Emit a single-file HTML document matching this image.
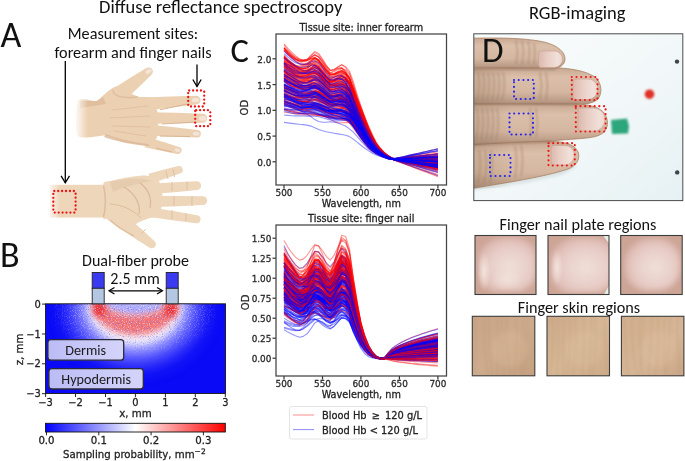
<!DOCTYPE html>
<html><head><meta charset="utf-8"><style>
html,body{margin:0;padding:0;background:#fff;width:685px;height:461px;overflow:hidden}
svg{display:block}
</style></head><body>
<svg width="685" height="461" viewBox="0 0 685 461">
<text x="99" y="12.6" font-size="18.5" text-anchor="start" fill="#111" style="font-family:Carlito,'Liberation Sans',sans-serif"  textLength="243.36" lengthAdjust="spacingAndGlyphs">Diffuse reflectance spectroscopy</text>
<text x="529" y="18.6" font-size="18.5" text-anchor="start" fill="#111" style="font-family:Carlito,'Liberation Sans',sans-serif"  textLength="96.55" lengthAdjust="spacingAndGlyphs">RGB-imaging</text>
<text x="0.5" y="46.8" font-size="36" text-anchor="start" fill="#111" style="font-family:Carlito,'Liberation Sans',sans-serif" >A</text>
<text x="0" y="266.7" font-size="36" text-anchor="start" fill="#111" style="font-family:Carlito,'Liberation Sans',sans-serif" >B</text>
<text x="230.5" y="62.3" font-size="34.5" text-anchor="start" fill="#111" style="font-family:Carlito,'Liberation Sans',sans-serif" >C</text>
<text x="133" y="38.5" font-size="16.2" text-anchor="middle" fill="#111" style="font-family:Carlito,'Liberation Sans',sans-serif"  textLength="130.41" lengthAdjust="spacingAndGlyphs">Measurement sites:</text>
<text x="133" y="57.6" font-size="16.2" text-anchor="middle" fill="#111" style="font-family:Carlito,'Liberation Sans',sans-serif"  textLength="156.97" lengthAdjust="spacingAndGlyphs">forearm and finger nails</text>
<text x="135.5" y="266.3" font-size="16" text-anchor="middle" fill="#111" style="font-family:Carlito,'Liberation Sans',sans-serif"  textLength="106.91" lengthAdjust="spacingAndGlyphs">Dual-fiber probe</text>
<text x="135" y="283.8" font-size="16" text-anchor="middle" fill="#111" style="font-family:Carlito,'Liberation Sans',sans-serif"  textLength="49.44" lengthAdjust="spacingAndGlyphs">2.5 mm</text>
<text x="578" y="229.7" font-size="16.2" text-anchor="middle" fill="#111" style="font-family:Carlito,'Liberation Sans',sans-serif"  textLength="156.83" lengthAdjust="spacingAndGlyphs">Finger nail plate regions</text>
<text x="579" y="313.1" font-size="16.2" text-anchor="middle" fill="#111" style="font-family:Carlito,'Liberation Sans',sans-serif"  textLength="122.27" lengthAdjust="spacingAndGlyphs">Finger skin regions</text>
<defs>
<linearGradient id="fadeL" x1="0" y1="0" x2="1" y2="0"><stop offset="0" stop-color="#fff" stop-opacity="1"/><stop offset="1" stop-color="#fff" stop-opacity="0"/></linearGradient>
<filter id="hb" x="-10%" y="-10%" width="120%" height="120%"><feGaussianBlur stdDeviation="0.6"/></filter>
</defs>
<path d="M78.0,101.0 C80.1,96.9 93.2,101.5 96.0,101.0 C98.8,100.5 100.5,97.7 102.0,96.5 C103.5,95.3 107.4,91.7 109.0,90.5 C110.6,89.3 114.2,86.6 116.0,86.5 C117.8,86.4 121.9,89.0 124.0,90.0 C126.1,91.0 132.1,94.2 134.0,95.0 C135.9,95.8 137.9,96.7 140.0,97.0 C142.1,97.3 150.0,96.5 152.0,98.0 C154.0,99.5 156.3,107.0 157.0,110.0 C157.7,113.0 158.0,120.8 158.0,124.0 C158.0,127.2 157.9,134.4 157.0,137.0 C156.1,139.6 152.3,145.2 150.0,146.0 C147.7,146.8 140.5,144.6 137.0,144.0 C133.5,143.4 123.6,141.5 120.0,140.5 C116.4,139.5 110.9,136.0 106.0,135.5 C101.1,135.0 81.3,140.0 78.0,136.0 C74.7,132.0 75.9,105.1 78.0,101.0 Z" fill="#ecd0b2"/>
<path d="M116.2,86.8 L125.8,99.2 Q138.7,87.4 151.2,74.9 A4.20,4.20 0 0 0 146.0,68.3 Q130.9,77.2 116.2,86.8 Z" fill="#ecd0b2" />
<path d="M144.5,97.5 L145.5,110.5 Q171.0,107.9 196.5,104.6 A4.40,4.40 0 0 0 195.9,95.8 Q170.2,96.3 144.5,97.5 Z" fill="#ecd0b2" />
<path d="M150.0,112.2 L150.0,123.8 Q176.3,123.7 202.6,122.8 A4.50,4.50 0 0 0 202.6,113.8 Q176.3,112.6 150.0,112.2 Z" fill="#ecd0b2" />
<path d="M150.4,124.7 L149.6,135.7 Q173.1,137.0 196.7,137.5 A3.80,3.80 0 0 0 197.3,129.9 Q173.9,126.9 150.4,124.7 Z" fill="#ecd0b2" />
<path d="M147.3,137.3 L144.7,147.3 Q160.8,151.0 177.1,153.9 A3.60,3.60 0 0 0 178.9,146.9 Q163.2,141.7 147.3,137.3 Z" fill="#ecd0b2" />
<g filter="url(#hb)">
<path d="M80,101 L97,101 L103,97 L106,104 L80,108 Z" fill="#ddb999" opacity="0.8"/>
<path d="M106,134 C118,139 132,142 148,144 L150,146 C132,145 115,141 104,137 Z" fill="#dbb796" opacity="0.8"/>
<path d="M113,90 C113,96 122,99 138,97" fill="none" stroke="#ddba98" stroke-width="1.6" opacity="0.8"/>
<g stroke="#dbbb9b" stroke-width="0.8" fill="none" opacity="0.9"><path d="M112,110 L148,106"/><path d="M110,118 L150,116"/><path d="M112,126 L150,127"/><path d="M114,131 L146,136"/></g>
<g stroke="#d8b594" stroke-width="1" fill="none"><path d="M160,109.8 L187,104"/><path d="M162,124 L195,122"/><path d="M160,136 L190,136.5"/><path d="M156,148 L172,152"/></g>
</g>
<ellipse cx="148.6" cy="71.4" rx="3.9" ry="2.6" transform="rotate(-36 148.6 71.4)" fill="#f4e4d6" stroke="#e2c6aa" stroke-width="0.5"/>
<ellipse cx="195.6" cy="100.1" rx="4.2" ry="2.7" transform="rotate(-4 195.6 100.1)" fill="#f4e4d6" stroke="#e2c6aa" stroke-width="0.5"/>
<ellipse cx="202.6" cy="118.4" rx="4.2" ry="2.8" transform="rotate(0 202.6 118.4)" fill="#f4e4d6" stroke="#e2c6aa" stroke-width="0.5"/>
<ellipse cx="196.2" cy="133.7" rx="3.9" ry="2.4" transform="rotate(4 196.2 133.7)" fill="#f4e4d6" stroke="#e2c6aa" stroke-width="0.5"/>
<ellipse cx="177.4" cy="150.2" rx="3.4" ry="2.2" transform="rotate(15 177.4 150.2)" fill="#f4e4d6" stroke="#e2c6aa" stroke-width="0.5"/>
<rect x="74" y="98" width="14" height="42" fill="url(#fadeL)"/>
<rect x="50" y="184.8" width="56" height="32.8" fill="#eed6bb"/>
<path d="M103.0,184.8 C103.8,180.5 107.2,181.9 110.0,181.0 C112.8,180.1 123.0,178.1 127.0,177.4 C131.0,176.7 140.5,175.3 144.0,175.4 C147.5,175.5 154.9,176.3 157.0,178.0 C159.1,179.7 161.4,186.8 162.0,190.0 C162.6,193.2 162.5,202.0 162.0,205.0 C161.5,208.0 159.4,214.5 158.0,216.0 C156.6,217.5 151.9,217.4 150.0,218.0 C148.1,218.6 143.4,220.3 141.8,221.0 C140.2,221.7 137.6,222.7 136.0,224.0 C134.4,225.3 129.9,231.4 128.0,232.0 C126.1,232.6 121.9,230.1 120.0,229.0 C118.1,227.9 113.6,224.2 112.0,223.0 C110.4,221.8 107.0,219.1 106.0,218.5 C105.0,217.9 103.6,221.5 103.3,217.6 C103.0,213.7 102.2,189.1 103.0,184.8 Z" fill="#eed6bb"/>
<path d="M148.6,173.7 L151.4,183.3 Q166.1,178.6 180.6,173.2 A3.80,3.80 0 0 0 178.4,166.0 Q163.4,169.5 148.6,173.7 Z" fill="#eed6bb" />
<path d="M154.6,183.4 L155.4,193.8 Q176.3,192.2 197.1,189.9 A4.30,4.30 0 0 0 196.5,181.3 Q175.5,182.0 154.6,183.4 Z" fill="#eed6bb" />
<path d="M154.9,196.1 L155.1,207.1 Q179.0,206.4 202.9,205.0 A4.40,4.40 0 0 0 202.7,196.2 Q178.8,195.8 154.9,196.1 Z" fill="#eed6bb" />
<path d="M152.7,207.8 L151.3,217.2 Q173.5,220.6 195.9,223.2 A4.00,4.00 0 0 0 197.1,215.2 Q175.0,211.1 152.7,207.8 Z" fill="#eed6bb" />
<path d="M131.9,220.8 L124.1,231.2 Q136.4,239.6 149.3,247.5 A4.10,4.10 0 0 0 154.3,240.9 Q143.4,230.6 131.9,220.8 Z" fill="#eed6bb" />
<g filter="url(#hb)">
<path d="M103.5,186 C106,195 106,208 103.5,217" fill="none" stroke="#dcbc9c" stroke-width="1.4"/>
<path d="M110,182 C126,178 142,177 152,181 C142,183 126,186 113,192 Z" fill="#e6cbae" opacity="0.9"/>
<path d="M124,187 C134,193 141,203 139,214" fill="none" stroke="#d9b898" stroke-width="1.1"/>
<path d="M140,183 C148,189 152,198 150,208" fill="none" stroke="#d9b898" stroke-width="1.1"/>
<path d="M110,204 C122,205 132,209 141,218" fill="none" stroke="#dcbc9c" stroke-width="1"/>
<path d="M110,220 C118,227 126,232 134,236" fill="none" stroke="#e0c1a2" stroke-width="1.4"/>
<g stroke="#dcbe9f" stroke-width="0.9" fill="none"><path d="M166,171 l2,8"/><path d="M173,169 l1.5,8"/><path d="M172,182 l0,9"/><path d="M187,181.5 l0,9"/><path d="M174,196 l0,10"/><path d="M192,196 l0,10"/><path d="M172,210 l0,9"/><path d="M186,213 l0,8"/><path d="M141,234 l5,-5"/></g>
</g>
<rect x="46" y="182" width="14" height="38" fill="url(#fadeL)"/>
<line x1="197" y1="64.5" x2="197" y2="86.5" stroke="#000" stroke-width="1.3"/>
<path d="M192.8,79.5 L197,86.5 L201.2,79.5" fill="none" stroke="#000" stroke-width="1.3"/>
<line x1="65.3" y1="61" x2="65.3" y2="182.8" stroke="#000" stroke-width="1.3"/>
<path d="M61.099999999999994,175.8 L65.3,182.8 L69.5,175.8" fill="none" stroke="#000" stroke-width="1.3"/>
<rect x="188.2" y="90.5" width="16.0" height="16.0" rx="1" fill="none" stroke="#ee1111" stroke-width="2.3" stroke-linecap="round" stroke-dasharray="0.01 3.9"/>
<rect x="195.2" y="110.2" width="15.100000000000023" height="16.0" rx="1" fill="none" stroke="#ee1111" stroke-width="2.3" stroke-linecap="round" stroke-dasharray="0.01 3.9"/>
<rect x="53.3" y="191" width="22.299999999999997" height="21.599999999999994" rx="1" fill="none" stroke="#ee1111" stroke-width="2.3" stroke-linecap="round" stroke-dasharray="0.01 3.9"/>
<defs>
<filter id="hb3" x="-30%" y="-30%" width="160%" height="160%"><feGaussianBlur stdDeviation="3"/></filter>
<filter id="hb6" x="-40%" y="-40%" width="180%" height="180%"><feGaussianBlur stdDeviation="6"/></filter>
<filter id="hb10" x="-50%" y="-50%" width="200%" height="200%"><feGaussianBlur stdDeviation="10"/></filter>
<filter id="speck" x="0" y="0" width="100%" height="100%"><feTurbulence type="fractalNoise" baseFrequency="0.85" numOctaves="1" seed="3" result="n"/><feColorMatrix in="n" type="matrix" values="0 0 0 0 1  0 0 0 0 1  0 0 0 0 1  0 0 0 6 -3.2"/></filter>
<filter id="speckb" x="0" y="0" width="100%" height="100%"><feTurbulence type="fractalNoise" baseFrequency="0.85" numOctaves="1" seed="9" result="n"/><feColorMatrix in="n" type="matrix" values="0 0 0 0 0.1  0 0 0 0 0.1  0 0 0 0 1  0 0 0 6 -3.3"/></filter>
<radialGradient id="spm" cx="0.5" cy="0.15" r="0.55"><stop offset="0" stop-color="#fff" stop-opacity="1"/><stop offset="0.6" stop-color="#fff" stop-opacity="0.75"/><stop offset="1" stop-color="#fff" stop-opacity="0"/></radialGradient>
<mask id="spmask"><rect x="55" y="295" width="160" height="90" fill="url(#spm)"/></mask>
<clipPath id="hclip"><rect x="45.5" y="303.8" width="180" height="89.7"/></clipPath>
<linearGradient id="bwr" x1="0" y1="0" x2="1" y2="0"><stop offset="0" stop-color="#0000ff"/><stop offset="0.5" stop-color="#ffffff"/><stop offset="1" stop-color="#ff0000"/></linearGradient>
<linearGradient id="lay" x1="0" y1="0" x2="1" y2="0"><stop offset="0" stop-color="#bcbcf6"/><stop offset="1" stop-color="#d4d4fa"/></linearGradient>
</defs>
<g clip-path="url(#hclip)">
<rect x="45.5" y="303.8" width="180" height="89.7" fill="#0a0af6"/>
<ellipse cx="135" cy="310" rx="68" ry="56" fill="#5050ff" filter="url(#hb10)" opacity="0.9"/>
<ellipse cx="135" cy="304" rx="56" ry="50" fill="#a8a8ff" filter="url(#hb10)" opacity="0.9"/>
<ellipse cx="135" cy="304" rx="50" ry="44" fill="#c8c8ff" filter="url(#hb6)" opacity="0.8"/>
<path d="M88,304 A47,40 0 0 0 182,304 Z" fill="#f4eef8" filter="url(#hb3)"/>
<path d="M104,303 A31,12 0 0 0 166,303 Z" fill="#a8a8ff" filter="url(#hb3)"/>
<path d="M92,303 A43,32 0 0 0 178,303 L165,303 A30,12 0 0 1 105,303 Z" fill="#f47272" filter="url(#hb3)"/>
<ellipse cx="99" cy="309" rx="6" ry="7.5" fill="#f01a1a" filter="url(#hb3)" opacity="0.9"/>
<ellipse cx="171.5" cy="309" rx="6" ry="7.5" fill="#f01a1a" filter="url(#hb3)" opacity="0.9"/>
<g mask="url(#spmask)"><rect x="55" y="300" width="160" height="85" filter="url(#speck)" opacity="0.55"/><rect x="55" y="300" width="160" height="85" filter="url(#speckb)" opacity="0.5"/></g>
</g>
<rect x="45.5" y="303.8" width="180" height="89.7" fill="none" stroke="#111" stroke-width="0.9"/>
<rect x="47.9" y="339.6" width="75.8" height="20.6" rx="3" fill="url(#lay)" stroke="#2a2a36" stroke-width="1.3"/>
<text x="85.7" y="355.3" font-size="14.2" text-anchor="middle" fill="#1a1a1a" style="font-family:Carlito,'Liberation Sans',sans-serif"  textLength="40.88" lengthAdjust="spacingAndGlyphs">Dermis</text>
<rect x="48.9" y="368.6" width="94.4" height="20.4" rx="3" fill="url(#lay)" stroke="#2a2a36" stroke-width="1.3"/>
<text x="96.2" y="384" font-size="14.2" text-anchor="middle" fill="#1a1a1a" style="font-family:Carlito,'Liberation Sans',sans-serif"  textLength="69.8" lengthAdjust="spacingAndGlyphs">Hypodermis</text>
<rect x="92.2" y="272.5" width="12" height="15.8" fill="#3a3af0" stroke="#222" stroke-width="0.9"/>
<rect x="92.2" y="288.3" width="12" height="15.5" fill="#b4c6e2" stroke="#222" stroke-width="0.9"/>
<rect x="166.2" y="272.5" width="12" height="15.8" fill="#3a3af0" stroke="#222" stroke-width="0.9"/>
<rect x="166.2" y="288.3" width="12" height="15.5" fill="#b4c6e2" stroke="#222" stroke-width="0.9"/>
<line x1="109.5" y1="290.8" x2="162" y2="290.8" stroke="#000" stroke-width="1.2"/>
<path d="M114.5,287.5 L109,290.8 L114.5,294.1 M157,287.5 L162.5,290.8 L157,294.1" fill="none" stroke="#000" stroke-width="1.2"/>
<line x1="42" y1="304.1" x2="45.5" y2="304.1" stroke="#111" stroke-width="0.9"/>
<text x="40.8" y="307.70000000000005" font-size="9.9" text-anchor="end" fill="#222" style="font-family:'DejaVu Sans','Liberation Sans',sans-serif"  stroke="#222" stroke-width="0.28">0</text>
<line x1="42" y1="334.0" x2="45.5" y2="334.0" stroke="#111" stroke-width="0.9"/>
<text x="40.8" y="337.55000000000007" font-size="9.9" text-anchor="end" fill="#222" style="font-family:'DejaVu Sans','Liberation Sans',sans-serif"  stroke="#222" stroke-width="0.28">&#8722;1</text>
<line x1="42" y1="363.8" x2="45.5" y2="363.8" stroke="#111" stroke-width="0.9"/>
<text x="40.8" y="367.40000000000003" font-size="9.9" text-anchor="end" fill="#222" style="font-family:'DejaVu Sans','Liberation Sans',sans-serif"  stroke="#222" stroke-width="0.28">&#8722;2</text>
<line x1="42" y1="393.7" x2="45.5" y2="393.7" stroke="#111" stroke-width="0.9"/>
<text x="40.8" y="397.25000000000006" font-size="9.9" text-anchor="end" fill="#222" style="font-family:'DejaVu Sans','Liberation Sans',sans-serif"  stroke="#222" stroke-width="0.28">&#8722;3</text>
<line x1="45.6" y1="393.5" x2="45.6" y2="397" stroke="#111" stroke-width="0.9"/>
<text x="45.6" y="405.5" font-size="9.9" text-anchor="middle" fill="#222" style="font-family:'DejaVu Sans','Liberation Sans',sans-serif"  stroke="#222" stroke-width="0.28">&#8722;3</text>
<line x1="75.5" y1="393.5" x2="75.5" y2="397" stroke="#111" stroke-width="0.9"/>
<text x="75.55" y="405.5" font-size="9.9" text-anchor="middle" fill="#222" style="font-family:'DejaVu Sans','Liberation Sans',sans-serif"  stroke="#222" stroke-width="0.28">&#8722;2</text>
<line x1="105.5" y1="393.5" x2="105.5" y2="397" stroke="#111" stroke-width="0.9"/>
<text x="105.5" y="405.5" font-size="9.9" text-anchor="middle" fill="#222" style="font-family:'DejaVu Sans','Liberation Sans',sans-serif"  stroke="#222" stroke-width="0.28">&#8722;1</text>
<line x1="135.4" y1="393.5" x2="135.4" y2="397" stroke="#111" stroke-width="0.9"/>
<text x="135.45" y="405.5" font-size="9.9" text-anchor="middle" fill="#222" style="font-family:'DejaVu Sans','Liberation Sans',sans-serif"  stroke="#222" stroke-width="0.28">0</text>
<line x1="165.4" y1="393.5" x2="165.4" y2="397" stroke="#111" stroke-width="0.9"/>
<text x="165.4" y="405.5" font-size="9.9" text-anchor="middle" fill="#222" style="font-family:'DejaVu Sans','Liberation Sans',sans-serif"  stroke="#222" stroke-width="0.28">1</text>
<line x1="195.3" y1="393.5" x2="195.3" y2="397" stroke="#111" stroke-width="0.9"/>
<text x="195.35" y="405.5" font-size="9.9" text-anchor="middle" fill="#222" style="font-family:'DejaVu Sans','Liberation Sans',sans-serif"  stroke="#222" stroke-width="0.28">2</text>
<line x1="225.3" y1="393.5" x2="225.3" y2="397" stroke="#111" stroke-width="0.9"/>
<text x="225.29999999999998" y="405.5" font-size="9.9" text-anchor="middle" fill="#222" style="font-family:'DejaVu Sans','Liberation Sans',sans-serif"  stroke="#222" stroke-width="0.28">3</text>
<text x="135.5" y="416.6" font-size="10.2" text-anchor="middle" fill="#222" style="font-family:'DejaVu Sans','Liberation Sans',sans-serif"  stroke="#222" stroke-width="0.28">x, mm</text>
<text x="23.2" y="349.5" font-size="10.2" text-anchor="middle" fill="#222" style="font-family:'DejaVu Sans','Liberation Sans',sans-serif" transform="rotate(-90 23.2 349.5)" stroke="#222" stroke-width="0.28">z, mm</text>
<rect x="45.5" y="423.3" width="179.8" height="8.7" fill="url(#bwr)" stroke="#111" stroke-width="0.9"/>
<line x1="46.5" y1="432" x2="46.5" y2="435.3" stroke="#111" stroke-width="0.9"/>
<text x="46.5" y="443.8" font-size="10.2" text-anchor="middle" fill="#222" style="font-family:'DejaVu Sans','Liberation Sans',sans-serif"  stroke="#222" stroke-width="0.28">0.0</text>
<line x1="98.8" y1="432" x2="98.8" y2="435.3" stroke="#111" stroke-width="0.9"/>
<text x="98.8" y="443.8" font-size="10.2" text-anchor="middle" fill="#222" style="font-family:'DejaVu Sans','Liberation Sans',sans-serif"  stroke="#222" stroke-width="0.28">0.1</text>
<line x1="151.1" y1="432" x2="151.1" y2="435.3" stroke="#111" stroke-width="0.9"/>
<text x="151.1" y="443.8" font-size="10.2" text-anchor="middle" fill="#222" style="font-family:'DejaVu Sans','Liberation Sans',sans-serif"  stroke="#222" stroke-width="0.28">0.2</text>
<line x1="203.4" y1="432" x2="203.4" y2="435.3" stroke="#111" stroke-width="0.9"/>
<text x="203.39999999999998" y="443.8" font-size="10.2" text-anchor="middle" fill="#222" style="font-family:'DejaVu Sans','Liberation Sans',sans-serif"  stroke="#222" stroke-width="0.28">0.3</text>
<text x="63" y="457.5" font-size="10.2" text-anchor="start" fill="#222" style="font-family:'DejaVu Sans','Liberation Sans',sans-serif"  stroke="#222" stroke-width="0.28">Sampling probability, mm<tspan dy="-4" font-size="7.5">&#8722;2</tspan></text>
<defs><clipPath id="c1"><rect x="276" y="34" width="170.5" height="151"/></clipPath><clipPath id="c2"><rect x="276" y="225" width="170.5" height="151"/></clipPath></defs>
<g fill="none" stroke-width="1.1" stroke-opacity="0.42" stroke-linejoin="round" clip-path="url(#c1)"><polyline points="284.0,81.1 287.8,84.2 291.7,86.6 295.5,88.3 299.4,89.3 303.2,89.7 307.1,89.4 310.9,88.3 314.8,87.6 318.6,89.5 322.5,92.7 326.3,96.2 330.2,99.3 334.0,99.6 337.9,98.9 341.7,98.4 345.6,100.0 349.4,103.1 353.3,110.0 357.1,117.8 360.9,125.1 364.8,132.1 368.6,138.7 372.5,144.5 376.3,149.0 380.2,152.3 384.0,155.0 387.9,157.2 391.7,159.0 395.6,159.6 399.4,159.9 403.3,160.3 407.1,160.6 411.0,161.0 414.8,161.4 418.7,161.7 422.5,162.1 426.4,162.4 430.2,162.8 434.1,163.1 437.9,163.5" stroke="#ff0000"/><polyline points="284.0,71.9 287.8,75.0 291.7,77.6 295.5,79.6 299.4,80.9 303.2,81.1 307.1,80.9 310.9,80.4 314.8,80.6 318.6,82.9 322.5,86.2 326.3,89.4 330.2,91.7 334.0,91.5 337.9,91.0 341.7,91.8 345.6,95.2 349.4,101.4 353.3,110.3 357.1,119.1 360.9,126.7 364.8,133.8 368.6,140.4 372.5,145.8 376.3,149.9 380.2,153.1 384.0,155.8 387.9,158.0 391.7,159.2 395.6,159.0 399.4,158.7 403.3,158.4 407.1,158.2 411.0,157.9 414.8,157.6 418.7,157.4 422.5,157.1 426.4,156.8 430.2,156.6 434.1,156.3 437.9,156.0" stroke="#ff0000"/><polyline points="284.0,70.6 287.8,72.8 291.7,74.9 295.5,76.7 299.4,78.1 303.2,78.9 307.1,78.8 310.9,77.8 314.8,77.3 318.6,79.5 322.5,83.2 326.3,87.0 330.2,90.6 334.0,91.3 337.9,90.8 341.7,90.0 345.6,91.3 349.4,94.2 353.3,101.2 357.1,110.0 360.9,118.4 364.8,126.7 368.6,134.5 372.5,141.4 376.3,146.8 380.2,150.8 384.0,154.0 387.9,156.7 391.7,158.8 395.6,159.1 399.4,159.0 403.3,158.9 407.1,158.8 411.0,158.7 414.8,158.7 418.7,158.6 422.5,158.5 426.4,158.4 430.2,158.3 434.1,158.2 437.9,158.1" stroke="#ff0000"/><polyline points="284.0,71.3 287.8,74.1 291.7,76.5 295.5,78.4 299.4,79.8 303.2,80.1 307.1,79.5 310.9,78.3 314.8,78.0 318.6,80.4 322.5,83.9 326.3,87.1 330.2,89.6 334.0,88.9 337.9,87.8 341.7,87.3 345.6,89.6 349.4,94.3 353.3,103.6 357.1,113.2 360.9,122.0 364.8,130.1 368.6,137.6 372.5,143.9 376.3,148.5 380.2,152.0 384.0,154.9 387.9,157.5 391.7,159.2 395.6,160.2 399.4,161.2 403.3,162.2 407.1,163.2 411.0,164.1 414.8,165.1 418.7,166.1 422.5,167.1 426.4,168.1 430.2,169.1 434.1,170.1 437.9,171.0" stroke="#ff0000"/><polyline points="284.0,50.3 287.8,54.3 291.7,57.6 295.5,60.8 299.4,63.7 303.2,64.9 307.1,64.4 310.9,61.5 314.8,58.6 318.6,60.3 322.5,64.7 326.3,69.9 330.2,74.2 334.0,73.6 337.9,71.9 341.7,70.5 345.6,72.9 349.4,78.3 353.3,90.1 357.1,102.5 360.9,113.5 364.8,123.7 368.6,132.9 372.5,140.7 376.3,146.3 380.2,150.7 384.0,154.1 387.9,157.1 391.7,159.2 395.6,159.6 399.4,160.0 403.3,160.4 407.1,160.8 411.0,161.2 414.8,161.6 418.7,162.0 422.5,162.4 426.4,162.8 430.2,163.2 434.1,163.6 437.9,164.0" stroke="#ff0000"/><polyline points="284.0,60.1 287.8,63.4 291.7,66.2 295.5,68.6 299.4,70.4 303.2,71.5 307.1,71.5 310.9,69.7 314.8,68.0 318.6,69.6 322.5,73.3 326.3,77.3 330.2,80.8 334.0,81.2 337.9,80.2 341.7,79.3 345.6,80.7 349.4,84.2 353.3,91.4 357.1,101.2 360.9,110.7 364.8,120.4 368.6,129.5 372.5,137.7 376.3,144.5 380.2,149.4 384.0,153.1 387.9,156.0 391.7,158.4 395.6,159.8 399.4,160.4 403.3,161.0 407.1,161.5 411.0,162.1 414.8,162.7 418.7,163.3 422.5,163.8 426.4,164.4 430.2,165.0 434.1,165.6 437.9,166.1" stroke="#ff0000"/><polyline points="284.0,87.3 287.8,89.2 291.7,91.0 295.5,92.0 299.4,92.4 303.2,92.1 307.1,91.7 310.9,91.5 314.8,92.0 318.6,94.0 322.5,96.4 326.3,98.6 330.2,100.5 334.0,100.7 337.9,100.6 341.7,101.0 345.6,103.1 349.4,106.5 353.3,113.3 357.1,120.7 360.9,128.0 364.8,134.8 368.6,141.1 372.5,146.5 376.3,150.4 380.2,153.4 384.0,155.7 387.9,157.7 391.7,159.2 395.6,160.0 399.4,160.9 403.3,161.7 407.1,162.5 411.0,163.3 414.8,164.2 418.7,165.0 422.5,165.8 426.4,166.6 430.2,167.4 434.1,168.3 437.9,169.1" stroke="#ff0000"/><polyline points="284.0,60.5 287.8,64.1 291.7,67.0 295.5,69.5 299.4,71.6 303.2,72.9 307.1,73.5 310.9,72.7 314.8,72.2 318.6,74.0 322.5,77.4 326.3,81.1 330.2,84.5 334.0,85.6 337.9,85.8 341.7,86.0 345.6,88.0 349.4,91.6 353.3,98.3 357.1,106.9 360.9,115.4 364.8,123.9 368.6,132.0 372.5,139.3 376.3,145.3 380.2,149.8 384.0,153.3 387.9,156.3 391.7,158.7 395.6,159.5 399.4,159.7 403.3,159.9 407.1,160.1 411.0,160.4 414.8,160.6 418.7,160.8 422.5,161.1 426.4,161.3 430.2,161.5 434.1,161.8 437.9,162.0" stroke="#ff0000"/><polyline points="284.0,48.0 287.8,52.6 291.7,56.5 295.5,59.2 299.4,60.7 303.2,61.1 307.1,60.6 310.9,58.5 314.8,57.0 318.6,60.5 322.5,66.3 326.3,71.7 330.2,76.1 334.0,75.2 337.9,73.2 341.7,71.8 345.6,74.5 349.4,79.5 353.3,89.6 357.1,100.9 360.9,110.6 364.8,120.1 368.6,129.2 372.5,137.4 376.3,144.1 380.2,149.0 384.0,152.9 387.9,156.1 391.7,158.7 395.6,159.5 399.4,159.8 403.3,160.0 407.1,160.3 411.0,160.6 414.8,160.8 418.7,161.1 422.5,161.4 426.4,161.6 430.2,161.9 434.1,162.1 437.9,162.4" stroke="#ff0000"/><polyline points="284.0,49.2 287.8,53.2 291.7,56.4 295.5,58.8 299.4,60.2 303.2,60.4 307.1,59.3 310.9,55.8 314.8,52.6 318.6,54.9 322.5,60.2 326.3,65.8 330.2,70.6 334.0,69.8 337.9,67.2 341.7,64.8 345.6,66.5 349.4,71.0 353.3,81.4 357.1,94.2 360.9,105.7 364.8,117.0 368.6,127.3 372.5,136.4 376.3,143.6 380.2,148.7 384.0,152.7 387.9,155.9 391.7,158.5 395.6,159.8 399.4,160.3 403.3,160.8 407.1,161.4 411.0,161.9 414.8,162.4 418.7,162.9 422.5,163.5 426.4,164.0 430.2,164.5 434.1,165.1 437.9,165.6" stroke="#ff0000"/><polyline points="284.0,66.7 287.8,70.1 291.7,72.8 295.5,75.0 299.4,76.6 303.2,77.2 307.1,76.8 310.9,74.5 314.8,72.2 318.6,73.4 322.5,77.0 326.3,81.3 330.2,85.4 334.0,85.9 337.9,85.1 341.7,84.1 345.6,85.7 349.4,89.2 353.3,97.2 357.1,107.0 360.9,116.3 364.8,125.3 368.6,133.5 372.5,140.8 376.3,146.3 380.2,150.5 384.0,153.7 387.9,156.6 391.7,158.8 395.6,159.8 399.4,160.3 403.3,160.9 407.1,161.4 411.0,162.0 414.8,162.5 418.7,163.1 422.5,163.6 426.4,164.2 430.2,164.7 434.1,165.3 437.9,165.9" stroke="#ff0000"/><polyline points="284.0,91.3 287.8,92.7 291.7,94.2 295.5,95.7 299.4,97.3 303.2,98.7 307.1,99.4 310.9,99.8 314.8,100.3 318.6,101.3 322.5,102.7 326.3,104.3 330.2,105.8 334.0,107.2 337.9,107.9 341.7,108.4 345.6,109.2 349.4,110.9 353.3,114.3 357.1,120.0 360.9,126.4 364.8,133.1 368.6,139.2 372.5,144.7 376.3,149.2 380.2,152.4 384.0,154.9 387.9,157.0 391.7,158.7 395.6,158.7 399.4,158.2 403.3,157.7 407.1,157.2 411.0,156.7 414.8,156.2 418.7,155.7 422.5,155.2 426.4,154.7 430.2,154.2 434.1,153.7 437.9,153.2" stroke="#ff0000"/><polyline points="284.0,79.6 287.8,81.8 291.7,83.9 295.5,85.8 299.4,87.3 303.2,87.8 307.1,87.5 310.9,86.5 314.8,85.9 318.6,87.6 322.5,90.4 326.3,93.7 330.2,96.5 334.0,96.8 337.9,96.3 341.7,95.9 345.6,97.7 349.4,101.5 353.3,109.4 357.1,117.9 360.9,125.9 364.8,133.3 368.6,140.0 372.5,145.7 376.3,149.8 380.2,152.9 384.0,155.5 387.9,157.7 391.7,159.2 395.6,159.6 399.4,159.9 403.3,160.3 407.1,160.6 411.0,161.0 414.8,161.3 418.7,161.7 422.5,162.1 426.4,162.4 430.2,162.8 434.1,163.1 437.9,163.5" stroke="#ff0000"/><polyline points="284.0,84.4 287.8,86.6 291.7,88.5 295.5,90.1 299.4,91.4 303.2,92.2 307.1,92.3 310.9,91.4 314.8,90.7 318.6,92.0 322.5,94.5 326.3,97.2 330.2,99.4 334.0,99.8 337.9,99.4 341.7,99.2 345.6,100.8 349.4,103.7 353.3,109.1 357.1,116.4 360.9,123.6 364.8,130.8 368.6,137.6 372.5,143.6 376.3,148.4 380.2,151.9 384.0,154.6 387.9,156.9 391.7,158.7 395.6,160.3 399.4,161.4 403.3,162.5 407.1,163.6 411.0,164.7 414.8,165.8 418.7,166.9 422.5,168.0 426.4,169.1 430.2,170.2 434.1,171.3 437.9,172.4" stroke="#ff0000"/><polyline points="284.0,56.0 287.8,59.7 291.7,62.8 295.5,65.5 299.4,67.6 303.2,68.8 307.1,68.5 310.9,65.2 314.8,61.4 318.6,62.4 322.5,66.8 326.3,72.0 330.2,76.5 334.0,76.6 337.9,74.7 341.7,72.9 345.6,74.3 349.4,78.2 353.3,86.3 357.1,97.3 360.9,107.4 364.8,117.7 368.6,127.4 372.5,136.1 376.3,143.4 380.2,148.5 384.0,152.5 387.9,155.6 391.7,158.2 395.6,159.0 399.4,158.8 403.3,158.6 407.1,158.3 411.0,158.1 414.8,157.9 418.7,157.7 422.5,157.4 426.4,157.2 430.2,157.0 434.1,156.8 437.9,156.5" stroke="#ff0000"/><polyline points="284.0,103.1 287.8,104.7 291.7,106.1 295.5,107.7 299.4,109.5 303.2,110.6 307.1,110.8 310.9,110.1 314.8,109.8 318.6,110.8 322.5,112.6 326.3,114.6 330.2,116.5 334.0,116.8 337.9,116.5 341.7,116.1 345.6,117.0 349.4,118.8 353.3,123.4 357.1,128.9 360.9,134.3 364.8,139.5 368.6,144.4 372.5,148.8 376.3,152.0 380.2,154.4 384.0,156.3 387.9,157.8 391.7,159.1 395.6,159.6 399.4,159.9 403.3,160.2 407.1,160.5 411.0,160.9 414.8,161.2 418.7,161.5 422.5,161.9 426.4,162.2 430.2,162.5 434.1,162.9 437.9,163.2" stroke="#ff0000"/><polyline points="284.0,43.9 287.8,48.4 291.7,52.1 295.5,55.6 299.4,58.7 303.2,60.1 307.1,59.3 310.9,55.3 314.8,51.4 318.6,53.4 322.5,58.9 326.3,65.0 330.2,70.3 334.0,69.4 337.9,66.8 341.7,64.7 345.6,67.6 349.4,73.0 353.3,85.1 357.1,98.0 360.9,109.0 364.8,119.4 368.6,129.2 372.5,137.9 376.3,144.4 380.2,149.3 384.0,153.1 387.9,156.4 391.7,158.9 395.6,159.8 399.4,160.4 403.3,161.0 407.1,161.6 411.0,162.2 414.8,162.8 418.7,163.4 422.5,164.0 426.4,164.6 430.2,165.2 434.1,165.8 437.9,166.4" stroke="#ff0000"/><polyline points="284.0,64.0 287.8,66.5 291.7,68.9 295.5,71.0 299.4,72.5 303.2,72.7 307.1,72.3 310.9,71.5 314.8,71.5 318.6,73.9 322.5,77.2 326.3,80.4 330.2,82.4 334.0,81.7 337.9,80.7 341.7,81.1 345.6,84.2 349.4,91.2 353.3,101.5 357.1,112.2 360.9,121.7 364.8,130.5 368.6,138.3 372.5,144.5 376.3,149.1 380.2,152.6 384.0,155.5 387.9,157.9 391.7,159.2 395.6,160.0 399.4,160.8 403.3,161.6 407.1,162.4 411.0,163.2 414.8,164.0 418.7,164.8 422.5,165.6 426.4,166.4 430.2,167.2 434.1,168.0 437.9,168.8" stroke="#ff0000"/><polyline points="284.0,91.1 287.8,92.4 291.7,93.8 295.5,95.7 299.4,97.9 303.2,99.6 307.1,100.1 310.9,98.6 314.8,96.7 318.6,96.5 322.5,98.2 326.3,100.9 330.2,103.6 334.0,104.9 337.9,104.9 341.7,104.7 345.6,105.6 349.4,107.8 353.3,112.3 357.1,119.0 360.9,125.8 364.8,132.7 368.6,139.1 372.5,144.9 376.3,149.7 380.2,153.0 384.0,155.3 387.9,157.2 391.7,158.7 395.6,159.2 399.4,159.2 403.3,159.2 407.1,159.2 411.0,159.2 414.8,159.2 418.7,159.2 422.5,159.1 426.4,159.1 430.2,159.1 434.1,159.1 437.9,159.1" stroke="#ff0000"/><polyline points="284.0,80.0 287.8,83.3 291.7,85.8 295.5,87.3 299.4,88.3 303.2,88.9 307.1,88.9 310.9,87.5 314.8,86.2 318.6,87.4 322.5,90.4 326.3,93.4 330.2,95.8 334.0,96.0 337.9,95.2 341.7,94.5 345.6,95.4 349.4,98.1 353.3,102.9 357.1,110.7 360.9,118.2 364.8,126.2 368.6,133.8 372.5,140.6 376.3,146.6 380.2,150.7 384.0,153.8 387.9,156.2 391.7,158.3 395.6,159.8 399.4,160.3 403.3,160.8 407.1,161.3 411.0,161.9 414.8,162.4 418.7,162.9 422.5,163.4 426.4,164.0 430.2,164.5 434.1,165.0 437.9,165.5" stroke="#ff0000"/><polyline points="284.0,88.7 287.8,91.4 291.7,93.4 295.5,95.0 299.4,96.3 303.2,97.1 307.1,97.2 310.9,96.9 314.8,97.1 318.6,98.8 322.5,101.1 326.3,103.2 330.2,104.8 334.0,104.9 337.9,104.6 341.7,104.8 345.6,106.5 349.4,109.3 353.3,114.8 357.1,121.4 360.9,128.1 364.8,134.7 368.6,140.7 372.5,146.0 376.3,149.8 380.2,152.8 384.0,155.2 387.9,157.3 391.7,159.0 395.6,159.8 399.4,160.4 403.3,161.0 407.1,161.6 411.0,162.2 414.8,162.8 418.7,163.4 422.5,164.0 426.4,164.6 430.2,165.2 434.1,165.8 437.9,166.4" stroke="#ff0000"/><polyline points="284.0,88.8 287.8,89.7 291.7,90.6 295.5,91.4 299.4,91.7 303.2,91.7 307.1,92.0 310.9,93.8 314.8,96.9 318.6,100.1 322.5,102.5 326.3,103.8 330.2,104.2 334.0,104.4 337.9,104.9 341.7,106.5 345.6,109.1 349.4,114.2 353.3,120.5 357.1,127.4 360.9,134.0 364.8,140.1 368.6,145.4 372.5,149.3 376.3,152.2 380.2,154.5 384.0,156.6 387.9,158.4 391.7,159.2 395.6,159.9 399.4,160.5 403.3,161.2 407.1,161.9 411.0,162.5 414.8,163.2 418.7,163.8 422.5,164.5 426.4,165.1 430.2,165.8 434.1,166.5 437.9,167.1" stroke="#ff0000"/><polyline points="284.0,62.0 287.8,65.1 291.7,67.8 295.5,70.1 299.4,71.7 303.2,72.2 307.1,72.0 310.9,71.0 314.8,70.6 318.6,73.1 322.5,77.0 326.3,81.0 330.2,84.3 334.0,84.4 337.9,83.8 341.7,83.7 345.6,86.4 349.4,91.3 353.3,100.8 357.1,110.9 360.9,120.0 364.8,128.6 368.6,136.5 372.5,143.2 376.3,148.1 380.2,151.9 384.0,154.9 387.9,157.4 391.7,159.2 395.6,159.7 399.4,160.1 403.3,160.6 407.1,161.1 411.0,161.5 414.8,162.0 418.7,162.5 422.5,162.9 426.4,163.4 430.2,163.8 434.1,164.3 437.9,164.8" stroke="#ff0000"/><polyline points="284.0,77.3 287.8,80.0 291.7,82.3 295.5,84.0 299.4,85.2 303.2,85.6 307.1,85.2 310.9,84.2 314.8,83.8 318.6,85.5 322.5,88.3 326.3,91.7 330.2,95.3 334.0,96.6 337.9,96.7 341.7,96.3 345.6,97.7 349.4,100.4 353.3,107.4 357.1,115.6 360.9,123.6 364.8,131.3 368.6,138.3 372.5,144.5 376.3,148.9 380.2,152.4 384.0,155.0 387.9,157.3 391.7,159.2 395.6,159.4 399.4,159.7 403.3,159.9 407.1,160.1 411.0,160.3 414.8,160.5 418.7,160.8 422.5,161.0 426.4,161.2 430.2,161.4 434.1,161.6 437.9,161.9" stroke="#ff0000"/><polyline points="284.0,74.3 287.8,77.3 291.7,79.7 295.5,81.5 299.4,82.1 303.2,81.6 307.1,80.8 310.9,79.6 314.8,79.1 318.6,81.0 322.5,84.2 326.3,87.5 330.2,89.8 334.0,89.5 337.9,88.8 341.7,89.1 345.6,91.8 349.4,98.2 353.3,107.6 357.1,117.5 360.9,126.2 364.8,134.2 368.6,141.2 372.5,146.5 376.3,150.4 380.2,153.4 384.0,156.0 387.9,158.2 391.7,159.2 395.6,160.0 399.4,160.7 403.3,161.5 407.1,162.3 411.0,163.0 414.8,163.8 418.7,164.5 422.5,165.3 426.4,166.0 430.2,166.8 434.1,167.6 437.9,168.3" stroke="#ff0000"/><polyline points="284.0,48.4 287.8,52.8 291.7,56.3 295.5,59.0 299.4,60.9 303.2,61.3 307.1,60.4 310.9,57.4 314.8,54.9 318.6,57.1 322.5,62.0 326.3,67.9 330.2,73.5 334.0,74.0 337.9,72.6 341.7,70.9 345.6,73.1 349.4,77.7 353.3,89.0 357.1,101.2 360.9,112.1 364.8,122.4 368.6,131.6 372.5,139.8 376.3,145.5 380.2,150.0 384.0,153.5 387.9,156.7 391.7,159.2 395.6,159.5 399.4,159.7 403.3,160.0 407.1,160.3 411.0,160.5 414.8,160.8 418.7,161.0 422.5,161.3 426.4,161.5 430.2,161.8 434.1,162.1 437.9,162.3" stroke="#ff0000"/><polyline points="284.0,77.2 287.8,80.5 291.7,83.0 295.5,84.3 299.4,84.0 303.2,82.8 307.1,81.8 310.9,79.9 314.8,78.0 318.6,79.4 322.5,82.9 326.3,86.6 330.2,89.7 334.0,89.2 337.9,88.4 341.7,88.7 345.6,94.2 349.4,102.9 353.3,114.2 357.1,124.5 360.9,132.2 364.8,139.0 368.6,144.5 372.5,148.7 376.3,152.0 380.2,154.8 384.0,157.2 387.9,158.5 391.7,159.2 395.6,159.4 399.4,159.7 403.3,159.9 407.1,160.1 411.0,160.3 414.8,160.5 418.7,160.8 422.5,161.0 426.4,161.2 430.2,161.4 434.1,161.6 437.9,161.8" stroke="#ff0000"/><polyline points="284.0,49.8 287.8,53.9 291.7,57.3 295.5,59.7 299.4,60.8 303.2,60.5 307.1,59.8 310.9,58.5 314.8,58.2 318.6,61.5 322.5,66.4 326.3,71.1 330.2,74.9 334.0,74.5 337.9,73.3 341.7,72.7 345.6,75.5 349.4,81.7 353.3,93.1 357.1,105.3 360.9,115.9 364.8,125.8 368.6,134.5 372.5,141.6 376.3,146.8 380.2,150.9 384.0,154.3 387.9,157.3 391.7,159.2 395.6,159.9 399.4,160.6 403.3,161.3 407.1,161.9 411.0,162.6 414.8,163.3 418.7,164.0 422.5,164.7 426.4,165.3 430.2,166.0 434.1,166.7 437.9,167.4" stroke="#ff0000"/><polyline points="284.0,110.1 287.8,110.9 291.7,111.8 295.5,112.6 299.4,113.4 303.2,113.8 307.1,113.8 310.9,114.0 314.8,114.7 318.6,115.4 322.5,116.1 326.3,117.0 330.2,117.6 334.0,118.2 337.9,118.8 341.7,119.4 345.6,120.3 349.4,122.3 353.3,126.3 357.1,131.4 360.9,137.0 364.8,142.3 368.6,146.9 372.5,150.6 376.3,153.1 380.2,155.1 384.0,156.7 387.9,158.2 391.7,159.2 395.6,159.0 399.4,158.8 403.3,158.6 407.1,158.4 411.0,158.2 414.8,158.0 418.7,157.8 422.5,157.6 426.4,157.4 430.2,157.1 434.1,156.9 437.9,156.7" stroke="#ff0000"/><polyline points="284.0,86.0 287.8,88.6 291.7,90.6 295.5,91.8 299.4,92.4 303.2,92.8 307.1,92.8 310.9,92.0 314.8,91.2 318.6,92.6 322.5,95.3 326.3,98.0 330.2,100.4 334.0,100.9 337.9,100.2 341.7,99.2 345.6,99.4 349.4,101.0 353.3,104.8 357.1,111.5 360.9,118.8 364.8,126.7 368.6,134.0 372.5,140.6 376.3,146.4 380.2,150.6 384.0,153.7 387.9,156.1 391.7,158.0 395.6,159.3 399.4,159.7 403.3,159.9 407.1,160.1 411.0,160.3 414.8,160.5 418.7,160.8 422.5,161.0 426.4,161.2 430.2,161.4 434.1,161.6 437.9,161.8" stroke="#ff0000"/><polyline points="284.0,108.7 287.8,109.3 291.7,110.1 295.5,110.7 299.4,111.3 303.2,111.5 307.1,111.6 310.9,112.1 314.8,113.3 318.6,114.4 322.5,115.2 326.3,116.2 330.2,117.1 334.0,118.0 337.9,118.7 341.7,119.4 345.6,120.3 349.4,122.1 353.3,126.0 357.1,130.8 360.9,136.3 364.8,141.5 368.6,146.2 372.5,150.2 376.3,153.0 380.2,155.2 384.0,156.8 387.9,158.2 391.7,159.2 395.6,159.7 399.4,160.1 403.3,160.6 407.1,161.0 411.0,161.5 414.8,161.9 418.7,162.4 422.5,162.8 426.4,163.3 430.2,163.7 434.1,164.2 437.9,164.6" stroke="#ff0000"/><polyline points="284.0,94.1 287.8,95.2 291.7,96.5 295.5,98.5 299.4,100.6 303.2,101.7 307.1,101.5 310.9,100.3 314.8,99.7 318.6,100.9 322.5,102.9 326.3,105.1 330.2,106.5 334.0,105.9 337.9,104.8 341.7,104.2 345.6,105.6 349.4,109.3 353.3,116.3 357.1,123.9 360.9,130.8 364.8,137.4 368.6,143.3 372.5,148.1 376.3,151.6 380.2,154.3 384.0,156.4 387.9,158.2 391.7,159.2 395.6,159.4 399.4,159.5 403.3,159.6 407.1,159.8 411.0,159.9 414.8,160.0 418.7,160.2 422.5,160.3 426.4,160.4 430.2,160.6 434.1,160.7 437.9,160.8" stroke="#ff0000"/><polyline points="284.0,58.7 287.8,62.0 291.7,65.0 295.5,67.6 299.4,69.0 303.2,69.0 307.1,67.8 310.9,65.5 314.8,64.5 318.6,68.1 322.5,73.4 326.3,78.4 330.2,82.2 334.0,80.5 337.9,77.7 341.7,75.6 345.6,77.7 349.4,83.1 353.3,94.8 357.1,107.0 360.9,117.4 364.8,126.9 368.6,135.5 372.5,142.7 376.3,147.7 380.2,151.6 384.0,154.7 387.9,157.4 391.7,159.2 395.6,159.4 399.4,159.6 403.3,159.8 407.1,160.0 411.0,160.2 414.8,160.4 418.7,160.6 422.5,160.7 426.4,160.9 430.2,161.1 434.1,161.3 437.9,161.5" stroke="#ff0000"/><polyline points="284.0,112.2 287.8,112.7 291.7,113.3 295.5,113.9 299.4,114.5 303.2,114.9 307.1,114.9 310.9,115.1 314.8,115.4 318.6,115.6 322.5,116.0 326.3,117.2 330.2,119.1 334.0,121.4 337.9,122.6 341.7,122.7 345.6,122.4 349.4,122.7 353.3,124.6 357.1,128.9 360.9,134.3 364.8,139.7 368.6,144.5 372.5,148.7 376.3,151.9 380.2,154.2 384.0,156.0 387.9,157.6 391.7,158.9 395.6,159.1 399.4,158.9 403.3,158.8 407.1,158.6 411.0,158.5 414.8,158.3 418.7,158.2 422.5,158.0 426.4,157.9 430.2,157.7 434.1,157.6 437.9,157.4" stroke="#ff0000"/><polyline points="284.0,80.8 287.8,83.8 291.7,86.0 295.5,86.9 299.4,86.5 303.2,85.6 307.1,85.4 310.9,86.4 314.8,88.2 318.6,90.8 322.5,93.5 326.3,95.6 330.2,96.9 334.0,97.1 337.9,97.6 341.7,99.2 345.6,103.1 349.4,109.8 353.3,117.8 357.1,125.9 360.9,133.1 364.8,139.5 368.6,144.9 372.5,148.8 376.3,151.9 380.2,154.5 384.0,156.8 387.9,158.4 391.7,159.2 395.6,159.7 399.4,160.1 403.3,160.6 407.1,161.0 411.0,161.5 414.8,161.9 418.7,162.4 422.5,162.8 426.4,163.2 430.2,163.7 434.1,164.1 437.9,164.6" stroke="#ff0000"/><polyline points="284.0,62.0 287.8,65.4 291.7,68.3 295.5,71.1 299.4,73.6 303.2,74.9 307.1,74.6 310.9,72.1 314.8,69.7 318.6,71.1 322.5,75.0 326.3,79.8 330.2,84.3 334.0,84.6 337.9,83.5 341.7,82.2 345.6,84.2 349.4,88.2 353.3,97.6 357.1,108.0 360.9,117.4 364.8,126.4 368.6,134.6 372.5,141.8 376.3,147.0 380.2,151.1 384.0,154.2 387.9,156.9 391.7,159.1 395.6,159.2 399.4,159.2 403.3,159.2 407.1,159.2 411.0,159.2 414.8,159.2 418.7,159.2 422.5,159.2 426.4,159.2 430.2,159.2 434.1,159.2 437.9,159.2" stroke="#ff0000"/><polyline points="284.0,64.1 287.8,67.5 291.7,70.3 295.5,72.1 299.4,72.4 303.2,71.3 307.1,70.3 310.9,69.4 314.8,69.5 318.6,72.6 322.5,77.0 326.3,80.5 330.2,82.1 334.0,80.3 337.9,78.7 341.7,79.2 345.6,83.6 349.4,92.8 353.3,104.8 357.1,116.4 360.9,125.7 364.8,134.0 368.6,141.2 372.5,146.3 376.3,150.3 380.2,153.4 384.0,156.2 387.9,158.4 391.7,159.2 395.6,159.8 399.4,160.4 403.3,161.0 407.1,161.6 411.0,162.2 414.8,162.8 418.7,163.3 422.5,163.9 426.4,164.5 430.2,165.1 434.1,165.7 437.9,166.3" stroke="#ff0000"/><polyline points="284.0,103.3 287.8,104.8 291.7,106.3 295.5,107.9 299.4,109.3 303.2,109.8 307.1,109.6 310.9,108.6 314.8,107.9 318.6,109.0 322.5,111.1 326.3,113.5 330.2,115.2 334.0,114.9 337.9,114.3 341.7,114.3 345.6,116.2 349.4,120.4 353.3,126.7 357.1,132.7 360.9,137.6 364.8,142.2 368.6,146.6 372.5,150.2 376.3,153.1 380.2,155.3 384.0,157.1 387.9,158.5 391.7,159.2 395.6,159.5 399.4,159.9 403.3,160.2 407.1,160.5 411.0,160.8 414.8,161.1 418.7,161.5 422.5,161.8 426.4,162.1 430.2,162.4 434.1,162.7 437.9,163.0" stroke="#ff0000"/><polyline points="284.0,65.2 287.8,69.1 291.7,72.5 295.5,75.5 299.4,77.6 303.2,78.2 307.1,77.9 310.9,76.4 314.8,75.3 318.6,77.0 322.5,80.6 326.3,84.7 330.2,87.7 334.0,87.5 337.9,86.6 341.7,87.0 345.6,90.3 349.4,97.3 353.3,107.5 357.1,117.7 360.9,126.2 364.8,134.0 368.6,140.9 372.5,146.1 376.3,150.1 380.2,153.1 384.0,155.8 387.9,158.1 391.7,159.2 395.6,159.9 399.4,160.6 403.3,161.3 407.1,162.0 411.0,162.8 414.8,163.5 418.7,164.2 422.5,164.9 426.4,165.6 430.2,166.3 434.1,167.0 437.9,167.7" stroke="#ff0000"/><polyline points="284.0,70.8 287.8,74.0 291.7,76.8 295.5,79.0 299.4,80.5 303.2,81.1 307.1,80.6 310.9,78.4 314.8,76.5 318.6,78.3 322.5,82.2 326.3,86.4 330.2,90.0 334.0,89.7 337.9,88.3 341.7,87.1 345.6,89.1 349.4,92.8 353.3,101.4 357.1,111.1 360.9,119.9 364.8,128.4 368.6,136.0 372.5,142.6 376.3,147.4 380.2,151.1 384.0,154.1 387.9,156.8 391.7,159.0 395.6,159.7 399.4,160.1 403.3,160.6 407.1,161.1 411.0,161.5 414.8,162.0 418.7,162.4 422.5,162.9 426.4,163.4 430.2,163.8 434.1,164.3 437.9,164.7" stroke="#ff0000"/><polyline points="284.0,76.7 287.8,79.6 291.7,82.1 295.5,84.1 299.4,85.6 303.2,86.4 307.1,86.1 310.9,84.0 314.8,82.0 318.6,83.3 322.5,86.7 326.3,90.8 330.2,95.1 334.0,95.9 337.9,94.9 341.7,93.1 345.6,93.4 349.4,95.6 353.3,102.0 357.1,110.8 360.9,119.0 364.8,127.3 368.6,135.0 372.5,141.8 376.3,147.2 380.2,151.1 384.0,154.2 387.9,156.6 391.7,158.6 395.6,159.7 399.4,160.2 403.3,160.6 407.1,161.1 411.0,161.6 414.8,162.1 418.7,162.5 422.5,163.0 426.4,163.5 430.2,164.0 434.1,164.4 437.9,164.9" stroke="#ff0000"/><polyline points="284.0,62.5 287.8,65.9 291.7,68.7 295.5,71.0 299.4,72.5 303.2,73.2 307.1,72.8 310.9,70.3 314.8,67.9 318.6,69.3 322.5,73.3 326.3,78.0 330.2,82.4 334.0,83.0 337.9,81.7 341.7,80.2 345.6,81.4 349.4,84.8 353.3,92.5 357.1,102.7 360.9,112.4 364.8,122.1 368.6,130.9 372.5,138.8 376.3,145.2 380.2,149.8 384.0,153.3 387.9,156.1 391.7,158.5 395.6,160.7 399.4,162.1 403.3,163.6 407.1,165.0 411.0,166.5 414.8,168.0 418.7,169.4 422.5,170.9 426.4,172.3 430.2,173.8 434.1,175.2 437.9,176.7" stroke="#ff0000"/><polyline points="284.0,75.6 287.8,79.1 291.7,82.1 295.5,84.5 299.4,86.2 303.2,86.5 307.1,85.7 310.9,83.0 314.8,80.1 318.6,80.7 322.5,84.0 326.3,88.3 330.2,92.1 334.0,92.1 337.9,90.8 341.7,90.1 345.6,92.5 349.4,97.7 353.3,107.3 357.1,117.0 360.9,125.2 364.8,132.8 368.6,139.7 372.5,145.5 376.3,149.8 380.2,153.1 384.0,155.7 387.9,157.8 391.7,159.2 395.6,159.2 399.4,159.1 403.3,159.1 407.1,159.0 411.0,159.0 414.8,158.9 418.7,158.8 422.5,158.8 426.4,158.7 430.2,158.7 434.1,158.6 437.9,158.6" stroke="#ff0000"/><polyline points="284.0,55.1 287.8,59.4 291.7,62.8 295.5,65.3 299.4,66.9 303.2,67.1 307.1,65.8 310.9,61.8 314.8,57.8 318.6,59.4 322.5,64.4 326.3,70.0 330.2,74.9 334.0,74.0 337.9,71.1 341.7,68.4 345.6,69.8 349.4,74.0 353.3,84.2 357.1,96.7 360.9,107.6 364.8,118.4 368.6,128.4 372.5,137.2 376.3,144.1 380.2,149.1 384.0,152.9 387.9,156.0 391.7,158.5 395.6,158.4 399.4,157.5 403.3,156.7 407.1,155.8 411.0,154.9 414.8,154.1 418.7,153.2 422.5,152.4 426.4,151.5 430.2,150.6 434.1,149.8 437.9,148.9" stroke="#ff0000"/><polyline points="284.0,61.2 287.8,64.4 291.7,67.2 295.5,69.8 299.4,71.2 303.2,70.9 307.1,69.8 310.9,67.4 314.8,65.8 318.6,68.2 322.5,72.8 326.3,77.2 330.2,79.7 334.0,77.6 337.9,75.1 341.7,74.5 345.6,78.2 349.4,87.4 353.3,100.3 357.1,113.0 360.9,122.8 364.8,131.8 368.6,139.6 372.5,145.3 376.3,149.7 380.2,153.1 384.0,156.0 387.9,158.4 391.7,159.2 395.6,159.5 399.4,159.8 403.3,160.1 407.1,160.4 411.0,160.7 414.8,161.0 418.7,161.3 422.5,161.6 426.4,161.8 430.2,162.1 434.1,162.4 437.9,162.7" stroke="#ff0000"/><polyline points="284.0,80.0 287.8,81.7 291.7,83.3 295.5,84.7 299.4,85.8 303.2,86.2 307.1,86.2 310.9,86.1 314.8,87.0 318.6,90.2 322.5,93.6 326.3,96.6 330.2,99.1 334.0,99.2 337.9,98.7 341.7,98.6 345.6,100.6 349.4,103.9 353.3,111.2 357.1,119.0 360.9,126.3 364.8,133.3 368.6,139.7 372.5,145.4 376.3,149.4 380.2,152.6 384.0,155.2 387.9,157.4 391.7,159.2 395.6,160.6 399.4,162.0 403.3,163.4 407.1,164.7 411.0,166.1 414.8,167.5 418.7,168.9 422.5,170.3 426.4,171.6 430.2,173.0 434.1,174.4 437.9,175.8" stroke="#ff0000"/><polyline points="284.0,80.2 287.8,83.4 291.7,85.7 295.5,86.8 299.4,86.5 303.2,85.3 307.1,84.6 310.9,84.5 314.8,85.3 318.6,87.7 322.5,90.8 326.3,93.8 330.2,95.8 334.0,95.9 337.9,95.7 341.7,96.5 345.6,99.4 349.4,105.7 353.3,114.1 357.1,122.6 360.9,129.9 364.8,136.6 368.6,142.7 372.5,147.3 376.3,150.8 380.2,153.6 384.0,156.1 387.9,158.2 391.7,159.2 395.6,159.8 399.4,160.4 403.3,161.0 407.1,161.6 411.0,162.3 414.8,162.9 418.7,163.5 422.5,164.1 426.4,164.7 430.2,165.3 434.1,165.9 437.9,166.5" stroke="#ff0000"/><polyline points="284.0,101.4 287.8,103.2 291.7,104.6 295.5,105.6 299.4,106.3 303.2,106.3 307.1,105.7 310.9,104.6 314.8,103.8 318.6,104.6 322.5,106.3 326.3,108.4 330.2,110.5 334.0,111.0 337.9,111.0 341.7,111.0 345.6,112.4 349.4,114.8 353.3,120.2 357.1,126.2 360.9,132.3 364.8,138.2 368.6,143.5 372.5,148.3 376.3,151.7 380.2,154.3 384.0,156.2 387.9,157.9 391.7,159.2 395.6,159.8 399.4,160.4 403.3,160.9 407.1,161.5 411.0,162.0 414.8,162.6 418.7,163.2 422.5,163.7 426.4,164.3 430.2,164.9 434.1,165.4 437.9,166.0" stroke="#ff0000"/><polyline points="284.0,105.6 287.8,105.8 291.7,106.4 295.5,107.3 299.4,108.1 303.2,109.0 307.1,109.5 310.9,109.8 314.8,110.3 318.6,111.3 322.5,112.7 326.3,114.0 330.2,115.2 334.0,116.0 337.9,116.2 341.7,116.0 345.6,116.0 349.4,116.9 353.3,118.6 357.1,122.7 360.9,127.9 364.8,133.6 368.6,139.2 372.5,144.5 376.3,149.2 380.2,152.6 384.0,155.1 387.9,156.8 391.7,158.3 395.6,159.4 399.4,159.9 403.3,160.3 407.1,160.6 411.0,161.0 414.8,161.4 418.7,161.7 422.5,162.1 426.4,162.4 430.2,162.8 434.1,163.1 437.9,163.5" stroke="#0000ff"/><polyline points="284.0,87.4 287.8,89.2 291.7,91.0 295.5,92.5 299.4,93.7 303.2,94.6 307.1,95.0 310.9,93.8 314.8,92.0 318.6,92.3 322.5,94.3 326.3,96.9 330.2,99.3 334.0,99.9 337.9,99.6 341.7,99.1 345.6,99.9 349.4,101.8 353.3,105.5 357.1,111.2 360.9,117.8 364.8,125.2 368.6,132.6 372.5,139.4 376.3,145.4 380.2,150.0 384.0,153.3 387.9,155.8 391.7,157.7 395.6,158.9 399.4,159.5 403.3,159.6 407.1,159.7 411.0,159.9 414.8,160.0 418.7,160.1 422.5,160.3 426.4,160.4 430.2,160.5 434.1,160.7 437.9,160.8" stroke="#0000ff"/><polyline points="284.0,63.9 287.8,67.5 291.7,70.3 295.5,72.4 299.4,73.6 303.2,73.4 307.1,71.9 310.9,68.2 314.8,64.9 318.6,66.6 322.5,71.1 326.3,76.4 330.2,81.1 334.0,80.6 337.9,78.3 341.7,76.3 345.6,78.3 349.4,82.7 353.3,93.3 357.1,104.9 360.9,115.0 364.8,124.7 368.6,133.4 372.5,141.0 376.3,146.5 380.2,150.7 384.0,153.9 387.9,156.8 391.7,159.0 395.6,160.0 399.4,160.7 403.3,161.5 407.1,162.3 411.0,163.0 414.8,163.8 418.7,164.5 422.5,165.3 426.4,166.1 430.2,166.8 434.1,167.6 437.9,168.3" stroke="#0000ff"/><polyline points="284.0,78.4 287.8,81.4 291.7,83.7 295.5,85.2 299.4,86.1 303.2,86.1 307.1,85.8 310.9,85.4 314.8,86.0 318.6,88.6 322.5,91.9 326.3,94.9 330.2,97.6 334.0,97.8 337.9,97.3 341.7,96.9 345.6,98.4 349.4,101.3 353.3,108.6 357.1,116.9 360.9,124.9 364.8,132.4 368.6,139.2 372.5,145.2 376.3,149.3 380.2,152.5 384.0,155.1 387.9,157.4 391.7,159.2 395.6,158.9 399.4,158.7 403.3,158.4 407.1,158.1 411.0,157.8 414.8,157.5 418.7,157.3 422.5,157.0 426.4,156.7 430.2,156.4 434.1,156.1 437.9,155.9" stroke="#ff0000"/><polyline points="284.0,102.4 287.8,103.8 291.7,105.1 295.5,106.5 299.4,107.8 303.2,108.4 307.1,107.8 310.9,106.2 314.8,105.1 318.6,106.1 322.5,108.1 326.3,110.3 330.2,112.0 334.0,111.2 337.9,109.9 341.7,108.6 345.6,109.3 349.4,111.5 353.3,117.6 357.1,124.7 360.9,131.6 364.8,138.1 368.6,143.8 372.5,148.6 376.3,151.7 380.2,154.1 384.0,156.0 387.9,157.8 391.7,159.1 395.6,159.1 399.4,159.0 403.3,158.8 407.1,158.7 411.0,158.6 414.8,158.5 418.7,158.3 422.5,158.2 426.4,158.1 430.2,157.9 434.1,157.8 437.9,157.7" stroke="#0000ff"/><polyline points="284.0,64.7 287.8,68.5 291.7,71.5 295.5,73.6 299.4,75.0 303.2,75.4 307.1,74.7 310.9,72.4 314.8,70.1 318.6,71.6 322.5,75.4 326.3,80.1 330.2,84.8 334.0,85.8 337.9,85.1 341.7,84.2 345.6,86.1 349.4,89.9 353.3,97.9 357.1,107.6 360.9,116.5 364.8,125.4 368.6,133.5 372.5,140.8 376.3,146.5 380.2,150.7 384.0,154.0 387.9,156.6 391.7,158.8 395.6,159.3 399.4,159.4 403.3,159.5 407.1,159.6 411.0,159.6 414.8,159.7 418.7,159.8 422.5,159.9 426.4,160.0 430.2,160.0 434.1,160.1 437.9,160.2" stroke="#ff0000"/><polyline points="284.0,90.0 287.8,91.9 291.7,93.6 295.5,95.1 299.4,96.1 303.2,96.0 307.1,95.1 310.9,93.1 314.8,91.5 318.6,92.8 322.5,95.5 326.3,98.7 330.2,101.6 334.0,101.2 337.9,99.9 341.7,98.8 345.6,100.1 349.4,103.5 353.3,111.5 357.1,120.0 360.9,127.6 364.8,134.8 368.6,141.2 372.5,146.8 376.3,150.7 380.2,153.7 384.0,155.9 387.9,157.9 391.7,159.2 395.6,159.5 399.4,159.8 403.3,160.1 407.1,160.4 411.0,160.7 414.8,161.1 418.7,161.4 422.5,161.7 426.4,162.0 430.2,162.3 434.1,162.6 437.9,162.9" stroke="#ff0000"/><polyline points="284.0,60.6 287.8,64.2 291.7,67.0 295.5,68.8 299.4,69.6 303.2,68.9 307.1,67.0 310.9,63.2 314.8,60.1 318.6,62.7 322.5,67.9 326.3,73.4 330.2,77.9 334.0,76.2 337.9,73.1 341.7,70.6 345.6,73.2 349.4,78.3 353.3,90.8 357.1,103.3 360.9,113.8 364.8,123.6 368.6,132.7 372.5,140.8 376.3,146.4 380.2,150.8 384.0,154.1 387.9,157.0 391.7,159.2 395.6,159.4 399.4,159.6 403.3,159.9 407.1,160.1 411.0,160.3 414.8,160.5 418.7,160.7 422.5,160.9 426.4,161.1 430.2,161.3 434.1,161.5 437.9,161.7" stroke="#ff0000"/><polyline points="284.0,65.0 287.8,68.4 291.7,71.2 295.5,73.7 299.4,75.7 303.2,76.8 307.1,76.5 310.9,73.3 314.8,70.0 318.6,71.3 322.5,75.7 326.3,80.4 330.2,84.5 334.0,83.9 337.9,81.5 341.7,79.1 345.6,79.9 349.4,83.3 353.3,90.8 357.1,101.3 360.9,110.7 364.8,120.4 368.6,129.5 372.5,137.6 376.3,144.4 380.2,149.1 384.0,152.8 387.9,155.7 391.7,158.2 395.6,159.7 399.4,160.1 403.3,160.5 407.1,161.0 411.0,161.4 414.8,161.9 418.7,162.3 422.5,162.8 426.4,163.2 430.2,163.6 434.1,164.1 437.9,164.5" stroke="#ff0000"/><polyline points="284.0,94.8 287.8,96.8 291.7,98.6 295.5,100.3 299.4,101.4 303.2,101.6 307.1,101.2 310.9,100.1 314.8,99.3 318.6,99.7 322.5,101.3 326.3,103.4 330.2,104.8 334.0,104.8 337.9,104.4 341.7,104.7 345.6,106.7 349.4,111.6 353.3,118.7 357.1,126.3 360.9,133.2 364.8,139.6 368.6,145.2 372.5,149.3 376.3,152.3 380.2,154.7 384.0,156.7 387.9,158.4 391.7,159.2 395.6,159.8 399.4,160.4 403.3,160.9 407.1,161.5 411.0,162.1 414.8,162.6 418.7,163.2 422.5,163.8 426.4,164.3 430.2,164.9 434.1,165.5 437.9,166.0" stroke="#ff0000"/><polyline points="284.0,80.1 287.8,82.3 291.7,84.3 295.5,86.2 299.4,87.6 303.2,88.2 307.1,88.0 310.9,86.3 314.8,84.9 318.6,86.6 322.5,89.9 326.3,93.1 330.2,95.7 334.0,95.3 337.9,93.9 341.7,92.9 345.6,94.1 349.4,97.2 353.3,103.9 357.1,112.4 360.9,120.5 364.8,128.5 368.6,135.9 372.5,142.5 376.3,147.6 380.2,151.4 384.0,154.3 387.9,156.7 391.7,158.7 395.6,159.3 399.4,159.5 403.3,159.6 407.1,159.7 411.0,159.8 414.8,160.0 418.7,160.1 422.5,160.2 426.4,160.3 430.2,160.5 434.1,160.6 437.9,160.7" stroke="#ff0000"/><polyline points="284.0,94.3 287.8,95.9 291.7,97.4 295.5,98.8 299.4,100.1 303.2,100.9 307.1,100.8 310.9,100.0 314.8,99.6 318.6,100.8 322.5,102.8 326.3,104.7 330.2,106.4 334.0,106.4 337.9,105.9 341.7,105.4 345.6,106.4 349.4,108.7 353.3,114.3 357.1,121.2 360.9,128.1 364.8,134.9 368.6,141.0 372.5,146.5 376.3,150.4 380.2,153.4 384.0,155.6 387.9,157.5 391.7,159.0 395.6,158.8 399.4,158.3 403.3,157.9 407.1,157.4 411.0,157.0 414.8,156.6 418.7,156.1 422.5,155.7 426.4,155.2 430.2,154.8 434.1,154.3 437.9,153.9" stroke="#ff0000"/><polyline points="284.0,93.9 287.8,95.8 291.7,97.2 295.5,97.8 299.4,97.8 303.2,97.6 307.1,97.3 310.9,97.2 314.8,97.7 318.6,99.3 322.5,101.2 326.3,102.7 330.2,104.0 334.0,104.4 337.9,104.3 341.7,104.2 345.6,105.1 349.4,107.1 353.3,111.6 357.1,118.2 360.9,125.4 364.8,132.6 368.6,139.2 372.5,145.0 376.3,149.5 380.2,152.7 384.0,155.2 387.9,157.2 391.7,158.8 395.6,159.2 399.4,159.3 403.3,159.3 407.1,159.3 411.0,159.3 414.8,159.4 418.7,159.4 422.5,159.4 426.4,159.4 430.2,159.4 434.1,159.5 437.9,159.5" stroke="#ff0000"/><polyline points="284.0,101.2 287.8,102.6 291.7,103.8 295.5,104.3 299.4,104.1 303.2,103.3 307.1,102.9 310.9,103.4 314.8,104.6 318.6,106.4 322.5,108.1 326.3,109.5 330.2,110.3 334.0,110.4 337.9,110.6 341.7,111.3 345.6,113.1 349.4,116.2 353.3,121.5 357.1,127.4 360.9,133.4 364.8,139.1 368.6,144.3 372.5,148.8 376.3,152.0 380.2,154.5 384.0,156.5 387.9,158.1 391.7,159.2 395.6,159.1 399.4,158.9 403.3,158.8 407.1,158.6 411.0,158.5 414.8,158.3 418.7,158.2 422.5,158.0 426.4,157.9 430.2,157.7 434.1,157.6 437.9,157.5" stroke="#ff0000"/><polyline points="284.0,79.7 287.8,81.4 291.7,83.3 295.5,85.5 299.4,87.6 303.2,88.8 307.1,89.1 310.9,89.2 314.8,89.9 318.6,91.8 322.5,94.1 326.3,96.2 330.2,97.2 334.0,97.0 337.9,96.8 341.7,98.0 345.6,100.9 349.4,106.9 353.3,114.7 357.1,122.8 360.9,130.2 364.8,137.1 368.6,143.2 372.5,147.7 376.3,151.2 380.2,153.9 384.0,156.2 387.9,158.2 391.7,159.2 395.6,159.1 399.4,159.0 403.3,158.9 407.1,158.8 411.0,158.7 414.8,158.6 418.7,158.5 422.5,158.4 426.4,158.3 430.2,158.2 434.1,158.0 437.9,157.9" stroke="#0000ff"/><polyline points="284.0,57.9 287.8,61.1 291.7,64.1 295.5,66.9 299.4,69.3 303.2,70.9 307.1,71.1 310.9,68.4 314.8,65.3 318.6,66.8 322.5,71.3 326.3,76.2 330.2,80.3 334.0,80.3 337.9,78.4 341.7,76.6 345.6,77.8 349.4,81.4 353.3,88.5 357.1,98.9 360.9,108.4 364.8,118.3 368.6,127.7 372.5,136.2 376.3,143.5 380.2,148.7 384.0,152.6 387.9,155.5 391.7,158.0 395.6,159.1 399.4,158.9 403.3,158.8 407.1,158.6 411.0,158.5 414.8,158.3 418.7,158.2 422.5,158.0 426.4,157.9 430.2,157.7 434.1,157.6 437.9,157.4" stroke="#ff0000"/><polyline points="284.0,62.9 287.8,67.1 291.7,70.3 295.5,72.7 299.4,73.8 303.2,73.6 307.1,73.1 310.9,71.8 314.8,70.9 318.6,72.8 322.5,76.7 326.3,81.0 330.2,83.8 334.0,83.6 337.9,82.9 341.7,83.8 345.6,87.6 349.4,96.0 353.3,106.8 357.1,117.7 360.9,126.5 364.8,134.4 368.6,141.3 372.5,146.2 376.3,150.0 380.2,153.0 384.0,155.8 387.9,158.2 391.7,159.2 395.6,159.4 399.4,159.5 403.3,159.7 407.1,159.8 411.0,160.0 414.8,160.1 418.7,160.3 422.5,160.4 426.4,160.6 430.2,160.7 434.1,160.8 437.9,161.0" stroke="#0000ff"/><polyline points="284.0,57.7 287.8,61.9 291.7,65.3 295.5,67.8 299.4,69.5 303.2,70.6 307.1,70.7 310.9,68.8 314.8,67.0 318.6,69.2 322.5,73.8 326.3,78.1 330.2,81.6 334.0,81.3 337.9,79.6 341.7,78.2 345.6,79.5 349.4,82.9 353.3,89.3 357.1,98.6 360.9,107.4 364.8,116.9 368.6,126.1 372.5,134.6 376.3,142.2 380.2,147.7 384.0,151.9 387.9,155.1 391.7,157.7 395.6,159.4 399.4,160.0 403.3,160.4 407.1,160.8 411.0,161.2 414.8,161.6 418.7,162.0 422.5,162.3 426.4,162.7 430.2,163.1 434.1,163.5 437.9,163.9" stroke="#ff0000"/><polyline points="284.0,70.4 287.8,73.7 291.7,76.4 295.5,78.9 299.4,80.9 303.2,82.4 307.1,82.6 310.9,80.1 314.8,77.1 318.6,77.9 322.5,81.4 326.3,85.6 330.2,89.3 334.0,89.6 337.9,88.2 341.7,86.6 345.6,87.4 349.4,90.2 353.3,96.0 357.1,104.7 360.9,113.1 364.8,122.0 368.6,130.3 372.5,137.8 376.3,144.4 380.2,149.2 384.0,152.8 387.9,155.6 391.7,157.9 395.6,159.3 399.4,159.6 403.3,159.8 407.1,159.9 411.0,160.1 414.8,160.3 418.7,160.5 422.5,160.7 426.4,160.8 430.2,161.0 434.1,161.2 437.9,161.4" stroke="#0000ff"/><polyline points="284.0,115.0 287.8,115.4 291.7,115.8 295.5,115.9 299.4,115.9 303.2,116.0 307.1,116.1 310.9,116.1 314.8,116.2 318.6,116.8 322.5,117.8 326.3,118.9 330.2,119.9 334.0,120.7 337.9,120.9 341.7,120.6 345.6,120.1 349.4,120.4 353.3,121.9 357.1,125.8 360.9,130.9 364.8,136.4 368.6,141.7 372.5,146.4 376.3,150.5 380.2,153.4 384.0,155.5 387.9,157.1 391.7,158.3 395.6,159.1 399.4,159.2 403.3,159.2 407.1,159.2 411.0,159.2 414.8,159.2 418.7,159.2 422.5,159.2 426.4,159.2 430.2,159.2 434.1,159.2 437.9,159.2" stroke="#0000ff"/><polyline points="284.0,103.6 287.8,104.8 291.7,105.9 295.5,106.5 299.4,106.9 303.2,107.3 307.1,107.9 310.9,108.5 314.8,109.1 318.6,109.7 322.5,110.6 326.3,111.4 330.2,112.2 334.0,113.2 337.9,113.9 341.7,114.4 345.6,114.7 349.4,115.5 353.3,116.9 357.1,120.4 360.9,125.7 364.8,131.6 368.6,137.5 372.5,143.0 376.3,147.9 380.2,151.6 384.0,154.3 387.9,156.4 391.7,157.9 395.6,158.4 399.4,158.3 403.3,157.9 407.1,157.4 411.0,157.0 414.8,156.5 418.7,156.1 422.5,155.6 426.4,155.2 430.2,154.7 434.1,154.2 437.9,153.8" stroke="#0000ff"/><polyline points="284.0,53.6 287.8,57.1 291.7,60.2 295.5,62.7 299.4,64.1 303.2,64.2 307.1,64.1 310.9,64.0 314.8,65.1 318.6,68.4 322.5,72.6 326.3,76.6 330.2,79.1 334.0,79.0 337.9,78.4 341.7,79.2 345.6,82.7 349.4,91.0 353.3,102.0 357.1,113.2 360.9,122.8 364.8,131.4 368.6,139.1 372.5,144.7 376.3,149.1 380.2,152.6 384.0,155.7 387.9,158.2 391.7,159.2 395.6,159.8 399.4,160.4 403.3,161.0 407.1,161.6 411.0,162.2 414.8,162.8 418.7,163.4 422.5,163.9 426.4,164.5 430.2,165.1 434.1,165.7 437.9,166.3" stroke="#0000ff"/><polyline points="284.0,100.4 287.8,102.4 291.7,104.0 295.5,105.1 299.4,105.7 303.2,105.9 307.1,105.4 310.9,103.9 314.8,102.5 318.6,103.4 322.5,105.7 326.3,108.0 330.2,110.0 334.0,109.8 337.9,108.7 341.7,107.8 345.6,108.6 349.4,110.8 353.3,115.6 357.1,122.1 360.9,128.4 364.8,134.7 368.6,140.6 372.5,146.0 376.3,150.3 380.2,153.3 384.0,155.5 387.9,157.3 391.7,158.7 395.6,159.5 399.4,159.7 403.3,159.9 407.1,160.2 411.0,160.4 414.8,160.7 418.7,160.9 422.5,161.1 426.4,161.4 430.2,161.6 434.1,161.8 437.9,162.1" stroke="#ff0000"/><polyline points="284.0,73.0 287.8,76.1 291.7,78.7 295.5,80.6 299.4,82.1 303.2,82.5 307.1,82.0 310.9,80.6 314.8,79.8 318.6,81.8 322.5,85.2 326.3,88.6 330.2,91.4 334.0,91.2 337.9,90.2 341.7,89.8 345.6,92.3 349.4,96.5 353.3,105.2 357.1,114.3 360.9,122.6 364.8,130.4 368.6,137.7 372.5,144.2 376.3,148.8 380.2,152.3 384.0,155.0 387.9,157.4 391.7,159.2 395.6,159.9 399.4,160.5 403.3,161.2 407.1,161.8 411.0,162.5 414.8,163.1 418.7,163.8 422.5,164.4 426.4,165.1 430.2,165.7 434.1,166.3 437.9,167.0" stroke="#ff0000"/><polyline points="284.0,59.2 287.8,62.9 291.7,65.9 295.5,68.6 299.4,70.6 303.2,71.6 307.1,71.3 310.9,69.0 314.8,66.9 318.6,68.9 322.5,73.1 326.3,77.8 330.2,82.0 334.0,82.1 337.9,80.8 341.7,79.5 345.6,81.2 349.4,85.1 353.3,94.1 357.1,104.7 360.9,114.4 364.8,123.8 368.6,132.5 372.5,140.3 376.3,146.3 380.2,150.6 384.0,153.9 387.9,156.6 391.7,158.8 395.6,159.4 399.4,159.5 403.3,159.7 407.1,159.8 411.0,160.0 414.8,160.1 418.7,160.3 422.5,160.5 426.4,160.6 430.2,160.8 434.1,160.9 437.9,161.1" stroke="#ff0000"/><polyline points="284.0,89.7 287.8,91.9 291.7,93.8 295.5,95.0 299.4,95.3 303.2,94.8 307.1,94.1 310.9,93.2 314.8,93.3 318.6,95.7 322.5,98.8 326.3,101.7 330.2,104.1 334.0,103.7 337.9,102.7 341.7,102.1 345.6,103.8 349.4,107.3 353.3,114.7 357.1,122.6 360.9,129.7 364.8,136.3 368.6,142.3 372.5,147.3 376.3,150.9 380.2,153.7 384.0,155.9 387.9,157.9 391.7,159.2 395.6,159.1 399.4,159.0 403.3,158.9 407.1,158.7 411.0,158.6 414.8,158.5 418.7,158.4 422.5,158.2 426.4,158.1 430.2,158.0 434.1,157.9 437.9,157.7" stroke="#ff0000"/><polyline points="284.0,80.7 287.8,83.6 291.7,85.9 295.5,87.5 299.4,88.6 303.2,88.8 307.1,88.0 310.9,85.8 314.8,83.9 318.6,85.2 322.5,88.1 326.3,91.3 330.2,94.0 334.0,93.6 337.9,92.2 341.7,91.3 345.6,93.1 349.4,96.7 353.3,104.3 357.1,113.2 360.9,121.5 364.8,129.6 368.6,137.0 372.5,143.4 376.3,148.2 380.2,151.7 384.0,154.5 387.9,157.0 391.7,158.9 395.6,159.0 399.4,158.8 403.3,158.5 407.1,158.3 411.0,158.0 414.8,157.8 418.7,157.6 422.5,157.3 426.4,157.1 430.2,156.9 434.1,156.6 437.9,156.4" stroke="#ff0000"/><polyline points="284.0,91.7 287.8,94.7 291.7,96.7 295.5,97.9 299.4,97.8 303.2,96.6 307.1,95.4 310.9,93.9 314.8,93.1 318.6,94.9 322.5,98.0 326.3,101.1 330.2,102.9 334.0,101.8 337.9,100.3 341.7,99.9 345.6,102.3 349.4,108.4 353.3,117.1 357.1,126.0 360.9,133.1 364.8,139.6 368.6,145.3 372.5,149.4 376.3,152.4 380.2,154.7 384.0,156.8 387.9,158.5 391.7,159.2 395.6,159.5 399.4,159.7 403.3,159.9 407.1,160.1 411.0,160.4 414.8,160.6 418.7,160.8 422.5,161.1 426.4,161.3 430.2,161.5 434.1,161.8 437.9,162.0" stroke="#0000ff"/><polyline points="284.0,66.7 287.8,70.2 291.7,72.9 295.5,74.6 299.4,75.2 303.2,74.4 307.1,72.6 310.9,69.7 314.8,67.6 318.6,70.2 322.5,74.8 326.3,79.3 330.2,83.0 334.0,81.6 337.9,79.0 341.7,77.0 345.6,79.2 349.4,83.9 353.3,95.1 357.1,106.7 360.9,116.8 364.8,126.3 368.6,134.9 372.5,142.4 376.3,147.5 380.2,151.5 384.0,154.5 387.9,157.2 391.7,159.2 395.6,159.4 399.4,159.5 403.3,159.7 407.1,159.8 411.0,160.0 414.8,160.1 418.7,160.3 422.5,160.5 426.4,160.6 430.2,160.8 434.1,160.9 437.9,161.1" stroke="#ff0000"/><polyline points="284.0,102.0 287.8,102.9 291.7,104.0 295.5,105.4 299.4,106.9 303.2,108.0 307.1,108.4 310.9,108.1 314.8,108.0 318.6,108.8 322.5,110.1 326.3,111.9 330.2,113.9 334.0,115.2 337.9,115.6 341.7,115.7 345.6,116.6 349.4,118.2 353.3,121.9 357.1,126.9 360.9,132.2 364.8,137.6 368.6,142.7 372.5,147.6 376.3,151.3 380.2,154.1 384.0,156.1 387.9,157.7 391.7,158.9 395.6,159.1 399.4,159.0 403.3,158.8 407.1,158.7 411.0,158.6 414.8,158.4 418.7,158.3 422.5,158.1 426.4,158.0 430.2,157.9 434.1,157.7 437.9,157.6" stroke="#ff0000"/><polyline points="284.0,98.9 287.8,100.0 291.7,101.2 295.5,103.2 299.4,105.9 303.2,108.0 307.1,108.8 310.9,108.3 314.8,107.8 318.6,108.2 322.5,109.4 326.3,111.0 330.2,112.6 334.0,113.3 337.9,113.6 341.7,113.8 345.6,114.7 349.4,116.5 353.3,120.9 357.1,126.4 360.9,132.3 364.8,138.1 368.6,143.3 372.5,148.1 376.3,151.6 380.2,154.2 384.0,156.1 387.9,157.8 391.7,159.1 395.6,159.3 399.4,159.4 403.3,159.5 407.1,159.6 411.0,159.7 414.8,159.8 418.7,159.9 422.5,160.0 426.4,160.1 430.2,160.2 434.1,160.3 437.9,160.4" stroke="#ff0000"/><polyline points="284.0,99.0 287.8,99.7 291.7,100.8 295.5,102.4 299.4,104.4 303.2,105.9 307.1,106.8 310.9,107.7 314.8,109.3 318.6,110.7 322.5,111.8 326.3,112.9 330.2,114.0 334.0,115.2 337.9,116.2 341.7,117.0 345.6,118.1 349.4,120.0 353.3,123.9 357.1,128.8 360.9,134.5 364.8,139.8 368.6,144.7 372.5,148.9 376.3,151.9 380.2,154.3 384.0,156.2 387.9,158.0 391.7,159.2 395.6,159.0 399.4,158.7 403.3,158.5 407.1,158.3 411.0,158.0 414.8,157.8 418.7,157.5 422.5,157.3 426.4,157.1 430.2,156.8 434.1,156.6 437.9,156.3" stroke="#0000ff"/><polyline points="284.0,80.5 287.8,82.1 291.7,83.9 295.5,86.1 299.4,88.2 303.2,89.3 307.1,89.4 310.9,88.5 314.8,88.1 318.6,90.1 322.5,93.1 326.3,96.3 330.2,98.9 334.0,98.7 337.9,97.8 341.7,97.3 345.6,99.1 349.4,102.9 353.3,110.7 357.1,119.0 360.9,126.6 364.8,133.7 368.6,140.3 372.5,145.9 376.3,149.9 380.2,153.0 384.0,155.5 387.9,157.7 391.7,159.2 395.6,159.4 399.4,159.5 403.3,159.7 407.1,159.9 411.0,160.0 414.8,160.2 418.7,160.4 422.5,160.5 426.4,160.7 430.2,160.8 434.1,161.0 437.9,161.2" stroke="#ff0000"/><polyline points="284.0,86.3 287.8,88.0 291.7,89.8 295.5,91.8 299.4,93.8 303.2,95.2 307.1,95.9 310.9,95.7 314.8,95.9 318.6,97.5 322.5,100.0 326.3,102.3 330.2,104.3 334.0,104.8 337.9,104.8 341.7,105.0 345.6,106.6 349.4,109.2 353.3,114.7 357.1,121.3 360.9,128.0 364.8,134.5 368.6,140.4 372.5,145.7 376.3,149.8 380.2,152.9 384.0,155.3 387.9,157.3 391.7,159.0 395.6,159.2 399.4,159.2 403.3,159.2 407.1,159.2 411.0,159.2 414.8,159.2 418.7,159.2 422.5,159.2 426.4,159.2 430.2,159.2 434.1,159.2 437.9,159.2" stroke="#0000ff"/><polyline points="284.0,66.3 287.8,68.9 291.7,71.4 295.5,74.0 299.4,76.2 303.2,77.2 307.1,76.7 310.9,74.4 314.8,72.5 318.6,74.3 322.5,78.0 326.3,82.3 330.2,86.2 334.0,86.1 337.9,84.7 341.7,83.4 345.6,85.2 349.4,89.0 353.3,98.6 357.1,108.9 360.9,118.3 364.8,127.1 368.6,135.2 372.5,142.4 376.3,147.6 380.2,151.5 384.0,154.5 387.9,157.1 391.7,159.2 395.6,159.5 399.4,159.7 403.3,159.9 407.1,160.2 411.0,160.4 414.8,160.7 418.7,160.9 422.5,161.2 426.4,161.4 430.2,161.6 434.1,161.9 437.9,162.1" stroke="#ff0000"/><polyline points="284.0,78.4 287.8,81.7 291.7,84.3 295.5,86.2 299.4,87.1 303.2,86.8 307.1,86.3 310.9,85.3 314.8,84.8 318.6,86.5 322.5,89.7 326.3,93.2 330.2,95.6 334.0,95.5 337.9,94.9 341.7,95.4 345.6,98.2 349.4,104.8 353.3,113.7 357.1,122.5 360.9,129.7 364.8,136.4 368.6,142.5 372.5,147.1 376.3,150.8 380.2,153.7 384.0,156.3 387.9,158.3 391.7,159.2 395.6,159.1 399.4,159.0 403.3,158.9 407.1,158.8 411.0,158.7 414.8,158.6 418.7,158.6 422.5,158.5 426.4,158.4 430.2,158.3 434.1,158.2 437.9,158.1" stroke="#0000ff"/><polyline points="284.0,95.2 287.8,96.0 291.7,97.0 295.5,98.1 299.4,99.4 303.2,100.4 307.1,101.0 310.9,102.3 314.8,104.4 318.6,105.9 322.5,106.7 326.3,107.2 330.2,107.7 334.0,108.7 337.9,109.8 341.7,111.0 345.6,112.2 349.4,114.2 353.3,118.4 357.1,124.1 360.9,131.2 364.8,137.8 368.6,143.5 372.5,148.3 376.3,151.6 380.2,154.2 384.0,156.2 387.9,157.9 391.7,159.2 395.6,159.7 399.4,160.1 403.3,160.5 407.1,160.9 411.0,161.4 414.8,161.8 418.7,162.2 422.5,162.6 426.4,163.1 430.2,163.5 434.1,163.9 437.9,164.3" stroke="#0000ff"/><polyline points="284.0,87.9 287.8,89.9 291.7,91.7 295.5,93.3 299.4,94.6 303.2,95.2 307.1,95.4 310.9,95.5 314.8,96.2 318.6,97.9 322.5,100.1 326.3,102.4 330.2,104.4 334.0,105.3 337.9,105.8 341.7,106.6 345.6,108.6 349.4,111.9 353.3,117.8 357.1,124.4 360.9,130.9 364.8,137.1 368.6,142.7 372.5,147.4 376.3,150.7 380.2,153.4 384.0,155.6 387.9,157.7 391.7,159.2 395.6,159.0 399.4,158.7 403.3,158.5 407.1,158.3 411.0,158.0 414.8,157.8 418.7,157.6 422.5,157.3 426.4,157.1 430.2,156.8 434.1,156.6 437.9,156.4" stroke="#ff0000"/><polyline points="284.0,94.3 287.8,96.4 291.7,98.3 295.5,99.4 299.4,99.8 303.2,99.8 307.1,99.7 310.9,99.7 314.8,100.3 318.6,102.2 322.5,104.8 326.3,107.2 330.2,109.4 334.0,110.0 337.9,110.1 341.7,110.3 345.6,111.9 349.4,114.5 353.3,119.8 357.1,125.8 360.9,131.7 364.8,137.3 368.6,142.6 372.5,147.3 376.3,150.9 380.2,153.6 384.0,155.8 387.9,157.6 391.7,159.1 395.6,159.2 399.4,159.1 403.3,159.1 407.1,159.0 411.0,159.0 414.8,158.9 418.7,158.9 422.5,158.8 426.4,158.8 430.2,158.7 434.1,158.7 437.9,158.7" stroke="#0000ff"/><polyline points="284.0,95.1 287.8,96.3 291.7,97.6 295.5,99.3 299.4,100.8 303.2,102.1 307.1,102.5 310.9,101.7 314.8,100.8 318.6,101.7 322.5,103.8 326.3,106.0 330.2,107.7 334.0,107.9 337.9,107.4 341.7,107.1 345.6,108.0 349.4,110.2 353.3,114.1 357.1,120.4 360.9,126.7 364.8,133.3 368.6,139.4 372.5,144.8 376.3,149.3 380.2,152.5 384.0,154.9 387.9,156.9 391.7,158.5 395.6,159.1 399.4,159.0 403.3,159.0 407.1,158.9 411.0,158.8 414.8,158.7 418.7,158.6 422.5,158.5 426.4,158.4 430.2,158.3 434.1,158.3 437.9,158.2" stroke="#ff0000"/><polyline points="284.0,56.1 287.8,59.6 291.7,62.7 295.5,65.2 299.4,66.0 303.2,65.1 307.1,63.5 310.9,60.4 314.8,57.7 318.6,60.0 322.5,65.0 326.3,70.0 330.2,73.2 334.0,70.9 337.9,68.2 341.7,67.6 345.6,72.9 349.4,83.8 353.3,98.6 357.1,112.6 360.9,123.0 364.8,132.3 368.6,140.2 372.5,145.8 376.3,150.1 380.2,153.4 384.0,156.4 387.9,158.5 391.7,159.2 395.6,159.0 399.4,158.7 403.3,158.5 407.1,158.2 411.0,158.0 414.8,157.7 418.7,157.5 422.5,157.2 426.4,157.0 430.2,156.7 434.1,156.4 437.9,156.2" stroke="#ff0000"/><polyline points="284.0,96.5 287.8,98.1 291.7,99.8 295.5,101.9 299.4,104.5 303.2,106.3 307.1,106.8 310.9,106.0 314.8,104.9 318.6,104.7 322.5,105.7 326.3,107.6 330.2,109.7 334.0,110.8 337.9,111.2 341.7,111.2 345.6,111.9 349.4,113.6 353.3,118.2 357.1,124.1 360.9,130.4 364.8,136.5 368.6,142.2 372.5,147.2 376.3,150.9 380.2,153.7 384.0,155.9 387.9,157.7 391.7,159.1 395.6,159.3 399.4,159.4 403.3,159.5 407.1,159.6 411.0,159.7 414.8,159.8 418.7,159.8 422.5,159.9 426.4,160.0 430.2,160.1 434.1,160.2 437.9,160.3" stroke="#0000ff"/><polyline points="284.0,56.8 287.8,60.4 291.7,63.7 295.5,66.4 299.4,68.2 303.2,68.8 307.1,68.2 310.9,65.6 314.8,63.7 318.6,66.9 322.5,72.5 326.3,77.9 330.2,82.5 334.0,81.4 337.9,78.7 341.7,76.2 345.6,77.8 349.4,81.9 353.3,91.4 357.1,102.7 360.9,112.3 364.8,121.8 368.6,130.6 372.5,138.6 376.3,144.9 380.2,149.6 384.0,153.2 387.9,156.2 391.7,158.6 395.6,159.8 399.4,160.3 403.3,160.8 407.1,161.3 411.0,161.9 414.8,162.4 418.7,162.9 422.5,163.4 426.4,164.0 430.2,164.5 434.1,165.0 437.9,165.5" stroke="#ff0000"/><polyline points="284.0,84.0 287.8,86.4 291.7,88.4 295.5,90.0 299.4,91.2 303.2,91.5 307.1,91.3 310.9,91.1 314.8,91.8 318.6,93.9 322.5,96.6 326.3,99.1 330.2,100.9 334.0,100.9 337.9,100.5 341.7,100.6 345.6,102.6 349.4,106.8 353.3,114.1 357.1,122.0 360.9,129.5 364.8,136.4 368.6,142.5 372.5,147.5 376.3,151.1 380.2,153.8 384.0,156.1 387.9,158.0 391.7,159.2 395.6,159.6 399.4,159.9 403.3,160.3 407.1,160.6 411.0,161.0 414.8,161.4 418.7,161.7 422.5,162.1 426.4,162.4 430.2,162.8 434.1,163.1 437.9,163.5" stroke="#0000ff"/><polyline points="284.0,67.7 287.8,71.4 291.7,74.3 295.5,76.2 299.4,76.7 303.2,75.8 307.1,74.4 310.9,72.1 314.8,70.5 318.6,72.9 322.5,77.5 326.3,82.3 330.2,86.1 334.0,85.2 337.9,83.3 341.7,82.2 345.6,84.8 349.4,91.1 353.3,102.2 357.1,113.4 360.9,122.7 364.8,131.2 368.6,138.7 372.5,144.7 376.3,149.0 380.2,152.4 384.0,155.2 387.9,157.8 391.7,159.2 395.6,159.8 399.4,160.4 403.3,160.9 407.1,161.5 411.0,162.0 414.8,162.6 418.7,163.2 422.5,163.7 426.4,164.3 430.2,164.9 434.1,165.4 437.9,166.0" stroke="#ff0000"/><polyline points="284.0,74.2 287.8,76.8 291.7,79.0 295.5,81.0 299.4,82.6 303.2,83.2 307.1,82.7 310.9,80.7 314.8,78.9 318.6,80.0 322.5,83.0 326.3,86.7 330.2,90.2 334.0,90.7 337.9,89.9 341.7,89.1 345.6,90.9 349.4,94.4 353.3,102.5 357.1,111.5 360.9,120.0 364.8,128.1 368.6,135.8 372.5,142.7 376.3,147.7 380.2,151.5 384.0,154.4 387.9,157.0 391.7,159.0 395.6,160.0 399.4,160.8 403.3,161.6 407.1,162.4 411.0,163.2 414.8,164.0 418.7,164.8 422.5,165.6 426.4,166.4 430.2,167.2 434.1,168.0 437.9,168.8" stroke="#ff0000"/><polyline points="284.0,75.8 287.8,77.6 291.7,79.6 295.5,81.7 299.4,83.8 303.2,85.5 307.1,86.5 310.9,87.6 314.8,89.4 318.6,92.1 322.5,94.8 326.3,97.3 330.2,99.5 334.0,100.7 337.9,101.4 341.7,101.7 345.6,102.7 349.4,104.8 353.3,109.9 357.1,116.9 360.9,124.5 364.8,131.9 368.6,138.5 372.5,144.4 376.3,148.8 380.2,152.2 384.0,154.8 387.9,157.1 391.7,159.0 395.6,159.0 399.4,158.8 403.3,158.6 407.1,158.4 411.0,158.2 414.8,158.0 418.7,157.8 422.5,157.6 426.4,157.4 430.2,157.2 434.1,157.0 437.9,156.8" stroke="#ff0000"/><polyline points="284.0,85.0 287.8,87.2 291.7,89.2 295.5,91.1 299.4,92.8 303.2,93.7 307.1,93.9 310.9,93.7 314.8,94.0 318.6,95.5 322.5,97.6 326.3,99.8 330.2,101.8 334.0,102.4 337.9,102.5 341.7,102.8 345.6,104.5 349.4,107.4 353.3,113.7 357.1,120.8 360.9,128.1 364.8,134.9 368.6,141.1 372.5,146.4 376.3,150.1 380.2,153.1 384.0,155.4 387.9,157.6 391.7,159.2 395.6,159.5 399.4,159.8 403.3,160.1 407.1,160.4 411.0,160.7 414.8,161.0 418.7,161.3 422.5,161.6 426.4,161.9 430.2,162.2 434.1,162.5 437.9,162.8" stroke="#ff0000"/><polyline points="284.0,45.0 287.8,50.0 291.7,54.1 295.5,57.4 299.4,59.7 303.2,60.3 307.1,59.7 310.9,57.2 314.8,55.0 318.6,56.9 322.5,61.3 326.3,66.3 330.2,70.4 334.0,70.0 337.9,68.6 341.7,67.9 345.6,71.1 349.4,77.2 353.3,89.3 357.1,101.9 360.9,113.2 364.8,123.7 368.6,133.0 372.5,140.7 376.3,146.2 380.2,150.4 384.0,153.9 387.9,157.0 391.7,159.2 395.6,159.2 399.4,159.1 403.3,159.0 407.1,159.0 411.0,158.9 414.8,158.8 418.7,158.8 422.5,158.7 426.4,158.7 430.2,158.6 434.1,158.5 437.9,158.5" stroke="#ff0000"/><polyline points="284.0,97.6 287.8,99.5 291.7,101.0 295.5,101.8 299.4,102.3 303.2,102.4 307.1,102.2 310.9,102.5 314.8,103.5 318.6,105.1 322.5,106.8 326.3,108.3 330.2,109.7 334.0,110.3 337.9,110.7 341.7,110.9 345.6,111.8 349.4,113.7 353.3,118.7 357.1,124.8 360.9,131.5 364.8,137.8 368.6,143.3 372.5,148.1 376.3,151.3 380.2,153.8 384.0,155.9 387.9,157.8 391.7,159.2 395.6,160.0 399.4,160.7 403.3,161.4 407.1,162.1 411.0,162.9 414.8,163.6 418.7,164.3 422.5,165.0 426.4,165.8 430.2,166.5 434.1,167.2 437.9,167.9" stroke="#ff0000"/><polyline points="284.0,71.1 287.8,75.4 291.7,78.5 295.5,80.7 299.4,81.7 303.2,81.3 307.1,79.7 310.9,76.3 314.8,73.5 318.6,75.3 322.5,79.6 326.3,84.1 330.2,87.5 334.0,85.8 337.9,83.1 341.7,81.3 345.6,83.8 349.4,89.3 353.3,100.6 357.1,111.9 360.9,121.3 364.8,129.9 368.6,137.7 372.5,144.2 376.3,148.7 380.2,152.2 384.0,155.1 387.9,157.6 391.7,159.2 395.6,159.0 399.4,158.8 403.3,158.7 407.1,158.5 411.0,158.3 414.8,158.1 418.7,157.9 422.5,157.7 426.4,157.5 430.2,157.3 434.1,157.1 437.9,156.9" stroke="#ff0000"/><polyline points="284.0,75.4 287.8,77.5 291.7,79.7 295.5,81.9 299.4,84.0 303.2,85.3 307.1,85.8 310.9,85.7 314.8,85.8 318.6,87.4 322.5,90.0 326.3,93.0 330.2,95.9 334.0,97.0 337.9,97.5 341.7,98.2 345.6,100.4 349.4,104.1 353.3,111.1 357.1,118.8 360.9,126.4 364.8,133.5 368.6,140.0 372.5,145.6 376.3,149.7 380.2,152.9 384.0,155.4 387.9,157.6 391.7,159.2 395.6,159.5 399.4,159.7 403.3,160.0 407.1,160.3 411.0,160.5 414.8,160.8 418.7,161.0 422.5,161.3 426.4,161.6 430.2,161.8 434.1,162.1 437.9,162.3" stroke="#ff0000"/><polyline points="284.0,122.4 287.8,122.9 291.7,123.4 295.5,123.9 299.4,124.3 303.2,124.6 307.1,125.1 310.9,126.1 314.8,127.8 318.6,129.5 322.5,130.8 326.3,131.7 330.2,132.5 334.0,133.2 337.9,133.9 341.7,134.5 345.6,135.2 349.4,136.6 353.3,139.1 357.1,142.1 360.9,145.2 364.8,148.2 368.6,150.9 372.5,153.2 376.3,155.0 380.2,156.4 384.0,157.5 387.9,158.5 391.7,159.2 395.6,159.8 399.4,160.3 403.3,160.9 407.1,161.4 411.0,162.0 414.8,162.5 418.7,163.1 422.5,163.7 426.4,164.2 430.2,164.8 434.1,165.3 437.9,165.9" stroke="#0000ff"/><polyline points="284.0,57.0 287.8,60.2 291.7,63.1 295.5,66.1 299.4,69.0 303.2,70.6 307.1,70.6 310.9,68.9 314.8,67.5 318.6,69.4 322.5,73.1 326.3,77.2 330.2,80.5 334.0,80.4 337.9,79.4 341.7,79.2 345.6,82.1 349.4,87.6 353.3,97.9 357.1,108.7 360.9,118.4 364.8,127.5 368.6,135.7 372.5,142.5 376.3,147.4 380.2,151.2 384.0,154.4 387.9,157.3 391.7,159.2 395.6,159.7 399.4,160.2 403.3,160.6 407.1,161.1 411.0,161.6 414.8,162.1 418.7,162.5 422.5,163.0 426.4,163.5 430.2,164.0 434.1,164.4 437.9,164.9" stroke="#0000ff"/><polyline points="284.0,89.3 287.8,92.0 291.7,94.2 295.5,96.6 299.4,98.7 303.2,99.5 307.1,98.8 310.9,95.9 314.8,92.9 318.6,93.4 322.5,96.1 326.3,99.5 330.2,102.2 334.0,101.3 337.9,99.5 341.7,98.3 345.6,100.1 349.4,104.4 353.3,112.9 357.1,121.7 360.9,129.4 364.8,136.4 368.6,142.6 372.5,147.7 376.3,151.2 380.2,153.9 384.0,156.0 387.9,158.0 391.7,159.2 395.6,158.8 399.4,158.3 403.3,157.9 407.1,157.4 411.0,156.9 414.8,156.5 418.7,156.0 422.5,155.6 426.4,155.1 430.2,154.7 434.1,154.2 437.9,153.8" stroke="#ff0000"/><polyline points="284.0,58.2 287.8,62.1 291.7,65.3 295.5,67.3 299.4,67.4 303.2,66.1 307.1,65.1 310.9,63.5 314.8,62.5 318.6,65.3 322.5,70.1 326.3,74.9 330.2,78.3 334.0,77.3 337.9,75.8 341.7,76.0 345.6,80.7 349.4,90.1 353.3,102.8 357.1,114.9 360.9,124.2 364.8,132.5 368.6,139.8 372.5,145.2 376.3,149.6 380.2,153.1 384.0,156.1 387.9,158.3 391.7,159.2 395.6,159.6 399.4,159.9 403.3,160.3 407.1,160.6 411.0,160.9 414.8,161.3 418.7,161.6 422.5,162.0 426.4,162.3 430.2,162.7 434.1,163.0 437.9,163.3" stroke="#ff0000"/><polyline points="284.0,73.7 287.8,76.4 291.7,78.9 295.5,81.3 299.4,83.7 303.2,85.4 307.1,85.7 310.9,84.3 314.8,83.0 318.6,83.9 322.5,86.4 326.3,89.4 330.2,92.1 334.0,92.6 337.9,92.2 341.7,91.9 345.6,93.6 349.4,96.7 353.3,103.4 357.1,111.8 360.9,120.0 364.8,128.2 368.6,135.7 372.5,142.5 376.3,147.7 380.2,151.6 384.0,154.5 387.9,156.9 391.7,158.8 395.6,159.5 399.4,159.8 403.3,160.1 407.1,160.4 411.0,160.6 414.8,160.9 418.7,161.2 422.5,161.5 426.4,161.8 430.2,162.1 434.1,162.3 437.9,162.6" stroke="#0000ff"/><polyline points="284.0,79.7 287.8,81.9 291.7,83.9 295.5,86.0 299.4,87.9 303.2,89.4 307.1,90.1 310.9,89.2 314.8,88.2 318.6,89.2 322.5,91.8 326.3,95.0 330.2,98.1 334.0,99.4 337.9,99.4 341.7,99.1 345.6,99.9 349.4,102.1 353.3,106.3 357.1,113.3 360.9,120.5 364.8,128.0 368.6,135.0 372.5,141.4 376.3,146.9 380.2,150.8 384.0,153.9 387.9,156.3 391.7,158.4 395.6,159.1 399.4,159.0 403.3,158.9 407.1,158.8 411.0,158.7 414.8,158.5 418.7,158.4 422.5,158.3 426.4,158.2 430.2,158.1 434.1,158.0 437.9,157.8" stroke="#0000ff"/><polyline points="284.0,97.9 287.8,99.3 291.7,100.6 295.5,102.1 299.4,103.2 303.2,103.8 307.1,104.0 310.9,104.4 314.8,105.4 318.6,107.2 322.5,109.1 326.3,110.6 330.2,111.3 334.0,111.0 337.9,110.8 341.7,111.4 345.6,113.3 349.4,117.2 353.3,123.0 357.1,129.3 360.9,135.2 364.8,140.7 368.6,145.6 372.5,149.5 376.3,152.4 380.2,154.6 384.0,156.6 387.9,158.2 391.7,159.2 395.6,158.4 399.4,157.5 403.3,156.7 407.1,155.8 411.0,154.9 414.8,154.1 418.7,153.2 422.5,152.4 426.4,151.5 430.2,150.6 434.1,149.8 437.9,148.9" stroke="#0000ff"/><polyline points="284.0,69.7 287.8,72.3 291.7,74.6 295.5,76.3 299.4,76.9 303.2,76.7 307.1,76.3 310.9,76.0 314.8,76.5 318.6,79.1 322.5,82.4 326.3,85.5 330.2,87.8 334.0,87.8 337.9,87.5 341.7,87.9 345.6,90.6 349.4,95.6 353.3,104.4 357.1,113.7 360.9,122.4 364.8,130.5 368.6,137.9 372.5,144.2 376.3,148.8 380.2,152.3 384.0,155.2 387.9,157.6 391.7,159.2 395.6,159.8 399.4,160.4 403.3,161.0 407.1,161.5 411.0,162.1 414.8,162.7 418.7,163.3 422.5,163.8 426.4,164.4 430.2,165.0 434.1,165.6 437.9,166.2" stroke="#0000ff"/><polyline points="284.0,94.9 287.8,96.8 291.7,98.7 295.5,101.0 299.4,103.7 303.2,105.6 307.1,106.0 310.9,104.8 314.8,103.9 318.6,104.9 322.5,107.2 326.3,109.8 330.2,112.1 334.0,112.2 337.9,111.8 341.7,111.4 345.6,112.8 349.4,115.3 353.3,121.2 357.1,127.6 360.9,133.5 364.8,139.1 368.6,144.1 372.5,148.5 376.3,151.6 380.2,154.1 384.0,156.1 387.9,157.9 391.7,159.2 395.6,159.4 399.4,159.5 403.3,159.7 407.1,159.9 411.0,160.0 414.8,160.2 418.7,160.4 422.5,160.5 426.4,160.7 430.2,160.8 434.1,161.0 437.9,161.2" stroke="#0000ff"/><polyline points="284.0,100.5 287.8,101.9 291.7,103.2 295.5,104.8 299.4,106.6 303.2,107.5 307.1,107.5 310.9,106.5 314.8,105.3 318.6,105.4 322.5,106.7 326.3,108.8 330.2,110.4 334.0,110.8 337.9,110.7 341.7,111.1 345.6,112.9 349.4,117.1 353.3,123.2 357.1,129.7 360.9,135.6 364.8,141.0 368.6,146.0 372.5,149.9 376.3,152.8 380.2,155.1 384.0,156.9 387.9,158.5 391.7,159.2 395.6,159.7 399.4,160.2 403.3,160.7 407.1,161.1 411.0,161.6 414.8,162.1 418.7,162.6 422.5,163.0 426.4,163.5 430.2,164.0 434.1,164.5 437.9,165.0" stroke="#ff0000"/><polyline points="284.0,100.9 287.8,101.9 291.7,103.1 295.5,104.9 299.4,107.1 303.2,108.7 307.1,109.2 310.9,109.0 314.8,109.2 318.6,110.1 322.5,111.3 326.3,112.4 330.2,113.1 334.0,113.1 337.9,113.1 341.7,113.8 345.6,115.9 349.4,119.0 353.3,124.2 357.1,129.8 360.9,135.4 364.8,140.6 368.6,145.3 372.5,149.4 376.3,152.4 380.2,154.7 384.0,156.5 387.9,158.1 391.7,159.2 395.6,159.7 399.4,160.2 403.3,160.7 407.1,161.2 411.0,161.7 414.8,162.1 418.7,162.6 422.5,163.1 426.4,163.6 430.2,164.1 434.1,164.6 437.9,165.1" stroke="#0000ff"/><polyline points="284.0,64.9 287.8,68.9 291.7,72.2 295.5,75.0 299.4,76.8 303.2,77.2 307.1,76.6 310.9,74.6 314.8,73.2 318.6,75.2 322.5,78.9 326.3,82.7 330.2,85.5 334.0,84.6 337.9,83.1 341.7,82.5 345.6,85.3 349.4,91.0 353.3,101.4 357.1,112.1 360.9,121.4 364.8,130.0 368.6,137.8 372.5,144.1 376.3,148.7 380.2,152.3 384.0,155.1 387.9,157.6 391.7,159.2 395.6,159.4 399.4,159.7 403.3,159.9 407.1,160.1 411.0,160.3 414.8,160.6 418.7,160.8 422.5,161.0 426.4,161.2 430.2,161.4 434.1,161.7 437.9,161.9" stroke="#ff0000"/><polyline points="284.0,101.2 287.8,103.2 291.7,104.9 295.5,106.3 299.4,107.3 303.2,107.5 307.1,107.2 310.9,106.6 314.8,106.4 318.6,107.9 322.5,110.1 326.3,112.5 330.2,114.3 334.0,114.2 337.9,113.6 341.7,113.3 345.6,114.7 349.4,117.9 353.3,123.8 357.1,130.1 360.9,135.8 364.8,141.1 368.6,145.9 372.5,149.9 376.3,152.7 380.2,154.9 384.0,156.7 387.9,158.2 391.7,159.2 395.6,159.5 399.4,159.9 403.3,160.2 407.1,160.5 411.0,160.8 414.8,161.1 418.7,161.4 422.5,161.7 426.4,162.0 430.2,162.4 434.1,162.7 437.9,163.0" stroke="#0000ff"/><polyline points="284.0,93.2 287.8,94.4 291.7,95.8 295.5,97.6 299.4,100.0 303.2,102.0 307.1,102.9 310.9,103.0 314.8,103.3 318.6,104.1 322.5,105.3 326.3,106.6 330.2,107.9 334.0,108.9 337.9,109.4 341.7,109.9 345.6,110.8 349.4,112.6 353.3,116.6 357.1,122.3 360.9,128.8 364.8,135.3 368.6,141.1 372.5,146.3 376.3,150.2 380.2,153.1 384.0,155.4 387.9,157.3 391.7,158.9 395.6,159.8 399.4,160.5 403.3,161.1 407.1,161.7 411.0,162.3 414.8,162.9 418.7,163.6 422.5,164.2 426.4,164.8 430.2,165.4 434.1,166.1 437.9,166.7" stroke="#0000ff"/><polyline points="284.0,91.4 287.8,93.4 291.7,95.1 295.5,96.2 299.4,96.2 303.2,95.1 307.1,94.0 310.9,93.0 314.8,92.6 318.6,94.1 322.5,96.6 326.3,99.3 330.2,101.1 334.0,100.9 337.9,100.4 341.7,101.0 345.6,103.7 349.4,109.7 353.3,117.8 357.1,125.8 360.9,132.6 364.8,138.8 368.6,144.5 372.5,148.8 376.3,152.2 380.2,154.8 384.0,156.9 387.9,158.6 391.7,159.2 395.6,159.2 399.4,159.2 403.3,159.2 407.1,159.1 411.0,159.1 414.8,159.1 418.7,159.1 422.5,159.0 426.4,159.0 430.2,159.0 434.1,159.0 437.9,159.0" stroke="#ff0000"/><polyline points="284.0,104.8 287.8,106.0 291.7,107.4 295.5,108.9 299.4,110.6 303.2,112.2 307.1,113.2 310.9,113.8 314.8,114.3 318.6,114.7 322.5,115.3 326.3,116.2 330.2,117.2 334.0,118.6 337.9,119.6 341.7,119.9 345.6,119.5 349.4,119.9 353.3,121.0 357.1,124.9 360.9,130.1 364.8,135.8 368.6,141.1 372.5,145.8 376.3,150.0 380.2,153.0 384.0,155.2 387.9,157.0 391.7,158.4 395.6,159.2 399.4,159.4 403.3,159.5 407.1,159.6 411.0,159.7 414.8,159.8 418.7,159.9 422.5,160.0 426.4,160.2 430.2,160.3 434.1,160.4 437.9,160.5" stroke="#0000ff"/><polyline points="284.0,98.1 287.8,100.3 291.7,102.0 295.5,102.9 299.4,103.1 303.2,102.9 307.1,102.5 310.9,100.8 314.8,99.0 318.6,99.3 322.5,101.6 326.3,104.7 330.2,108.1 334.0,109.4 337.9,109.1 341.7,107.7 345.6,107.4 349.4,108.4 353.3,111.7 357.1,117.5 360.9,123.7 364.8,130.5 368.6,136.9 372.5,142.6 376.3,147.6 380.2,151.3 384.0,154.1 387.9,156.3 391.7,158.1 395.6,159.6 399.4,160.3 403.3,160.9 407.1,161.4 411.0,162.0 414.8,162.5 418.7,163.1 422.5,163.6 426.4,164.2 430.2,164.7 434.1,165.3 437.9,165.8" stroke="#ff0000"/><polyline points="284.0,109.2 287.8,109.6 291.7,109.9 295.5,110.2 299.4,110.5 303.2,110.7 307.1,110.8 310.9,110.9 314.8,111.4 318.6,112.4 322.5,113.7 326.3,115.2 330.2,116.8 334.0,118.0 337.9,118.5 341.7,118.3 345.6,118.4 349.4,119.3 353.3,122.2 357.1,127.0 360.9,132.5 364.8,138.0 368.6,143.2 372.5,147.9 376.3,151.6 380.2,154.3 384.0,156.2 387.9,157.7 391.7,158.9 395.6,160.4 399.4,161.5 403.3,162.6 407.1,163.7 411.0,164.9 414.8,166.0 418.7,167.1 422.5,168.3 426.4,169.4 430.2,170.5 434.1,171.6 437.9,172.8" stroke="#0000ff"/><polyline points="284.0,73.9 287.8,76.6 291.7,79.1 295.5,80.9 299.4,82.0 303.2,82.3 307.1,82.4 310.9,82.1 314.8,82.5 318.6,84.8 322.5,88.1 326.3,91.4 330.2,94.5 334.0,95.2 337.9,95.4 341.7,95.9 345.6,98.4 349.4,102.4 353.3,110.0 357.1,118.1 360.9,125.8 364.8,133.0 368.6,139.5 372.5,145.2 376.3,149.2 380.2,152.4 384.0,155.1 387.9,157.5 391.7,159.2 395.6,159.2 399.4,159.1 403.3,159.0 407.1,159.0 411.0,158.9 414.8,158.8 418.7,158.8 422.5,158.7 426.4,158.7 430.2,158.6 434.1,158.5 437.9,158.5" stroke="#ff0000"/><polyline points="284.0,96.1 287.8,97.1 291.7,98.3 295.5,100.0 299.4,102.0 303.2,103.7 307.1,104.6 310.9,105.2 314.8,106.1 318.6,107.3 322.5,108.7 326.3,110.2 330.2,111.6 334.0,112.8 337.9,113.5 341.7,113.7 345.6,113.9 349.4,115.0 353.3,118.4 357.1,124.0 360.9,130.3 364.8,136.6 368.6,142.1 372.5,147.0 376.3,150.7 380.2,153.5 384.0,155.6 387.9,157.5 391.7,159.0 395.6,159.7 399.4,160.2 403.3,160.7 407.1,161.2 411.0,161.6 414.8,162.1 418.7,162.6 422.5,163.1 426.4,163.6 430.2,164.0 434.1,164.5 437.9,165.0" stroke="#0000ff"/><polyline points="284.0,86.6 287.8,88.7 291.7,90.7 295.5,92.4 299.4,93.7 303.2,94.1 307.1,94.0 310.9,93.3 314.8,93.1 318.6,94.8 322.5,97.5 326.3,100.4 330.2,103.0 334.0,103.5 337.9,103.2 341.7,103.2 345.6,105.2 349.4,109.0 353.3,116.1 357.1,123.5 360.9,130.2 364.8,136.6 368.6,142.4 372.5,147.4 376.3,151.1 380.2,153.9 384.0,156.1 387.9,158.0 391.7,159.2 395.6,159.0 399.4,158.8 403.3,158.6 407.1,158.4 411.0,158.2 414.8,157.9 418.7,157.7 422.5,157.5 426.4,157.3 430.2,157.1 434.1,156.9 437.9,156.7" stroke="#0000ff"/><polyline points="284.0,96.8 287.8,99.0 291.7,101.0 295.5,102.9 299.4,104.4 303.2,105.2 307.1,105.2 310.9,104.7 314.8,104.5 318.6,105.7 322.5,107.8 326.3,110.0 330.2,111.7 334.0,111.8 337.9,111.6 341.7,111.7 345.6,113.3 349.4,116.8 353.3,122.7 357.1,129.2 360.9,135.1 364.8,140.6 368.6,145.5 372.5,149.4 376.3,152.3 380.2,154.5 384.0,156.5 387.9,158.2 391.7,159.2 395.6,159.6 399.4,160.0 403.3,160.4 407.1,160.8 411.0,161.1 414.8,161.5 418.7,161.9 422.5,162.3 426.4,162.7 430.2,163.1 434.1,163.4 437.9,163.8" stroke="#0000ff"/><polyline points="284.0,109.2 287.8,109.8 291.7,110.7 295.5,111.7 299.4,112.7 303.2,113.6 307.1,114.5 310.9,116.6 314.8,119.6 318.6,121.5 322.5,122.3 326.3,122.3 330.2,121.7 334.0,122.1 337.9,123.0 341.7,124.6 345.6,126.0 349.4,128.9 353.3,132.2 357.1,136.3 360.9,140.9 364.8,145.1 368.6,149.0 372.5,152.0 376.3,154.3 380.2,156.0 384.0,157.5 387.9,158.7 391.7,159.2 395.6,159.5 399.4,159.8 403.3,160.0 407.1,160.3 411.0,160.6 414.8,160.9 418.7,161.1 422.5,161.4 426.4,161.7 430.2,162.0 434.1,162.2 437.9,162.5" stroke="#0000ff"/><polyline points="284.0,93.4 287.8,95.8 291.7,97.8 295.5,99.6 299.4,101.3 303.2,102.4 307.1,102.2 310.9,99.4 314.8,96.2 318.6,96.3 322.5,99.0 326.3,102.0 330.2,104.7 334.0,104.2 337.9,102.4 341.7,101.0 345.6,102.1 349.4,104.9 353.3,110.0 357.1,117.1 360.9,123.3 364.8,130.0 368.6,136.6 372.5,142.7 376.3,148.0 380.2,151.7 384.0,154.5 387.9,156.6 391.7,158.3 395.6,159.5 399.4,159.7 403.3,160.0 407.1,160.2 411.0,160.5 414.8,160.7 418.7,161.0 422.5,161.2 426.4,161.4 430.2,161.7 434.1,161.9 437.9,162.2" stroke="#0000ff"/><polyline points="284.0,92.1 287.8,94.7 291.7,96.6 295.5,97.7 299.4,98.0 303.2,97.7 307.1,97.5 310.9,97.7 314.8,98.7 318.6,100.3 322.5,102.2 326.3,104.1 330.2,105.4 334.0,105.9 337.9,106.2 341.7,107.5 345.6,110.1 349.4,114.9 353.3,121.2 357.1,127.8 360.9,134.0 364.8,139.8 368.6,145.0 372.5,149.0 376.3,152.1 380.2,154.4 384.0,156.5 387.9,158.3 391.7,159.2 395.6,160.1 399.4,160.9 403.3,161.8 407.1,162.6 411.0,163.5 414.8,164.3 418.7,165.1 422.5,166.0 426.4,166.8 430.2,167.7 434.1,168.5 437.9,169.4" stroke="#ff0000"/><polyline points="284.0,70.7 287.8,74.0 291.7,76.8 295.5,79.3 299.4,81.5 303.2,83.0 307.1,83.4 310.9,81.7 314.8,79.7 318.6,81.0 322.5,84.4 326.3,88.2 330.2,91.5 334.0,91.9 337.9,91.0 341.7,90.4 345.6,92.1 349.4,95.6 353.3,101.5 357.1,109.6 360.9,117.1 364.8,125.0 368.6,132.6 372.5,139.7 376.3,145.8 380.2,150.1 384.0,153.5 387.9,156.1 391.7,158.3 395.6,159.4 399.4,159.7 403.3,159.9 407.1,160.1 411.0,160.3 414.8,160.5 418.7,160.7 422.5,160.9 426.4,161.2 430.2,161.4 434.1,161.6 437.9,161.8" stroke="#0000ff"/><polyline points="284.0,75.2 287.8,77.3 291.7,79.3 295.5,81.0 299.4,82.2 303.2,82.6 307.1,82.4 310.9,82.1 314.8,82.6 318.6,85.2 322.5,88.4 326.3,91.3 330.2,93.4 334.0,93.2 337.9,92.7 341.7,92.9 345.6,95.4 349.4,100.0 353.3,108.2 357.1,116.7 360.9,124.5 364.8,131.8 368.6,138.6 372.5,144.7 376.3,149.3 380.2,152.8 384.0,155.4 387.9,157.7 391.7,159.2 395.6,159.1 399.4,158.9 403.3,158.7 407.1,158.6 411.0,158.4 414.8,158.2 418.7,158.1 422.5,157.9 426.4,157.7 430.2,157.5 434.1,157.4 437.9,157.2" stroke="#ff0000"/><polyline points="284.0,71.6 287.8,74.1 291.7,76.4 295.5,78.1 299.4,79.3 303.2,79.9 307.1,80.1 310.9,80.1 314.8,80.8 318.6,83.2 322.5,86.2 326.3,89.4 330.2,92.3 334.0,93.4 337.9,93.7 341.7,94.0 345.6,95.9 349.4,99.0 353.3,105.9 357.1,113.8 360.9,121.8 364.8,129.5 368.6,136.7 372.5,143.2 376.3,148.0 380.2,151.7 384.0,154.6 387.9,157.2 391.7,159.1 395.6,159.7 399.4,160.2 403.3,160.7 407.1,161.3 411.0,161.8 414.8,162.3 418.7,162.8 422.5,163.3 426.4,163.8 430.2,164.3 434.1,164.8 437.9,165.3" stroke="#ff0000"/><polyline points="284.0,96.0 287.8,97.1 291.7,98.4 295.5,99.9 299.4,100.9 303.2,101.3 307.1,101.6 310.9,102.0 314.8,102.8 318.6,104.1 322.5,105.7 326.3,107.5 330.2,108.8 334.0,109.5 337.9,110.0 341.7,111.0 345.6,112.6 349.4,117.0 353.3,122.8 357.1,129.5 360.9,136.0 364.8,142.0 368.6,146.9 372.5,150.4 376.3,153.0 380.2,155.0 384.0,156.9 387.9,158.6 391.7,159.2 395.6,159.4 399.4,159.5 403.3,159.6 407.1,159.7 411.0,159.9 414.8,160.0 418.7,160.1 422.5,160.2 426.4,160.4 430.2,160.5 434.1,160.6 437.9,160.8" stroke="#ff0000"/><polyline points="284.0,68.8 287.8,72.2 291.7,74.9 295.5,76.8 299.4,77.3 303.2,76.3 307.1,75.1 310.9,73.4 314.8,72.6 318.6,75.0 322.5,79.1 326.3,82.8 330.2,84.9 334.0,83.1 337.9,81.2 341.7,81.2 345.6,85.0 349.4,94.0 353.3,105.8 357.1,117.4 360.9,126.5 364.8,134.6 368.6,141.8 372.5,146.8 376.3,150.7 380.2,153.8 384.0,156.4 387.9,158.5 391.7,159.2 395.6,159.7 399.4,160.1 403.3,160.6 407.1,161.0 411.0,161.4 414.8,161.9 418.7,162.3 422.5,162.8 426.4,163.2 430.2,163.7 434.1,164.1 437.9,164.5" stroke="#ff0000"/><polyline points="284.0,95.9 287.8,97.1 291.7,98.4 295.5,99.8 299.4,101.0 303.2,101.5 307.1,100.8 310.9,98.4 314.8,95.9 318.6,96.4 322.5,98.8 326.3,101.8 330.2,104.8 334.0,104.9 337.9,103.5 341.7,102.0 345.6,102.6 349.4,104.9 353.3,110.5 357.1,117.8 360.9,124.5 364.8,131.4 368.6,138.0 372.5,144.2 376.3,149.2 380.2,152.7 384.0,155.2 387.9,157.1 391.7,158.7 395.6,159.7 399.4,160.1 403.3,160.6 407.1,161.0 411.0,161.5 414.8,162.0 418.7,162.4 422.5,162.9 426.4,163.3 430.2,163.8 434.1,164.2 437.9,164.7" stroke="#ff0000"/><polyline points="284.0,78.0 287.8,79.2 291.7,80.8 295.5,82.8 299.4,85.2 303.2,86.9 307.1,87.6 310.9,87.6 314.8,88.2 318.6,90.0 322.5,92.3 326.3,94.4 330.2,96.1 334.0,96.3 337.9,96.2 341.7,96.5 345.6,98.3 349.4,101.4 353.3,108.0 357.1,115.8 360.9,123.8 364.8,131.5 368.6,138.5 372.5,144.7 376.3,149.1 380.2,152.4 384.0,155.0 387.9,157.3 391.7,159.1 395.6,159.0 399.4,158.9 403.3,158.7 407.1,158.5 411.0,158.3 414.8,158.2 418.7,158.0 422.5,157.8 426.4,157.6 430.2,157.5 434.1,157.3 437.9,157.1" stroke="#ff0000"/><polyline points="284.0,90.2 287.8,91.2 291.7,92.5 295.5,94.2 299.4,96.3 303.2,98.3 307.1,99.5 310.9,100.8 314.8,102.7 318.6,104.4 322.5,105.8 326.3,106.8 330.2,107.5 334.0,108.3 337.9,108.9 341.7,109.7 345.6,111.0 349.4,113.0 353.3,117.3 357.1,123.0 360.9,129.5 364.8,135.8 368.6,141.7 372.5,146.8 376.3,150.6 380.2,153.4 384.0,155.6 387.9,157.6 391.7,159.1 395.6,158.9 399.4,158.5 403.3,158.2 407.1,157.8 411.0,157.5 414.8,157.1 418.7,156.8 422.5,156.4 426.4,156.1 430.2,155.7 434.1,155.4 437.9,155.0" stroke="#0000ff"/><polyline points="284.0,85.2 287.8,88.0 291.7,90.2 295.5,91.9 299.4,92.4 303.2,91.6 307.1,90.6 310.9,88.8 314.8,87.2 318.6,88.4 322.5,91.4 326.3,95.0 330.2,97.6 334.0,97.2 337.9,95.9 341.7,95.7 345.6,98.6 349.4,105.6 353.3,115.2 357.1,124.7 360.9,132.1 364.8,138.8 368.6,144.7 372.5,148.9 376.3,152.2 380.2,154.8 384.0,157.0 387.9,158.7 391.7,159.2 395.6,158.4 399.4,157.5 403.3,156.7 407.1,155.8 411.0,154.9 414.8,154.1 418.7,153.2 422.5,152.4 426.4,151.5 430.2,150.6 434.1,149.8 437.9,148.9" stroke="#0000ff"/><polyline points="284.0,90.6 287.8,92.7 291.7,94.3 295.5,95.5 299.4,96.2 303.2,96.6 307.1,96.7 310.9,95.6 314.8,94.3 318.6,94.9 322.5,97.0 326.3,99.5 330.2,101.6 334.0,102.2 337.9,101.7 341.7,101.1 345.6,101.6 349.4,103.4 353.3,107.0 357.1,113.3 360.9,120.2 364.8,127.6 368.6,134.7 372.5,141.1 376.3,146.7 380.2,150.8 384.0,153.8 387.9,156.1 391.7,158.0 395.6,158.9 399.4,158.9 403.3,158.7 407.1,158.6 411.0,158.4 414.8,158.3 418.7,158.1 422.5,157.9 426.4,157.8 430.2,157.6 434.1,157.5 437.9,157.3" stroke="#0000ff"/><polyline points="284.0,87.7 287.8,89.3 291.7,91.0 295.5,92.7 299.4,94.5 303.2,96.0 307.1,97.0 310.9,97.9 314.8,99.1 318.6,100.7 322.5,102.4 326.3,104.4 330.2,106.4 334.0,108.1 337.9,109.4 341.7,110.6 345.6,112.2 349.4,114.4 353.3,118.4 357.1,123.8 360.9,129.8 364.8,135.7 368.6,141.2 372.5,146.1 376.3,149.9 380.2,152.9 384.0,155.3 387.9,157.3 391.7,159.0 395.6,158.5 399.4,157.8 403.3,157.1 407.1,156.3 411.0,155.6 414.8,154.9 418.7,154.2 422.5,153.5 426.4,152.7 430.2,152.0 434.1,151.3 437.9,150.6" stroke="#0000ff"/><polyline points="284.0,78.4 287.8,80.7 291.7,82.9 295.5,85.2 299.4,87.6 303.2,89.1 307.1,89.4 310.9,88.4 314.8,87.9 318.6,89.5 322.5,92.2 326.3,95.4 330.2,98.4 334.0,99.0 337.9,98.8 341.7,98.3 345.6,99.6 349.4,102.6 353.3,109.8 357.1,118.0 360.9,126.0 364.8,133.4 368.6,140.1 372.5,145.9 376.3,150.0 380.2,153.1 384.0,155.5 387.9,157.6 391.7,159.2 395.6,159.9 399.4,160.5 403.3,161.1 407.1,161.8 411.0,162.4 414.8,163.1 418.7,163.7 422.5,164.3 426.4,165.0 430.2,165.6 434.1,166.2 437.9,166.9" stroke="#0000ff"/><polyline points="284.0,70.9 287.8,73.5 291.7,75.7 295.5,77.5 299.4,78.3 303.2,78.1 307.1,77.6 310.9,77.5 314.8,78.4 318.6,81.3 322.5,84.6 326.3,87.4 330.2,89.2 334.0,88.8 337.9,88.2 341.7,88.8 345.6,91.9 349.4,97.9 353.3,106.9 357.1,116.1 360.9,124.5 364.8,132.2 368.6,139.3 372.5,145.1 376.3,149.5 380.2,152.9 384.0,155.6 387.9,157.9 391.7,159.2 395.6,158.6 399.4,158.0 403.3,157.4 407.1,156.7 411.0,156.1 414.8,155.5 418.7,154.9 422.5,154.3 426.4,153.6 430.2,153.0 434.1,152.4 437.9,151.8" stroke="#ff0000"/><polyline points="284.0,65.8 287.8,68.9 291.7,71.4 295.5,73.1 299.4,73.7 303.2,72.9 307.1,71.9 310.9,70.2 314.8,69.2 318.6,71.5 322.5,75.6 326.3,80.1 330.2,83.8 334.0,83.6 337.9,82.3 341.7,81.5 345.6,83.9 349.4,89.7 353.3,100.3 357.1,111.4 360.9,121.1 364.8,130.0 368.6,137.9 372.5,144.1 376.3,148.7 380.2,152.2 384.0,155.1 387.9,157.7 391.7,159.2 395.6,159.3 399.4,159.5 403.3,159.6 407.1,159.7 411.0,159.8 414.8,159.9 418.7,160.1 422.5,160.2 426.4,160.3 430.2,160.4 434.1,160.5 437.9,160.6" stroke="#0000ff"/><polyline points="284.0,84.7 287.8,87.3 291.7,89.7 295.5,92.4 299.4,95.2 303.2,97.5 307.1,98.5 310.9,97.8 314.8,97.1 318.6,97.8 322.5,99.9 326.3,102.3 330.2,104.5 334.0,105.4 337.9,105.6 341.7,105.8 345.6,107.2 349.4,109.7 353.3,114.3 357.1,120.5 360.9,126.8 364.8,133.1 368.6,139.0 372.5,144.5 376.3,148.9 380.2,152.2 384.0,154.8 387.9,157.0 391.7,158.8 395.6,159.3 399.4,159.4 403.3,159.5 407.1,159.5 411.0,159.6 414.8,159.7 418.7,159.8 422.5,159.8 426.4,159.9 430.2,160.0 434.1,160.1 437.9,160.2" stroke="#0000ff"/><polyline points="284.0,71.4 287.8,74.1 291.7,76.6 295.5,79.2 299.4,81.6 303.2,82.9 307.1,82.8 310.9,80.8 314.8,78.9 318.6,80.1 322.5,83.4 326.3,87.3 330.2,90.9 334.0,91.1 337.9,90.3 341.7,89.9 345.6,92.3 349.4,96.4 353.3,105.3 357.1,114.6 360.9,123.0 364.8,130.9 368.6,138.1 372.5,144.4 376.3,148.8 380.2,152.3 384.0,155.0 387.9,157.4 391.7,159.2 395.6,159.4 399.4,159.5 403.3,159.7 407.1,159.8 411.0,160.0 414.8,160.1 418.7,160.2 422.5,160.4 426.4,160.5 430.2,160.7 434.1,160.8 437.9,161.0" stroke="#0000ff"/><polyline points="284.0,79.0 287.8,81.6 291.7,83.8 295.5,86.2 299.4,88.7 303.2,90.2 307.1,90.1 310.9,87.7 314.8,85.2 318.6,85.6 322.5,88.1 326.3,91.2 330.2,94.0 334.0,93.6 337.9,92.6 341.7,91.9 345.6,94.1 349.4,97.8 353.3,106.0 357.1,114.8 360.9,123.0 364.8,130.8 368.6,137.9 372.5,144.4 376.3,149.1 380.2,152.6 384.0,155.2 387.9,157.4 391.7,159.1 395.6,159.0 399.4,158.8 403.3,158.6 407.1,158.4 411.0,158.2 414.8,158.0 418.7,157.8 422.5,157.6 426.4,157.4 430.2,157.2 434.1,157.0 437.9,156.8" stroke="#0000ff"/><polyline points="284.0,47.5 287.8,51.0 291.7,54.2 295.5,57.0 299.4,59.3 303.2,60.5 307.1,60.6 310.9,59.1 314.8,58.1 318.6,60.9 322.5,65.6 326.3,70.4 330.2,74.4 334.0,74.5 337.9,73.2 341.7,72.2 345.6,74.5 349.4,79.0 353.3,88.2 357.1,99.2 360.9,109.3 364.8,119.3 368.6,128.7 372.5,137.3 376.3,144.0 380.2,149.0 384.0,152.9 387.9,156.0 391.7,158.6 395.6,159.4 399.4,159.6 403.3,159.7 407.1,159.9 411.0,160.1 414.8,160.2 418.7,160.4 422.5,160.6 426.4,160.8 430.2,160.9 434.1,161.1 437.9,161.3" stroke="#ff0000"/><polyline points="284.0,87.3 287.8,89.9 291.7,91.8 295.5,93.4 299.4,94.8 303.2,95.4 307.1,95.6 310.9,95.8 314.8,96.6 318.6,98.3 322.5,100.3 326.3,102.2 330.2,103.6 334.0,104.0 337.9,104.1 341.7,104.7 345.6,106.4 349.4,109.8 353.3,116.0 357.1,123.0 360.9,130.1 364.8,136.6 368.6,142.6 372.5,147.4 376.3,150.8 380.2,153.5 384.0,155.8 387.9,157.8 391.7,159.2 395.6,159.8 399.4,160.3 403.3,160.8 407.1,161.3 411.0,161.9 414.8,162.4 418.7,162.9 422.5,163.5 426.4,164.0 430.2,164.5 434.1,165.1 437.9,165.6" stroke="#0000ff"/><polyline points="284.0,57.4 287.8,60.8 291.7,63.9 295.5,66.5 299.4,68.3 303.2,68.7 307.1,67.9 310.9,65.4 314.8,63.5 318.6,66.2 322.5,71.0 326.3,76.1 330.2,80.2 334.0,79.2 337.9,77.1 341.7,75.6 345.6,78.2 349.4,83.8 353.3,95.4 357.1,107.2 360.9,117.3 364.8,126.6 368.6,135.0 372.5,142.2 376.3,147.4 380.2,151.4 384.0,154.6 387.9,157.3 391.7,159.2 395.6,159.6 399.4,159.9 403.3,160.3 407.1,160.6 411.0,161.0 414.8,161.3 418.7,161.7 422.5,162.0 426.4,162.3 430.2,162.7 434.1,163.0 437.9,163.4" stroke="#ff0000"/><polyline points="284.0,79.7 287.8,81.6 291.7,83.6 295.5,85.7 299.4,87.9 303.2,89.5 307.1,90.2 310.9,90.6 314.8,91.4 318.6,92.5 322.5,94.1 326.3,95.9 330.2,97.6 334.0,98.7 337.9,99.7 341.7,100.9 345.6,103.0 349.4,106.4 353.3,112.5 357.1,119.4 360.9,126.9 364.8,133.9 368.6,140.3 372.5,145.8 376.3,149.8 380.2,152.9 384.0,155.4 387.9,157.6 391.7,159.2 395.6,159.3 399.4,159.4 403.3,159.6 407.1,159.7 411.0,159.8 414.8,159.9 418.7,160.0 422.5,160.1 426.4,160.2 430.2,160.3 434.1,160.5 437.9,160.6" stroke="#ff0000"/><polyline points="284.0,75.6 287.8,78.1 291.7,80.5 295.5,82.8 299.4,84.6 303.2,85.4 307.1,85.2 310.9,83.7 314.8,82.7 318.6,84.5 322.5,87.7 326.3,91.1 330.2,93.8 334.0,93.5 337.9,92.6 341.7,92.3 345.6,94.9 349.4,99.4 353.3,108.1 357.1,117.2 360.9,125.4 364.8,132.9 368.6,139.7 372.5,145.4 376.3,149.5 380.2,152.7 384.0,155.3 387.9,157.6 391.7,159.2 395.6,159.4 399.4,159.6 403.3,159.8 407.1,160.0 411.0,160.3 414.8,160.5 418.7,160.7 422.5,160.9 426.4,161.1 430.2,161.3 434.1,161.5 437.9,161.7" stroke="#0000ff"/><polyline points="284.0,75.6 287.8,79.1 291.7,81.6 295.5,83.4 299.4,84.7 303.2,85.3 307.1,85.2 310.9,84.1 314.8,83.4 318.6,85.1 322.5,88.1 326.3,91.8 330.2,95.5 334.0,96.6 337.9,96.4 341.7,95.5 345.6,96.4 349.4,98.8 353.3,105.4 357.1,113.6 360.9,121.7 364.8,129.6 368.6,136.9 372.5,143.2 376.3,147.9 380.2,151.5 384.0,154.4 387.9,156.9 391.7,158.9 395.6,159.7 399.4,160.2 403.3,160.7 407.1,161.2 411.0,161.7 414.8,162.2 418.7,162.7 422.5,163.2 426.4,163.7 430.2,164.2 434.1,164.7 437.9,165.2" stroke="#0000ff"/><polyline points="284.0,80.6 287.8,83.2 291.7,85.5 295.5,87.4 299.4,88.1 303.2,87.8 307.1,87.3 310.9,86.2 314.8,85.4 318.6,87.1 322.5,90.3 326.3,93.9 330.2,96.3 334.0,96.1 337.9,95.3 341.7,95.6 345.6,98.6 349.4,105.5 353.3,114.7 357.1,124.1 360.9,131.8 364.8,138.7 368.6,144.6 372.5,148.7 376.3,151.7 380.2,154.2 384.0,156.5 387.9,158.4 391.7,159.2 395.6,159.6 399.4,160.0 403.3,160.4 407.1,160.8 411.0,161.1 414.8,161.5 418.7,161.9 422.5,162.3 426.4,162.7 430.2,163.0 434.1,163.4 437.9,163.8" stroke="#ff0000"/><polyline points="284.0,67.4 287.8,70.8 291.7,73.6 295.5,75.4 299.4,76.1 303.2,75.9 307.1,75.3 310.9,73.8 314.8,72.8 318.6,75.2 322.5,79.2 326.3,83.3 330.2,86.9 334.0,86.8 337.9,85.8 341.7,85.3 345.6,87.8 349.4,92.1 353.3,100.8 357.1,110.2 360.9,118.8 364.8,127.1 368.6,134.9 372.5,141.9 376.3,147.1 380.2,151.1 384.0,154.2 387.9,156.9 391.7,159.0 395.6,159.5 399.4,159.8 403.3,160.1 407.1,160.4 411.0,160.7 414.8,161.1 418.7,161.4 422.5,161.7 426.4,162.0 430.2,162.3 434.1,162.6 437.9,162.9" stroke="#ff0000"/><polyline points="284.0,109.3 287.8,111.1 291.7,112.3 295.5,113.0 299.4,113.1 303.2,112.7 307.1,112.3 310.9,112.1 314.8,112.6 318.6,114.0 322.5,115.6 326.3,117.1 330.2,118.3 334.0,118.4 337.9,118.2 341.7,118.2 345.6,119.1 349.4,121.5 353.3,126.3 357.1,131.9 360.9,137.5 364.8,142.7 368.6,147.2 372.5,150.8 376.3,153.1 380.2,155.0 384.0,156.7 387.9,158.2 391.7,159.2 395.6,159.4 399.4,159.5 403.3,159.6 407.1,159.8 411.0,159.9 414.8,160.1 418.7,160.2 422.5,160.3 426.4,160.5 430.2,160.6 434.1,160.8 437.9,160.9" stroke="#0000ff"/><polyline points="284.0,107.9 287.8,108.8 291.7,109.4 295.5,109.5 299.4,109.1 303.2,108.4 307.1,107.7 310.9,107.2 314.8,107.1 318.6,108.4 322.5,110.3 326.3,112.0 330.2,113.5 334.0,113.6 337.9,113.1 341.7,112.6 345.6,113.1 349.4,114.6 353.3,118.7 357.1,124.4 360.9,130.3 364.8,136.3 368.6,141.8 372.5,146.9 376.3,150.8 380.2,153.7 384.0,155.8 387.9,157.5 391.7,158.9 395.6,158.9 399.4,158.7 403.3,158.4 407.1,158.1 411.0,157.8 414.8,157.5 418.7,157.2 422.5,157.0 426.4,156.7 430.2,156.4 434.1,156.1 437.9,155.8" stroke="#0000ff"/><polyline points="284.0,85.4 287.8,87.8 291.7,89.8 295.5,91.7 299.4,93.1 303.2,93.5 307.1,93.2 310.9,91.9 314.8,91.0 318.6,92.3 322.5,95.0 326.3,98.1 330.2,100.6 334.0,100.5 337.9,99.7 341.7,99.4 345.6,101.3 349.4,106.2 353.3,114.3 357.1,122.8 360.9,130.3 364.8,137.1 368.6,143.2 372.5,147.8 376.3,151.3 380.2,154.0 384.0,156.2 387.9,158.2 391.7,159.2 395.6,159.2 399.4,159.1 403.3,159.1 407.1,159.0 411.0,159.0 414.8,158.9 418.7,158.9 422.5,158.8 426.4,158.8 430.2,158.7 434.1,158.7 437.9,158.6" stroke="#ff0000"/><polyline points="284.0,100.6 287.8,101.9 291.7,103.2 295.5,104.1 299.4,104.8 303.2,105.1 307.1,105.3 310.9,106.2 314.8,107.8 318.6,109.7 322.5,111.2 326.3,112.3 330.2,113.2 334.0,113.8 337.9,114.4 341.7,115.3 345.6,116.8 349.4,119.4 353.3,124.0 357.1,129.2 360.9,134.9 364.8,140.2 368.6,145.0 372.5,149.1 376.3,152.0 380.2,154.3 384.0,156.2 387.9,158.0 391.7,159.2 395.6,160.2 399.4,161.1 403.3,162.1 407.1,163.0 411.0,163.9 414.8,164.9 418.7,165.8 422.5,166.8 426.4,167.7 430.2,168.7 434.1,169.6 437.9,170.6" stroke="#ff0000"/><polyline points="284.0,47.9 287.8,51.8 291.7,55.4 295.5,58.7 299.4,61.7 303.2,63.3 307.1,63.1 310.9,60.3 314.8,57.7 318.6,59.9 322.5,64.8 326.3,70.0 330.2,74.5 334.0,73.9 337.9,72.0 341.7,70.8 345.6,73.9 349.4,79.2 353.3,90.2 357.1,101.9 360.9,112.1 364.8,121.8 368.6,130.8 372.5,138.9 376.3,145.0 380.2,149.6 384.0,153.3 387.9,156.5 391.7,158.9 395.6,159.5 399.4,159.8 403.3,160.0 407.1,160.3 411.0,160.6 414.8,160.8 418.7,161.1 422.5,161.4 426.4,161.6 430.2,161.9 434.1,162.2 437.9,162.4" stroke="#ff0000"/><polyline points="284.0,75.9 287.8,77.6 291.7,79.7 295.5,82.4 299.4,85.2 303.2,86.9 307.1,87.5 310.9,87.2 314.8,87.2 318.6,88.6 322.5,91.0 326.3,93.5 330.2,94.9 334.0,94.8 337.9,94.7 341.7,95.9 345.6,99.3 349.4,106.3 353.3,115.0 357.1,123.8 360.9,131.4 364.8,138.2 368.6,144.1 372.5,148.3 376.3,151.5 380.2,154.1 384.0,156.5 387.9,158.4 391.7,159.2 395.6,159.5 399.4,159.8 403.3,160.1 407.1,160.3 411.0,160.6 414.8,160.9 418.7,161.2 422.5,161.5 426.4,161.7 430.2,162.0 434.1,162.3 437.9,162.6" stroke="#0000ff"/><polyline points="284.0,90.3 287.8,92.0 291.7,93.7 295.5,95.3 299.4,96.7 303.2,97.2 307.1,97.0 310.9,96.0 314.8,95.5 318.6,97.1 322.5,99.7 326.3,102.5 330.2,104.9 334.0,105.0 337.9,104.4 341.7,104.1 345.6,105.9 349.4,109.1 353.3,116.0 357.1,123.1 360.9,129.7 364.8,136.0 368.6,141.8 372.5,147.0 376.3,150.7 380.2,153.5 384.0,155.8 387.9,157.8 391.7,159.2 395.6,159.5 399.4,159.8 403.3,160.1 407.1,160.4 411.0,160.7 414.8,161.0 418.7,161.3 422.5,161.6 426.4,161.9 430.2,162.2 434.1,162.5 437.9,162.8" stroke="#ff0000"/><polyline points="284.0,50.2 287.8,54.4 291.7,58.0 295.5,61.1 299.4,63.8 303.2,64.9 307.1,64.1 310.9,61.3 314.8,59.0 318.6,61.4 322.5,66.1 326.3,71.1 330.2,75.3 334.0,74.4 337.9,72.3 341.7,70.5 345.6,72.9 349.4,77.7 353.3,89.2 357.1,101.5 360.9,112.4 364.8,122.6 368.6,131.9 372.5,140.1 376.3,145.8 380.2,150.3 384.0,153.7 387.9,156.8 391.7,159.2 395.6,160.0 399.4,160.7 403.3,161.5 407.1,162.2 411.0,163.0 414.8,163.7 418.7,164.5 422.5,165.2 426.4,166.0 430.2,166.7 434.1,167.5 437.9,168.3" stroke="#ff0000"/><polyline points="284.0,62.9 287.8,66.7 291.7,69.9 295.5,72.3 299.4,73.8 303.2,73.6 307.1,72.1 310.9,68.4 314.8,65.2 318.6,67.5 322.5,72.6 326.3,77.8 330.2,81.8 334.0,79.7 337.9,76.6 341.7,74.6 345.6,77.6 349.4,83.6 353.3,96.0 357.1,108.3 360.9,118.2 364.8,127.4 368.6,135.8 372.5,142.8 376.3,147.7 380.2,151.4 384.0,154.5 387.9,157.2 391.7,159.2 395.6,159.3 399.4,159.5 403.3,159.6 407.1,159.7 411.0,159.8 414.8,160.0 418.7,160.1 422.5,160.2 426.4,160.3 430.2,160.4 434.1,160.6 437.9,160.7" stroke="#ff0000"/><polyline points="284.0,84.6 287.8,86.4 291.7,88.3 295.5,90.3 299.4,92.2 303.2,93.3 307.1,93.6 310.9,93.5 314.8,93.9 318.6,95.7 322.5,98.2 326.3,100.9 330.2,103.3 334.0,104.0 337.9,104.0 341.7,104.1 345.6,105.6 349.4,109.3 353.3,116.0 357.1,123.3 360.9,130.2 364.8,136.7 368.6,142.5 372.5,147.3 376.3,151.0 380.2,153.8 384.0,156.1 387.9,158.0 391.7,159.2 395.6,160.5 399.4,161.8 403.3,163.1 407.1,164.4 411.0,165.6 414.8,166.9 418.7,168.2 422.5,169.5 426.4,170.8 430.2,172.0 434.1,173.3 437.9,174.6" stroke="#ff0000"/><polyline points="284.0,76.6 287.8,79.2 291.7,81.4 295.5,83.1 299.4,83.8 303.2,83.7 307.1,83.4 310.9,83.3 314.8,84.1 318.6,86.8 322.5,90.0 326.3,92.9 330.2,94.8 334.0,94.6 337.9,94.1 341.7,94.4 345.6,97.0 349.4,102.5 353.3,110.8 357.1,119.6 360.9,127.5 364.8,134.8 368.6,141.3 372.5,146.5 376.3,150.4 380.2,153.5 384.0,156.0 387.9,158.1 391.7,159.2 395.6,160.0 399.4,160.8 403.3,161.6 407.1,162.3 411.0,163.1 414.8,163.9 418.7,164.7 422.5,165.4 426.4,166.2 430.2,167.0 434.1,167.8 437.9,168.6" stroke="#ff0000"/><polyline points="284.0,69.5 287.8,72.5 291.7,75.0 295.5,77.1 299.4,78.2 303.2,78.2 307.1,78.0 310.9,77.4 314.8,77.5 318.6,79.8 322.5,83.3 326.3,87.2 330.2,90.6 334.0,91.4 337.9,91.2 341.7,91.5 345.6,94.2 349.4,99.9 353.3,108.7 357.1,117.8 360.9,125.8 364.8,133.3 368.6,140.0 372.5,145.5 376.3,149.6 380.2,152.9 384.0,155.6 387.9,157.9 391.7,159.2 395.6,158.8 399.4,158.3 403.3,157.8 407.1,157.4 411.0,156.9 414.8,156.5 418.7,156.0 422.5,155.6 426.4,155.1 430.2,154.6 434.1,154.2 437.9,153.7" stroke="#0000ff"/><polyline points="284.0,96.1 287.8,97.9 291.7,99.7 295.5,101.4 299.4,103.2 303.2,104.2 307.1,104.4 310.9,103.8 314.8,103.2 318.6,103.8 322.5,105.4 326.3,107.6 330.2,109.9 334.0,110.9 337.9,111.2 341.7,111.5 345.6,113.0 349.4,115.3 353.3,120.6 357.1,126.6 360.9,132.7 364.8,138.5 368.6,143.8 372.5,148.4 376.3,151.6 380.2,154.1 384.0,156.1 387.9,157.8 391.7,159.2 395.6,160.3 399.4,161.3 403.3,162.4 407.1,163.4 411.0,164.5 414.8,165.5 418.7,166.6 422.5,167.6 426.4,168.7 430.2,169.7 434.1,170.8 437.9,171.8" stroke="#0000ff"/><polyline points="284.0,103.2 287.8,104.8 291.7,106.5 295.5,108.1 299.4,109.4 303.2,110.0 307.1,110.5 310.9,111.4 314.8,112.7 318.6,114.1 322.5,115.3 326.3,116.1 330.2,116.2 334.0,116.2 337.9,116.5 341.7,117.6 345.6,119.3 349.4,123.2 353.3,128.1 357.1,133.5 360.9,138.9 364.8,143.9 368.6,148.2 372.5,151.4 376.3,153.7 380.2,155.5 384.0,157.2 387.9,158.6 391.7,159.2 395.6,159.3 399.4,159.4 403.3,159.5 407.1,159.6 411.0,159.6 414.8,159.7 418.7,159.8 422.5,159.9 426.4,160.0 430.2,160.1 434.1,160.1 437.9,160.2" stroke="#ff0000"/><polyline points="284.0,90.0 287.8,92.1 291.7,94.1 295.5,95.9 299.4,97.2 303.2,97.6 307.1,97.4 310.9,96.7 314.8,96.2 318.6,97.4 322.5,99.6 326.3,102.1 330.2,104.0 334.0,104.1 337.9,103.8 341.7,104.0 345.6,105.9 349.4,110.3 353.3,117.4 357.1,125.0 360.9,132.0 364.8,138.4 368.6,144.1 372.5,148.5 376.3,151.8 380.2,154.3 384.0,156.4 387.9,158.2 391.7,159.2 395.6,159.9 399.4,160.5 403.3,161.1 407.1,161.8 411.0,162.4 414.8,163.0 418.7,163.7 422.5,164.3 426.4,164.9 430.2,165.6 434.1,166.2 437.9,166.9" stroke="#ff0000"/><polyline points="284.0,56.3 287.8,60.8 291.7,64.2 295.5,66.7 299.4,68.1 303.2,67.9 307.1,66.8 310.9,64.0 314.8,61.8 318.6,64.3 322.5,69.3 326.3,74.5 330.2,78.7 334.0,77.5 337.9,75.3 341.7,73.8 345.6,76.5 349.4,82.7 353.3,94.7 357.1,107.0 360.9,117.3 364.8,126.7 368.6,135.3 372.5,142.3 376.3,147.4 380.2,151.4 384.0,154.6 387.9,157.4 391.7,159.2 395.6,158.8 399.4,158.4 403.3,157.9 407.1,157.5 411.0,157.1 414.8,156.6 418.7,156.2 422.5,155.8 426.4,155.3 430.2,154.9 434.1,154.5 437.9,154.0" stroke="#ff0000"/><polyline points="284.0,104.2 287.8,106.5 291.7,108.0 295.5,108.9 299.4,109.2 303.2,109.1 307.1,108.4 310.9,107.1 314.8,106.2 318.6,107.3 322.5,109.5 326.3,111.6 330.2,113.5 334.0,113.3 337.9,112.2 341.7,110.9 345.6,111.0 349.4,112.4 353.3,117.0 357.1,123.5 360.9,129.9 364.8,136.2 368.6,142.0 372.5,146.9 376.3,150.6 380.2,153.3 384.0,155.4 387.9,157.3 391.7,158.8 395.6,158.9 399.4,158.6 403.3,158.3 407.1,158.0 411.0,157.7 414.8,157.4 418.7,157.1 422.5,156.8 426.4,156.5 430.2,156.2 434.1,155.9 437.9,155.6" stroke="#ff0000"/><polyline points="284.0,63.9 287.8,67.2 291.7,70.0 295.5,72.7 299.4,74.9 303.2,75.8 307.1,75.5 310.9,73.9 314.8,72.7 318.6,74.6 322.5,78.2 326.3,82.1 330.2,85.3 334.0,85.0 337.9,84.0 341.7,83.6 345.6,86.3 349.4,91.4 353.3,101.2 357.1,111.3 360.9,120.4 364.8,128.8 368.6,136.5 372.5,143.1 376.3,147.9 380.2,151.6 384.0,154.6 387.9,157.3 391.7,159.2 395.6,159.2 399.4,159.3 403.3,159.3 407.1,159.3 411.0,159.3 414.8,159.4 418.7,159.4 422.5,159.4 426.4,159.4 430.2,159.5 434.1,159.5 437.9,159.5" stroke="#ff0000"/><polyline points="284.0,86.4 287.8,89.3 291.7,91.7 295.5,93.6 299.4,95.0 303.2,95.6 307.1,95.2 310.9,93.1 314.8,90.8 318.6,91.6 322.5,94.4 326.3,97.6 330.2,100.3 334.0,100.1 337.9,98.7 341.7,97.4 345.6,98.2 349.4,100.8 353.3,106.5 357.1,114.4 360.9,121.8 364.8,129.4 368.6,136.4 372.5,142.7 376.3,147.9 380.2,151.5 384.0,154.4 387.9,156.6 391.7,158.5 395.6,160.0 399.4,160.8 403.3,161.5 407.1,162.3 411.0,163.1 414.8,163.8 418.7,164.6 422.5,165.4 426.4,166.1 430.2,166.9 434.1,167.7 437.9,168.4" stroke="#ff0000"/><polyline points="284.0,96.8 287.8,98.1 291.7,99.5 295.5,101.4 299.4,103.4 303.2,105.1 307.1,106.1 310.9,107.2 314.8,108.4 318.6,108.9 322.5,109.4 326.3,110.2 330.2,110.8 334.0,112.1 337.9,113.6 341.7,115.6 345.6,117.7 349.4,121.1 353.3,125.4 357.1,130.3 360.9,136.0 364.8,141.2 368.6,146.0 372.5,149.8 376.3,152.6 380.2,154.8 384.0,156.6 387.9,158.3 391.7,159.2 395.6,159.1 399.4,158.9 403.3,158.8 407.1,158.6 411.0,158.5 414.8,158.3 418.7,158.2 422.5,158.0 426.4,157.8 430.2,157.7 434.1,157.5 437.9,157.4" stroke="#0000ff"/><polyline points="284.0,84.8 287.8,86.2 291.7,87.7 295.5,89.3 299.4,90.2 303.2,90.3 307.1,90.3 310.9,90.6 314.8,91.8 318.6,93.9 322.5,96.5 326.3,98.9 330.2,100.4 334.0,100.5 337.9,100.6 341.7,102.0 345.6,104.9 349.4,111.3 353.3,119.0 357.1,126.6 360.9,133.2 364.8,139.3 368.6,144.8 372.5,148.8 376.3,152.1 380.2,154.6 384.0,156.8 387.9,158.6 391.7,159.2 395.6,159.7 399.4,160.1 403.3,160.5 407.1,161.0 411.0,161.4 414.8,161.8 418.7,162.3 422.5,162.7 426.4,163.1 430.2,163.6 434.1,164.0 437.9,164.4" stroke="#0000ff"/><polyline points="284.0,71.5 287.8,75.4 291.7,78.3 295.5,80.1 299.4,80.7 303.2,80.0 307.1,78.6 310.9,75.9 314.8,73.9 318.6,76.1 322.5,80.4 326.3,85.2 330.2,89.1 334.0,88.3 337.9,86.2 341.7,84.3 345.6,86.1 349.4,90.8 353.3,101.3 357.1,112.2 360.9,121.4 364.8,129.9 368.6,137.7 372.5,144.2 376.3,148.9 380.2,152.5 384.0,155.2 387.9,157.6 391.7,159.2 395.6,160.1 399.4,160.9 403.3,161.8 407.1,162.6 411.0,163.5 414.8,164.3 418.7,165.2 422.5,166.1 426.4,166.9 430.2,167.8 434.1,168.6 437.9,169.5" stroke="#ff0000"/><polyline points="284.0,67.1 287.8,70.6 291.7,73.5 295.5,75.6 299.4,76.9 303.2,77.8 307.1,78.2 310.9,77.0 314.8,75.3 318.6,76.7 322.5,80.3 326.3,84.6 330.2,88.7 334.0,90.0 337.9,89.7 341.7,88.8 345.6,89.6 349.4,92.0 353.3,96.9 357.1,104.3 360.9,112.0 364.8,120.5 368.6,128.8 372.5,136.5 376.3,143.5 380.2,148.7 384.0,152.6 387.9,155.4 391.7,157.7 395.6,159.0 399.4,159.6 403.3,159.7 407.1,159.9 411.0,160.0 414.8,160.2 418.7,160.4 422.5,160.5 426.4,160.7 430.2,160.9 434.1,161.0 437.9,161.2" stroke="#ff0000"/><polyline points="284.0,89.9 287.8,91.9 291.7,93.7 295.5,95.0 299.4,95.8 303.2,95.9 307.1,95.5 310.9,94.8 314.8,94.6 318.6,96.5 322.5,99.3 326.3,102.1 330.2,104.6 334.0,104.8 337.9,104.3 341.7,104.1 345.6,105.8 349.4,108.8 353.3,115.6 357.1,122.8 360.9,129.6 364.8,136.0 368.6,141.9 372.5,147.1 376.3,150.8 380.2,153.7 384.0,155.9 387.9,157.8 391.7,159.2 395.6,160.6 399.4,161.9 403.3,163.3 407.1,164.7 411.0,166.0 414.8,167.4 418.7,168.7 422.5,170.1 426.4,171.4 430.2,172.8 434.1,174.1 437.9,175.5" stroke="#0000ff"/><polyline points="284.0,84.0 287.8,86.1 291.7,88.1 295.5,89.9 299.4,91.2 303.2,91.8 307.1,92.0 310.9,92.3 314.8,93.1 318.6,94.8 322.5,96.9 326.3,99.1 330.2,100.7 334.0,101.3 337.9,101.8 341.7,103.0 345.6,105.6 349.4,110.5 353.3,117.4 357.1,124.5 360.9,131.2 364.8,137.4 368.6,143.1 372.5,147.7 376.3,151.2 380.2,153.9 384.0,156.2 387.9,158.2 391.7,159.2 395.6,159.5 399.4,159.7 403.3,159.9 407.1,160.2 411.0,160.4 414.8,160.6 418.7,160.9 422.5,161.1 426.4,161.3 430.2,161.6 434.1,161.8 437.9,162.0" stroke="#0000ff"/><polyline points="284.0,79.4 287.8,81.5 291.7,83.6 295.5,85.6 299.4,87.2 303.2,88.1 307.1,88.1 310.9,86.9 314.8,86.0 318.6,87.7 322.5,90.8 326.3,93.9 330.2,96.6 334.0,96.7 337.9,95.8 341.7,95.1 345.6,96.7 349.4,99.8 353.3,106.7 357.1,114.8 360.9,122.4 364.8,130.0 368.6,137.0 372.5,143.4 376.3,148.4 380.2,152.0 384.0,154.8 387.9,157.1 391.7,158.9 395.6,159.5 399.4,159.7 403.3,160.0 407.1,160.2 411.0,160.5 414.8,160.7 418.7,161.0 422.5,161.2 426.4,161.5 430.2,161.7 434.1,162.0 437.9,162.3" stroke="#0000ff"/><polyline points="284.0,63.0 287.8,66.0 291.7,68.7 295.5,71.1 299.4,72.9 303.2,73.8 307.1,74.0 310.9,73.4 314.8,73.3 318.6,75.3 322.5,78.5 326.3,81.9 330.2,84.9 334.0,85.5 337.9,85.6 341.7,86.3 345.6,89.3 349.4,94.3 353.3,103.1 357.1,112.3 360.9,120.8 364.8,128.9 368.6,136.5 372.5,143.0 376.3,147.8 380.2,151.6 384.0,154.7 387.9,157.4 391.7,159.2 395.6,159.6 399.4,159.9 403.3,160.2 407.1,160.6 411.0,160.9 414.8,161.3 418.7,161.6 422.5,161.9 426.4,162.3 430.2,162.6 434.1,163.0 437.9,163.3" stroke="#ff0000"/><polyline points="284.0,82.3 287.8,84.9 291.7,87.2 295.5,89.0 299.4,90.4 303.2,90.9 307.1,90.4 310.9,88.8 314.8,87.3 318.6,88.4 322.5,91.1 326.3,94.6 330.2,97.9 334.0,98.5 337.9,97.9 341.7,97.1 345.6,98.5 349.4,101.3 353.3,108.5 357.1,116.5 360.9,124.0 364.8,131.4 368.6,138.2 372.5,144.6 376.3,149.4 380.2,152.9 384.0,155.4 387.9,157.5 391.7,159.1 395.6,159.4 399.4,159.6 403.3,159.8 407.1,160.0 411.0,160.2 414.8,160.4 418.7,160.6 422.5,160.8 426.4,161.0 430.2,161.2 434.1,161.4 437.9,161.6" stroke="#0000ff"/><polyline points="284.0,70.8 287.8,73.3 291.7,75.6 295.5,77.6 299.4,79.2 303.2,79.5 307.1,78.9 310.9,77.1 314.8,76.0 318.6,78.3 322.5,82.0 326.3,85.6 330.2,88.3 334.0,87.3 337.9,85.9 341.7,85.3 345.6,87.9 349.4,92.4 353.3,101.9 357.1,111.8 360.9,120.8 364.8,129.2 368.6,136.8 372.5,143.5 376.3,148.3 380.2,151.9 384.0,154.8 387.9,157.3 391.7,159.2 395.6,160.1 399.4,161.0 403.3,161.9 407.1,162.8 411.0,163.7 414.8,164.6 418.7,165.5 422.5,166.4 426.4,167.3 430.2,168.1 434.1,169.0 437.9,169.9" stroke="#ff0000"/><polyline points="284.0,109.3 287.8,110.5 291.7,111.4 295.5,112.1 299.4,112.9 303.2,113.4 307.1,113.5 310.9,113.7 314.8,114.3 318.6,115.1 322.5,115.9 326.3,116.4 330.2,116.8 334.0,117.1 337.9,117.4 341.7,118.1 345.6,119.3 349.4,121.1 353.3,124.3 357.1,128.7 360.9,133.6 364.8,138.6 368.6,143.6 372.5,148.2 376.3,151.8 380.2,154.3 384.0,156.2 387.9,157.7 391.7,158.9 395.6,159.4 399.4,159.6 403.3,159.8 407.1,159.9 411.0,160.1 414.8,160.3 418.7,160.5 422.5,160.6 426.4,160.8 430.2,161.0 434.1,161.2 437.9,161.3" stroke="#ff0000"/><polyline points="284.0,47.9 287.8,52.3 291.7,56.0 295.5,59.0 299.4,61.1 303.2,61.5 307.1,60.7 310.9,57.5 314.8,54.7 318.6,57.0 322.5,62.1 326.3,67.9 330.2,72.6 334.0,71.7 337.9,69.6 341.7,68.3 345.6,71.5 349.4,77.9 353.3,90.6 357.1,103.5 360.9,114.3 364.8,124.3 368.6,133.3 372.5,140.8 376.3,146.2 380.2,150.4 384.0,153.9 387.9,157.0 391.7,159.2 395.6,159.9 399.4,160.6 403.3,161.3 407.1,161.9 411.0,162.6 414.8,163.3 418.7,164.0 422.5,164.7 426.4,165.3 430.2,166.0 434.1,166.7 437.9,167.4" stroke="#ff0000"/><polyline points="284.0,57.5 287.8,60.8 291.7,63.7 295.5,66.4 299.4,68.7 303.2,70.0 307.1,69.9 310.9,67.8 314.8,66.1 318.6,67.9 322.5,71.9 326.3,76.2 330.2,80.0 334.0,80.0 337.9,78.8 341.7,77.9 345.6,80.2 349.4,84.6 353.3,93.8 357.1,104.5 360.9,114.3 364.8,123.9 368.6,132.6 372.5,140.3 376.3,146.1 380.2,150.4 384.0,153.8 387.9,156.6 391.7,158.8 395.6,159.6 399.4,160.0 403.3,160.4 407.1,160.8 411.0,161.2 414.8,161.6 418.7,162.0 422.5,162.4 426.4,162.8 430.2,163.2 434.1,163.7 437.9,164.1" stroke="#ff0000"/><polyline points="284.0,106.1 287.8,106.6 291.7,107.4 295.5,108.7 299.4,110.3 303.2,111.4 307.1,111.6 310.9,111.7 314.8,112.4 318.6,113.5 322.5,114.6 326.3,115.7 330.2,116.9 334.0,117.5 337.9,117.8 341.7,118.1 345.6,119.1 349.4,121.0 353.3,125.2 357.1,130.2 360.9,135.6 364.8,140.7 368.6,145.5 372.5,149.7 376.3,152.8 380.2,155.1 384.0,156.8 387.9,158.2 391.7,159.2 395.6,159.2 399.4,159.3 403.3,159.3 407.1,159.3 411.0,159.3 414.8,159.4 418.7,159.4 422.5,159.4 426.4,159.4 430.2,159.5 434.1,159.5 437.9,159.5" stroke="#0000ff"/><polyline points="284.0,87.7 287.8,88.7 291.7,90.1 295.5,91.7 299.4,93.0 303.2,93.8 307.1,94.1 310.9,94.3 314.8,94.7 318.6,95.8 322.5,97.5 326.3,99.8 330.2,102.0 334.0,103.3 337.9,104.1 341.7,105.1 345.6,107.1 349.4,111.0 353.3,117.1 357.1,123.9 360.9,130.7 364.8,137.1 368.6,142.8 372.5,147.5 376.3,150.9 380.2,153.6 384.0,155.9 387.9,158.0 391.7,159.2 395.6,158.5 399.4,157.8 403.3,157.0 407.1,156.3 411.0,155.6 414.8,154.9 418.7,154.1 422.5,153.4 426.4,152.7 430.2,151.9 434.1,151.2 437.9,150.5" stroke="#0000ff"/><polyline points="284.0,97.0 287.8,98.0 291.7,99.3 295.5,100.8 299.4,102.5 303.2,103.7 307.1,104.0 310.9,103.3 314.8,102.5 318.6,103.2 322.5,104.9 326.3,107.1 330.2,109.3 334.0,110.3 337.9,110.3 341.7,110.1 345.6,110.8 349.4,112.7 353.3,116.6 357.1,122.6 360.9,128.8 364.8,135.1 368.6,140.9 372.5,146.0 376.3,150.1 380.2,153.0 384.0,155.3 387.9,157.2 391.7,158.7 395.6,159.7 399.4,160.2 403.3,160.7 407.1,161.1 411.0,161.6 414.8,162.1 418.7,162.6 422.5,163.0 426.4,163.5 430.2,164.0 434.1,164.5 437.9,164.9" stroke="#0000ff"/><polyline points="284.0,58.0 287.8,61.2 291.7,63.9 295.5,66.1 299.4,67.2 303.2,67.1 307.1,66.6 310.9,65.7 314.8,65.6 318.6,68.4 322.5,72.6 326.3,76.7 330.2,79.6 334.0,79.2 337.9,78.2 341.7,78.7 345.6,82.3 349.4,90.2 353.3,101.4 357.1,112.7 360.9,122.3 364.8,131.0 368.6,138.8 372.5,144.6 376.3,148.9 380.2,152.3 384.0,155.3 387.9,157.9 391.7,159.2 395.6,158.8 399.4,158.4 403.3,158.0 407.1,157.6 411.0,157.2 414.8,156.8 418.7,156.4 422.5,156.0 426.4,155.6 430.2,155.2 434.1,154.8 437.9,154.4" stroke="#0000ff"/><polyline points="284.0,94.3 287.8,96.3 291.7,98.0 295.5,99.1 299.4,99.4 303.2,98.9 307.1,98.0 310.9,97.1 314.8,97.1 318.6,99.4 322.5,102.3 326.3,104.9 330.2,106.7 334.0,105.9 337.9,104.5 341.7,103.9 345.6,105.6 349.4,109.9 353.3,117.3 357.1,124.9 360.9,131.3 364.8,137.4 368.6,143.1 372.5,147.9 376.3,151.4 380.2,154.1 384.0,156.3 387.9,158.1 391.7,159.2 395.6,159.4 399.4,159.6 403.3,159.8 407.1,160.0 411.0,160.1 414.8,160.3 418.7,160.5 422.5,160.7 426.4,160.9 430.2,161.1 434.1,161.2 437.9,161.4" stroke="#0000ff"/><polyline points="284.0,81.1 287.8,84.4 291.7,86.9 295.5,88.6 299.4,89.8 303.2,90.4 307.1,90.0 310.9,87.7 314.8,85.2 318.6,86.1 322.5,89.2 326.3,92.8 330.2,95.9 334.0,96.0 337.9,94.7 341.7,93.6 345.6,94.8 349.4,97.8 353.3,103.9 357.1,112.1 360.9,119.6 364.8,127.4 368.6,134.8 372.5,141.7 376.3,147.4 380.2,151.4 384.0,154.4 387.9,156.6 391.7,158.5 395.6,159.9 399.4,160.6 403.3,161.3 407.1,161.9 411.0,162.6 414.8,163.3 418.7,164.0 422.5,164.7 426.4,165.3 430.2,166.0 434.1,166.7 437.9,167.4" stroke="#0000ff"/><polyline points="284.0,99.3 287.8,99.8 291.7,100.9 295.5,102.2 299.4,103.5 303.2,104.3 307.1,104.6 310.9,104.8 314.8,105.4 318.6,106.8 322.5,108.4 326.3,110.1 330.2,112.0 334.0,113.1 337.9,113.6 341.7,113.8 345.6,114.8 349.4,116.7 353.3,121.3 357.1,126.9 360.9,132.9 364.8,138.7 368.6,143.9 372.5,148.5 376.3,151.8 380.2,154.3 384.0,156.2 387.9,157.9 391.7,159.2 395.6,159.9 399.4,160.6 403.3,161.2 407.1,161.9 411.0,162.6 414.8,163.2 418.7,163.9 422.5,164.6 426.4,165.2 430.2,165.9 434.1,166.5 437.9,167.2" stroke="#0000ff"/><polyline points="284.0,85.2 287.8,87.0 291.7,88.8 295.5,91.0 299.4,93.2 303.2,94.6 307.1,94.8 310.9,93.7 314.8,92.6 318.6,93.5 322.5,95.7 326.3,98.5 330.2,101.1 334.0,101.6 337.9,101.4 341.7,101.4 345.6,103.3 349.4,106.8 353.3,113.8 357.1,121.4 360.9,128.5 364.8,135.2 368.6,141.4 372.5,146.6 376.3,150.3 380.2,153.3 384.0,155.6 387.9,157.7 391.7,159.2 395.6,159.4 399.4,159.5 403.3,159.7 407.1,159.8 411.0,160.0 414.8,160.1 418.7,160.3 422.5,160.4 426.4,160.6 430.2,160.7 434.1,160.9 437.9,161.0" stroke="#0000ff"/><polyline points="284.0,90.0 287.8,92.4 291.7,94.3 295.5,95.9 299.4,97.0 303.2,97.3 307.1,96.6 310.9,94.7 314.8,93.1 318.6,94.3 322.5,96.9 326.3,99.8 330.2,102.4 334.0,102.2 337.9,101.0 341.7,99.9 345.6,101.2 349.4,103.9 353.3,110.9 357.1,118.9 360.9,126.3 364.8,133.5 368.6,140.0 372.5,145.8 376.3,150.1 380.2,153.2 384.0,155.5 387.9,157.5 391.7,159.1 395.6,159.4 399.4,159.7 403.3,159.9 407.1,160.1 411.0,160.3 414.8,160.5 418.7,160.7 422.5,161.0 426.4,161.2 430.2,161.4 434.1,161.6 437.9,161.8" stroke="#0000ff"/><polyline points="284.0,104.5 287.8,105.0 291.7,106.0 295.5,107.4 299.4,108.9 303.2,109.9 307.1,110.1 310.9,109.7 314.8,109.7 318.6,110.8 322.5,112.4 326.3,114.5 330.2,116.7 334.0,117.6 337.9,117.7 341.7,117.6 345.6,118.6 349.4,120.4 353.3,124.9 357.1,130.0 360.9,135.2 364.8,140.1 368.6,144.8 372.5,149.1 376.3,152.3 380.2,154.7 384.0,156.4 387.9,158.0 391.7,159.2 395.6,159.7 399.4,160.1 403.3,160.6 407.1,161.0 411.0,161.4 414.8,161.9 418.7,162.3 422.5,162.8 426.4,163.2 430.2,163.6 434.1,164.1 437.9,164.5" stroke="#0000ff"/><polyline points="284.0,110.9 287.8,112.2 291.7,113.2 295.5,113.7 299.4,113.6 303.2,113.6 307.1,113.7 310.9,113.6 314.8,113.7 318.6,114.5 322.5,115.8 326.3,117.2 330.2,118.5 334.0,119.4 337.9,119.5 341.7,118.8 345.6,117.9 349.4,117.9 353.3,119.4 357.1,123.5 360.9,128.9 364.8,134.8 368.6,140.2 372.5,145.1 376.3,149.5 380.2,152.7 384.0,155.0 387.9,156.8 391.7,158.2 395.6,159.0 399.4,159.2 403.3,159.2 407.1,159.1 411.0,159.1 414.8,159.1 418.7,159.1 422.5,159.0 426.4,159.0 430.2,159.0 434.1,159.0 437.9,158.9" stroke="#0000ff"/><polyline points="284.0,102.9 287.8,103.4 291.7,104.4 295.5,105.6 299.4,106.5 303.2,106.7 307.1,106.8 310.9,107.0 314.8,107.6 318.6,108.6 322.5,110.0 326.3,111.3 330.2,112.0 334.0,112.3 337.9,112.5 341.7,113.7 345.6,115.9 349.4,120.6 353.3,126.3 357.1,132.2 360.9,137.7 364.8,142.8 368.6,147.4 372.5,150.9 376.3,153.6 380.2,155.6 384.0,157.3 387.9,158.7 391.7,159.2 395.6,159.8 399.4,160.4 403.3,161.0 407.1,161.6 411.0,162.2 414.8,162.8 418.7,163.4 422.5,164.0 426.4,164.6 430.2,165.2 434.1,165.8 437.9,166.4" stroke="#0000ff"/><polyline points="284.0,74.2 287.8,76.8 291.7,79.2 295.5,81.5 299.4,83.0 303.2,83.4 307.1,82.8 310.9,81.1 314.8,79.9 318.6,82.1 322.5,86.0 326.3,89.8 330.2,92.4 334.0,91.2 337.9,89.4 341.7,88.9 345.6,92.0 349.4,98.1 353.3,108.1 357.1,118.1 360.9,126.3 364.8,133.8 368.6,140.6 372.5,146.1 376.3,150.1 380.2,153.2 384.0,155.7 387.9,158.0 391.7,159.2 395.6,159.0 399.4,158.8 403.3,158.5 407.1,158.3 411.0,158.1 414.8,157.8 418.7,157.6 422.5,157.4 426.4,157.1 430.2,156.9 434.1,156.7 437.9,156.4" stroke="#0000ff"/><polyline points="284.0,78.2 287.8,81.1 291.7,83.6 295.5,85.8 299.4,87.3 303.2,87.8 307.1,87.5 310.9,86.2 314.8,85.4 318.6,87.5 322.5,91.1 326.3,94.7 330.2,97.3 334.0,96.5 337.9,95.0 341.7,94.2 345.6,96.3 349.4,101.6 353.3,110.8 357.1,120.3 360.9,128.3 364.8,135.6 368.6,142.1 372.5,147.0 376.3,150.7 380.2,153.5 384.0,155.9 387.9,158.1 391.7,159.2 395.6,159.5 399.4,159.7 403.3,159.9 407.1,160.1 411.0,160.4 414.8,160.6 418.7,160.8 422.5,161.0 426.4,161.3 430.2,161.5 434.1,161.7 437.9,161.9" stroke="#0000ff"/><polyline points="284.0,90.9 287.8,92.7 291.7,94.2 295.5,95.2 299.4,95.6 303.2,95.8 307.1,96.0 310.9,96.1 314.8,96.7 318.6,98.4 322.5,100.7 326.3,102.9 330.2,105.0 334.0,106.1 337.9,106.3 341.7,106.3 345.6,107.0 349.4,108.7 353.3,112.2 357.1,118.2 360.9,124.7 364.8,131.5 368.6,137.9 372.5,143.6 376.3,148.4 380.2,151.9 384.0,154.6 387.9,156.7 391.7,158.5 395.6,158.5 399.4,157.8 403.3,157.2 407.1,156.5 411.0,155.8 414.8,155.1 418.7,154.4 422.5,153.7 426.4,153.0 430.2,152.3 434.1,151.7 437.9,151.0" stroke="#0000ff"/><polyline points="284.0,104.0 287.8,105.3 291.7,106.4 295.5,107.5 299.4,108.1 303.2,108.0 307.1,107.5 310.9,106.8 314.8,106.5 318.6,107.1 322.5,108.5 326.3,110.1 330.2,110.8 334.0,110.3 337.9,109.8 341.7,110.7 345.6,113.5 349.4,119.3 353.3,126.1 357.1,132.7 360.9,138.3 364.8,143.4 368.6,148.0 372.5,151.3 376.3,153.9 380.2,155.8 384.0,157.5 387.9,158.8 391.7,159.2 395.6,159.4 399.4,159.6 403.3,159.7 407.1,159.9 411.0,160.1 414.8,160.2 418.7,160.4 422.5,160.6 426.4,160.8 430.2,160.9 434.1,161.1 437.9,161.3" stroke="#0000ff"/><polyline points="284.0,101.5 287.8,102.6 291.7,103.7 295.5,104.9 299.4,106.0 303.2,106.9 307.1,107.3 310.9,107.1 314.8,107.1 318.6,108.0 322.5,109.6 326.3,111.7 330.2,114.1 334.0,115.6 337.9,116.0 341.7,115.7 345.6,115.6 349.4,116.5 353.3,119.4 357.1,124.6 360.9,130.3 364.8,136.1 368.6,141.5 372.5,146.4 376.3,150.5 380.2,153.4 384.0,155.6 387.9,157.3 391.7,158.7 395.6,159.9 399.4,160.7 403.3,161.4 407.1,162.1 411.0,162.8 414.8,163.5 418.7,164.3 422.5,165.0 426.4,165.7 430.2,166.4 434.1,167.1 437.9,167.8" stroke="#0000ff"/><polyline points="284.0,81.1 287.8,82.8 291.7,84.2 295.5,85.2 299.4,85.8 303.2,85.9 307.1,85.8 310.9,85.8 314.8,86.5 318.6,89.0 322.5,92.2 326.3,95.5 330.2,98.5 334.0,99.4 337.9,99.5 341.7,99.7 345.6,101.7 349.4,105.2 353.3,112.3 357.1,119.9 360.9,127.3 364.8,134.3 368.6,140.6 372.5,146.0 376.3,149.8 380.2,152.8 384.0,155.3 387.9,157.6 391.7,159.2 395.6,159.7 399.4,160.2 403.3,160.8 407.1,161.3 411.0,161.8 414.8,162.3 418.7,162.8 422.5,163.3 426.4,163.8 430.2,164.3 434.1,164.9 437.9,165.4" stroke="#0000ff"/><polyline points="284.0,105.6 287.8,106.5 291.7,107.6 295.5,108.9 299.4,110.4 303.2,111.5 307.1,111.9 310.9,112.5 314.8,113.5 318.6,114.3 322.5,114.9 326.3,115.2 330.2,115.2 334.0,115.3 337.9,115.8 341.7,117.2 345.6,119.3 349.4,122.5 353.3,127.0 357.1,132.0 360.9,137.5 364.8,142.5 368.6,147.0 372.5,150.7 376.3,153.2 380.2,155.1 384.0,156.8 387.9,158.2 391.7,159.2 395.6,159.9 399.4,160.6 403.3,161.3 407.1,162.0 411.0,162.7 414.8,163.4 418.7,164.1 422.5,164.8 426.4,165.5 430.2,166.2 434.1,166.9 437.9,167.6" stroke="#0000ff"/><polyline points="284.0,63.0 287.8,64.4 291.7,66.5 295.5,69.3 299.4,71.9 303.2,73.2 307.1,73.2 310.9,72.0 314.8,71.3 318.6,73.2 322.5,76.7 326.3,80.9 330.2,84.6 334.0,85.2 337.9,84.6 341.7,84.3 345.6,86.5 349.4,91.8 353.3,101.5 357.1,111.8 360.9,121.0 364.8,129.6 368.6,137.4 372.5,143.7 376.3,148.3 380.2,151.9 384.0,155.0 387.9,157.6 391.7,159.2 395.6,159.1 399.4,159.0 403.3,158.9 407.1,158.8 411.0,158.7 414.8,158.6 418.7,158.5 422.5,158.4 426.4,158.3 430.2,158.3 434.1,158.2 437.9,158.1" stroke="#0000ff"/><polyline points="284.0,88.1 287.8,90.2 291.7,92.0 295.5,93.7 299.4,95.2 303.2,95.8 307.1,95.6 310.9,94.8 314.8,94.5 318.6,96.1 322.5,98.5 326.3,100.8 330.2,102.3 334.0,101.7 337.9,100.8 341.7,100.7 345.6,102.6 349.4,106.6 353.3,113.9 357.1,121.8 360.9,129.0 364.8,135.8 368.6,141.9 372.5,146.9 376.3,150.5 380.2,153.4 384.0,155.7 387.9,157.8 391.7,159.2 395.6,159.6 399.4,160.0 403.3,160.4 407.1,160.8 411.0,161.2 414.8,161.6 418.7,162.0 422.5,162.4 426.4,162.8 430.2,163.1 434.1,163.5 437.9,163.9" stroke="#0000ff"/><polyline points="284.0,63.2 287.8,66.3 291.7,69.0 295.5,71.1 299.4,72.6 303.2,73.4 307.1,73.5 310.9,72.8 314.8,72.9 318.6,75.6 322.5,79.5 326.3,83.2 330.2,86.5 334.0,87.0 337.9,86.6 341.7,86.1 345.6,87.7 349.4,91.0 353.3,98.4 357.1,107.6 360.9,116.6 364.8,125.4 368.6,133.6 372.5,140.8 376.3,146.4 380.2,150.6 384.0,153.9 387.9,156.6 391.7,158.8 395.6,159.7 399.4,160.2 403.3,160.6 407.1,161.1 411.0,161.6 414.8,162.0 418.7,162.5 422.5,163.0 426.4,163.5 430.2,163.9 434.1,164.4 437.9,164.9" stroke="#0000ff"/><polyline points="284.0,95.9 287.8,96.8 291.7,98.0 295.5,99.5 299.4,101.4 303.2,103.1 307.1,104.1 310.9,105.0 314.8,106.2 318.6,107.4 322.5,108.5 326.3,109.5 330.2,110.3 334.0,111.3 337.9,111.9 341.7,112.3 345.6,112.9 349.4,114.3 353.3,117.6 357.1,122.9 360.9,129.1 364.8,135.3 368.6,141.1 372.5,146.3 376.3,150.4 380.2,153.4 384.0,155.6 387.9,157.4 391.7,158.9 395.6,159.3 399.4,159.5 403.3,159.6 407.1,159.7 411.0,159.8 414.8,160.0 418.7,160.1 422.5,160.2 426.4,160.3 430.2,160.5 434.1,160.6 437.9,160.7" stroke="#0000ff"/><polyline points="284.0,68.7 287.8,70.6 291.7,72.8 295.5,75.3 299.4,77.2 303.2,77.8 307.1,77.5 310.9,76.1 314.8,75.4 318.6,77.4 322.5,80.9 326.3,84.6 330.2,87.4 334.0,87.1 337.9,86.0 341.7,86.0 345.6,88.7 349.4,95.3 353.3,105.3 357.1,115.6 360.9,124.6 364.8,132.7 368.6,140.0 372.5,145.6 376.3,149.8 380.2,152.9 384.0,155.7 387.9,158.0 391.7,159.2 395.6,159.0 399.4,158.8 403.3,158.5 407.1,158.3 411.0,158.1 414.8,157.9 418.7,157.6 422.5,157.4 426.4,157.2 430.2,157.0 434.1,156.7 437.9,156.5" stroke="#0000ff"/><polyline points="284.0,84.6 287.8,86.3 291.7,88.2 295.5,90.1 299.4,91.8 303.2,92.8 307.1,93.0 310.9,92.3 314.8,91.9 318.6,93.7 322.5,96.6 326.3,99.7 330.2,102.6 334.0,103.1 337.9,102.7 341.7,102.2 345.6,103.5 349.4,106.0 353.3,112.5 357.1,119.9 360.9,127.2 364.8,134.1 368.6,140.4 372.5,145.9 376.3,149.8 380.2,152.8 384.0,155.2 387.9,157.4 391.7,159.1 395.6,159.9 399.4,160.5 403.3,161.1 407.1,161.8 411.0,162.4 414.8,163.0 418.7,163.7 422.5,164.3 426.4,165.0 430.2,165.6 434.1,166.2 437.9,166.9" stroke="#0000ff"/><polyline points="284.0,96.7 287.8,98.5 291.7,100.1 295.5,101.3 299.4,102.2 303.2,102.5 307.1,102.3 310.9,102.0 314.8,102.2 318.6,103.8 322.5,105.9 326.3,108.1 330.2,110.0 334.0,110.4 337.9,110.2 341.7,110.3 345.6,111.7 349.4,114.6 353.3,120.4 357.1,126.7 360.9,132.9 364.8,138.7 368.6,144.0 372.5,148.5 376.3,151.9 380.2,154.5 384.0,156.4 387.9,158.1 391.7,159.2 395.6,159.1 399.4,158.9 403.3,158.8 407.1,158.6 411.0,158.5 414.8,158.3 418.7,158.2 422.5,158.0 426.4,157.9 430.2,157.7 434.1,157.6 437.9,157.5" stroke="#0000ff"/><polyline points="284.0,51.1 287.8,55.0 291.7,58.3 295.5,61.4 299.4,63.6 303.2,64.3 307.1,64.0 310.9,62.1 314.8,60.8 318.6,63.2 322.5,67.9 326.3,73.1 330.2,77.3 334.0,77.2 337.9,75.9 341.7,75.6 345.6,78.9 349.4,86.4 353.3,98.2 357.1,110.0 360.9,119.8 364.8,128.8 368.6,136.9 372.5,143.2 376.3,148.0 380.2,151.7 384.0,154.9 387.9,157.7 391.7,159.2 395.6,160.1 399.4,161.1 403.3,162.0 407.1,162.9 411.0,163.8 414.8,164.8 418.7,165.7 422.5,166.6 426.4,167.5 430.2,168.5 434.1,169.4 437.9,170.3" stroke="#0000ff"/><polyline points="284.0,99.6 287.8,101.6 291.7,103.3 295.5,105.1 299.4,106.8 303.2,107.7 307.1,107.4 310.9,105.9 314.8,104.7 318.6,105.7 322.5,107.8 326.3,110.1 330.2,111.9 334.0,111.2 337.9,110.2 341.7,109.6 345.6,111.3 349.4,114.5 353.3,121.0 357.1,127.8 360.9,133.9 364.8,139.5 368.6,144.6 372.5,149.0 376.3,152.0 380.2,154.3 384.0,156.2 387.9,158.0 391.7,159.2 395.6,159.4 399.4,159.6 403.3,159.8 407.1,160.0 411.0,160.2 414.8,160.4 418.7,160.6 422.5,160.8 426.4,161.0 430.2,161.2 434.1,161.4 437.9,161.6" stroke="#0000ff"/></g>
<line x1="272.5" y1="161.8" x2="276.0" y2="161.8" stroke="#333" stroke-width="1.2"/>
<text x="271.4" y="165.8" font-size="8.9" text-anchor="end" fill="#2a2a2a" style="font-family:'DejaVu Sans','Liberation Sans',sans-serif"  stroke="#2a2a2a" stroke-width="0.28">0.0</text>
<line x1="272.5" y1="136.1" x2="276.0" y2="136.1" stroke="#333" stroke-width="1.2"/>
<text x="271.4" y="140.05" font-size="8.9" text-anchor="end" fill="#2a2a2a" style="font-family:'DejaVu Sans','Liberation Sans',sans-serif"  stroke="#2a2a2a" stroke-width="0.28">0.5</text>
<line x1="272.5" y1="110.3" x2="276.0" y2="110.3" stroke="#333" stroke-width="1.2"/>
<text x="271.4" y="114.30000000000001" font-size="8.9" text-anchor="end" fill="#2a2a2a" style="font-family:'DejaVu Sans','Liberation Sans',sans-serif"  stroke="#2a2a2a" stroke-width="0.28">1.0</text>
<line x1="272.5" y1="84.6" x2="276.0" y2="84.6" stroke="#333" stroke-width="1.2"/>
<text x="271.4" y="88.55000000000001" font-size="8.9" text-anchor="end" fill="#2a2a2a" style="font-family:'DejaVu Sans','Liberation Sans',sans-serif"  stroke="#2a2a2a" stroke-width="0.28">1.5</text>
<line x1="272.5" y1="58.8" x2="276.0" y2="58.8" stroke="#333" stroke-width="1.2"/>
<text x="271.4" y="62.80000000000001" font-size="8.9" text-anchor="end" fill="#2a2a2a" style="font-family:'DejaVu Sans','Liberation Sans',sans-serif"  stroke="#2a2a2a" stroke-width="0.28">2.0</text>
<line x1="284.0" y1="185.0" x2="284.0" y2="188.5" stroke="#333" stroke-width="1.2"/>
<text x="284.0" y="196.2" font-size="8.9" text-anchor="middle" fill="#2a2a2a" style="font-family:'DejaVu Sans','Liberation Sans',sans-serif"  stroke="#2a2a2a" stroke-width="0.28">500</text>
<line x1="322.5" y1="185.0" x2="322.5" y2="188.5" stroke="#333" stroke-width="1.2"/>
<text x="322.475" y="196.2" font-size="8.9" text-anchor="middle" fill="#2a2a2a" style="font-family:'DejaVu Sans','Liberation Sans',sans-serif"  stroke="#2a2a2a" stroke-width="0.28">550</text>
<line x1="360.9" y1="185.0" x2="360.9" y2="188.5" stroke="#333" stroke-width="1.2"/>
<text x="360.95" y="196.2" font-size="8.9" text-anchor="middle" fill="#2a2a2a" style="font-family:'DejaVu Sans','Liberation Sans',sans-serif"  stroke="#2a2a2a" stroke-width="0.28">600</text>
<line x1="399.4" y1="185.0" x2="399.4" y2="188.5" stroke="#333" stroke-width="1.2"/>
<text x="399.425" y="196.2" font-size="8.9" text-anchor="middle" fill="#2a2a2a" style="font-family:'DejaVu Sans','Liberation Sans',sans-serif"  stroke="#2a2a2a" stroke-width="0.28">650</text>
<line x1="437.9" y1="185.0" x2="437.9" y2="188.5" stroke="#333" stroke-width="1.2"/>
<text x="437.9" y="196.2" font-size="8.9" text-anchor="middle" fill="#2a2a2a" style="font-family:'DejaVu Sans','Liberation Sans',sans-serif"  stroke="#2a2a2a" stroke-width="0.28">700</text>
<rect x="276.0" y="34.0" width="170.5" height="151.0" fill="none" stroke="#444" stroke-width="1.25"/>
<text x="361.25" y="207.2" font-size="9.7" text-anchor="middle" fill="#222" style="font-family:'DejaVu Sans','Liberation Sans',sans-serif"  stroke="#222" stroke-width="0.28">Wavelength, nm</text>
<text x="248.29999999999998" y="107.7" font-size="10.1" text-anchor="middle" fill="#2a2a2a" style="font-family:'DejaVu Sans','Liberation Sans',sans-serif" transform="rotate(-90 248.29999999999998 107.7)" stroke="#2a2a2a" stroke-width="0.28">OD</text>
<text x="361.25" y="30.8" font-size="9.7" text-anchor="middle" fill="#222" style="font-family:'DejaVu Sans','Liberation Sans',sans-serif"  stroke="#222" stroke-width="0.28">Tissue site: inner forearm</text>
<g fill="none" stroke-width="1.1" stroke-opacity="0.42" stroke-linejoin="round" clip-path="url(#c2)"><polyline points="284.0,264.8 287.8,270.7 291.7,275.5 295.5,279.1 299.4,281.3 303.2,280.1 307.1,277.0 310.9,272.7 314.8,269.4 318.6,271.2 322.5,275.6 326.3,280.7 330.2,283.7 334.0,279.5 337.9,272.5 341.7,266.8 345.6,268.4 349.4,275.4 353.3,294.2 357.1,311.8 360.9,328.4 364.8,340.2 368.6,348.3 372.5,353.5 376.3,356.7 380.2,358.4 384.0,358.5 387.9,358.4 391.7,358.6 395.6,358.7 399.4,358.8 403.3,358.9 407.1,359.0 411.0,359.1 414.8,359.1 418.7,359.2 422.5,359.2 426.4,359.3 430.2,359.4 434.1,359.4 437.9,359.5" stroke="#ff0000"/><polyline points="284.0,295.7 287.8,300.2 291.7,304.1 295.5,308.4 299.4,312.3 303.2,312.1 307.1,308.0 310.9,299.5 314.8,290.4 318.6,288.3 322.5,291.5 326.3,298.0 330.2,303.0 334.0,299.1 337.9,290.8 341.7,283.0 345.6,283.9 349.4,290.9 353.3,308.6 357.1,322.3 360.9,333.9 364.8,342.3 368.6,348.9 372.5,354.2 376.3,357.6 380.2,358.7 384.0,358.5 387.9,354.1 391.7,350.4 395.6,348.0 399.4,346.1 403.3,344.4 407.1,343.0 411.0,341.6 414.8,340.4 418.7,339.2 422.5,338.1 426.4,337.0 430.2,336.0 434.1,335.1 437.9,334.2" stroke="#ff0000"/><polyline points="284.0,291.6 287.8,295.3 291.7,298.5 295.5,302.8 299.4,307.6 303.2,308.8 307.1,305.6 310.9,297.8 314.8,289.6 318.6,287.5 322.5,290.1 326.3,295.2 330.2,298.5 334.0,293.7 337.9,285.8 341.7,279.3 345.6,281.3 349.4,289.1 353.3,308.0 357.1,323.6 360.9,336.3 364.8,345.1 368.6,351.3 372.5,355.5 376.3,357.9 380.2,358.7 384.0,358.6 387.9,357.1 391.7,356.2 395.6,355.6 399.4,355.1 403.3,354.6 407.1,354.3 411.0,353.9 414.8,353.6 418.7,353.3 422.5,353.0 426.4,352.7 430.2,352.5 434.1,352.2 437.9,352.0" stroke="#ff0000"/><polyline points="284.0,283.1 287.8,287.7 291.7,291.7 295.5,295.3 299.4,298.1 303.2,297.6 307.1,294.2 310.9,287.3 314.8,279.1 318.6,276.3 322.5,278.5 326.3,284.3 330.2,289.6 334.0,288.0 337.9,282.7 341.7,278.1 345.6,281.1 349.4,289.3 353.3,307.8 357.1,323.4 360.9,336.1 364.8,344.8 368.6,351.0 372.5,355.2 376.3,357.7 380.2,358.6 384.0,358.5 387.9,355.5 391.7,353.2 395.6,351.6 399.4,350.4 403.3,349.3 407.1,348.3 411.0,347.4 414.8,346.6 418.7,345.9 422.5,345.1 426.4,344.5 430.2,343.8 434.1,343.2 437.9,342.6" stroke="#0000ff"/><polyline points="284.0,292.8 287.8,297.6 291.7,301.6 295.5,304.9 299.4,306.7 303.2,304.2 307.1,299.0 310.9,291.9 314.8,286.0 318.6,287.7 322.5,293.3 326.3,300.0 330.2,303.9 334.0,298.2 337.9,288.9 341.7,280.5 345.6,281.1 349.4,288.2 353.3,306.4 357.1,321.1 360.9,334.3 364.8,343.6 368.6,350.2 372.5,354.6 376.3,357.2 380.2,358.6 384.0,358.5 387.9,355.4 391.7,352.9 395.6,351.3 399.4,350.0 403.3,348.8 407.1,347.8 411.0,346.9 414.8,346.0 418.7,345.3 422.5,344.5 426.4,343.8 430.2,343.1 434.1,342.5 437.9,341.8" stroke="#0000ff"/><polyline points="284.0,280.1 287.8,283.3 291.7,286.2 295.5,289.5 299.4,292.7 303.2,293.0 307.1,289.9 310.9,284.3 314.8,278.8 318.6,277.8 322.5,279.5 326.3,282.1 330.2,283.0 334.0,277.4 337.9,268.9 341.7,261.5 345.6,261.0 349.4,266.2 353.3,285.2 357.1,304.9 360.9,324.8 364.8,338.9 368.6,348.3 372.5,354.1 376.3,357.5 380.2,358.8 384.0,358.6 387.9,355.6 391.7,353.3 395.6,351.8 399.4,350.6 403.3,349.6 407.1,348.7 411.0,347.8 414.8,347.0 418.7,346.3 422.5,345.6 426.4,345.0 430.2,344.3 434.1,343.8 437.9,343.2" stroke="#ff0000"/><polyline points="284.0,274.8 287.8,279.2 291.7,283.1 295.5,287.2 299.4,290.7 303.2,290.6 307.1,287.1 310.9,280.7 314.8,274.6 318.6,274.3 322.5,277.5 326.3,282.1 330.2,284.5 334.0,279.0 337.9,270.6 341.7,264.1 345.6,266.2 349.4,274.3 353.3,294.8 357.1,314.3 360.9,332.6 364.8,345.2 368.6,352.7 372.5,356.5 376.3,358.2 380.2,358.7 384.0,358.6 387.9,355.8 391.7,353.7 395.6,352.4 399.4,351.2 403.3,350.3 407.1,349.4 411.0,348.7 414.8,347.9 418.7,347.3 422.5,346.6 426.4,346.0 430.2,345.5 434.1,344.9 437.9,344.4" stroke="#ff0000"/><polyline points="284.0,274.3 287.8,277.8 291.7,280.7 295.5,283.1 299.4,284.8 303.2,283.5 307.1,279.4 310.9,273.7 314.8,268.8 318.6,268.4 322.5,270.5 326.3,273.3 330.2,274.4 334.0,269.0 337.9,261.0 341.7,255.3 345.6,257.8 349.4,266.1 353.3,288.4 357.1,309.6 360.9,327.8 364.8,340.3 368.6,349.0 372.5,354.6 376.3,357.7 380.2,358.9 384.0,358.7 387.9,358.3 391.7,358.5 395.6,358.6 399.4,358.6 403.3,358.7 407.1,358.7 411.0,358.8 414.8,358.8 418.7,358.9 422.5,358.9 426.4,358.9 430.2,359.0 434.1,359.0 437.9,359.0" stroke="#0000ff"/><polyline points="284.0,309.7 287.8,311.7 291.7,313.6 295.5,315.4 299.4,317.0 303.2,317.1 307.1,316.0 310.9,314.1 314.8,312.5 318.6,313.0 322.5,314.7 326.3,316.4 330.2,317.0 334.0,314.4 337.9,311.0 341.7,309.0 345.6,310.8 349.4,315.3 353.3,325.4 357.1,334.7 360.9,342.9 364.8,348.7 368.6,352.9 372.5,355.9 376.3,357.9 380.2,358.3 384.0,358.4 387.9,355.7 391.7,353.5 395.6,352.0 399.4,350.8 403.3,349.8 407.1,348.9 411.0,348.1 414.8,347.3 418.7,346.6 422.5,345.9 426.4,345.3 430.2,344.7 434.1,344.1 437.9,343.6" stroke="#0000ff"/><polyline points="284.0,275.4 287.8,281.0 291.7,285.9 295.5,290.4 299.4,294.3 303.2,295.8 307.1,295.4 310.9,292.7 314.8,289.5 318.6,290.1 322.5,293.6 326.3,298.5 330.2,302.0 334.0,300.3 337.9,296.7 341.7,294.1 345.6,296.8 349.4,303.2 353.3,316.5 357.1,327.8 360.9,337.7 364.8,345.0 368.6,350.4 372.5,354.3 376.3,356.9 380.2,358.0 384.0,358.3 387.9,357.3 391.7,356.4 395.6,355.9 399.4,355.4 403.3,355.1 407.1,354.7 411.0,354.4 414.8,354.1 418.7,353.9 422.5,353.6 426.4,353.4 430.2,353.2 434.1,352.9 437.9,352.7" stroke="#ff0000"/><polyline points="284.0,312.2 287.8,314.7 291.7,317.1 295.5,319.9 299.4,322.7 303.2,322.8 307.1,320.2 310.9,315.1 314.8,310.4 318.6,310.5 322.5,313.3 326.3,317.4 330.2,320.0 334.0,316.4 337.9,310.4 341.7,305.2 345.6,306.0 349.4,311.0 353.3,323.5 357.1,333.7 360.9,342.8 364.8,349.2 368.6,353.6 372.5,356.5 376.3,358.1 380.2,358.5 384.0,358.4 387.9,355.8 391.7,353.8 395.6,352.4 399.4,351.3 403.3,350.3 407.1,349.5 411.0,348.7 414.8,348.0 418.7,347.3 422.5,346.7 426.4,346.1 430.2,345.5 434.1,345.0 437.9,344.5" stroke="#0000ff"/><polyline points="284.0,305.6 287.8,307.8 291.7,309.6 295.5,311.3 299.4,312.1 303.2,309.6 307.1,304.8 310.9,298.1 314.8,292.2 318.6,292.3 322.5,295.9 326.3,301.7 330.2,306.1 334.0,302.7 337.9,295.3 341.7,287.5 345.6,286.5 349.4,291.0 353.3,307.1 357.1,321.8 360.9,335.3 364.8,344.8 368.6,351.3 372.5,355.5 376.3,357.9 380.2,358.7 384.0,358.5 387.9,356.6 391.7,355.1 395.6,354.2 399.4,353.4 403.3,352.8 407.1,352.2 411.0,351.7 414.8,351.2 418.7,350.7 422.5,350.3 426.4,349.9 430.2,349.5 434.1,349.1 437.9,348.7" stroke="#0000ff"/><polyline points="284.0,266.7 287.8,271.3 291.7,275.6 295.5,279.2 299.4,281.5 303.2,282.0 307.1,281.5 310.9,280.8 314.8,280.8 318.6,283.5 322.5,287.2 326.3,290.9 330.2,293.0 334.0,291.3 337.9,288.1 341.7,287.9 345.6,294.1 349.4,303.6 353.3,319.0 357.1,330.7 360.9,338.8 364.8,344.4 368.6,349.4 372.5,353.6 376.3,356.5 380.2,358.1 384.0,358.4 387.9,356.8 391.7,355.6 395.6,354.8 399.4,354.2 403.3,353.6 407.1,353.1 411.0,352.7 414.8,352.3 418.7,351.9 422.5,351.5 426.4,351.2 430.2,350.8 434.1,350.5 437.9,350.2" stroke="#0000ff"/><polyline points="284.0,312.9 287.8,316.7 291.7,319.8 295.5,322.1 299.4,322.9 303.2,320.6 307.1,316.3 310.9,310.5 314.8,305.1 318.6,305.2 322.5,308.6 326.3,314.1 330.2,318.5 334.0,316.0 337.9,310.0 341.7,304.2 345.6,304.9 349.4,310.1 353.3,323.1 357.1,333.3 360.9,342.0 364.8,348.2 368.6,352.7 372.5,355.9 376.3,357.8 380.2,358.5 384.0,358.4 387.9,357.4 391.7,356.7 395.6,356.2 399.4,355.8 403.3,355.5 407.1,355.2 411.0,355.0 414.8,354.7 418.7,354.5 422.5,354.3 426.4,354.1 430.2,353.9 434.1,353.7 437.9,353.5" stroke="#0000ff"/><polyline points="284.0,297.0 287.8,301.7 291.7,305.6 295.5,309.2 299.4,311.8 303.2,311.5 307.1,308.6 310.9,303.7 314.8,299.0 318.6,299.4 322.5,302.8 326.3,307.3 330.2,310.0 334.0,306.0 337.9,299.6 341.7,294.4 345.6,296.0 349.4,302.2 353.3,316.7 357.1,328.8 360.9,339.3 364.8,346.7 368.6,351.9 372.5,355.4 376.3,357.5 380.2,358.4 384.0,358.4 387.9,356.3 391.7,354.7 395.6,353.7 399.4,352.8 403.3,352.0 407.1,351.4 411.0,350.8 414.8,350.2 418.7,349.7 422.5,349.2 426.4,348.7 430.2,348.3 434.1,347.9 437.9,347.5" stroke="#0000ff"/><polyline points="284.0,255.9 287.8,260.8 291.7,265.4 295.5,270.0 299.4,273.9 303.2,274.6 307.1,272.6 310.9,268.8 314.8,265.6 318.6,267.3 322.5,271.8 326.3,277.1 330.2,280.5 334.0,277.2 337.9,271.2 341.7,267.1 345.6,270.6 349.4,279.4 353.3,299.3 357.1,317.0 360.9,331.8 364.8,342.1 368.6,349.5 372.5,354.4 376.3,357.3 380.2,358.3 384.0,358.5 387.9,356.7 391.7,355.5 395.6,354.6 399.4,353.9 403.3,353.3 407.1,352.8 411.0,352.3 414.8,351.9 418.7,351.5 422.5,351.1 426.4,350.7 430.2,350.4 434.1,350.0 437.9,349.7" stroke="#ff0000"/><polyline points="284.0,278.1 287.8,283.7 291.7,288.5 295.5,292.9 299.4,296.3 303.2,295.6 307.1,291.8 310.9,284.5 314.8,276.5 318.6,275.2 322.5,278.8 326.3,285.4 330.2,290.2 334.0,286.5 337.9,278.7 341.7,271.9 345.6,273.8 349.4,281.9 353.3,301.4 357.1,317.9 360.9,332.3 364.8,342.4 368.6,349.6 372.5,354.4 376.3,357.3 380.2,358.5 384.0,358.5 387.9,357.0 391.7,356.0 395.6,355.4 399.4,354.8 403.3,354.3 407.1,353.9 411.0,353.6 414.8,353.2 418.7,352.9 422.5,352.6 426.4,352.3 430.2,352.0 434.1,351.7 437.9,351.5" stroke="#0000ff"/><polyline points="284.0,287.5 287.8,291.3 291.7,295.0 295.5,298.9 299.4,302.7 303.2,303.9 307.1,302.4 310.9,298.7 314.8,295.4 318.6,296.4 322.5,300.1 326.3,303.8 330.2,305.0 334.0,300.2 337.9,294.0 341.7,289.8 345.6,292.1 349.4,298.8 353.3,314.1 357.1,327.6 360.9,339.6 364.8,347.7 368.6,353.0 372.5,356.2 376.3,357.9 380.2,358.3 384.0,358.4 387.9,355.5 391.7,353.2 395.6,351.7 399.4,350.4 403.3,349.4 407.1,348.4 411.0,347.5 414.8,346.7 418.7,346.0 422.5,345.3 426.4,344.6 430.2,344.0 434.1,343.3 437.9,342.8" stroke="#0000ff"/><polyline points="284.0,267.5 287.8,271.4 291.7,274.9 295.5,278.7 299.4,282.4 303.2,283.1 307.1,280.4 310.9,275.1 314.8,270.0 318.6,269.5 322.5,272.1 326.3,275.8 330.2,278.0 334.0,273.6 337.9,266.7 341.7,262.1 345.6,265.6 349.4,274.4 353.3,295.4 357.1,314.0 360.9,329.4 364.8,340.1 368.6,347.9 372.5,353.4 376.3,357.0 380.2,358.7 384.0,358.6 387.9,357.1 391.7,356.1 395.6,355.5 399.4,355.0 403.3,354.5 407.1,354.1 411.0,353.8 414.8,353.4 418.7,353.1 422.5,352.8 426.4,352.5 430.2,352.3 434.1,352.0 437.9,351.8" stroke="#ff0000"/><polyline points="284.0,293.2 287.8,295.7 291.7,298.2 295.5,300.8 299.4,302.9 303.2,302.6 307.1,300.2 310.9,296.0 314.8,291.9 318.6,291.5 322.5,293.5 326.3,296.7 330.2,299.1 334.0,296.5 337.9,291.7 341.7,288.2 345.6,290.6 349.4,297.0 353.3,312.6 357.1,326.8 360.9,338.7 364.8,346.8 368.6,352.5 372.5,356.1 376.3,358.0 380.2,358.6 384.0,358.5 387.9,357.0 391.7,355.9 395.6,355.2 399.4,354.6 403.3,354.1 407.1,353.7 411.0,353.3 414.8,352.9 418.7,352.6 422.5,352.3 426.4,352.0 430.2,351.7 434.1,351.4 437.9,351.1" stroke="#0000ff"/><polyline points="284.0,287.2 287.8,289.7 291.7,292.5 295.5,296.6 299.4,301.3 303.2,303.3 307.1,301.9 310.9,297.1 314.8,291.7 318.6,290.6 322.5,292.8 326.3,296.7 330.2,299.2 334.0,296.0 337.9,290.4 341.7,285.5 345.6,286.5 349.4,291.9 353.3,307.1 357.1,321.3 360.9,334.5 364.8,343.8 368.6,350.3 372.5,354.5 376.3,357.2 380.2,358.5 384.0,358.5 387.9,355.5 391.7,353.1 395.6,351.6 399.4,350.3 403.3,349.2 407.1,348.2 411.0,347.3 414.8,346.5 418.7,345.8 422.5,345.0 426.4,344.4 430.2,343.7 434.1,343.1 437.9,342.5" stroke="#0000ff"/><polyline points="284.0,249.3 287.8,257.1 291.7,264.1 295.5,270.7 299.4,276.0 303.2,276.9 307.1,274.2 310.9,268.4 314.8,262.8 318.6,264.6 322.5,270.9 326.3,279.4 330.2,285.5 334.0,282.0 337.9,274.6 341.7,267.9 345.6,270.2 349.4,278.9 353.3,298.7 357.1,314.3 360.9,328.2 364.8,338.3 368.6,346.3 372.5,352.4 376.3,356.4 380.2,358.2 384.0,358.4 387.9,358.2 391.7,358.2 395.6,358.2 399.4,358.2 403.3,358.3 407.1,358.3 411.0,358.3 414.8,358.3 418.7,358.3 422.5,358.3 426.4,358.3 430.2,358.3 434.1,358.3 437.9,358.3" stroke="#ff0000"/><polyline points="284.0,293.1 287.8,295.5 291.7,297.9 295.5,300.8 299.4,303.7 303.2,304.7 307.1,303.7 310.9,300.9 314.8,298.1 318.6,297.9 322.5,299.4 326.3,301.2 330.2,301.7 334.0,298.4 337.9,293.9 341.7,291.6 345.6,294.9 349.4,301.9 353.3,316.5 357.1,330.2 360.9,342.0 364.8,349.9 368.6,354.6 372.5,357.0 376.3,358.0 380.2,358.4 384.0,358.4 387.9,355.6 391.7,353.4 395.6,351.9 399.4,350.7 403.3,349.7 407.1,348.8 411.0,347.9 414.8,347.2 418.7,346.4 422.5,345.8 426.4,345.1 430.2,344.5 434.1,343.9 437.9,343.4" stroke="#0000ff"/><polyline points="284.0,314.0 287.8,316.8 291.7,319.3 295.5,320.7 299.4,320.5 303.2,318.7 307.1,316.6 310.9,314.6 314.8,313.2 318.6,314.7 322.5,317.5 326.3,320.8 330.2,323.0 334.0,321.5 337.9,318.3 341.7,315.4 345.6,315.9 349.4,319.2 353.3,328.2 357.1,336.8 360.9,344.6 364.8,350.2 368.6,354.2 372.5,356.8 376.3,358.1 380.2,358.3 384.0,358.3 387.9,355.5 391.7,353.1 395.6,351.5 399.4,350.2 403.3,349.1 407.1,348.1 411.0,347.2 414.8,346.4 418.7,345.6 422.5,344.9 426.4,344.2 430.2,343.5 434.1,342.9 437.9,342.3" stroke="#0000ff"/><polyline points="284.0,270.9 287.8,275.9 291.7,280.6 295.5,285.3 299.4,288.6 303.2,286.6 307.1,280.2 310.9,270.0 314.8,260.4 318.6,260.1 322.5,265.7 326.3,273.6 330.2,278.3 334.0,271.1 337.9,259.4 341.7,250.0 345.6,253.0 349.4,264.5 353.3,290.2 357.1,310.6 360.9,327.9 364.8,339.8 368.6,348.3 372.5,353.9 376.3,357.3 380.2,358.8 384.0,358.7 387.9,356.2 391.7,354.5 395.6,353.4 399.4,352.5 403.3,351.7 407.1,351.0 411.0,350.4 414.8,349.8 418.7,349.2 422.5,348.7 426.4,348.2 430.2,347.8 434.1,347.3 437.9,346.9" stroke="#ff0000"/><polyline points="284.0,285.3 287.8,288.6 291.7,291.8 295.5,295.0 299.4,297.9 303.2,299.0 307.1,298.6 310.9,296.9 314.8,295.4 318.6,296.2 322.5,298.3 326.3,300.6 330.2,301.7 334.0,299.3 337.9,295.8 341.7,293.9 345.6,296.7 349.4,302.6 353.3,315.9 357.1,328.8 360.9,340.3 364.8,348.2 368.6,353.2 372.5,356.1 376.3,357.7 380.2,358.2 384.0,358.4 387.9,356.2 391.7,354.4 395.6,353.2 399.4,352.3 403.3,351.4 407.1,350.7 411.0,350.1 414.8,349.4 418.7,348.9 422.5,348.3 426.4,347.8 430.2,347.3 434.1,346.9 437.9,346.4" stroke="#0000ff"/><polyline points="284.0,322.9 287.8,324.8 291.7,326.1 295.5,326.4 299.4,325.6 303.2,323.3 307.1,320.6 310.9,317.7 314.8,315.2 318.6,314.8 322.5,315.7 326.3,317.0 330.2,317.7 334.0,315.2 337.9,311.4 341.7,308.4 345.6,309.0 349.4,312.4 353.3,322.5 357.1,332.4 360.9,341.9 364.8,348.6 368.6,353.3 372.5,356.4 376.3,358.1 380.2,358.6 384.0,358.4 387.9,356.8 391.7,355.5 395.6,354.7 399.4,354.0 403.3,353.4 407.1,352.9 411.0,352.4 414.8,352.0 418.7,351.6 422.5,351.2 426.4,350.8 430.2,350.5 434.1,350.2 437.9,349.8" stroke="#0000ff"/><polyline points="284.0,274.0 287.8,279.5 291.7,284.3 295.5,288.7 299.4,291.9 303.2,291.3 307.1,287.8 310.9,282.0 314.8,276.9 318.6,278.8 322.5,284.9 326.3,292.8 330.2,298.4 334.0,294.9 337.9,287.6 341.7,280.8 345.6,282.3 349.4,289.7 353.3,307.1 357.1,320.9 360.9,333.2 364.8,342.1 368.6,348.8 372.5,353.8 376.3,357.0 380.2,358.3 384.0,358.4 387.9,356.7 391.7,355.4 395.6,354.6 399.4,353.9 403.3,353.3 407.1,352.7 411.0,352.2 414.8,351.8 418.7,351.4 422.5,351.0 426.4,350.6 430.2,350.2 434.1,349.9 437.9,349.6" stroke="#0000ff"/><polyline points="284.0,285.4 287.8,290.2 291.7,294.2 295.5,297.7 299.4,299.8 303.2,296.9 307.1,290.6 310.9,281.5 314.8,273.4 318.6,274.4 322.5,280.5 326.3,287.9 330.2,291.6 334.0,283.7 337.9,272.0 341.7,262.7 345.6,265.0 349.4,275.4 353.3,298.4 357.1,316.3 360.9,331.8 364.8,342.5 368.6,349.9 372.5,354.6 376.3,357.2 380.2,358.7 384.0,358.6 387.9,354.5 391.7,351.2 395.6,349.1 399.4,347.4 403.3,345.9 407.1,344.5 411.0,343.3 414.8,342.2 418.7,341.2 422.5,340.2 426.4,339.3 430.2,338.4 434.1,337.5 437.9,336.7" stroke="#ff0000"/><polyline points="284.0,273.0 287.8,278.2 291.7,282.8 295.5,287.0 299.4,290.5 303.2,291.2 307.1,289.4 310.9,285.4 314.8,281.3 318.6,281.2 322.5,283.7 326.3,287.4 330.2,289.6 334.0,286.2 337.9,280.6 341.7,276.8 345.6,279.9 349.4,287.6 353.3,305.5 357.1,321.9 360.9,335.5 364.8,344.8 368.6,351.3 372.5,355.3 376.3,357.4 380.2,358.4 384.0,358.5 387.9,357.1 391.7,356.1 395.6,355.5 399.4,355.0 403.3,354.6 407.1,354.2 411.0,353.8 414.8,353.5 418.7,353.2 422.5,352.9 426.4,352.6 430.2,352.3 434.1,352.1 437.9,351.8" stroke="#0000ff"/><polyline points="284.0,282.4 287.8,285.2 291.7,288.0 295.5,291.5 299.4,295.3 303.2,296.1 307.1,293.4 310.9,287.3 314.8,280.8 318.6,278.8 322.5,280.5 326.3,284.6 330.2,287.8 334.0,284.7 337.9,278.1 341.7,272.1 345.6,272.9 349.4,278.9 353.3,297.6 357.1,315.7 360.9,331.8 364.8,343.0 368.6,350.5 372.5,355.2 376.3,357.9 380.2,358.7 384.0,358.6 387.9,359.6 391.7,360.8 395.6,361.6 399.4,362.2 403.3,362.8 407.1,363.3 411.0,363.8 414.8,364.2 418.7,364.6 422.5,364.9 426.4,365.3 430.2,365.6 434.1,365.9 437.9,366.2" stroke="#ff0000"/><polyline points="284.0,267.8 287.8,272.7 291.7,277.3 295.5,282.3 299.4,286.6 303.2,286.4 307.1,282.2 310.9,274.7 314.8,267.8 318.6,268.6 322.5,274.0 326.3,280.4 330.2,283.5 334.0,276.2 337.9,265.7 341.7,257.9 345.6,261.1 349.4,271.6 353.3,294.6 357.1,313.1 360.9,329.2 364.8,340.5 368.6,348.5 372.5,354.0 376.3,357.3 380.2,358.6 384.0,358.6 387.9,356.9 391.7,355.8 395.6,355.0 399.4,354.4 403.3,353.9 407.1,353.4 411.0,353.0 414.8,352.6 418.7,352.2 422.5,351.9 426.4,351.5 430.2,351.2 434.1,350.9 437.9,350.6" stroke="#0000ff"/><polyline points="284.0,284.0 287.8,287.6 291.7,290.1 295.5,291.3 299.4,290.7 303.2,287.3 307.1,282.2 310.9,276.5 314.8,271.5 318.6,270.8 322.5,272.4 326.3,274.7 330.2,275.4 334.0,270.1 337.9,262.3 341.7,257.6 345.6,261.5 349.4,270.9 353.3,293.3 357.1,313.8 360.9,330.3 364.8,341.5 368.6,349.4 372.5,354.6 376.3,357.7 380.2,359.0 384.0,358.7 387.9,357.9 391.7,357.6 395.6,357.4 399.4,357.3 403.3,357.1 407.1,357.0 411.0,356.9 414.8,356.8 418.7,356.7 422.5,356.7 426.4,356.6 430.2,356.5 434.1,356.4 437.9,356.4" stroke="#ff0000"/><polyline points="284.0,275.8 287.8,279.4 291.7,283.1 295.5,287.1 299.4,290.3 303.2,290.4 307.1,287.9 310.9,283.8 314.8,280.6 318.6,282.7 322.5,287.6 326.3,293.4 330.2,297.3 334.0,293.9 337.9,287.5 341.7,281.2 345.6,280.8 349.4,285.6 353.3,301.7 357.1,317.5 360.9,332.9 364.8,343.7 368.6,350.7 372.5,354.8 376.3,357.2 380.2,358.4 384.0,358.5 387.9,355.9 391.7,353.9 395.6,352.6 399.4,351.5 403.3,350.6 407.1,349.8 411.0,349.0 414.8,348.3 418.7,347.7 422.5,347.1 426.4,346.5 430.2,346.0 434.1,345.4 437.9,344.9" stroke="#ff0000"/><polyline points="284.0,283.7 287.8,288.9 291.7,293.2 295.5,296.9 299.4,299.7 303.2,298.9 307.1,295.2 310.9,289.8 314.8,285.6 318.6,287.4 322.5,292.1 326.3,296.8 330.2,298.4 334.0,292.0 337.9,283.5 341.7,277.4 345.6,279.6 349.4,287.7 353.3,306.0 357.1,320.7 360.9,333.1 364.8,341.9 368.6,348.7 372.5,353.9 376.3,357.2 380.2,358.5 384.0,358.5 387.9,358.7 391.7,359.1 395.6,359.4 399.4,359.7 403.3,359.9 407.1,360.1 411.0,360.2 414.8,360.4 418.7,360.5 422.5,360.6 426.4,360.8 430.2,360.9 434.1,361.0 437.9,361.1" stroke="#0000ff"/><polyline points="284.0,272.1 287.8,276.4 291.7,280.7 295.5,286.2 299.4,291.5 303.2,292.3 307.1,288.4 310.9,279.9 314.8,270.9 318.6,269.8 322.5,274.2 326.3,281.5 330.2,286.3 334.0,280.9 337.9,271.4 341.7,262.9 345.6,264.0 349.4,272.4 353.3,293.8 357.1,312.0 360.9,328.6 364.8,340.4 368.6,348.8 372.5,354.3 376.3,357.6 380.2,358.6 384.0,358.6 387.9,355.7 391.7,353.5 395.6,352.1 399.4,350.9 403.3,349.9 407.1,349.0 411.0,348.2 414.8,347.4 418.7,346.7 422.5,346.0 426.4,345.4 430.2,344.8 434.1,344.2 437.9,343.7" stroke="#ff0000"/><polyline points="284.0,275.9 287.8,281.7 291.7,286.7 295.5,290.5 299.4,292.1 303.2,289.0 307.1,283.3 310.9,276.8 314.8,272.6 318.6,276.5 322.5,283.4 326.3,289.9 330.2,292.5 334.0,284.7 337.9,273.9 341.7,265.5 345.6,267.5 349.4,276.6 353.3,298.0 357.1,315.3 360.9,330.7 364.8,341.5 368.6,349.1 372.5,354.0 376.3,356.9 380.2,358.6 384.0,358.5 387.9,356.9 391.7,355.7 395.6,354.9 399.4,354.3 403.3,353.7 407.1,353.2 411.0,352.8 414.8,352.4 418.7,352.0 422.5,351.7 426.4,351.3 430.2,351.0 434.1,350.7 437.9,350.4" stroke="#0000ff"/><polyline points="284.0,278.0 287.8,281.6 291.7,285.0 295.5,288.5 299.4,291.7 303.2,293.0 307.1,292.4 310.9,290.4 314.8,288.7 318.6,289.9 322.5,292.6 326.3,295.9 330.2,298.3 334.0,296.6 337.9,293.0 341.7,290.5 345.6,292.6 349.4,298.2 353.3,312.1 357.1,325.1 360.9,336.2 364.8,344.1 368.6,350.0 372.5,354.2 376.3,356.9 380.2,358.3 384.0,358.4 387.9,356.9 391.7,355.8 395.6,355.1 399.4,354.5 403.3,354.0 407.1,353.5 411.0,353.1 414.8,352.7 418.7,352.4 422.5,352.0 426.4,351.7 430.2,351.4 434.1,351.1 437.9,350.8" stroke="#0000ff"/><polyline points="284.0,281.3 287.8,285.3 291.7,289.0 295.5,292.3 299.4,294.7 303.2,294.2 307.1,291.4 310.9,286.7 314.8,282.6 318.6,283.0 322.5,286.2 326.3,290.7 330.2,294.0 334.0,291.3 337.9,285.8 341.7,281.6 345.6,284.3 349.4,291.8 353.3,309.3 357.1,323.9 360.9,335.2 364.8,343.2 368.6,349.5 372.5,354.5 376.3,357.6 380.2,358.5 384.0,358.5 387.9,356.4 391.7,354.8 395.6,353.8 399.4,352.9 403.3,352.2 407.1,351.5 411.0,350.9 414.8,350.4 418.7,349.9 422.5,349.4 426.4,348.9 430.2,348.5 434.1,348.1 437.9,347.7" stroke="#ff0000"/><polyline points="284.0,300.8 287.8,304.2 291.7,307.1 295.5,309.5 299.4,310.7 303.2,309.3 307.1,305.9 310.9,301.1 314.8,296.9 318.6,296.7 322.5,298.9 326.3,301.7 330.2,302.9 334.0,298.6 337.9,292.6 341.7,288.8 345.6,291.8 349.4,299.0 353.3,314.4 357.1,327.4 360.9,338.4 364.8,346.1 368.6,351.5 372.5,355.2 376.3,357.4 380.2,358.5 384.0,358.5 387.9,357.2 391.7,356.4 395.6,355.8 399.4,355.3 403.3,354.9 407.1,354.6 411.0,354.2 414.8,353.9 418.7,353.7 422.5,353.4 426.4,353.2 430.2,352.9 434.1,352.7 437.9,352.5" stroke="#0000ff"/><polyline points="284.0,283.1 287.8,287.5 291.7,291.1 295.5,294.2 299.4,296.2 303.2,294.5 307.1,290.1 310.9,284.0 314.8,278.9 318.6,279.7 322.5,283.5 326.3,287.5 330.2,288.4 334.0,281.3 337.9,272.0 341.7,266.0 345.6,269.5 349.4,279.1 353.3,300.4 357.1,317.1 360.9,330.0 364.8,339.0 368.6,346.8 372.5,352.9 376.3,356.8 380.2,358.7 384.0,358.6 387.9,357.1 391.7,356.1 395.6,355.5 399.4,355.0 403.3,354.5 407.1,354.1 411.0,353.8 414.8,353.4 418.7,353.1 422.5,352.8 426.4,352.5 430.2,352.3 434.1,352.0 437.9,351.8" stroke="#ff0000"/><polyline points="284.0,271.5 287.8,278.9 291.7,284.7 295.5,288.9 299.4,290.4 303.2,286.2 307.1,278.7 310.9,268.5 314.8,259.3 318.6,260.2 322.5,267.2 326.3,276.5 330.2,282.4 334.0,275.2 337.9,262.9 341.7,251.8 345.6,252.7 349.4,262.3 353.3,286.9 357.1,306.5 360.9,324.3 364.8,336.9 368.6,346.2 372.5,352.8 376.3,356.9 380.2,358.7 384.0,358.6 387.9,356.8 391.7,355.6 395.6,354.8 399.4,354.2 403.3,353.6 407.1,353.1 411.0,352.7 414.8,352.2 418.7,351.9 422.5,351.5 426.4,351.1 430.2,350.8 434.1,350.5 437.9,350.2" stroke="#ff0000"/><polyline points="284.0,275.1 287.8,280.1 291.7,284.3 295.5,287.7 299.4,289.8 303.2,288.6 307.1,285.1 310.9,279.9 314.8,275.3 318.6,275.9 322.5,279.5 326.3,284.8 330.2,288.7 334.0,285.7 337.9,279.3 341.7,273.8 345.6,275.8 349.4,283.2 353.3,301.7 357.1,318.3 360.9,332.6 364.8,342.6 368.6,349.7 372.5,354.6 376.3,357.5 380.2,358.5 384.0,358.5 387.9,354.5 391.7,351.3 395.6,349.2 399.4,347.5 403.3,346.0 407.1,344.7 411.0,343.5 414.8,342.4 418.7,341.4 422.5,340.4 426.4,339.5 430.2,338.6 434.1,337.7 437.9,336.9" stroke="#ff0000"/><polyline points="284.0,287.6 287.8,291.6 291.7,295.1 295.5,299.3 299.4,303.7 303.2,303.3 307.1,298.1 310.9,288.1 314.8,278.1 318.6,276.0 322.5,279.3 326.3,285.5 330.2,289.4 334.0,282.9 337.9,272.1 341.7,262.0 345.6,262.0 349.4,269.5 353.3,292.1 357.1,311.7 360.9,328.9 364.8,340.8 368.6,349.2 372.5,354.9 376.3,358.1 380.2,359.0 384.0,358.7 387.9,354.5 391.7,351.2 395.6,349.1 399.4,347.3 403.3,345.8 407.1,344.5 411.0,343.3 414.8,342.2 418.7,341.1 422.5,340.1 426.4,339.2 430.2,338.3 434.1,337.5 437.9,336.6" stroke="#0000ff"/><polyline points="284.0,294.8 287.8,298.3 291.7,301.4 295.5,304.2 299.4,306.2 303.2,304.9 307.1,301.1 310.9,295.2 314.8,289.8 318.6,290.0 322.5,293.6 326.3,298.3 330.2,301.1 334.0,296.5 337.9,289.2 341.7,283.4 345.6,285.2 349.4,292.3 353.3,309.3 357.1,322.8 360.9,333.8 364.8,341.7 368.6,348.2 372.5,353.4 376.3,356.9 380.2,358.5 384.0,358.5 387.9,357.0 391.7,355.9 395.6,355.2 399.4,354.6 403.3,354.1 407.1,353.7 411.0,353.3 414.8,352.9 418.7,352.6 422.5,352.3 426.4,352.0 430.2,351.7 434.1,351.4 437.9,351.1" stroke="#0000ff"/><polyline points="284.0,298.9 287.8,301.8 291.7,304.3 295.5,306.6 299.4,308.3 303.2,307.6 307.1,305.4 310.9,302.2 314.8,299.8 318.6,301.4 322.5,304.9 326.3,308.6 330.2,310.5 334.0,307.2 337.9,302.0 341.7,298.8 345.6,302.2 349.4,309.5 353.3,323.4 357.1,334.1 360.9,342.1 364.8,347.6 368.6,352.1 372.5,355.5 376.3,357.5 380.2,358.4 384.0,358.4 387.9,357.3 391.7,356.5 395.6,355.9 399.4,355.5 403.3,355.1 407.1,354.8 411.0,354.5 414.8,354.2 418.7,353.9 422.5,353.7 426.4,353.4 430.2,353.2 434.1,353.0 437.9,352.8" stroke="#0000ff"/><polyline points="284.0,276.7 287.8,282.2 291.7,287.1 295.5,291.5 299.4,294.9 303.2,296.0 307.1,295.8 310.9,294.4 314.8,293.2 318.6,295.6 322.5,300.1 326.3,305.7 330.2,310.2 334.0,310.0 337.9,307.6 341.7,305.4 345.6,307.3 349.4,312.3 353.3,323.1 357.1,332.0 360.9,339.9 364.8,345.9 368.6,350.6 372.5,354.1 376.3,356.5 380.2,357.9 384.0,358.3 387.9,355.6 391.7,353.4 395.6,351.9 399.4,350.7 403.3,349.7 407.1,348.8 411.0,348.0 414.8,347.2 418.7,346.5 422.5,345.8 426.4,345.1 430.2,344.5 434.1,343.9 437.9,343.4" stroke="#0000ff"/><polyline points="284.0,302.3 287.8,305.4 291.7,308.4 295.5,312.0 299.4,315.1 303.2,314.1 307.1,309.3 310.9,300.9 314.8,292.6 318.6,291.5 322.5,295.3 326.3,301.1 330.2,304.5 334.0,298.6 337.9,289.3 341.7,281.6 345.6,283.3 349.4,291.3 353.3,309.9 357.1,324.6 360.9,337.2 364.8,345.8 368.6,351.9 372.5,356.0 376.3,358.3 380.2,358.7 384.0,358.5 387.9,355.7 391.7,353.6 395.6,352.2 399.4,351.0 403.3,350.0 407.1,349.1 411.0,348.3 414.8,347.6 418.7,346.9 422.5,346.2 426.4,345.6 430.2,345.0 434.1,344.5 437.9,343.9" stroke="#0000ff"/><polyline points="284.0,284.6 287.8,288.2 291.7,291.4 295.5,294.0 299.4,295.7 303.2,295.1 307.1,292.7 310.9,289.4 314.8,286.9 318.6,288.0 322.5,290.8 326.3,293.1 330.2,293.1 334.0,288.1 337.9,281.9 341.7,278.8 345.6,282.9 349.4,291.2 353.3,308.3 357.1,323.1 360.9,335.2 364.8,343.7 368.6,350.1 372.5,354.7 376.3,357.5 380.2,358.5 384.0,358.5 387.9,356.0 391.7,354.1 395.6,352.9 399.4,351.8 403.3,351.0 407.1,350.2 411.0,349.5 414.8,348.8 418.7,348.2 422.5,347.6 426.4,347.1 430.2,346.5 434.1,346.0 437.9,345.6" stroke="#0000ff"/><polyline points="284.0,305.7 287.8,307.3 291.7,308.7 295.5,310.5 299.4,312.6 303.2,312.5 307.1,310.0 310.9,304.6 314.8,298.4 318.6,295.2 322.5,295.0 326.3,296.7 330.2,297.7 334.0,294.3 337.9,288.7 341.7,283.8 345.6,283.8 349.4,287.9 353.3,303.0 357.1,319.1 360.9,334.7 364.8,345.5 368.6,352.3 372.5,356.3 376.3,358.4 380.2,358.8 384.0,358.6 387.9,356.8 391.7,355.6 395.6,354.7 399.4,354.1 403.3,353.5 407.1,353.0 411.0,352.6 414.8,352.1 418.7,351.7 422.5,351.4 426.4,351.0 430.2,350.7 434.1,350.3 437.9,350.0" stroke="#0000ff"/><polyline points="284.0,294.7 287.8,298.9 291.7,302.5 295.5,305.2 299.4,306.7 303.2,306.3 307.1,305.1 310.9,303.6 314.8,302.7 318.6,305.1 322.5,309.1 326.3,313.8 330.2,317.5 334.0,316.9 337.9,314.3 341.7,311.8 345.6,313.3 349.4,317.6 353.3,327.8 357.1,336.9 360.9,344.9 364.8,350.6 368.6,354.3 372.5,356.7 376.3,357.9 380.2,358.1 384.0,358.3 387.9,356.8 391.7,355.5 395.6,354.7 399.4,354.0 403.3,353.4 407.1,352.9 411.0,352.5 414.8,352.0 418.7,351.6 422.5,351.2 426.4,350.9 430.2,350.5 434.1,350.2 437.9,349.9" stroke="#0000ff"/><polyline points="284.0,294.5 287.8,296.3 291.7,297.9 295.5,299.3 299.4,300.3 303.2,299.5 307.1,297.2 310.9,294.9 314.8,293.8 318.6,295.6 322.5,298.1 326.3,299.7 330.2,299.3 334.0,294.6 337.9,288.7 341.7,284.7 345.6,285.9 349.4,291.1 353.3,305.9 357.1,321.0 360.9,335.3 364.8,345.3 368.6,351.8 372.5,355.5 376.3,357.7 380.2,358.5 384.0,358.5 387.9,354.3 391.7,350.9 395.6,348.7 399.4,346.9 403.3,345.3 407.1,344.0 411.0,342.7 414.8,341.5 418.7,340.4 422.5,339.4 426.4,338.4 430.2,337.5 434.1,336.6 437.9,335.8" stroke="#ff0000"/><polyline points="284.0,290.6 287.8,294.5 291.7,297.9 295.5,301.1 299.4,303.6 303.2,303.4 307.1,300.8 310.9,296.1 314.8,291.5 318.6,291.3 322.5,294.0 326.3,298.0 330.2,300.5 334.0,297.2 337.9,291.2 341.7,286.2 345.6,287.4 349.4,293.2 353.3,308.9 357.1,323.3 360.9,335.9 364.8,344.8 368.6,351.1 372.5,355.6 376.3,358.1 380.2,358.5 384.0,358.5 387.9,356.0 391.7,354.1 395.6,352.8 399.4,351.7 403.3,350.8 407.1,350.1 411.0,349.3 414.8,348.7 418.7,348.0 422.5,347.5 426.4,346.9 430.2,346.4 434.1,345.9 437.9,345.4" stroke="#ff0000"/><polyline points="284.0,282.3 287.8,287.5 291.7,292.3 295.5,297.3 299.4,302.1 303.2,303.8 307.1,302.3 310.9,298.0 314.8,293.7 318.6,294.6 322.5,298.7 326.3,304.1 330.2,307.5 334.0,304.2 337.9,298.5 341.7,294.4 345.6,297.8 349.4,305.8 353.3,320.8 357.1,331.4 360.9,339.4 364.8,345.2 368.6,350.2 372.5,354.3 376.3,357.0 380.2,358.2 384.0,358.4 387.9,356.7 391.7,355.5 395.6,354.6 399.4,353.9 403.3,353.3 407.1,352.8 411.0,352.3 414.8,351.9 418.7,351.5 422.5,351.1 426.4,350.7 430.2,350.4 434.1,350.0 437.9,349.7" stroke="#0000ff"/><polyline points="284.0,265.8 287.8,270.7 291.7,275.4 295.5,280.1 299.4,283.8 303.2,283.8 307.1,280.8 310.9,274.9 314.8,269.0 318.6,269.3 322.5,273.6 326.3,280.2 330.2,285.2 334.0,282.1 337.9,275.2 341.7,269.2 345.6,271.6 349.4,279.9 353.3,299.6 357.1,316.0 360.9,330.2 364.8,340.2 368.6,347.9 372.5,353.5 376.3,357.0 380.2,358.4 384.0,358.5 387.9,357.0 391.7,355.9 395.6,355.2 399.4,354.7 403.3,354.2 407.1,353.8 411.0,353.4 414.8,353.0 418.7,352.7 422.5,352.3 426.4,352.0 430.2,351.7 434.1,351.5 437.9,351.2" stroke="#ff0000"/><polyline points="284.0,263.0 287.8,267.3 291.7,271.2 295.5,274.9 299.4,277.9 303.2,278.8 307.1,278.0 310.9,276.6 314.8,276.2 318.6,278.7 322.5,282.2 326.3,284.9 330.2,285.7 334.0,282.0 337.9,277.0 341.7,274.0 345.6,276.4 349.4,282.8 353.3,299.0 357.1,314.8 360.9,329.3 364.8,339.8 368.6,347.6 372.5,353.2 376.3,356.7 380.2,358.3 384.0,358.5 387.9,356.2 391.7,354.5 395.6,353.4 399.4,352.5 403.3,351.7 407.1,351.0 411.0,350.3 414.8,349.7 418.7,349.2 422.5,348.7 426.4,348.2 430.2,347.7 434.1,347.3 437.9,346.8" stroke="#0000ff"/><polyline points="284.0,286.8 287.8,293.2 291.7,298.1 295.5,302.2 299.4,304.9 303.2,303.6 307.1,299.4 310.9,292.4 314.8,285.6 318.6,285.6 322.5,290.2 326.3,297.4 330.2,303.1 334.0,300.1 337.9,293.2 341.7,286.8 345.6,288.7 349.4,296.4 353.3,313.7 357.1,327.2 360.9,338.7 364.8,346.6 368.6,352.1 372.5,355.6 376.3,357.5 380.2,358.4 384.0,358.4 387.9,356.0 391.7,354.1 395.6,352.9 399.4,351.9 403.3,351.0 407.1,350.2 411.0,349.5 414.8,348.8 418.7,348.2 422.5,347.7 426.4,347.1 430.2,346.6 434.1,346.1 437.9,345.6" stroke="#ff0000"/><polyline points="284.0,297.0 287.8,300.0 291.7,303.0 295.5,306.7 299.4,310.2 303.2,309.6 307.1,305.1 310.9,297.1 314.8,289.7 318.6,289.2 322.5,293.1 326.3,299.0 330.2,302.8 334.0,297.7 337.9,289.0 341.7,281.6 345.6,283.4 349.4,291.5 353.3,310.6 357.1,325.6 360.9,337.7 364.8,345.9 368.6,351.8 372.5,355.8 376.3,358.0 380.2,358.8 384.0,358.6 387.9,355.6 391.7,353.3 395.6,351.8 399.4,350.6 403.3,349.6 407.1,348.6 411.0,347.8 414.8,347.0 418.7,346.3 422.5,345.6 426.4,344.9 430.2,344.3 434.1,343.7 437.9,343.1" stroke="#0000ff"/><polyline points="284.0,265.5 287.8,272.1 291.7,278.0 295.5,284.4 299.4,290.3 303.2,292.2 307.1,290.0 310.9,283.5 314.8,276.3 318.6,276.1 322.5,281.1 326.3,288.6 330.2,293.5 334.0,289.3 337.9,281.8 341.7,276.0 345.6,279.5 349.4,289.1 353.3,308.0 357.1,322.3 360.9,334.3 364.8,342.8 368.6,349.2 372.5,353.9 376.3,356.8 380.2,358.2 384.0,358.4 387.9,357.5 391.7,357.0 395.6,356.6 399.4,356.3 403.3,356.0 407.1,355.8 411.0,355.6 414.8,355.4 418.7,355.2 422.5,355.0 426.4,354.9 430.2,354.7 434.1,354.6 437.9,354.4" stroke="#0000ff"/><polyline points="284.0,263.0 287.8,270.3 291.7,276.5 295.5,281.9 299.4,285.5 303.2,282.5 307.1,274.5 310.9,262.4 314.8,251.2 318.6,251.7 322.5,258.9 326.3,268.4 330.2,273.6 334.0,263.7 337.9,248.4 341.7,235.2 345.6,236.5 349.4,248.2 353.3,277.2 357.1,301.5 360.9,324.0 364.8,339.6 368.6,349.5 372.5,355.0 376.3,357.9 380.2,359.0 384.0,358.7 387.9,356.3 391.7,354.7 395.6,353.6 399.4,352.8 403.3,352.0 407.1,351.3 411.0,350.7 414.8,350.2 418.7,349.6 422.5,349.1 426.4,348.7 430.2,348.2 434.1,347.8 437.9,347.4" stroke="#ff0000"/><polyline points="284.0,262.8 287.8,269.3 291.7,275.1 295.5,280.7 299.4,285.1 303.2,284.1 307.1,278.9 310.9,269.6 314.8,260.4 318.6,260.4 322.5,266.4 326.3,275.5 330.2,281.9 334.0,276.4 337.9,266.0 341.7,256.3 345.6,257.8 349.4,267.4 353.3,291.1 357.1,310.8 360.9,328.5 364.8,340.9 368.6,349.3 372.5,354.4 376.3,357.4 380.2,358.6 384.0,358.6 387.9,355.0 391.7,352.2 395.6,350.4 399.4,348.9 403.3,347.6 407.1,346.5 411.0,345.4 414.8,344.5 418.7,343.6 422.5,342.7 426.4,341.9 430.2,341.2 434.1,340.4 437.9,339.7" stroke="#ff0000"/><polyline points="284.0,287.7 287.8,290.8 291.7,294.2 295.5,297.8 299.4,300.9 303.2,301.9 307.1,301.1 310.9,299.1 314.8,297.7 318.6,299.9 322.5,304.4 326.3,309.9 330.2,314.4 334.0,313.9 337.9,310.7 341.7,306.5 345.6,305.7 349.4,308.2 353.3,318.9 357.1,329.2 360.9,338.7 364.8,345.5 368.6,350.7 372.5,354.4 376.3,356.8 380.2,358.1 384.0,358.3 387.9,355.2 391.7,352.7 395.6,351.0 399.4,349.6 403.3,348.4 407.1,347.3 411.0,346.4 414.8,345.5 418.7,344.7 422.5,343.9 426.4,343.1 430.2,342.4 434.1,341.7 437.9,341.1" stroke="#0000ff"/><polyline points="284.0,294.0 287.8,297.8 291.7,301.2 295.5,304.2 299.4,306.3 303.2,306.3 307.1,304.8 310.9,302.3 314.8,300.2 318.6,301.5 322.5,304.7 326.3,307.9 330.2,309.2 334.0,305.7 337.9,300.9 341.7,297.5 345.6,299.2 349.4,304.5 353.3,317.1 357.1,328.4 360.9,339.0 364.8,346.6 368.6,352.0 372.5,355.6 376.3,357.6 380.2,358.3 384.0,358.4 387.9,357.5 391.7,356.9 395.6,356.5 399.4,356.2 403.3,355.9 407.1,355.7 411.0,355.5 414.8,355.3 418.7,355.1 422.5,354.9 426.4,354.7 430.2,354.5 434.1,354.4 437.9,354.2" stroke="#0000ff"/><polyline points="284.0,269.5 287.8,274.1 291.7,278.3 295.5,282.3 299.4,285.7 303.2,286.2 307.1,284.4 310.9,281.5 314.8,279.9 318.6,282.8 322.5,287.4 326.3,291.2 330.2,292.3 334.0,287.3 337.9,280.9 341.7,277.6 345.6,281.8 349.4,290.6 353.3,308.2 357.1,322.8 360.9,334.9 364.8,343.3 368.6,349.4 372.5,353.6 376.3,356.5 380.2,358.3 384.0,358.4 387.9,355.9 391.7,354.0 395.6,352.6 399.4,351.6 403.3,350.7 407.1,349.9 411.0,349.1 414.8,348.4 418.7,347.8 422.5,347.2 426.4,346.6 430.2,346.1 434.1,345.6 437.9,345.1" stroke="#0000ff"/><polyline points="284.0,290.6 287.8,294.5 291.7,298.3 295.5,303.1 299.4,307.9 303.2,308.2 307.1,303.8 310.9,294.5 314.8,284.6 318.6,282.7 322.5,286.5 326.3,293.1 330.2,296.9 334.0,290.6 337.9,280.5 341.7,272.6 345.6,275.3 349.4,284.9 353.3,305.4 357.1,321.0 360.9,334.5 364.8,343.9 368.6,350.6 372.5,355.2 376.3,357.8 380.2,358.7 384.0,358.6 387.9,358.4 391.7,358.6 395.6,358.7 399.4,358.8 403.3,358.9 407.1,359.0 411.0,359.0 414.8,359.1 418.7,359.2 422.5,359.2 426.4,359.3 430.2,359.3 434.1,359.4 437.9,359.4" stroke="#ff0000"/><polyline points="284.0,307.3 287.8,310.7 291.7,313.5 295.5,315.9 299.4,317.5 303.2,317.0 307.1,314.9 310.9,311.5 314.8,308.4 318.6,308.8 322.5,311.2 326.3,313.8 330.2,314.3 334.0,310.2 337.9,305.0 341.7,302.4 345.6,306.0 349.4,313.0 353.3,325.4 357.1,334.9 360.9,342.7 364.8,348.1 368.6,352.3 372.5,355.3 376.3,357.4 380.2,358.4 384.0,358.4 387.9,355.2 391.7,352.6 395.6,350.9 399.4,349.5 403.3,348.4 407.1,347.3 411.0,346.3 414.8,345.4 418.7,344.6 422.5,343.8 426.4,343.1 430.2,342.3 434.1,341.7 437.9,341.0" stroke="#0000ff"/><polyline points="284.0,305.9 287.8,308.9 291.7,311.5 295.5,313.9 299.4,315.9 303.2,316.5 307.1,315.8 310.9,313.8 314.8,311.4 318.6,311.0 322.5,312.5 326.3,315.3 330.2,317.9 334.0,317.7 337.9,316.1 341.7,314.8 345.6,316.8 349.4,321.0 353.3,330.7 357.1,340.3 360.9,348.4 364.8,353.8 368.6,356.8 372.5,357.9 376.3,358.2 380.2,358.2 384.0,358.3 387.9,357.0 391.7,355.9 395.6,355.1 399.4,354.6 403.3,354.1 407.1,353.6 411.0,353.2 414.8,352.8 418.7,352.5 422.5,352.1 426.4,351.8 430.2,351.5 434.1,351.2 437.9,351.0" stroke="#0000ff"/><polyline points="284.0,259.6 287.8,265.9 291.7,271.0 295.5,275.0 299.4,277.3 303.2,275.3 307.1,270.3 310.9,263.0 314.8,256.4 318.6,256.8 322.5,261.2 326.3,267.2 330.2,271.0 334.0,265.5 337.9,256.2 341.7,248.3 345.6,249.7 349.4,258.2 353.3,281.7 357.1,302.9 360.9,322.1 364.8,335.8 368.6,345.7 372.5,352.8 376.3,357.1 380.2,358.7 384.0,358.6 387.9,355.6 391.7,353.2 395.6,351.7 399.4,350.5 403.3,349.4 407.1,348.5 411.0,347.6 414.8,346.8 418.7,346.1 422.5,345.4 426.4,344.7 430.2,344.1 434.1,343.4 437.9,342.9" stroke="#ff0000"/><polyline points="284.0,253.2 287.8,260.5 291.7,266.8 295.5,272.4 299.4,276.9 303.2,277.4 307.1,274.7 310.9,268.4 314.8,261.5 318.6,261.2 322.5,266.0 326.3,274.4 330.2,281.7 334.0,280.0 337.9,273.7 341.7,267.6 345.6,270.3 349.4,279.2 353.3,299.3 357.1,315.9 360.9,330.3 364.8,340.5 368.6,348.1 372.5,353.5 376.3,356.9 380.2,358.3 384.0,358.5 387.9,356.5 391.7,355.0 395.6,354.0 399.4,353.2 403.3,352.5 407.1,351.9 411.0,351.4 414.8,350.9 418.7,350.4 422.5,349.9 426.4,349.5 430.2,349.1 434.1,348.7 437.9,348.3" stroke="#0000ff"/><polyline points="284.0,297.3 287.8,300.1 291.7,302.5 295.5,304.4 299.4,305.0 303.2,302.9 307.1,298.7 310.9,293.3 314.8,288.6 318.6,288.4 322.5,290.8 326.3,294.1 330.2,295.8 334.0,291.1 337.9,283.8 341.7,277.8 345.6,278.4 349.4,284.1 353.3,301.5 357.1,317.9 360.9,332.8 364.8,343.2 368.6,350.3 372.5,355.0 376.3,357.7 380.2,358.8 384.0,358.6 387.9,358.8 391.7,359.3 395.6,359.6 399.4,359.9 403.3,360.1 407.1,360.4 411.0,360.6 414.8,360.7 418.7,360.9 422.5,361.0 426.4,361.2 430.2,361.3 434.1,361.5 437.9,361.6" stroke="#0000ff"/><polyline points="284.0,329.8 287.8,332.1 291.7,334.0 295.5,335.8 299.4,337.2 303.2,336.4 307.1,333.8 310.9,328.7 314.8,322.9 318.6,320.8 322.5,322.0 326.3,325.6 330.2,328.5 334.0,326.5 337.9,322.1 341.7,317.2 345.6,316.3 349.4,318.8 353.3,327.8 357.1,336.0 360.9,344.4 364.8,350.6 368.6,354.8 372.5,357.4 376.3,358.6 380.2,358.5 384.0,358.4 387.9,356.5 391.7,355.1 395.6,354.1 399.4,353.3 403.3,352.6 407.1,352.0 411.0,351.5 414.8,351.0 418.7,350.5 422.5,350.1 426.4,349.7 430.2,349.3 434.1,348.9 437.9,348.5" stroke="#0000ff"/><polyline points="284.0,277.7 287.8,282.3 291.7,286.3 295.5,290.2 299.4,292.7 303.2,289.8 307.1,282.6 310.9,271.9 314.8,262.1 318.6,261.5 322.5,266.5 326.3,273.4 330.2,276.9 334.0,268.2 337.9,255.2 341.7,245.2 345.6,248.6 349.4,260.7 353.3,287.6 357.1,308.7 360.9,326.4 364.8,338.5 368.6,347.5 372.5,353.7 376.3,357.5 380.2,359.0 384.0,358.7 387.9,356.5 391.7,355.1 395.6,354.1 399.4,353.4 403.3,352.7 407.1,352.1 411.0,351.6 414.8,351.1 418.7,350.6 422.5,350.1 426.4,349.7 430.2,349.3 434.1,348.9 437.9,348.6" stroke="#ff0000"/><polyline points="284.0,257.8 287.8,262.2 291.7,266.3 295.5,271.0 299.4,275.9 303.2,278.5 307.1,277.9 310.9,274.1 314.8,269.5 318.6,268.4 322.5,270.4 326.3,274.5 330.2,277.7 334.0,275.8 337.9,271.3 341.7,267.7 345.6,270.3 349.4,277.3 353.3,295.5 357.1,313.6 360.9,329.9 364.8,341.4 368.6,349.2 372.5,354.2 376.3,357.1 380.2,358.4 384.0,358.5 387.9,358.0 391.7,357.9 395.6,357.8 399.4,357.7 403.3,357.7 407.1,357.6 411.0,357.5 414.8,357.5 418.7,357.4 422.5,357.4 426.4,357.4 430.2,357.3 434.1,357.3 437.9,357.2" stroke="#ff0000"/><polyline points="284.0,261.6 287.8,268.1 291.7,273.8 295.5,278.6 299.4,281.5 303.2,279.6 307.1,274.7 310.9,268.7 314.8,265.2 318.6,269.9 322.5,277.6 326.3,285.1 330.2,288.9 334.0,281.8 337.9,271.1 341.7,262.1 345.6,263.6 349.4,272.5 353.3,294.2 357.1,312.7 360.9,330.0 364.8,342.1 368.6,350.0 372.5,354.7 376.3,357.4 380.2,358.4 384.0,358.5 387.9,357.6 391.7,357.1 395.6,356.7 399.4,356.5 403.3,356.2 407.1,356.0 411.0,355.8 414.8,355.6 418.7,355.5 422.5,355.3 426.4,355.2 430.2,355.0 434.1,354.9 437.9,354.8" stroke="#ff0000"/><polyline points="284.0,252.9 287.8,259.0 291.7,264.9 295.5,271.6 299.4,277.9 303.2,279.6 307.1,277.0 310.9,269.9 314.8,262.7 318.6,263.3 322.5,269.2 326.3,277.4 330.2,282.8 334.0,277.9 337.9,269.4 341.7,263.1 345.6,267.6 349.4,279.0 353.3,300.8 357.1,317.2 360.9,331.4 364.8,341.3 368.6,348.6 372.5,353.6 376.3,356.8 380.2,358.2 384.0,358.5 387.9,357.4 391.7,356.6 395.6,356.2 399.4,355.8 403.3,355.4 407.1,355.1 411.0,354.9 414.8,354.6 418.7,354.4 422.5,354.2 426.4,354.0 430.2,353.8 434.1,353.6 437.9,353.4" stroke="#0000ff"/><polyline points="284.0,264.9 287.8,271.2 291.7,276.5 295.5,281.4 299.4,285.0 303.2,284.2 307.1,279.9 310.9,272.6 314.8,265.7 318.6,266.1 322.5,270.7 326.3,276.8 330.2,280.1 334.0,273.8 337.9,264.2 341.7,256.8 345.6,259.6 349.4,269.4 353.3,292.0 357.1,310.8 360.9,327.3 364.8,338.9 368.6,347.4 372.5,353.6 376.3,357.5 380.2,358.6 384.0,358.6 387.9,356.2 391.7,354.5 395.6,353.4 399.4,352.5 403.3,351.7 407.1,351.0 411.0,350.4 414.8,349.8 418.7,349.3 422.5,348.7 426.4,348.2 430.2,347.8 434.1,347.3 437.9,346.9" stroke="#0000ff"/><polyline points="284.0,288.8 287.8,293.0 291.7,296.6 295.5,299.6 299.4,301.2 303.2,298.7 307.1,293.3 310.9,285.6 314.8,278.5 318.6,278.5 322.5,282.8 326.3,288.7 330.2,292.3 334.0,286.6 337.9,277.2 341.7,269.2 345.6,270.7 349.4,278.9 353.3,299.4 357.1,316.5 360.9,331.7 364.8,342.2 368.6,349.7 372.5,354.7 376.3,357.6 380.2,358.8 384.0,358.6 387.9,357.6 391.7,357.1 395.6,356.8 399.4,356.5 403.3,356.3 407.1,356.1 411.0,355.9 414.8,355.7 418.7,355.6 422.5,355.4 426.4,355.3 430.2,355.1 434.1,355.0 437.9,354.9" stroke="#ff0000"/><polyline points="284.0,266.2 287.8,272.3 291.7,277.4 295.5,281.5 299.4,283.9 303.2,282.5 307.1,278.9 310.9,274.0 314.8,270.2 318.6,272.8 322.5,278.4 326.3,284.8 330.2,288.8 334.0,284.5 337.9,277.0 341.7,270.1 345.6,270.8 349.4,277.5 353.3,296.4 357.1,313.2 360.9,328.7 364.8,339.9 368.6,347.9 372.5,353.5 376.3,356.9 380.2,358.4 384.0,358.5 387.9,354.8 391.7,351.9 395.6,350.0 399.4,348.4 403.3,347.1 407.1,345.9 411.0,344.8 414.8,343.8 418.7,342.8 422.5,341.9 426.4,341.1 430.2,340.3 434.1,339.5 437.9,338.8" stroke="#0000ff"/><polyline points="284.0,298.2 287.8,300.6 291.7,303.0 295.5,305.5 299.4,307.7 303.2,307.8 307.1,305.9 310.9,302.3 314.8,298.5 318.6,298.0 322.5,299.8 326.3,303.3 330.2,306.4 334.0,305.0 337.9,301.0 341.7,296.8 345.6,297.0 349.4,300.9 353.3,313.6 357.1,326.1 360.9,337.3 364.8,345.4 368.6,351.2 372.5,355.3 376.3,357.7 380.2,358.5 384.0,358.4 387.9,355.9 391.7,353.9 395.6,352.6 399.4,351.6 403.3,350.7 407.1,349.8 411.0,349.1 414.8,348.4 418.7,347.8 422.5,347.2 426.4,346.6 430.2,346.0 434.1,345.5 437.9,345.0" stroke="#0000ff"/><polyline points="284.0,263.4 287.8,268.4 291.7,272.7 295.5,276.6 299.4,279.7 303.2,279.8 307.1,277.2 310.9,272.7 314.8,268.8 318.6,269.4 322.5,272.6 326.3,276.6 330.2,278.8 334.0,274.6 337.9,268.0 341.7,263.5 345.6,266.8 349.4,275.4 353.3,295.6 357.1,313.8 360.9,329.4 364.8,340.3 368.6,348.1 372.5,353.5 376.3,356.9 380.2,358.5 384.0,358.5 387.9,354.8 391.7,351.9 395.6,349.9 399.4,348.3 403.3,347.0 407.1,345.8 411.0,344.7 414.8,343.7 418.7,342.7 422.5,341.8 426.4,341.0 430.2,340.1 434.1,339.4 437.9,338.6" stroke="#0000ff"/><polyline points="284.0,279.7 287.8,284.1 291.7,288.2 295.5,292.5 299.4,296.2 303.2,296.5 307.1,293.8 310.9,288.1 314.8,282.3 318.6,282.2 322.5,286.1 326.3,291.7 330.2,295.3 334.0,291.4 337.9,284.7 341.7,279.8 345.6,283.1 349.4,291.7 353.3,309.6 357.1,323.1 360.9,333.7 364.8,341.4 368.6,347.9 372.5,353.4 376.3,357.1 380.2,358.4 384.0,358.5 387.9,356.8 391.7,355.6 395.6,354.8 399.4,354.2 403.3,353.7 407.1,353.2 411.0,352.7 414.8,352.3 418.7,351.9 422.5,351.6 426.4,351.2 430.2,350.9 434.1,350.6 437.9,350.3" stroke="#ff0000"/><polyline points="284.0,262.9 287.8,270.1 291.7,275.8 295.5,279.5 299.4,281.0 303.2,279.9 307.1,278.1 310.9,276.2 314.8,275.2 318.6,278.3 322.5,283.3 326.3,288.6 330.2,292.4 334.0,290.4 337.9,286.2 341.7,283.5 345.6,287.3 349.4,295.3 353.3,311.2 357.1,324.4 360.9,335.1 364.8,342.8 368.6,348.9 372.5,353.7 376.3,356.8 380.2,358.1 384.0,358.4 387.9,356.0 391.7,354.0 395.6,352.7 399.4,351.7 403.3,350.8 407.1,350.0 411.0,349.3 414.8,348.6 418.7,348.0 422.5,347.4 426.4,346.8 430.2,346.3 434.1,345.8 437.9,345.3" stroke="#0000ff"/><polyline points="284.0,270.5 287.8,273.3 291.7,276.3 295.5,279.6 299.4,282.6 303.2,283.2 307.1,281.2 310.9,277.0 314.8,272.5 318.6,271.4 322.5,273.0 326.3,276.3 330.2,279.1 334.0,277.1 337.9,272.8 341.7,270.2 345.6,274.2 349.4,282.4 353.3,301.6 357.1,319.1 360.9,332.7 364.8,342.1 368.6,349.1 372.5,354.2 376.3,357.3 380.2,358.6 384.0,358.6 387.9,357.7 391.7,357.2 395.6,356.9 399.4,356.6 403.3,356.4 407.1,356.2 411.0,356.0 414.8,355.8 418.7,355.7 422.5,355.5 426.4,355.4 430.2,355.3 434.1,355.1 437.9,355.0" stroke="#0000ff"/><polyline points="284.0,281.0 287.8,285.6 291.7,289.3 295.5,292.1 299.4,293.8 303.2,292.6 307.1,289.3 310.9,284.7 314.8,280.6 318.6,281.0 322.5,284.1 326.3,288.1 330.2,290.5 334.0,286.6 337.9,280.1 341.7,274.6 345.6,275.7 349.4,281.9 353.3,299.6 357.1,316.8 360.9,332.7 364.8,343.8 368.6,351.0 372.5,355.3 376.3,357.7 380.2,358.6 384.0,358.5 387.9,356.6 391.7,355.2 395.6,354.2 399.4,353.5 403.3,352.8 407.1,352.3 411.0,351.7 414.8,351.2 418.7,350.8 422.5,350.4 426.4,350.0 430.2,349.6 434.1,349.2 437.9,348.8" stroke="#ff0000"/><polyline points="284.0,273.0 287.8,278.9 291.7,284.2 295.5,289.4 299.4,294.0 303.2,294.7 307.1,292.2 310.9,286.8 314.8,281.8 318.6,283.4 322.5,288.8 326.3,295.4 330.2,299.0 334.0,294.0 337.9,286.4 341.7,280.5 345.6,283.0 349.4,291.3 353.3,309.2 357.1,323.9 360.9,336.9 364.8,345.9 368.6,351.9 372.5,355.5 376.3,357.5 380.2,358.2 384.0,358.4 387.9,358.3 391.7,358.4 395.6,358.5 399.4,358.5 403.3,358.6 407.1,358.6 411.0,358.6 414.8,358.7 418.7,358.7 422.5,358.7 426.4,358.8 430.2,358.8 434.1,358.8 437.9,358.8" stroke="#ff0000"/><polyline points="284.0,245.4 287.8,253.6 291.7,260.1 295.5,265.1 299.4,268.3 303.2,267.2 307.1,263.1 310.9,256.8 314.8,251.2 318.6,252.1 322.5,256.8 326.3,262.9 330.2,266.6 334.0,261.8 337.9,253.8 341.7,248.2 345.6,252.5 349.4,263.3 353.3,287.1 357.1,307.1 360.9,323.8 364.8,335.8 368.6,345.0 372.5,351.8 376.3,356.2 380.2,358.4 384.0,358.6 387.9,356.1 391.7,354.2 395.6,353.0 399.4,352.0 403.3,351.1 407.1,350.3 411.0,349.6 414.8,349.0 418.7,348.4 422.5,347.8 426.4,347.3 430.2,346.8 434.1,346.3 437.9,345.8" stroke="#0000ff"/><polyline points="284.0,277.6 287.8,282.2 291.7,286.4 295.5,290.3 299.4,293.5 303.2,293.7 307.1,291.4 310.9,287.8 314.8,285.1 318.6,287.3 322.5,291.5 326.3,295.0 330.2,295.3 334.0,288.9 337.9,281.2 341.7,276.1 345.6,278.1 349.4,285.2 353.3,302.7 357.1,318.4 360.9,332.9 364.8,343.1 368.6,350.2 372.5,354.8 376.3,357.5 380.2,358.5 384.0,358.5 387.9,355.6 391.7,353.4 395.6,351.9 399.4,350.7 403.3,349.6 407.1,348.7 411.0,347.9 414.8,347.1 418.7,346.4 422.5,345.7 426.4,345.0 430.2,344.4 434.1,343.8 437.9,343.2" stroke="#0000ff"/><polyline points="284.0,283.5 287.8,288.2 291.7,292.5 295.5,296.6 299.4,299.9 303.2,299.7 307.1,296.3 310.9,289.9 314.8,283.2 318.6,282.3 322.5,285.6 326.3,291.4 330.2,296.2 334.0,293.3 337.9,286.5 341.7,279.5 345.6,279.6 349.4,285.4 353.3,302.9 357.1,319.1 360.9,334.0 364.8,344.3 368.6,351.2 372.5,355.3 376.3,357.6 380.2,358.6 384.0,358.5 387.9,357.5 391.7,356.8 395.6,356.4 399.4,356.0 403.3,355.7 407.1,355.5 411.0,355.2 414.8,355.0 418.7,354.8 422.5,354.6 426.4,354.4 430.2,354.2 434.1,354.1 437.9,353.9" stroke="#0000ff"/><polyline points="284.0,291.3 287.8,294.2 291.7,297.1 295.5,300.5 299.4,304.0 303.2,305.5 307.1,304.6 310.9,301.8 314.8,299.2 318.6,299.6 322.5,302.1 326.3,305.9 330.2,309.2 334.0,308.1 337.9,304.6 341.7,301.1 345.6,301.8 349.4,305.8 353.3,317.5 357.1,328.2 360.9,337.8 364.8,344.8 368.6,350.3 372.5,354.3 376.3,357.0 380.2,358.3 384.0,358.4 387.9,357.2 391.7,356.3 395.6,355.7 399.4,355.2 403.3,354.8 407.1,354.4 411.0,354.1 414.8,353.8 418.7,353.5 422.5,353.2 426.4,353.0 430.2,352.7 434.1,352.5 437.9,352.3" stroke="#0000ff"/><polyline points="284.0,247.3 287.8,254.1 291.7,259.7 295.5,264.6 299.4,268.4 303.2,268.0 307.1,264.2 310.9,257.6 314.8,251.5 318.6,252.1 322.5,256.8 326.3,263.3 330.2,267.6 334.0,262.9 337.9,254.5 341.7,248.0 345.6,251.2 349.4,261.2 353.3,285.5 357.1,307.0 360.9,325.5 364.8,338.4 368.6,347.6 372.5,353.6 376.3,357.1 380.2,358.6 384.0,358.6 387.9,355.1 391.7,352.3 395.6,350.5 399.4,349.0 403.3,347.8 407.1,346.7 411.0,345.6 414.8,344.7 418.7,343.8 422.5,343.0 426.4,342.2 430.2,341.4 434.1,340.7 437.9,340.0" stroke="#ff0000"/><polyline points="284.0,291.4 287.8,294.6 291.7,297.8 295.5,301.5 299.4,305.2 303.2,307.2 307.1,307.4 310.9,305.8 314.8,304.1 318.6,304.8 322.5,307.1 326.3,309.8 330.2,311.4 334.0,309.5 337.9,306.6 341.7,305.3 345.6,308.4 349.4,314.1 353.3,324.6 357.1,333.3 360.9,341.1 364.8,346.9 368.6,351.3 372.5,354.6 376.3,356.9 380.2,358.1 384.0,358.3 387.9,356.3 391.7,354.6 395.6,353.5 399.4,352.6 403.3,351.8 407.1,351.1 411.0,350.5 414.8,349.9 418.7,349.3 422.5,348.8 426.4,348.3 430.2,347.9 434.1,347.4 437.9,347.0" stroke="#0000ff"/><polyline points="284.0,275.5 287.8,280.2 291.7,284.4 295.5,288.4 299.4,292.0 303.2,293.7 307.1,293.6 310.9,292.2 314.8,290.9 318.6,291.9 322.5,294.2 326.3,296.8 330.2,298.2 334.0,296.2 337.9,292.9 341.7,290.7 345.6,292.9 349.4,298.1 353.3,311.1 357.1,323.7 360.9,335.4 364.8,343.9 368.6,349.9 372.5,354.0 376.3,356.7 380.2,358.2 384.0,358.4 387.9,357.1 391.7,356.2 395.6,355.6 399.4,355.1 403.3,354.6 407.1,354.2 411.0,353.9 414.8,353.6 418.7,353.3 422.5,353.0 426.4,352.7 430.2,352.4 434.1,352.2 437.9,352.0" stroke="#0000ff"/><polyline points="284.0,308.9 287.8,313.1 291.7,316.4 295.5,318.0 299.4,317.3 303.2,314.2 307.1,311.1 310.9,309.1 314.8,309.0 318.6,312.9 322.5,317.6 326.3,321.4 330.2,323.3 334.0,319.9 337.9,315.0 341.7,311.8 345.6,314.3 349.4,320.3 353.3,331.6 357.1,339.0 360.9,344.2 364.8,347.9 368.6,351.6 372.5,354.9 376.3,357.1 380.2,358.2 384.0,358.3 387.9,354.7 391.7,351.6 395.6,349.6 399.4,348.0 403.3,346.6 407.1,345.3 411.0,344.2 414.8,343.1 418.7,342.1 422.5,341.2 426.4,340.3 430.2,339.5 434.1,338.7 437.9,337.9" stroke="#0000ff"/><polyline points="284.0,327.9 287.8,329.2 291.7,330.2 295.5,330.8 299.4,330.5 303.2,328.9 307.1,326.3 310.9,323.0 314.8,319.8 318.6,318.5 322.5,318.7 326.3,320.2 330.2,322.0 334.0,321.4 337.9,319.2 341.7,317.4 345.6,318.6 349.4,322.0 353.3,331.0 357.1,339.7 360.9,346.9 364.8,351.8 368.6,355.2 372.5,356.9 376.3,357.8 380.2,358.5 384.0,358.4 387.9,355.8 391.7,353.7 395.6,352.2 399.4,351.1 403.3,350.1 407.1,349.3 411.0,348.5 414.8,347.7 418.7,347.1 422.5,346.4 426.4,345.8 430.2,345.2 434.1,344.7 437.9,344.1" stroke="#0000ff"/><polyline points="284.0,283.6 287.8,288.5 291.7,292.7 295.5,296.3 299.4,298.8 303.2,299.2 307.1,298.1 310.9,296.4 314.8,295.6 318.6,298.3 322.5,302.6 326.3,306.7 330.2,309.0 334.0,306.3 337.9,301.9 341.7,298.5 345.6,300.0 349.4,305.2 353.3,317.4 357.1,328.2 360.9,338.2 364.8,345.6 368.6,351.1 372.5,355.1 376.3,357.5 380.2,358.1 384.0,358.3 387.9,357.4 391.7,356.6 395.6,356.1 399.4,355.7 403.3,355.4 407.1,355.1 411.0,354.8 414.8,354.5 418.7,354.3 422.5,354.1 426.4,353.9 430.2,353.7 434.1,353.5 437.9,353.3" stroke="#0000ff"/><polyline points="284.0,287.8 287.8,290.1 291.7,292.7 295.5,295.7 299.4,298.4 303.2,298.4 307.1,295.6 310.9,290.8 314.8,286.3 318.6,286.1 322.5,288.4 326.3,291.4 330.2,292.9 334.0,288.4 337.9,281.7 341.7,277.1 345.6,279.9 349.4,287.4 353.3,305.2 357.1,320.6 360.9,333.5 364.8,342.5 368.6,349.2 372.5,354.0 376.3,357.1 380.2,358.6 384.0,358.5 387.9,356.4 391.7,354.8 395.6,353.8 399.4,352.9 403.3,352.2 407.1,351.5 411.0,351.0 414.8,350.4 418.7,349.9 422.5,349.4 426.4,349.0 430.2,348.5 434.1,348.1 437.9,347.7" stroke="#ff0000"/><polyline points="284.0,261.5 287.8,267.4 291.7,272.5 295.5,277.2 299.4,281.2 303.2,282.6 307.1,281.4 310.9,277.8 314.8,273.9 318.6,273.8 322.5,276.6 326.3,280.8 330.2,283.6 334.0,281.0 337.9,276.0 341.7,272.2 345.6,274.7 349.4,281.7 353.3,299.5 357.1,316.4 360.9,331.2 364.8,341.6 368.6,349.0 372.5,353.9 376.3,356.9 380.2,358.3 384.0,358.5 387.9,357.8 391.7,357.4 395.6,357.2 399.4,357.0 403.3,356.9 407.1,356.7 411.0,356.6 414.8,356.5 418.7,356.3 422.5,356.2 426.4,356.1 430.2,356.0 434.1,355.9 437.9,355.9" stroke="#ff0000"/><polyline points="284.0,283.6 287.8,289.1 291.7,293.9 295.5,298.4 299.4,301.7 303.2,299.5 307.1,293.0 310.9,282.7 314.8,272.9 318.6,272.6 322.5,278.3 326.3,286.6 330.2,291.8 334.0,284.8 337.9,273.0 341.7,262.3 345.6,263.2 349.4,272.3 353.3,295.2 357.1,313.1 360.9,329.0 364.8,340.2 368.6,348.4 372.5,354.0 376.3,357.5 380.2,358.8 384.0,358.6 387.9,355.6 391.7,353.4 395.6,351.9 399.4,350.7 403.3,349.7 407.1,348.8 411.0,347.9 414.8,347.2 418.7,346.5 422.5,345.8 426.4,345.1 430.2,344.5 434.1,343.9 437.9,343.4" stroke="#ff0000"/><polyline points="284.0,296.6 287.8,300.3 291.7,303.8 295.5,307.3 299.4,310.1 303.2,309.6 307.1,306.6 310.9,301.4 314.8,296.7 318.6,297.5 322.5,301.6 326.3,306.5 330.2,308.8 334.0,303.7 337.9,296.3 341.7,290.4 345.6,291.9 349.4,298.5 353.3,313.9 357.1,327.0 360.9,339.3 364.8,347.9 368.6,353.3 372.5,356.4 376.3,358.0 380.2,358.4 384.0,358.4 387.9,353.9 391.7,350.1 395.6,347.6 399.4,345.6 403.3,343.9 407.1,342.4 411.0,341.0 414.8,339.7 418.7,338.4 422.5,337.3 426.4,336.2 430.2,335.2 434.1,334.2 437.9,333.3" stroke="#0000ff"/><polyline points="284.0,284.3 287.8,290.0 291.7,294.4 295.5,298.1 299.4,300.6 303.2,298.5 307.1,292.9 310.9,284.4 314.8,276.2 318.6,275.5 322.5,279.4 326.3,284.7 330.2,287.2 334.0,279.9 337.9,269.4 341.7,261.7 345.6,264.9 349.4,275.2 353.3,297.5 357.1,314.6 360.9,328.9 364.8,338.9 368.6,346.7 372.5,352.6 376.3,356.6 380.2,358.7 384.0,358.6 387.9,356.7 391.7,355.4 395.6,354.5 399.4,353.8 403.3,353.2 407.1,352.7 411.0,352.2 414.8,351.8 418.7,351.3 422.5,350.9 426.4,350.6 430.2,350.2 434.1,349.9 437.9,349.5" stroke="#0000ff"/><polyline points="284.0,291.0 287.8,296.3 291.7,300.9 295.5,305.8 299.4,310.2 303.2,310.2 307.1,306.0 310.9,297.7 314.8,289.0 318.6,287.6 322.5,291.4 326.3,298.2 330.2,303.3 334.0,299.0 337.9,290.4 341.7,281.3 345.6,279.9 349.4,284.9 353.3,302.4 357.1,317.9 360.9,332.6 364.8,343.1 368.6,350.5 372.5,355.2 376.3,357.9 380.2,358.6 384.0,358.5 387.9,357.1 391.7,356.1 395.6,355.5 399.4,355.0 403.3,354.5 407.1,354.1 411.0,353.8 414.8,353.5 418.7,353.1 422.5,352.8 426.4,352.6 430.2,352.3 434.1,352.1 437.9,351.8" stroke="#0000ff"/><polyline points="284.0,292.9 287.8,298.0 291.7,302.2 295.5,305.6 299.4,307.9 303.2,307.1 307.1,304.5 310.9,300.7 314.8,297.9 318.6,300.3 322.5,305.5 326.3,311.6 330.2,316.0 334.0,313.5 337.9,308.2 341.7,303.2 345.6,304.2 349.4,309.6 353.3,322.5 357.1,332.8 360.9,341.7 364.8,348.0 368.6,352.5 372.5,355.4 376.3,357.2 380.2,358.2 384.0,358.4 387.9,356.8 391.7,355.6 395.6,354.8 399.4,354.1 403.3,353.5 407.1,353.0 411.0,352.6 414.8,352.2 418.7,351.8 422.5,351.4 426.4,351.0 430.2,350.7 434.1,350.4 437.9,350.1" stroke="#0000ff"/><polyline points="284.0,288.0 287.8,291.7 291.7,294.9 295.5,297.9 299.4,300.0 303.2,299.5 307.1,296.9 310.9,293.3 314.8,290.6 318.6,292.2 322.5,295.5 326.3,299.0 330.2,300.6 334.0,296.3 337.9,289.7 341.7,284.5 345.6,285.5 349.4,291.2 353.3,306.7 357.1,320.9 360.9,333.6 364.8,342.7 368.6,349.4 372.5,354.1 376.3,357.1 380.2,358.5 384.0,358.5 387.9,355.1 391.7,352.4 395.6,350.6 399.4,349.2 403.3,348.0 407.1,346.8 411.0,345.8 414.8,344.9 418.7,344.0 422.5,343.2 426.4,342.4 430.2,341.7 434.1,341.0 437.9,340.3" stroke="#0000ff"/><polyline points="284.0,279.4 287.8,285.8 291.7,290.9 295.5,295.3 299.4,298.2 303.2,296.1 307.1,290.1 310.9,281.1 314.8,273.0 318.6,273.8 322.5,279.6 326.3,287.2 330.2,291.4 334.0,284.1 337.9,272.6 341.7,262.1 345.6,262.3 349.4,270.5 353.3,293.0 357.1,311.6 360.9,328.3 364.8,340.0 368.6,348.5 372.5,354.3 376.3,357.7 380.2,358.7 384.0,358.6 387.9,357.2 391.7,356.3 395.6,355.7 399.4,355.2 403.3,354.8 407.1,354.4 411.0,354.1 414.8,353.8 418.7,353.5 422.5,353.2 426.4,353.0 430.2,352.7 434.1,352.5 437.9,352.3" stroke="#ff0000"/><polyline points="284.0,290.2 287.8,293.2 291.7,295.8 295.5,297.9 299.4,298.9 303.2,297.8 307.1,295.2 310.9,292.5 314.8,291.1 318.6,292.9 322.5,295.6 326.3,298.1 330.2,299.2 334.0,295.6 337.9,290.1 341.7,286.2 345.6,287.7 349.4,293.3 353.3,308.3 357.1,322.9 360.9,335.9 364.8,345.0 368.6,351.2 372.5,355.3 376.3,357.6 380.2,358.5 384.0,358.5 387.9,355.2 391.7,352.7 395.6,350.9 399.4,349.6 403.3,348.4 407.1,347.3 411.0,346.3 414.8,345.5 418.7,344.6 422.5,343.8 426.4,343.1 430.2,342.4 434.1,341.7 437.9,341.0" stroke="#ff0000"/><polyline points="284.0,291.4 287.8,296.4 291.7,300.6 295.5,304.3 299.4,306.8 303.2,305.6 307.1,301.8 310.9,295.6 314.8,289.8 318.6,290.3 322.5,294.7 326.3,301.3 330.2,306.6 334.0,303.7 337.9,296.9 341.7,290.3 345.6,291.3 349.4,297.8 353.3,314.1 357.1,327.4 360.9,338.6 364.8,346.5 368.6,352.0 372.5,355.6 376.3,357.7 380.2,358.4 384.0,358.5 387.9,355.7 391.7,353.5 395.6,352.0 399.4,350.8 403.3,349.8 407.1,348.9 411.0,348.1 414.8,347.3 418.7,346.6 422.5,345.9 426.4,345.3 430.2,344.7 434.1,344.1 437.9,343.5" stroke="#ff0000"/><polyline points="284.0,298.3 287.8,302.3 291.7,305.8 295.5,309.0 299.4,311.3 303.2,311.3 307.1,309.7 310.9,306.9 314.8,304.4 318.6,305.9 322.5,309.6 326.3,314.1 330.2,317.0 334.0,314.7 337.9,310.4 341.7,306.3 345.6,306.7 349.4,310.7 353.3,321.4 357.1,331.2 360.9,340.7 364.8,347.5 368.6,352.2 372.5,355.2 376.3,357.1 380.2,358.2 384.0,358.3 387.9,354.0 391.7,350.4 395.6,348.0 399.4,346.0 403.3,344.4 407.1,342.9 411.0,341.5 414.8,340.3 418.7,339.1 422.5,338.0 426.4,336.9 430.2,335.9 434.1,335.0 437.9,334.1" stroke="#ff0000"/><polyline points="284.0,283.6 287.8,288.0 291.7,291.2 295.5,293.6 299.4,295.2 303.2,293.9 307.1,290.4 310.9,285.6 314.8,281.9 318.6,282.5 322.5,285.0 326.3,287.0 330.2,286.6 334.0,280.0 337.9,272.0 341.7,267.0 345.6,269.6 349.4,277.4 353.3,297.2 357.1,315.1 360.9,330.3 364.8,340.9 368.6,348.8 372.5,354.4 376.3,357.8 380.2,358.8 384.0,358.6 387.9,356.3 391.7,354.6 395.6,353.5 399.4,352.6 403.3,351.8 407.1,351.1 411.0,350.5 414.8,349.9 418.7,349.4 422.5,348.9 426.4,348.4 430.2,347.9 434.1,347.5 437.9,347.1" stroke="#ff0000"/><polyline points="284.0,296.9 287.8,302.2 291.7,306.3 295.5,309.7 299.4,311.6 303.2,309.8 307.1,305.4 310.9,298.8 314.8,292.5 318.6,292.5 322.5,296.7 326.3,302.8 330.2,307.2 334.0,303.7 337.9,297.4 341.7,292.5 345.6,295.6 349.4,303.8 353.3,320.0 357.1,331.6 360.9,340.6 364.8,346.8 368.6,351.5 372.5,354.9 376.3,357.2 380.2,358.4 384.0,358.4 387.9,357.7 391.7,357.3 395.6,357.0 399.4,356.8 403.3,356.6 407.1,356.4 411.0,356.2 414.8,356.1 418.7,355.9 422.5,355.8 426.4,355.7 430.2,355.6 434.1,355.4 437.9,355.3" stroke="#0000ff"/><polyline points="284.0,298.4 287.8,303.2 291.7,307.0 295.5,309.9 299.4,311.1 303.2,307.0 307.1,299.4 310.9,289.4 314.8,280.7 318.6,281.2 322.5,286.5 326.3,292.9 330.2,295.6 334.0,286.5 337.9,273.7 341.7,264.1 345.6,267.1 349.4,278.3 353.3,302.2 357.1,319.9 360.9,333.9 364.8,343.4 368.6,350.5 372.5,355.5 376.3,358.2 380.2,359.0 384.0,358.7 387.9,355.0 391.7,352.3 395.6,350.4 399.4,349.0 403.3,347.7 407.1,346.6 411.0,345.5 414.8,344.6 418.7,343.7 422.5,342.8 426.4,342.0 430.2,341.3 434.1,340.6 437.9,339.9" stroke="#0000ff"/><polyline points="284.0,263.0 287.8,267.9 291.7,272.3 295.5,277.1 299.4,281.8 303.2,283.0 307.1,280.3 310.9,273.6 314.8,266.0 318.6,264.2 322.5,267.1 326.3,272.5 330.2,276.2 334.0,272.2 337.9,265.1 341.7,259.7 345.6,262.9 349.4,272.0 353.3,293.6 357.1,312.3 360.9,328.3 364.8,339.5 368.6,347.8 372.5,353.6 376.3,357.2 380.2,358.6 384.0,358.6 387.9,357.7 391.7,357.3 395.6,357.0 399.4,356.8 403.3,356.6 407.1,356.4 411.0,356.2 414.8,356.1 418.7,355.9 422.5,355.8 426.4,355.7 430.2,355.6 434.1,355.5 437.9,355.4" stroke="#0000ff"/><polyline points="284.0,294.7 287.8,298.0 291.7,301.0 295.5,303.8 299.4,306.2 303.2,306.6 307.1,305.4 310.9,302.5 314.8,299.4 318.6,299.1 322.5,300.9 326.3,304.4 330.2,307.5 334.0,306.7 337.9,303.4 341.7,300.1 345.6,300.6 349.4,304.4 353.3,316.4 357.1,328.4 360.9,339.4 364.8,347.2 368.6,352.4 372.5,355.6 376.3,357.4 380.2,358.3 384.0,358.4 387.9,357.9 391.7,357.6 395.6,357.4 399.4,357.2 403.3,357.1 407.1,357.0 411.0,356.9 414.8,356.8 418.7,356.7 422.5,356.6 426.4,356.5 430.2,356.4 434.1,356.4 437.9,356.3" stroke="#0000ff"/><polyline points="284.0,304.1 287.8,307.0 291.7,309.4 295.5,311.5 299.4,312.5 303.2,310.2 307.1,305.3 310.9,298.5 314.8,292.2 318.6,291.3 322.5,293.7 326.3,297.6 330.2,299.9 334.0,295.1 337.9,287.4 341.7,281.1 345.6,282.5 349.4,289.4 353.3,307.2 357.1,323.1 360.9,336.9 364.8,346.2 368.6,352.5 372.5,356.3 376.3,358.4 380.2,358.8 384.0,358.6 387.9,356.8 391.7,355.6 395.6,354.8 399.4,354.2 403.3,353.6 407.1,353.1 411.0,352.7 414.8,352.3 418.7,351.9 422.5,351.5 426.4,351.2 430.2,350.8 434.1,350.5 437.9,350.2" stroke="#0000ff"/><polyline points="284.0,298.3 287.8,302.8 291.7,306.6 295.5,310.0 299.4,312.5 303.2,312.2 307.1,309.7 310.9,305.4 314.8,301.5 318.6,302.5 322.5,306.4 326.3,311.1 330.2,313.6 334.0,309.6 337.9,303.6 341.7,299.8 345.6,303.6 349.4,311.8 353.3,326.0 357.1,335.6 360.9,342.7 364.8,347.6 368.6,351.9 372.5,355.4 376.3,357.6 380.2,358.3 384.0,358.4 387.9,356.1 391.7,354.3 395.6,353.1 399.4,352.1 403.3,351.3 407.1,350.6 411.0,349.9 414.8,349.3 418.7,348.7 422.5,348.1 426.4,347.6 430.2,347.1 434.1,346.6 437.9,346.2" stroke="#ff0000"/><polyline points="284.0,311.3 287.8,315.6 291.7,318.5 295.5,320.4 299.4,321.5 303.2,319.8 307.1,316.0 310.9,310.7 314.8,306.1 318.6,306.1 322.5,308.6 326.3,311.7 330.2,312.5 334.0,307.0 337.9,299.1 341.7,292.3 345.6,291.9 349.4,296.4 353.3,311.1 357.1,324.4 360.9,336.6 364.8,345.2 368.6,351.3 372.5,355.4 376.3,357.8 380.2,358.7 384.0,358.5 387.9,356.2 391.7,354.4 395.6,353.2 399.4,352.3 403.3,351.5 407.1,350.7 411.0,350.1 414.8,349.5 418.7,348.9 422.5,348.3 426.4,347.8 430.2,347.3 434.1,346.9 437.9,346.4" stroke="#0000ff"/><polyline points="284.0,263.4 287.8,268.4 291.7,273.5 295.5,279.2 299.4,284.4 303.2,285.2 307.1,282.0 310.9,275.2 314.8,268.9 318.6,270.2 322.5,276.1 326.3,284.2 330.2,290.2 334.0,286.3 337.9,278.1 341.7,270.6 345.6,272.4 349.4,280.7 353.3,300.2 357.1,315.3 360.9,328.8 364.8,338.6 368.6,346.4 372.5,352.5 376.3,356.5 380.2,358.4 384.0,358.5 387.9,356.7 391.7,355.4 395.6,354.5 399.4,353.9 403.3,353.3 407.1,352.7 411.0,352.2 414.8,351.8 418.7,351.4 422.5,351.0 426.4,350.6 430.2,350.2 434.1,349.9 437.9,349.6" stroke="#ff0000"/><polyline points="284.0,255.3 287.8,261.6 291.7,267.4 295.5,273.3 299.4,278.2 303.2,278.1 307.1,273.9 310.9,266.4 314.8,259.5 318.6,261.1 322.5,267.7 326.3,276.0 330.2,281.2 334.0,275.0 337.9,264.6 341.7,255.5 345.6,257.0 349.4,266.2 353.3,289.4 357.1,308.3 360.9,325.2 364.8,337.3 368.6,346.2 372.5,352.9 376.3,357.1 380.2,358.5 384.0,358.6 387.9,355.1 391.7,352.4 395.6,350.7 399.4,349.2 403.3,348.0 407.1,346.9 411.0,345.9 414.8,345.0 418.7,344.1 422.5,343.3 426.4,342.5 430.2,341.8 434.1,341.1 437.9,340.4" stroke="#ff0000"/><polyline points="284.0,280.9 287.8,284.9 291.7,288.7 295.5,292.7 299.4,296.2 303.2,296.6 307.1,294.2 310.9,290.2 314.8,287.1 318.6,289.4 322.5,294.2 326.3,298.6 330.2,299.8 334.0,293.4 337.9,285.3 341.7,279.7 345.6,282.2 349.4,290.2 353.3,308.0 357.1,322.7 360.9,335.3 364.8,344.1 368.6,350.4 372.5,354.6 376.3,357.2 380.2,358.5 384.0,358.5 387.9,357.3 391.7,356.4 395.6,355.9 399.4,355.4 403.3,355.0 407.1,354.7 411.0,354.4 414.8,354.1 418.7,353.8 422.5,353.6 426.4,353.4 430.2,353.1 434.1,352.9 437.9,352.7" stroke="#ff0000"/><polyline points="284.0,322.1 287.8,323.5 291.7,324.7 295.5,325.7 299.4,326.4 303.2,325.4 307.1,323.0 310.9,319.2 314.8,315.6 318.6,314.8 322.5,316.0 326.3,319.1 330.2,322.3 334.0,321.9 337.9,318.9 341.7,315.3 345.6,315.3 349.4,317.9 353.3,326.8 357.1,334.5 360.9,341.7 364.8,347.0 368.6,351.4 372.5,355.0 376.3,357.5 380.2,358.5 384.0,358.4 387.9,356.2 391.7,354.5 395.6,353.4 399.4,352.5 403.3,351.7 407.1,351.0 411.0,350.4 414.8,349.8 418.7,349.2 422.5,348.7 426.4,348.2 430.2,347.8 434.1,347.3 437.9,346.9" stroke="#0000ff"/><polyline points="284.0,284.7 287.8,290.7 291.7,295.5 295.5,299.8 299.4,302.7 303.2,301.0 307.1,295.9 310.9,287.7 314.8,279.7 318.6,279.5 322.5,284.1 326.3,290.6 330.2,294.4 334.0,288.2 337.9,278.3 341.7,270.0 345.6,271.6 349.4,280.2 353.3,300.3 357.1,317.0 360.9,332.8 364.8,343.8 368.6,351.0 372.5,355.1 376.3,357.4 380.2,358.6 384.0,358.5 387.9,356.2 391.7,354.4 395.6,353.2 399.4,352.3 403.3,351.5 407.1,350.8 411.0,350.1 414.8,349.5 418.7,348.9 422.5,348.4 426.4,347.9 430.2,347.4 434.1,346.9 437.9,346.5" stroke="#ff0000"/><polyline points="284.0,294.2 287.8,297.7 291.7,300.7 295.5,303.2 299.4,305.4 303.2,305.7 307.1,304.3 310.9,301.6 314.8,299.2 318.6,299.4 322.5,301.1 326.3,303.1 330.2,303.9 334.0,300.9 337.9,296.6 341.7,293.7 345.6,295.5 349.4,300.6 353.3,313.8 357.1,326.5 360.9,338.0 364.8,346.3 368.6,352.1 372.5,356.0 376.3,358.0 380.2,358.4 384.0,358.4 387.9,355.3 391.7,352.8 395.6,351.1 399.4,349.8 403.3,348.6 407.1,347.6 411.0,346.6 414.8,345.8 418.7,344.9 422.5,344.2 426.4,343.5 430.2,342.8 434.1,342.1 437.9,341.5" stroke="#0000ff"/><polyline points="284.0,258.6 287.8,265.8 291.7,271.7 295.5,276.3 299.4,278.5 303.2,275.8 307.1,270.2 310.9,262.2 314.8,254.9 318.6,256.0 322.5,261.9 326.3,270.2 330.2,276.0 334.0,270.9 337.9,261.3 341.7,252.6 345.6,254.4 349.4,263.7 353.3,287.1 357.1,306.5 360.9,324.0 364.8,336.5 368.6,345.8 372.5,352.4 376.3,356.7 380.2,358.5 384.0,358.6 387.9,355.8 391.7,353.7 395.6,352.3 399.4,351.2 403.3,350.2 407.1,349.4 411.0,348.6 414.8,347.9 418.7,347.2 422.5,346.5 426.4,345.9 430.2,345.4 434.1,344.8 437.9,344.3" stroke="#ff0000"/><polyline points="284.0,287.6 287.8,291.3 291.7,294.6 295.5,297.7 299.4,300.0 303.2,299.3 307.1,296.1 310.9,291.5 314.8,287.9 318.6,290.0 322.5,294.9 326.3,300.8 330.2,304.7 334.0,301.2 337.9,294.7 341.7,288.7 345.6,289.4 349.4,295.1 353.3,310.9 357.1,325.1 360.9,337.9 364.8,346.8 368.6,352.6 372.5,356.1 376.3,357.9 380.2,358.4 384.0,358.5 387.9,356.7 391.7,355.3 395.6,354.4 399.4,353.7 403.3,353.1 407.1,352.6 411.0,352.1 414.8,351.6 418.7,351.2 422.5,350.8 426.4,350.4 430.2,350.0 434.1,349.6 437.9,349.3" stroke="#ff0000"/><polyline points="284.0,300.4 287.8,304.0 291.7,307.2 295.5,310.7 299.4,313.5 303.2,312.2 307.1,307.2 310.9,298.8 314.8,290.9 318.6,290.2 322.5,293.9 326.3,299.1 330.2,301.5 334.0,294.6 337.9,284.5 341.7,277.0 345.6,279.6 349.4,288.8 353.3,308.4 357.1,322.6 360.9,334.3 364.8,342.6 368.6,349.2 372.5,354.1 376.3,357.2 380.2,358.8 384.0,358.6 387.9,355.1 391.7,352.4 395.6,350.6 399.4,349.2 403.3,347.9 407.1,346.8 411.0,345.8 414.8,344.9 418.7,344.0 422.5,343.2 426.4,342.4 430.2,341.7 434.1,341.0 437.9,340.3" stroke="#ff0000"/><polyline points="284.0,295.3 287.8,299.5 291.7,302.7 295.5,305.1 299.4,306.7 303.2,306.0 307.1,303.6 310.9,299.9 314.8,296.8 318.6,297.1 322.5,299.3 326.3,301.9 330.2,303.0 334.0,299.4 337.9,294.1 341.7,290.9 345.6,293.8 349.4,300.6 353.3,315.6 357.1,328.0 360.9,337.5 364.8,344.3 368.6,349.9 372.5,354.5 376.3,357.4 380.2,358.5 384.0,358.5 387.9,357.8 391.7,357.5 395.6,357.3 399.4,357.1 403.3,357.0 407.1,356.8 411.0,356.7 414.8,356.6 418.7,356.5 422.5,356.4 426.4,356.3 430.2,356.2 434.1,356.1 437.9,356.0" stroke="#ff0000"/><polyline points="284.0,287.8 287.8,290.7 291.7,293.7 295.5,297.2 299.4,300.6 303.2,302.2 307.1,301.8 310.9,299.2 314.8,296.0 318.6,295.7 322.5,297.7 326.3,301.5 330.2,304.8 334.0,304.2 337.9,301.3 341.7,297.9 345.6,297.7 349.4,300.8 353.3,312.4 357.1,324.5 360.9,336.3 364.8,344.9 368.6,351.0 372.5,355.0 376.3,357.4 380.2,358.2 384.0,358.4 387.9,356.9 391.7,355.8 395.6,355.0 399.4,354.4 403.3,353.9 407.1,353.5 411.0,353.0 414.8,352.7 418.7,352.3 422.5,352.0 426.4,351.6 430.2,351.3 434.1,351.0 437.9,350.7" stroke="#0000ff"/><polyline points="284.0,281.6 287.8,284.8 291.7,288.5 295.5,293.2 299.4,297.6 303.2,298.4 307.1,295.6 310.9,289.4 314.8,283.0 318.6,282.9 322.5,287.1 326.3,293.7 330.2,298.6 334.0,295.3 337.9,288.4 341.7,281.8 345.6,282.8 349.4,289.3 353.3,306.1 357.1,320.8 360.9,334.8 364.8,344.7 368.6,351.2 372.5,355.1 376.3,357.4 380.2,358.4 384.0,358.5 387.9,358.4 391.7,358.5 395.6,358.6 399.4,358.7 403.3,358.8 407.1,358.9 411.0,358.9 414.8,359.0 418.7,359.0 422.5,359.1 426.4,359.1 430.2,359.2 434.1,359.2 437.9,359.2" stroke="#0000ff"/><polyline points="284.0,287.8 287.8,291.8 291.7,295.1 295.5,297.3 299.4,297.7 303.2,294.8 307.1,290.1 310.9,284.7 314.8,280.7 318.6,282.0 322.5,285.8 326.3,289.4 330.2,290.3 334.0,284.0 337.9,275.5 341.7,269.9 345.6,273.1 349.4,282.1 353.3,302.1 357.1,318.8 360.9,332.6 364.8,342.2 368.6,349.5 372.5,354.6 376.3,357.7 380.2,358.7 384.0,358.6 387.9,356.8 391.7,355.6 395.6,354.8 399.4,354.1 403.3,353.5 407.1,353.0 411.0,352.6 414.8,352.2 418.7,351.8 422.5,351.4 426.4,351.0 430.2,350.7 434.1,350.4 437.9,350.1" stroke="#0000ff"/><polyline points="284.0,283.9 287.8,288.2 291.7,292.2 295.5,296.4 299.4,300.5 303.2,302.1 307.1,301.3 310.9,298.4 314.8,295.5 318.6,296.1 322.5,298.7 326.3,301.9 330.2,303.5 334.0,300.0 337.9,294.4 341.7,289.6 345.6,289.9 349.4,294.3 353.3,307.4 357.1,321.4 360.9,336.0 364.8,346.3 368.6,352.4 372.5,355.8 376.3,357.6 380.2,358.2 384.0,358.4 387.9,355.0 391.7,352.2 395.6,350.3 399.4,348.9 403.3,347.6 407.1,346.4 411.0,345.4 414.8,344.4 418.7,343.5 422.5,342.7 426.4,341.9 430.2,341.1 434.1,340.4 437.9,339.6" stroke="#0000ff"/><polyline points="284.0,307.2 287.8,309.9 291.7,312.3 295.5,314.4 299.4,315.9 303.2,314.8 307.1,311.6 310.9,307.0 314.8,302.9 318.6,303.0 322.5,305.4 326.3,308.4 330.2,309.8 334.0,305.5 337.9,299.2 341.7,294.3 345.6,295.7 349.4,301.4 353.3,315.8 357.1,328.3 360.9,339.0 364.8,346.5 368.6,351.9 372.5,355.7 376.3,358.0 380.2,358.6 384.0,358.5 387.9,355.1 391.7,352.4 395.6,350.7 399.4,349.2 403.3,348.0 407.1,346.9 411.0,345.9 414.8,345.0 418.7,344.1 422.5,343.3 426.4,342.5 430.2,341.8 434.1,341.1 437.9,340.4" stroke="#0000ff"/><polyline points="284.0,302.9 287.8,303.8 291.7,305.6 295.5,307.8 299.4,309.9 303.2,311.1 307.1,311.2 310.9,311.1 314.8,311.7 318.6,313.9 322.5,316.1 326.3,317.4 330.2,317.4 334.0,315.1 337.9,312.4 341.7,311.1 345.6,312.7 349.4,316.3 353.3,325.0 357.1,334.4 360.9,343.8 364.8,350.4 368.6,354.4 372.5,356.2 376.3,357.1 380.2,358.2 384.0,358.3 387.9,357.1 391.7,356.1 395.6,355.5 399.4,355.0 403.3,354.5 407.1,354.1 411.0,353.8 414.8,353.4 418.7,353.1 422.5,352.8 426.4,352.6 430.2,352.3 434.1,352.0 437.9,351.8" stroke="#0000ff"/><polyline points="284.0,274.0 287.8,279.2 291.7,284.2 295.5,289.3 299.4,293.5 303.2,294.4 307.1,292.5 310.9,287.4 314.8,281.7 318.6,281.9 322.5,286.4 326.3,294.1 330.2,301.0 334.0,300.4 337.9,295.8 341.7,291.2 345.6,293.9 349.4,301.5 353.3,317.4 357.1,329.5 360.9,338.8 364.8,345.4 368.6,350.6 372.5,354.5 376.3,357.0 380.2,358.1 384.0,358.4 387.9,357.4 391.7,356.7 395.6,356.2 399.4,355.9 403.3,355.5 407.1,355.2 411.0,355.0 414.8,354.7 418.7,354.5 422.5,354.3 426.4,354.1 430.2,353.9 434.1,353.7 437.9,353.5" stroke="#0000ff"/><polyline points="284.0,308.4 287.8,311.4 291.7,313.9 295.5,316.0 299.4,317.3 303.2,316.0 307.1,313.0 310.9,309.3 314.8,306.8 318.6,308.9 322.5,312.8 326.3,316.3 330.2,317.5 334.0,312.8 337.9,306.6 341.7,302.0 345.6,303.5 349.4,309.1 353.3,322.0 357.1,332.3 360.9,341.0 364.8,347.2 368.6,351.9 372.5,355.3 376.3,357.5 380.2,358.4 384.0,358.4 387.9,356.4 391.7,354.9 395.6,353.8 399.4,353.0 403.3,352.3 407.1,351.7 411.0,351.1 414.8,350.6 418.7,350.1 422.5,349.6 426.4,349.1 430.2,348.7 434.1,348.3 437.9,347.9" stroke="#0000ff"/><polyline points="284.0,282.6 287.8,285.0 291.7,288.1 295.5,291.8 299.4,295.4 303.2,297.1 307.1,296.9 310.9,295.3 314.8,294.1 318.6,295.8 322.5,299.1 326.3,302.6 330.2,304.8 334.0,302.5 337.9,298.8 341.7,296.2 345.6,298.4 349.4,304.0 353.3,316.7 357.1,327.8 360.9,337.3 364.8,344.1 368.6,349.6 372.5,353.9 376.3,356.8 380.2,358.2 384.0,358.4 387.9,356.3 391.7,354.7 395.6,353.6 399.4,352.7 403.3,351.9 407.1,351.2 411.0,350.6 414.8,350.0 418.7,349.5 422.5,349.0 426.4,348.5 430.2,348.1 434.1,347.6 437.9,347.2" stroke="#0000ff"/><polyline points="284.0,276.7 287.8,282.5 291.7,287.4 295.5,291.3 299.4,293.3 303.2,290.7 307.1,285.3 310.9,277.5 314.8,270.2 318.6,270.9 322.5,276.3 326.3,283.7 330.2,288.4 334.0,282.8 337.9,273.3 341.7,265.2 345.6,267.4 349.4,276.7 353.3,298.5 357.1,315.1 360.9,328.6 364.8,338.3 368.6,346.3 372.5,352.8 376.3,357.0 380.2,358.6 384.0,358.6 387.9,356.0 391.7,354.0 395.6,352.8 399.4,351.7 403.3,350.8 407.1,350.0 411.0,349.3 414.8,348.6 418.7,348.0 422.5,347.4 426.4,346.9 430.2,346.3 434.1,345.8 437.9,345.3" stroke="#ff0000"/><polyline points="284.0,289.8 287.8,292.5 291.7,295.3 295.5,298.5 299.4,301.4 303.2,302.1 307.1,300.8 310.9,297.7 314.8,294.6 318.6,294.7 322.5,297.0 326.3,300.1 330.2,301.9 334.0,299.2 337.9,294.8 341.7,292.0 345.6,295.0 349.4,301.9 353.3,316.4 357.1,329.5 360.9,340.5 364.8,348.0 368.6,353.1 372.5,356.0 376.3,357.6 380.2,358.3 384.0,358.4 387.9,354.7 391.7,351.7 395.6,349.7 399.4,348.1 403.3,346.7 407.1,345.5 411.0,344.3 414.8,343.3 418.7,342.3 422.5,341.4 426.4,340.5 430.2,339.7 434.1,338.9 437.9,338.1" stroke="#0000ff"/><polyline points="284.0,281.0 287.8,285.2 291.7,289.5 295.5,294.4 299.4,299.2 303.2,301.2 307.1,300.4 310.9,296.7 314.8,292.7 318.6,293.3 322.5,297.4 326.3,303.3 330.2,308.1 334.0,306.7 337.9,302.4 341.7,298.2 345.6,299.5 349.4,305.0 353.3,318.2 357.1,329.3 360.9,339.1 364.8,346.2 368.6,351.3 372.5,354.9 376.3,357.1 380.2,358.1 384.0,358.3 387.9,354.0 391.7,350.3 395.6,347.8 399.4,345.8 403.3,344.1 407.1,342.6 411.0,341.2 414.8,340.0 418.7,338.8 422.5,337.7 426.4,336.6 430.2,335.6 434.1,334.6 437.9,333.7" stroke="#0000ff"/><polyline points="284.0,254.2 287.8,260.5 291.7,266.5 295.5,272.5 299.4,277.4 303.2,278.3 307.1,276.1 310.9,271.2 314.8,266.9 318.6,269.5 322.5,276.4 326.3,285.2 330.2,291.8 334.0,289.1 337.9,282.4 341.7,276.2 345.6,278.3 349.4,286.3 353.3,304.5 357.1,318.7 360.9,331.0 364.8,340.0 368.6,347.2 372.5,352.8 376.3,356.5 380.2,358.1 384.0,358.4 387.9,355.9 391.7,353.8 395.6,352.5 399.4,351.4 403.3,350.5 407.1,349.6 411.0,348.9 414.8,348.2 418.7,347.5 422.5,346.9 426.4,346.3 430.2,345.7 434.1,345.2 437.9,344.7" stroke="#ff0000"/><polyline points="284.0,271.9 287.8,275.5 291.7,278.9 295.5,282.3 299.4,285.1 303.2,285.4 307.1,283.0 310.9,278.9 314.8,275.3 318.6,275.4 322.5,277.7 326.3,279.9 330.2,280.0 334.0,274.5 337.9,267.5 341.7,263.9 345.6,268.1 349.4,277.2 353.3,297.4 357.1,315.9 360.9,331.5 364.8,342.2 368.6,349.8 372.5,354.8 376.3,357.7 380.2,358.6 384.0,358.6 387.9,355.4 391.7,352.9 395.6,351.3 399.4,350.0 403.3,348.9 407.1,347.9 411.0,347.0 414.8,346.1 418.7,345.3 422.5,344.6 426.4,343.9 430.2,343.2 434.1,342.5 437.9,341.9" stroke="#0000ff"/><polyline points="284.0,296.4 287.8,301.2 291.7,305.2 295.5,308.9 299.4,311.1 303.2,307.6 307.1,300.0 310.9,288.5 314.8,277.9 318.6,277.2 322.5,282.5 326.3,289.8 330.2,293.3 334.0,284.0 337.9,270.5 341.7,259.5 345.6,261.4 349.4,272.2 353.3,297.0 357.1,316.3 360.9,332.7 364.8,343.9 368.6,351.4 372.5,356.0 376.3,358.5 380.2,359.0 384.0,358.7 387.9,358.3 391.7,358.4 395.6,358.5 399.4,358.6 403.3,358.6 407.1,358.6 411.0,358.7 414.8,358.7 418.7,358.8 422.5,358.8 426.4,358.8 430.2,358.9 434.1,358.9 437.9,358.9" stroke="#ff0000"/><polyline points="284.0,282.5 287.8,286.0 291.7,289.0 295.5,291.1 299.4,291.9 303.2,290.7 307.1,288.8 310.9,288.2 314.8,290.2 318.6,295.4 322.5,300.4 326.3,303.3 330.2,304.0 334.0,300.1 337.9,295.3 341.7,292.5 345.6,294.9 349.4,300.8 353.3,314.6 357.1,326.6 360.9,336.7 364.8,343.9 368.6,349.7 372.5,354.0 376.3,356.9 380.2,358.2 384.0,358.4 387.9,357.6 391.7,357.1 395.6,356.7 399.4,356.5 403.3,356.2 407.1,356.0 411.0,355.8 414.8,355.6 418.7,355.5 422.5,355.3 426.4,355.1 430.2,355.0 434.1,354.9 437.9,354.7" stroke="#0000ff"/><polyline points="284.0,287.6 287.8,293.0 291.7,297.4 295.5,300.9 299.4,302.7 303.2,300.0 307.1,294.5 310.9,287.7 314.8,282.5 318.6,285.1 322.5,291.0 326.3,296.6 330.2,298.2 334.0,289.8 337.9,279.1 341.7,271.4 345.6,274.2 349.4,283.8 353.3,304.3 357.1,319.7 360.9,332.7 364.8,341.8 368.6,348.9 372.5,354.1 376.3,357.3 380.2,358.6 384.0,358.5 387.9,356.6 391.7,355.3 395.6,354.4 399.4,353.6 403.3,353.0 407.1,352.4 411.0,351.9 414.8,351.4 418.7,351.0 422.5,350.6 426.4,350.2 430.2,349.8 434.1,349.5 437.9,349.1" stroke="#0000ff"/><polyline points="284.0,283.9 287.8,288.4 291.7,292.2 295.5,295.5 299.4,297.7 303.2,297.0 307.1,294.0 310.9,289.2 314.8,284.6 318.6,284.5 322.5,287.4 326.3,292.4 330.2,296.6 334.0,294.9 337.9,290.0 341.7,285.4 345.6,287.0 349.4,293.0 353.3,308.8 357.1,323.1 360.9,335.7 364.8,344.6 368.6,350.8 372.5,354.9 376.3,357.3 380.2,358.4 384.0,358.5 387.9,354.4 391.7,351.1 395.6,349.0 399.4,347.2 403.3,345.7 407.1,344.3 411.0,343.1 414.8,342.0 418.7,340.9 422.5,339.9 426.4,339.0 430.2,338.1 434.1,337.2 437.9,336.4" stroke="#ff0000"/><polyline points="284.0,253.3 287.8,258.5 291.7,263.2 295.5,267.6 299.4,271.4 303.2,271.9 307.1,269.6 310.9,265.4 314.8,261.7 318.6,262.6 322.5,266.2 326.3,270.5 330.2,272.8 334.0,268.5 337.9,261.6 341.7,257.0 345.6,260.7 349.4,269.9 353.3,291.6 357.1,310.9 360.9,326.8 364.8,338.0 368.6,346.6 372.5,352.9 376.3,356.9 380.2,358.5 384.0,358.6 387.9,355.4 391.7,353.0 395.6,351.5 399.4,350.2 403.3,349.1 407.1,348.1 411.0,347.2 414.8,346.3 418.7,345.6 422.5,344.8 426.4,344.1 430.2,343.5 434.1,342.9 437.9,342.3" stroke="#ff0000"/><polyline points="284.0,286.3 287.8,291.1 291.7,295.0 295.5,298.3 299.4,300.7 303.2,300.5 307.1,298.4 310.9,294.8 314.8,291.6 318.6,292.6 322.5,296.0 326.3,300.6 330.2,304.0 334.0,301.7 337.9,296.9 341.7,292.3 345.6,292.9 349.4,297.7 353.3,311.6 357.1,324.3 360.9,336.1 364.8,344.5 368.6,350.4 372.5,354.4 376.3,357.0 380.2,358.3 384.0,358.4 387.9,355.7 391.7,353.4 395.6,352.0 399.4,350.8 403.3,349.8 407.1,348.8 411.0,348.0 414.8,347.3 418.7,346.5 422.5,345.9 426.4,345.2 430.2,344.6 434.1,344.0 437.9,343.5" stroke="#0000ff"/><polyline points="284.0,296.9 287.8,300.0 291.7,303.1 295.5,307.1 299.4,311.3 303.2,312.7 307.1,310.7 310.9,305.5 314.8,300.4 318.6,300.0 322.5,302.7 326.3,306.7 330.2,309.0 334.0,304.8 337.9,298.5 341.7,294.1 345.6,297.1 349.4,304.8 353.3,320.3 357.1,332.8 360.9,342.6 364.8,349.2 368.6,353.8 372.5,356.4 376.3,357.8 380.2,358.5 384.0,358.4 387.9,354.8 391.7,351.8 395.6,349.8 399.4,348.2 403.3,346.8 407.1,345.6 411.0,344.5 414.8,343.4 418.7,342.5 422.5,341.6 426.4,340.7 430.2,339.9 434.1,339.1 437.9,338.3" stroke="#0000ff"/><polyline points="284.0,289.7 287.8,293.9 291.7,297.5 295.5,301.0 299.4,303.7 303.2,302.6 307.1,298.2 310.9,291.3 314.8,285.0 318.6,284.7 322.5,287.8 326.3,291.9 330.2,293.5 334.0,286.9 337.9,277.5 341.7,270.0 345.6,271.3 349.4,278.8 353.3,298.9 357.1,316.8 360.9,332.5 364.8,343.3 368.6,350.8 372.5,355.3 376.3,357.8 380.2,358.8 384.0,358.6 387.9,358.0 391.7,357.9 395.6,357.8 399.4,357.7 403.3,357.6 407.1,357.6 411.0,357.5 414.8,357.5 418.7,357.4 422.5,357.4 426.4,357.3 430.2,357.3 434.1,357.3 437.9,357.2" stroke="#ff0000"/><polyline points="284.0,277.2 287.8,281.1 291.7,284.8 295.5,289.1 299.4,294.2 303.2,297.7 307.1,298.7 310.9,297.0 314.8,294.3 318.6,293.7 322.5,295.4 326.3,298.5 330.2,300.9 334.0,300.3 337.9,298.3 341.7,297.3 345.6,300.1 349.4,305.5 353.3,317.6 357.1,329.2 360.9,339.1 364.8,346.2 368.6,351.4 372.5,354.7 376.3,356.7 380.2,358.1 384.0,358.4 387.9,357.2 391.7,356.4 395.6,355.8 399.4,355.4 403.3,355.0 407.1,354.6 411.0,354.3 414.8,354.0 418.7,353.7 422.5,353.5 426.4,353.2 430.2,353.0 434.1,352.8 437.9,352.6" stroke="#ff0000"/><polyline points="284.0,275.3 287.8,280.6 291.7,285.4 295.5,290.0 299.4,293.6 303.2,292.5 307.1,287.7 310.9,279.8 314.8,272.6 318.6,273.3 322.5,278.7 326.3,284.9 330.2,286.9 334.0,278.5 337.9,267.4 341.7,259.2 345.6,261.7 349.4,271.8 353.3,294.7 357.1,314.0 360.9,331.4 364.8,343.3 368.6,350.9 372.5,355.3 376.3,357.6 380.2,358.6 384.0,358.6 387.9,354.9 391.7,352.0 395.6,350.1 399.4,348.6 403.3,347.3 407.1,346.1 411.0,345.0 414.8,344.0 418.7,343.1 422.5,342.2 426.4,341.4 430.2,340.6 434.1,339.8 437.9,339.1" stroke="#ff0000"/><polyline points="284.0,254.4 287.8,260.4 291.7,266.1 295.5,272.3 299.4,278.0 303.2,279.3 307.1,276.5 310.9,269.8 314.8,263.2 318.6,264.3 322.5,270.2 326.3,278.4 330.2,284.2 334.0,280.1 337.9,271.9 341.7,264.6 345.6,266.6 349.4,275.2 353.3,295.9 357.1,312.8 360.9,327.9 364.8,338.8 368.6,346.9 372.5,352.9 376.3,356.7 380.2,358.3 384.0,358.5 387.9,356.3 391.7,354.7 395.6,353.6 399.4,352.8 403.3,352.0 407.1,351.4 411.0,350.8 414.8,350.2 418.7,349.7 422.5,349.2 426.4,348.7 430.2,348.3 434.1,347.9 437.9,347.4" stroke="#0000ff"/><polyline points="284.0,270.2 287.8,275.3 291.7,279.9 295.5,284.3 299.4,287.8 303.2,287.9 307.1,285.5 310.9,280.7 314.8,276.2 318.6,277.1 322.5,281.4 326.3,287.2 330.2,291.2 334.0,287.9 337.9,281.6 341.7,276.3 345.6,278.3 349.4,285.6 353.3,303.2 357.1,319.2 360.9,333.9 364.8,344.2 368.6,351.0 372.5,355.0 376.3,357.2 380.2,358.3 384.0,358.5 387.9,356.1 391.7,354.2 395.6,353.0 399.4,352.0 403.3,351.1 407.1,350.4 411.0,349.7 414.8,349.0 418.7,348.4 422.5,347.9 426.4,347.3 430.2,346.8 434.1,346.3 437.9,345.9" stroke="#0000ff"/><polyline points="284.0,278.6 287.8,282.2 291.7,285.5 295.5,288.3 299.4,290.2 303.2,290.3 307.1,289.2 310.9,287.7 314.8,287.0 318.6,288.9 322.5,291.7 326.3,294.5 330.2,296.2 334.0,294.0 337.9,290.2 341.7,287.3 345.6,288.7 349.4,293.4 353.3,307.1 357.1,320.8 360.9,333.2 364.8,342.1 368.6,348.8 372.5,353.6 376.3,356.8 380.2,358.3 384.0,358.4 387.9,358.5 391.7,358.7 395.6,358.9 399.4,359.0 403.3,359.1 407.1,359.2 411.0,359.3 414.8,359.4 418.7,359.5 422.5,359.6 426.4,359.7 430.2,359.7 434.1,359.8 437.9,359.9" stroke="#ff0000"/><polyline points="284.0,302.6 287.8,306.2 291.7,309.2 295.5,312.1 299.4,314.2 303.2,314.0 307.1,312.1 310.9,308.8 314.8,306.0 318.6,307.0 322.5,310.0 326.3,313.6 330.2,315.8 334.0,312.9 337.9,308.0 341.7,303.6 345.6,304.2 349.4,308.5 353.3,320.4 357.1,331.4 360.9,341.6 364.8,348.7 368.6,353.4 372.5,356.0 376.3,357.5 380.2,358.4 384.0,358.4 387.9,353.8 391.7,350.0 395.6,347.5 399.4,345.5 403.3,343.7 407.1,342.2 411.0,340.8 414.8,339.5 418.7,338.2 422.5,337.1 426.4,336.0 430.2,334.9 434.1,333.9 437.9,333.0" stroke="#0000ff"/><polyline points="284.0,276.2 287.8,281.4 291.7,285.5 295.5,288.6 299.4,290.3 303.2,288.8 307.1,285.0 310.9,279.7 314.8,274.9 318.6,275.1 322.5,278.4 326.3,283.8 330.2,288.6 334.0,286.6 337.9,280.7 341.7,274.8 345.6,275.5 349.4,281.5 353.3,299.4 357.1,316.4 360.9,331.6 364.8,342.2 368.6,349.7 372.5,354.5 376.3,357.4 380.2,358.5 384.0,358.5 387.9,358.1 391.7,358.0 395.6,358.0 399.4,357.9 403.3,357.9 407.1,357.8 411.0,357.8 414.8,357.8 418.7,357.8 422.5,357.7 426.4,357.7 430.2,357.7 434.1,357.7 437.9,357.6" stroke="#ff0000"/><polyline points="284.0,276.6 287.8,281.5 291.7,286.0 295.5,290.6 299.4,294.0 303.2,292.6 307.1,287.2 310.9,278.3 314.8,269.8 318.6,269.7 322.5,274.7 326.3,281.8 330.2,285.8 334.0,278.9 337.9,268.0 341.7,260.5 345.6,265.7 349.4,278.4 353.3,302.7 357.1,319.8 360.9,332.5 364.8,341.3 368.6,348.5 372.5,354.3 376.3,357.8 380.2,358.7 384.0,358.6 387.9,356.8 391.7,355.5 395.6,354.7 399.4,354.0 403.3,353.5 407.1,353.0 411.0,352.5 414.8,352.1 418.7,351.7 422.5,351.3 426.4,350.9 430.2,350.6 434.1,350.3 437.9,349.9" stroke="#0000ff"/><polyline points="284.0,288.8 287.8,292.3 291.7,295.8 295.5,299.6 299.4,302.7 303.2,301.9 307.1,297.9 310.9,290.8 314.8,284.0 318.6,283.8 322.5,287.8 326.3,293.6 330.2,297.4 334.0,292.6 337.9,284.3 341.7,276.9 345.6,277.9 349.4,284.9 353.3,303.2 357.1,318.5 360.9,332.3 364.8,342.1 368.6,349.2 372.5,354.1 376.3,357.2 380.2,358.6 384.0,358.5 387.9,354.6 391.7,351.5 395.6,349.5 399.4,347.8 403.3,346.4 407.1,345.1 411.0,344.0 414.8,342.9 418.7,341.9 422.5,340.9 426.4,340.0 430.2,339.2 434.1,338.4 437.9,337.6" stroke="#ff0000"/><polyline points="284.0,281.9 287.8,285.7 291.7,289.3 295.5,293.0 299.4,295.9 303.2,295.8 307.1,293.2 310.9,289.5 314.8,287.1 318.6,289.8 322.5,294.4 326.3,298.5 330.2,300.0 334.0,294.3 337.9,286.4 341.7,280.3 345.6,281.4 349.4,287.8 353.3,304.5 357.1,319.8 360.9,334.2 364.8,344.3 368.6,351.0 372.5,355.1 376.3,357.4 380.2,358.4 384.0,358.5 387.9,357.6 391.7,357.1 395.6,356.8 399.4,356.5 403.3,356.2 407.1,356.0 411.0,355.8 414.8,355.7 418.7,355.5 422.5,355.3 426.4,355.2 430.2,355.0 434.1,354.9 437.9,354.8" stroke="#0000ff"/><polyline points="284.0,285.4 287.8,288.3 291.7,291.2 295.5,294.9 299.4,298.9 303.2,300.8 307.1,300.1 310.9,297.4 314.8,295.1 318.6,296.0 322.5,298.8 326.3,302.2 330.2,304.1 334.0,301.3 337.9,296.6 341.7,293.9 345.6,297.5 349.4,304.9 353.3,319.8 357.1,332.1 360.9,341.4 364.8,347.6 368.6,352.1 372.5,355.2 376.3,357.2 380.2,358.4 384.0,358.4 387.9,355.2 391.7,352.5 395.6,350.7 399.4,349.3 403.3,348.1 407.1,347.0 411.0,346.0 414.8,345.1 418.7,344.2 422.5,343.4 426.4,342.7 430.2,341.9 434.1,341.2 437.9,340.6" stroke="#0000ff"/><polyline points="284.0,289.4 287.8,293.1 291.7,296.5 295.5,300.0 299.4,302.8 303.2,301.5 307.1,296.8 310.9,288.5 314.8,279.7 318.6,277.8 322.5,280.9 326.3,287.3 330.2,292.7 334.0,289.1 337.9,280.8 341.7,272.9 345.6,273.9 349.4,281.4 353.3,301.3 357.1,318.0 360.9,332.3 364.8,342.3 368.6,349.5 372.5,354.5 376.3,357.5 380.2,358.8 384.0,358.6 387.9,358.5 391.7,358.9 395.6,359.1 399.4,359.2 403.3,359.4 407.1,359.5 411.0,359.6 414.8,359.7 418.7,359.8 422.5,359.9 426.4,360.0 430.2,360.1 434.1,360.1 437.9,360.2" stroke="#ff0000"/><polyline points="284.0,293.7 287.8,297.7 291.7,301.4 295.5,305.4 299.4,309.4 303.2,310.7 307.1,308.9 310.9,303.9 314.8,298.3 318.6,297.0 322.5,299.2 326.3,303.3 330.2,305.9 334.0,302.8 337.9,297.3 341.7,293.0 345.6,294.8 349.4,301.0 353.3,315.8 357.1,328.2 360.9,338.3 364.8,345.4 368.6,350.9 372.5,355.0 376.3,357.5 380.2,358.5 384.0,358.5 387.9,357.2 391.7,356.4 395.6,355.9 399.4,355.4 403.3,355.0 407.1,354.7 411.0,354.4 414.8,354.1 418.7,353.8 422.5,353.6 426.4,353.3 430.2,353.1 434.1,352.9 437.9,352.7" stroke="#0000ff"/><polyline points="284.0,327.3 287.8,328.3 291.7,329.2 295.5,330.1 299.4,330.5 303.2,328.7 307.1,325.5 310.9,321.7 314.8,319.1 318.6,320.6 322.5,323.6 326.3,326.1 330.2,326.3 334.0,321.1 337.9,314.8 341.7,310.0 345.6,310.5 349.4,314.7 353.3,325.3 357.1,334.1 360.9,342.7 364.8,348.9 368.6,353.1 372.5,355.7 376.3,357.3 380.2,358.5 384.0,358.4 387.9,354.3 391.7,350.9 395.6,348.6 399.4,346.8 403.3,345.2 407.1,343.8 411.0,342.5 414.8,341.3 418.7,340.2 422.5,339.2 426.4,338.2 430.2,337.3 434.1,336.4 437.9,335.5" stroke="#0000ff"/><polyline points="284.0,266.7 287.8,272.5 291.7,277.2 295.5,280.8 299.4,282.8 303.2,281.2 307.1,277.2 310.9,271.4 314.8,266.2 318.6,267.0 322.5,271.2 326.3,276.7 330.2,280.2 334.0,275.7 337.9,267.9 341.7,261.8 345.6,264.5 349.4,273.2 353.3,294.6 357.1,313.5 360.9,329.7 364.8,340.9 368.6,348.9 372.5,353.9 376.3,356.9 380.2,358.6 384.0,358.6 387.9,358.0 391.7,357.7 395.6,357.6 399.4,357.5 403.3,357.4 407.1,357.3 411.0,357.2 414.8,357.2 418.7,357.1 422.5,357.0 426.4,357.0 430.2,356.9 434.1,356.8 437.9,356.8" stroke="#ff0000"/><polyline points="284.0,272.3 287.8,279.7 291.7,285.9 295.5,291.6 299.4,295.8 303.2,294.7 307.1,289.4 310.9,280.1 314.8,271.0 318.6,270.6 322.5,275.5 326.3,282.2 330.2,285.4 334.0,277.2 337.9,265.7 341.7,256.9 345.6,260.0 349.4,271.2 353.3,295.3 357.1,314.5 360.9,331.3 364.8,342.7 368.6,350.4 372.5,355.1 376.3,357.8 380.2,358.6 384.0,358.6 387.9,359.4 391.7,360.5 395.6,361.2 399.4,361.8 403.3,362.3 407.1,362.8 411.0,363.2 414.8,363.5 418.7,363.9 422.5,364.2 426.4,364.5 430.2,364.8 434.1,365.1 437.9,365.4" stroke="#ff0000"/><polyline points="284.0,299.3 287.8,302.0 291.7,304.3 295.5,306.1 299.4,307.3 303.2,306.8 307.1,305.1 310.9,303.0 314.8,301.8 318.6,303.1 322.5,305.6 326.3,308.5 330.2,310.5 334.0,309.0 337.9,305.4 341.7,301.6 345.6,300.9 349.4,303.3 353.3,315.1 357.1,328.2 360.9,340.1 364.8,348.3 368.6,353.6 372.5,356.6 376.3,358.1 380.2,358.5 384.0,358.5 387.9,356.1 391.7,354.3 395.6,353.0 399.4,352.1 403.3,351.2 407.1,350.5 411.0,349.8 414.8,349.1 418.7,348.5 422.5,348.0 426.4,347.5 430.2,347.0 434.1,346.5 437.9,346.0" stroke="#0000ff"/><polyline points="284.0,311.2 287.8,315.7 291.7,319.1 295.5,321.8 299.4,323.4 303.2,321.2 307.1,316.2 310.9,308.7 314.8,301.4 318.6,300.8 322.5,304.5 326.3,310.3 330.2,314.3 334.0,310.0 337.9,302.1 341.7,294.0 345.6,293.0 349.4,297.6 353.3,312.6 357.1,325.5 360.9,337.8 364.8,346.4 368.6,352.1 372.5,355.7 376.3,357.8 380.2,358.6 384.0,358.5 387.9,354.9 391.7,352.1 395.6,350.2 399.4,348.7 403.3,347.4 407.1,346.3 411.0,345.2 414.8,344.2 418.7,343.3 422.5,342.4 426.4,341.6 430.2,340.8 434.1,340.1 437.9,339.4" stroke="#0000ff"/><polyline points="284.0,312.5 287.8,316.3 291.7,319.4 295.5,322.0 299.4,323.9 303.2,323.2 307.1,320.8 310.9,315.9 314.8,310.3 318.6,308.9 322.5,311.1 326.3,315.5 330.2,318.9 334.0,317.3 337.9,313.9 341.7,311.6 345.6,314.8 349.4,321.2 353.3,332.5 357.1,340.2 360.9,346.2 364.8,350.3 368.6,353.7 372.5,356.2 376.3,357.8 380.2,358.3 384.0,358.3 387.9,354.7 391.7,351.7 395.6,349.7 399.4,348.1 403.3,346.7 407.1,345.5 411.0,344.3 414.8,343.3 418.7,342.3 422.5,341.4 426.4,340.5 430.2,339.7 434.1,338.9 437.9,338.1" stroke="#0000ff"/><polyline points="284.0,281.7 287.8,285.2 291.7,288.5 295.5,291.9 299.4,294.2 303.2,292.5 307.1,287.4 310.9,280.5 314.8,275.2 318.6,276.8 322.5,281.4 326.3,285.8 330.2,286.7 334.0,278.3 337.9,267.4 341.7,259.9 345.6,262.9 349.4,272.9 353.3,295.8 357.1,315.1 360.9,331.2 364.8,342.2 368.6,349.8 372.5,354.8 376.3,357.6 380.2,358.9 384.0,358.7 387.9,356.8 391.7,355.5 395.6,354.7 399.4,354.0 403.3,353.4 407.1,352.9 411.0,352.5 414.8,352.0 418.7,351.6 422.5,351.2 426.4,350.9 430.2,350.5 434.1,350.2 437.9,349.9" stroke="#ff0000"/><polyline points="284.0,284.1 287.8,288.8 291.7,293.0 295.5,296.5 299.4,298.9 303.2,298.6 307.1,296.5 310.9,293.0 314.8,289.9 318.6,291.1 322.5,295.0 326.3,300.2 330.2,304.4 334.0,302.8 337.9,298.4 341.7,294.6 345.6,296.5 349.4,302.5 353.3,316.2 357.1,327.6 360.9,337.4 364.8,344.6 368.6,350.1 372.5,354.2 376.3,356.8 380.2,358.2 384.0,358.4 387.9,355.5 391.7,353.1 395.6,351.5 399.4,350.3 403.3,349.2 407.1,348.2 411.0,347.3 414.8,346.5 418.7,345.7 422.5,345.0 426.4,344.3 430.2,343.7 434.1,343.1 437.9,342.5" stroke="#ff0000"/><polyline points="284.0,300.4 287.8,304.0 291.7,307.3 295.5,310.4 299.4,313.0 303.2,313.8 307.1,313.4 310.9,312.4 314.8,312.3 318.6,315.0 322.5,318.4 326.3,321.5 330.2,323.3 334.0,320.9 337.9,317.2 341.7,314.0 345.6,314.7 349.4,318.3 353.3,327.5 357.1,335.5 360.9,342.8 364.8,348.1 368.6,352.2 372.5,355.4 376.3,357.5 380.2,358.2 384.0,358.3 387.9,355.9 391.7,353.9 395.6,352.6 399.4,351.5 403.3,350.6 407.1,349.7 411.0,349.0 414.8,348.3 418.7,347.6 422.5,347.0 426.4,346.5 430.2,345.9 434.1,345.4 437.9,344.9" stroke="#0000ff"/><polyline points="284.0,276.5 287.8,281.8 291.7,286.3 295.5,290.0 299.4,292.4 303.2,292.5 307.1,291.1 310.9,288.8 314.8,286.8 318.6,288.4 322.5,292.2 326.3,297.0 330.2,300.5 334.0,299.1 337.9,295.5 341.7,292.4 345.6,294.3 349.4,299.8 353.3,313.3 357.1,325.7 360.9,337.0 364.8,345.2 368.6,350.8 372.5,354.6 376.3,357.0 380.2,358.1 384.0,358.4 387.9,357.8 391.7,357.5 395.6,357.3 399.4,357.1 403.3,356.9 407.1,356.8 411.0,356.7 414.8,356.6 418.7,356.5 422.5,356.4 426.4,356.3 430.2,356.2 434.1,356.1 437.9,356.0" stroke="#0000ff"/><polyline points="284.0,281.5 287.8,284.3 291.7,286.8 295.5,289.2 299.4,290.7 303.2,288.9 307.1,284.4 310.9,278.2 314.8,273.0 318.6,273.7 322.5,277.2 326.3,281.5 330.2,283.4 334.0,277.4 337.9,268.6 341.7,261.9 345.6,264.1 349.4,272.4 353.3,293.4 357.1,312.0 360.9,328.4 364.8,339.8 368.6,348.1 372.5,353.8 376.3,357.4 380.2,358.8 384.0,358.6 387.9,355.9 391.7,353.9 395.6,352.6 399.4,351.6 403.3,350.7 407.1,349.8 411.0,349.1 414.8,348.4 418.7,347.8 422.5,347.2 426.4,346.6 430.2,346.1 434.1,345.5 437.9,345.0" stroke="#ff0000"/><polyline points="284.0,276.6 287.8,279.9 291.7,283.5 295.5,288.1 299.4,293.4 303.2,297.0 307.1,298.4 310.9,297.7 314.8,297.0 318.6,298.7 322.5,301.8 326.3,306.4 330.2,311.1 334.0,312.4 337.9,311.4 341.7,309.7 345.6,311.0 349.4,314.9 353.3,324.8 357.1,334.3 360.9,342.4 364.8,348.2 368.6,352.5 372.5,355.3 376.3,357.1 380.2,358.0 384.0,358.3 387.9,355.5 391.7,353.2 395.6,351.7 399.4,350.4 403.3,349.4 407.1,348.4 411.0,347.5 414.8,346.7 418.7,346.0 422.5,345.3 426.4,344.6 430.2,344.0 434.1,343.3 437.9,342.8" stroke="#0000ff"/><polyline points="284.0,295.4 287.8,299.0 291.7,302.2 295.5,305.2 299.4,307.3 303.2,306.2 307.1,302.5 310.9,296.4 314.8,290.6 318.6,290.5 322.5,294.2 326.3,300.1 330.2,304.9 334.0,302.3 337.9,296.1 341.7,289.8 345.6,290.2 349.4,295.8 353.3,311.2 357.1,324.8 360.9,337.1 364.8,345.7 368.6,351.6 372.5,355.1 376.3,357.1 380.2,358.5 384.0,358.5 387.9,354.0 391.7,350.3 395.6,347.9 399.4,345.9 403.3,344.2 407.1,342.7 411.0,341.4 414.8,340.1 418.7,338.9 422.5,337.8 426.4,336.7 430.2,335.7 434.1,334.7 437.9,333.8" stroke="#ff0000"/><polyline points="284.0,285.3 287.8,289.4 291.7,293.5 295.5,297.7 299.4,300.4 303.2,297.7 307.1,290.8 310.9,281.4 314.8,274.1 318.6,276.5 322.5,283.3 326.3,291.1 330.2,295.3 334.0,287.0 337.9,274.2 341.7,263.3 345.6,264.6 349.4,274.3 353.3,297.7 357.1,315.3 360.9,329.9 364.8,340.2 368.6,348.1 372.5,354.0 376.3,357.6 380.2,358.9 384.0,358.6 387.9,353.1 391.7,348.7 395.6,345.7 399.4,343.4 403.3,341.3 407.1,339.5 411.0,337.8 414.8,336.3 418.7,334.9 422.5,333.5 426.4,332.3 430.2,331.0 434.1,329.9 437.9,328.8" stroke="#ff0000"/><polyline points="284.0,262.1 287.8,267.0 291.7,271.4 295.5,275.8 299.4,279.5 303.2,280.6 307.1,279.0 310.9,275.2 314.8,271.4 318.6,271.6 322.5,274.5 326.3,278.7 330.2,281.7 334.0,278.9 337.9,273.5 341.7,269.5 345.6,272.2 349.4,279.6 353.3,298.0 357.1,314.9 360.9,329.2 364.8,339.5 368.6,347.3 372.5,353.0 376.3,356.7 380.2,358.4 384.0,358.5 387.9,355.7 391.7,353.5 395.6,352.0 399.4,350.8 403.3,349.8 407.1,348.9 411.0,348.1 414.8,347.3 418.7,346.6 422.5,345.9 426.4,345.3 430.2,344.7 434.1,344.1 437.9,343.5" stroke="#0000ff"/><polyline points="284.0,280.4 287.8,284.0 291.7,287.5 295.5,291.0 299.4,293.6 303.2,292.8 307.1,289.1 310.9,283.4 314.8,278.5 318.6,279.4 322.5,283.3 326.3,287.7 330.2,289.6 334.0,283.9 337.9,275.6 341.7,269.6 345.6,272.3 349.4,280.8 353.3,300.8 357.1,318.1 360.9,332.9 364.8,343.1 368.6,350.3 372.5,354.7 376.3,357.2 380.2,358.6 384.0,358.6 387.9,355.5 391.7,353.1 395.6,351.5 399.4,350.3 403.3,349.2 407.1,348.2 411.0,347.3 414.8,346.5 418.7,345.8 422.5,345.0 426.4,344.3 430.2,343.7 434.1,343.1 437.9,342.5" stroke="#ff0000"/><polyline points="284.0,278.4 287.8,282.8 291.7,286.6 295.5,289.9 299.4,292.1 303.2,290.5 307.1,286.1 310.9,279.9 314.8,275.1 318.6,276.3 322.5,280.5 326.3,285.1 330.2,287.3 334.0,281.3 337.9,272.3 341.7,265.3 345.6,267.2 349.4,275.4 353.3,296.3 357.1,314.5 360.9,330.3 364.8,341.2 368.6,349.1 372.5,354.7 376.3,358.0 380.2,358.7 384.0,358.6 387.9,356.6 391.7,355.1 395.6,354.2 399.4,353.4 403.3,352.8 407.1,352.2 411.0,351.6 414.8,351.1 418.7,350.7 422.5,350.2 426.4,349.8 430.2,349.4 434.1,349.1 437.9,348.7" stroke="#ff0000"/><polyline points="284.0,299.7 287.8,303.7 291.7,307.2 295.5,310.7 299.4,313.9 303.2,314.1 307.1,311.8 310.9,307.4 314.8,303.2 318.6,304.3 322.5,308.4 326.3,313.2 330.2,315.9 334.0,311.6 337.9,305.0 341.7,300.2 345.6,302.7 349.4,309.9 353.3,324.2 357.1,334.1 360.9,341.1 364.8,346.1 368.6,350.7 372.5,354.6 376.3,357.2 380.2,358.4 384.0,358.4 387.9,358.5 391.7,358.8 395.6,359.0 399.4,359.1 403.3,359.3 407.1,359.4 411.0,359.5 414.8,359.6 418.7,359.7 422.5,359.8 426.4,359.8 430.2,359.9 434.1,360.0 437.9,360.1" stroke="#0000ff"/><polyline points="284.0,292.3 287.8,295.2 291.7,297.5 295.5,299.1 299.4,299.2 303.2,295.0 307.1,287.9 310.9,278.6 314.8,270.2 318.6,269.6 322.5,273.5 326.3,279.0 330.2,281.7 334.0,274.4 337.9,263.5 341.7,255.6 345.6,259.5 349.4,270.9 353.3,295.8 357.1,315.6 360.9,331.0 364.8,341.4 368.6,349.2 372.5,354.7 376.3,357.9 380.2,359.1 384.0,358.7 387.9,355.2 391.7,352.6 395.6,350.9 399.4,349.5 403.3,348.3 407.1,347.2 411.0,346.3 414.8,345.4 418.7,344.5 422.5,343.7 426.4,343.0 430.2,342.3 434.1,341.6 437.9,340.9" stroke="#0000ff"/><polyline points="284.0,256.9 287.8,263.4 291.7,269.2 295.5,275.2 299.4,280.1 303.2,279.7 307.1,274.8 310.9,266.1 314.8,257.9 318.6,259.2 322.5,266.2 326.3,275.3 330.2,281.1 334.0,274.6 337.9,263.7 341.7,254.8 345.6,258.1 349.4,269.5 353.3,294.4 357.1,313.6 360.9,329.5 364.8,340.5 368.6,348.4 372.5,353.9 376.3,357.2 380.2,358.6 384.0,358.6 387.9,356.4 391.7,354.8 395.6,353.7 399.4,352.9 403.3,352.1 407.1,351.5 411.0,350.9 414.8,350.3 418.7,349.8 422.5,349.3 426.4,348.8 430.2,348.4 434.1,348.0 437.9,347.6" stroke="#ff0000"/><polyline points="284.0,274.0 287.8,279.5 291.7,284.2 295.5,288.4 299.4,291.8 303.2,291.5 307.1,288.1 310.9,281.7 314.8,274.8 318.6,273.6 322.5,276.5 326.3,282.2 330.2,286.9 334.0,284.1 337.9,277.3 341.7,271.0 345.6,272.6 349.4,279.9 353.3,299.2 357.1,316.6 360.9,331.8 364.8,342.4 368.6,349.8 372.5,354.7 376.3,357.5 380.2,358.6 384.0,358.6 387.9,356.4 391.7,354.9 395.6,353.9 399.4,353.1 403.3,352.4 407.1,351.7 411.0,351.2 414.8,350.6 418.7,350.1 422.5,349.7 426.4,349.2 430.2,348.8 434.1,348.4 437.9,348.0" stroke="#ff0000"/><polyline points="284.0,261.7 287.8,267.2 291.7,272.4 295.5,277.6 299.4,282.1 303.2,283.4 307.1,282.0 310.9,278.3 314.8,275.1 318.6,277.4 322.5,282.6 326.3,288.2 330.2,291.0 334.0,286.3 337.9,279.7 341.7,275.5 345.6,279.2 349.4,288.3 353.3,306.7 357.1,322.1 360.9,335.3 364.8,344.4 368.6,350.7 372.5,354.8 376.3,357.2 380.2,358.2 384.0,358.4 387.9,355.6 391.7,353.2 395.6,351.7 399.4,350.5 403.3,349.4 407.1,348.5 411.0,347.6 414.8,346.8 418.7,346.1 422.5,345.4 426.4,344.7 430.2,344.1 434.1,343.5 437.9,342.9" stroke="#ff0000"/><polyline points="284.0,296.6 287.8,301.5 291.7,305.9 295.5,310.2 299.4,313.7 303.2,313.8 307.1,310.9 310.9,305.1 314.8,299.1 318.6,298.7 322.5,302.0 326.3,306.6 330.2,309.2 334.0,304.4 337.9,297.3 341.7,292.0 345.6,294.6 349.4,302.3 353.3,317.9 357.1,329.8 360.9,340.1 364.8,347.2 368.6,352.3 372.5,355.5 376.3,357.5 380.2,358.4 384.0,358.4 387.9,354.8 391.7,351.9 395.6,350.0 399.4,348.4 403.3,347.1 407.1,345.9 411.0,344.8 414.8,343.8 418.7,342.8 422.5,341.9 426.4,341.1 430.2,340.3 434.1,339.5 437.9,338.8" stroke="#0000ff"/><polyline points="284.0,284.1 287.8,288.0 291.7,291.5 295.5,295.6 299.4,299.5 303.2,299.5 307.1,295.6 310.9,288.3 314.8,281.4 318.6,281.1 322.5,284.8 326.3,290.5 330.2,294.0 334.0,288.9 337.9,280.2 341.7,272.6 345.6,273.7 349.4,281.0 353.3,300.7 357.1,317.7 360.9,332.6 364.8,343.0 368.6,350.3 372.5,354.9 376.3,357.6 380.2,358.7 384.0,358.6 387.9,356.0 391.7,354.0 395.6,352.7 399.4,351.7 403.3,350.8 407.1,350.0 411.0,349.2 414.8,348.5 418.7,347.9 422.5,347.3 426.4,346.8 430.2,346.2 434.1,345.7 437.9,345.2" stroke="#0000ff"/><polyline points="284.0,287.6 287.8,289.6 291.7,291.8 295.5,295.4 299.4,300.1 303.2,302.6 307.1,301.7 310.9,297.9 314.8,294.1 318.6,293.1 322.5,293.8 326.3,294.8 330.2,294.3 334.0,289.6 337.9,283.7 341.7,280.6 345.6,283.8 349.4,291.2 353.3,308.1 357.1,324.0 360.9,337.5 364.8,346.6 368.6,352.6 372.5,355.9 376.3,357.6 380.2,358.6 384.0,358.5 387.9,355.2 391.7,352.5 395.6,350.8 399.4,349.4 403.3,348.2 407.1,347.1 411.0,346.1 414.8,345.2 418.7,344.4 422.5,343.6 426.4,342.8 430.2,342.1 434.1,341.4 437.9,340.7" stroke="#0000ff"/><polyline points="284.0,305.9 287.8,307.8 291.7,309.7 295.5,311.9 299.4,314.1 303.2,314.6 307.1,313.2 310.9,310.5 314.8,308.1 318.6,308.3 322.5,310.0 326.3,312.1 330.2,313.0 334.0,310.3 337.9,306.2 341.7,303.4 345.6,305.1 349.4,309.8 353.3,321.5 357.1,332.1 360.9,341.2 364.8,347.6 368.6,352.2 372.5,355.4 376.3,357.4 380.2,358.5 384.0,358.4 387.9,356.1 391.7,354.3 395.6,353.1 399.4,352.2 403.3,351.3 407.1,350.6 411.0,349.9 414.8,349.3 418.7,348.7 422.5,348.2 426.4,347.6 430.2,347.1 434.1,346.7 437.9,346.2" stroke="#0000ff"/><polyline points="284.0,255.1 287.8,260.4 291.7,265.0 295.5,268.6 299.4,270.8 303.2,270.4 307.1,268.4 310.9,265.7 314.8,263.8 318.6,265.7 322.5,269.3 326.3,273.0 330.2,275.0 334.0,271.5 337.9,265.9 341.7,262.5 345.6,265.9 349.4,274.1 353.3,293.8 357.1,312.6 360.9,328.9 364.8,340.4 368.6,348.6 372.5,354.0 376.3,357.2 380.2,358.4 384.0,358.5 387.9,355.4 391.7,353.0 395.6,351.4 399.4,350.0 403.3,348.9 407.1,347.9 411.0,347.0 414.8,346.2 418.7,345.4 422.5,344.6 426.4,343.9 430.2,343.3 434.1,342.6 437.9,342.0" stroke="#ff0000"/><polyline points="284.0,297.7 287.8,301.0 291.7,303.8 295.5,305.9 299.4,306.7 303.2,305.2 307.1,302.4 310.9,299.6 314.8,298.2 318.6,300.6 322.5,304.1 326.3,307.0 330.2,308.0 334.0,303.9 337.9,298.2 341.7,294.4 345.6,296.5 349.4,302.5 353.3,316.7 357.1,328.3 360.9,337.7 364.8,344.3 368.6,349.8 372.5,354.3 376.3,357.2 380.2,358.4 384.0,358.4 387.9,357.8 391.7,357.4 395.6,357.2 399.4,357.0 403.3,356.8 407.1,356.7 411.0,356.5 414.8,356.4 418.7,356.3 422.5,356.2 426.4,356.1 430.2,356.0 434.1,355.9 437.9,355.8" stroke="#ff0000"/><polyline points="284.0,272.6 287.8,279.2 291.7,284.6 295.5,289.2 299.4,292.0 303.2,289.7 307.1,284.1 310.9,275.5 314.8,267.5 318.6,268.3 322.5,274.3 326.3,283.2 330.2,289.9 334.0,285.2 337.9,275.4 341.7,266.1 345.6,267.4 349.4,276.2 353.3,298.0 357.1,315.1 360.9,330.1 364.8,340.7 368.6,348.4 372.5,353.7 376.3,357.0 380.2,358.6 384.0,358.6 387.9,356.3 391.7,354.7 395.6,353.6 399.4,352.7 403.3,351.9 407.1,351.3 411.0,350.6 414.8,350.1 418.7,349.5 422.5,349.0 426.4,348.6 430.2,348.1 434.1,347.7 437.9,347.3" stroke="#ff0000"/><polyline points="284.0,313.4 287.8,316.3 291.7,318.7 295.5,320.7 299.4,321.7 303.2,320.1 307.1,316.8 310.9,312.3 314.8,308.7 318.6,310.0 322.5,313.8 326.3,318.1 330.2,320.8 334.0,317.1 337.9,311.2 341.7,305.6 345.6,305.7 349.4,310.1 353.3,322.1 357.1,332.2 360.9,341.4 364.8,347.9 368.6,352.5 372.5,355.6 376.3,357.6 380.2,358.4 384.0,358.4 387.9,357.8 391.7,357.4 395.6,357.2 399.4,357.0 403.3,356.8 407.1,356.7 411.0,356.6 414.8,356.4 418.7,356.3 422.5,356.2 426.4,356.1 430.2,356.0 434.1,355.9 437.9,355.8" stroke="#ff0000"/><polyline points="284.0,308.7 287.8,313.3 291.7,316.5 295.5,318.8 299.4,319.6 303.2,316.8 307.1,311.8 310.9,304.8 314.8,298.4 318.6,298.2 322.5,301.6 326.3,306.1 330.2,308.1 334.0,302.3 337.9,293.9 341.7,288.1 345.6,291.5 349.4,300.5 353.3,317.6 357.1,329.5 360.9,338.5 364.8,344.8 368.6,350.2 372.5,354.7 376.3,357.6 380.2,358.7 384.0,358.5 387.9,356.7 391.7,355.4 395.6,354.6 399.4,353.9 403.3,353.3 407.1,352.7 411.0,352.2 414.8,351.8 418.7,351.4 422.5,351.0 426.4,350.6 430.2,350.3 434.1,349.9 437.9,349.6" stroke="#0000ff"/><polyline points="284.0,303.8 287.8,307.1 291.7,310.0 295.5,312.1 299.4,312.9 303.2,311.4 307.1,308.7 310.9,305.3 314.8,302.2 318.6,302.7 322.5,305.1 326.3,308.2 330.2,310.0 334.0,307.2 337.9,302.7 341.7,299.8 345.6,302.5 349.4,308.6 353.3,321.2 357.1,331.4 360.9,340.0 364.8,346.2 368.6,351.1 372.5,354.9 376.3,357.5 380.2,358.3 384.0,358.4 387.9,356.6 391.7,355.3 395.6,354.3 399.4,353.6 403.3,353.0 407.1,352.4 411.0,351.9 414.8,351.4 418.7,351.0 422.5,350.6 426.4,350.2 430.2,349.8 434.1,349.4 437.9,349.1" stroke="#ff0000"/><polyline points="284.0,268.3 287.8,273.0 291.7,277.2 295.5,282.2 299.4,287.1 303.2,286.6 307.1,280.7 310.9,270.3 314.8,260.7 318.6,260.3 322.5,265.2 326.3,271.6 330.2,274.2 334.0,264.6 337.9,250.7 341.7,239.4 345.6,240.7 349.4,251.1 353.3,278.6 357.1,302.0 360.9,322.5 364.8,336.8 368.6,346.9 372.5,353.5 376.3,357.5 380.2,359.1 384.0,358.8 387.9,355.8 391.7,353.7 395.6,352.4 399.4,351.3 403.3,350.3 407.1,349.5 411.0,348.7 414.8,348.0 418.7,347.3 422.5,346.7 426.4,346.1 430.2,345.5 434.1,344.9 437.9,344.4" stroke="#ff0000"/><polyline points="284.0,257.8 287.8,264.1 291.7,269.0 295.5,272.5 299.4,274.9 303.2,274.2 307.1,271.0 310.9,266.3 314.8,262.2 318.6,262.7 322.5,265.8 326.3,270.1 330.2,273.1 334.0,269.7 337.9,263.4 341.7,258.5 345.6,260.8 349.4,268.4 353.3,288.9 357.1,308.6 360.9,326.2 364.8,338.6 368.6,347.4 372.5,353.3 376.3,356.9 380.2,358.5 384.0,358.6 387.9,356.1 391.7,354.3 395.6,353.2 399.4,352.2 403.3,351.4 407.1,350.6 411.0,350.0 414.8,349.3 418.7,348.8 422.5,348.2 426.4,347.7 430.2,347.2 434.1,346.7 437.9,346.3" stroke="#ff0000"/><polyline points="284.0,266.6 287.8,270.8 291.7,274.9 295.5,279.2 299.4,283.3 303.2,286.0 307.1,287.2 310.9,287.5 314.8,288.0 318.6,290.3 322.5,293.7 326.3,297.6 330.2,300.8 334.0,301.1 337.9,299.9 341.7,299.4 345.6,302.4 349.4,307.9 353.3,319.7 357.1,330.9 360.9,340.0 364.8,346.4 368.6,351.2 372.5,354.5 376.3,356.8 380.2,357.9 384.0,358.3 387.9,356.4 391.7,354.9 395.6,353.9 399.4,353.0 403.3,352.3 407.1,351.7 411.0,351.1 414.8,350.6 418.7,350.1 422.5,349.6 426.4,349.2 430.2,348.7 434.1,348.3 437.9,347.9" stroke="#0000ff"/><polyline points="284.0,288.2 287.8,291.9 291.7,294.7 295.5,296.3 299.4,296.4 303.2,294.3 307.1,290.9 310.9,286.9 314.8,283.6 318.6,283.7 322.5,285.8 326.3,288.9 330.2,291.2 334.0,288.4 337.9,283.0 341.7,278.4 345.6,279.4 349.4,285.0 353.3,301.8 357.1,318.4 360.9,332.8 364.8,342.9 368.6,350.0 372.5,354.7 376.3,357.5 380.2,358.7 384.0,358.6 387.9,356.5 391.7,354.9 395.6,353.9 399.4,353.1 403.3,352.4 407.1,351.8 411.0,351.2 414.8,350.7 418.7,350.2 422.5,349.7 426.4,349.3 430.2,348.9 434.1,348.5 437.9,348.1" stroke="#ff0000"/><polyline points="284.0,321.7 287.8,325.3 291.7,328.0 295.5,329.7 299.4,330.1 303.2,327.4 307.1,322.9 310.9,317.4 314.8,312.7 318.6,313.6 322.5,317.1 326.3,320.2 330.2,320.0 334.0,312.8 337.9,304.5 341.7,299.1 345.6,301.2 349.4,308.1 353.3,322.0 357.1,331.8 360.9,340.2 364.8,346.2 368.6,351.0 372.5,355.1 376.3,357.8 380.2,358.6 384.0,358.5 387.9,357.5 391.7,356.9 395.6,356.6 399.4,356.2 403.3,356.0 407.1,355.7 411.0,355.5 414.8,355.3 418.7,355.1 422.5,355.0 426.4,354.8 430.2,354.6 434.1,354.5 437.9,354.3" stroke="#0000ff"/><polyline points="284.0,280.5 287.8,287.0 291.7,292.1 295.5,296.3 299.4,298.7 303.2,295.4 307.1,288.1 310.9,278.2 314.8,270.0 318.6,271.8 322.5,278.5 326.3,285.4 330.2,287.4 334.0,276.6 337.9,262.6 341.7,251.9 345.6,254.3 349.4,265.3 353.3,290.6 357.1,310.3 360.9,327.6 364.8,339.6 368.6,348.1 372.5,353.9 376.3,357.3 380.2,358.9 384.0,358.7 387.9,358.0 391.7,357.8 395.6,357.7 399.4,357.6 403.3,357.5 407.1,357.5 411.0,357.4 414.8,357.3 418.7,357.3 422.5,357.2 426.4,357.2 430.2,357.1 434.1,357.1 437.9,357.0" stroke="#ff0000"/><polyline points="284.0,314.5 287.8,318.1 291.7,320.6 295.5,322.5 299.4,323.8 303.2,322.6 307.1,319.2 310.9,313.5 314.8,307.2 318.6,304.9 322.5,305.7 326.3,308.1 330.2,309.0 334.0,304.7 337.9,298.3 341.7,293.4 345.6,294.6 349.4,300.0 353.3,314.7 357.1,328.2 360.9,340.3 364.8,348.5 368.6,353.8 372.5,356.6 376.3,358.1 380.2,358.7 384.0,358.5 387.9,358.3 391.7,358.3 395.6,358.4 399.4,358.4 403.3,358.4 407.1,358.4 411.0,358.5 414.8,358.5 418.7,358.5 422.5,358.5 426.4,358.5 430.2,358.5 434.1,358.6 437.9,358.6" stroke="#ff0000"/><polyline points="284.0,266.7 287.8,273.8 291.7,279.6 295.5,284.1 299.4,286.9 303.2,286.0 307.1,283.1 310.9,278.6 314.8,274.9 318.6,277.3 322.5,283.2 326.3,290.3 330.2,294.9 334.0,291.5 337.9,285.2 341.7,280.3 345.6,283.6 349.4,292.4 353.3,310.5 357.1,325.1 360.9,337.1 364.8,345.3 368.6,351.2 372.5,354.9 376.3,357.1 380.2,358.2 384.0,358.4 387.9,355.0 391.7,352.2 395.6,350.4 399.4,348.9 403.3,347.6 407.1,346.4 411.0,345.4 414.8,344.4 418.7,343.5 422.5,342.7 426.4,341.9 430.2,341.1 434.1,340.4 437.9,339.7" stroke="#0000ff"/><polyline points="284.0,299.4 287.8,303.3 291.7,307.0 295.5,310.7 299.4,314.3 303.2,316.1 307.1,316.0 310.9,314.5 314.8,313.1 318.6,314.0 322.5,316.1 326.3,318.2 330.2,318.8 334.0,316.1 337.9,312.7 341.7,310.5 345.6,312.0 349.4,316.0 353.3,325.5 357.1,334.6 360.9,343.5 364.8,349.8 368.6,353.8 372.5,356.2 376.3,357.6 380.2,358.2 384.0,358.3 387.9,355.3 391.7,352.7 395.6,351.1 399.4,349.7 403.3,348.5 407.1,347.5 411.0,346.5 414.8,345.7 418.7,344.8 422.5,344.1 426.4,343.3 430.2,342.6 434.1,342.0 437.9,341.3" stroke="#ff0000"/><polyline points="284.0,293.5 287.8,296.8 291.7,299.8 295.5,303.1 299.4,306.2 303.2,306.1 307.1,302.9 310.9,296.9 314.8,290.8 318.6,289.9 322.5,292.3 326.3,296.0 330.2,297.9 334.0,292.9 337.9,285.4 341.7,279.6 345.6,281.3 349.4,288.3 353.3,306.0 357.1,322.2 360.9,336.8 364.8,346.7 368.6,353.0 372.5,356.5 376.3,358.2 380.2,358.6 384.0,358.5 387.9,355.8 391.7,353.6 395.6,352.2 399.4,351.1 403.3,350.1 407.1,349.2 411.0,348.5 414.8,347.7 418.7,347.0 422.5,346.4 426.4,345.8 430.2,345.2 434.1,344.6 437.9,344.1" stroke="#ff0000"/><polyline points="284.0,312.8 287.8,313.7 291.7,314.7 295.5,315.8 299.4,316.7 303.2,316.4 307.1,315.0 310.9,312.9 314.8,311.4 318.6,311.8 322.5,313.2 326.3,315.3 330.2,316.8 334.0,315.5 337.9,312.5 341.7,309.4 345.6,309.0 349.4,311.2 353.3,320.9 357.1,331.9 360.9,342.6 364.8,350.0 368.6,354.5 372.5,356.8 376.3,357.9 380.2,358.4 384.0,358.4 387.9,355.8 391.7,353.7 395.6,352.3 399.4,351.1 403.3,350.2 407.1,349.3 411.0,348.5 414.8,347.8 418.7,347.1 422.5,346.4 426.4,345.8 430.2,345.2 434.1,344.7 437.9,344.2" stroke="#0000ff"/><polyline points="284.0,307.1 287.8,310.4 291.7,313.2 295.5,316.7 299.4,320.4 303.2,321.3 307.1,319.0 310.9,313.5 314.8,307.8 318.6,306.8 322.5,309.4 326.3,314.0 330.2,317.4 334.0,314.5 337.9,308.8 341.7,302.9 345.6,302.5 349.4,306.5 353.3,319.1 357.1,330.4 360.9,340.8 364.8,348.1 368.6,353.0 372.5,356.0 376.3,357.8 380.2,358.5 384.0,358.4 387.9,353.2 391.7,348.8 395.6,345.9 399.4,343.5 403.3,341.5 407.1,339.7 411.0,338.1 414.8,336.6 418.7,335.2 422.5,333.8 426.4,332.6 430.2,331.3 434.1,330.2 437.9,329.1" stroke="#0000ff"/><polyline points="284.0,306.4 287.8,307.8 291.7,309.7 295.5,311.8 299.4,313.4 303.2,312.7 307.1,310.0 310.9,305.5 314.8,301.2 318.6,300.6 322.5,302.4 326.3,305.5 330.2,307.8 334.0,304.9 337.9,299.6 341.7,295.0 345.6,296.0 349.4,301.0 353.3,314.8 357.1,327.8 360.9,339.4 364.8,347.4 368.6,352.8 372.5,356.2 376.3,358.0 380.2,358.6 384.0,358.5 387.9,356.3 391.7,354.7 395.6,353.7 399.4,352.8 403.3,352.1 407.1,351.4 411.0,350.8 414.8,350.2 418.7,349.7 422.5,349.2 426.4,348.8 430.2,348.3 434.1,347.9 437.9,347.5" stroke="#ff0000"/><polyline points="284.0,285.6 287.8,290.8 291.7,295.4 295.5,299.7 299.4,303.1 303.2,303.9 307.1,302.6 310.9,299.6 314.8,296.9 318.6,298.5 322.5,302.6 326.3,307.8 330.2,311.3 334.0,308.9 337.9,304.4 341.7,300.6 345.6,302.5 349.4,308.2 353.3,321.0 357.1,331.5 360.9,340.4 364.8,346.7 368.6,351.4 372.5,354.6 376.3,356.8 380.2,358.2 384.0,358.4 387.9,357.0 391.7,355.9 395.6,355.1 399.4,354.6 403.3,354.1 407.1,353.6 411.0,353.2 414.8,352.8 418.7,352.5 422.5,352.2 426.4,351.8 430.2,351.6 434.1,351.3 437.9,351.0" stroke="#0000ff"/><polyline points="284.0,260.3 287.8,266.2 291.7,270.9 295.5,274.9 299.4,277.8 303.2,276.8 307.1,272.5 310.9,265.8 314.8,259.7 318.6,259.9 322.5,263.8 326.3,269.9 330.2,274.5 334.0,270.7 337.9,262.6 341.7,254.8 345.6,255.1 349.4,262.1 353.3,284.4 357.1,305.5 360.9,324.3 364.8,337.5 368.6,346.9 372.5,353.2 376.3,357.0 380.2,358.7 384.0,358.6 387.9,356.8 391.7,355.5 395.6,354.7 399.4,354.1 403.3,353.5 407.1,353.0 411.0,352.5 414.8,352.1 418.7,351.7 422.5,351.3 426.4,351.0 430.2,350.6 434.1,350.3 437.9,350.0" stroke="#ff0000"/><polyline points="284.0,277.2 287.8,280.1 291.7,282.8 295.5,284.6 299.4,285.4 303.2,283.9 307.1,280.9 310.9,277.8 314.8,275.9 318.6,277.6 322.5,280.6 326.3,283.5 330.2,285.0 334.0,281.4 337.9,275.6 341.7,271.0 345.6,272.2 349.4,277.8 353.3,295.3 357.1,313.6 360.9,331.1 364.8,343.2 368.6,350.9 372.5,355.4 376.3,357.9 380.2,358.6 384.0,358.6 387.9,355.7 391.7,353.5 395.6,352.0 399.4,350.8 403.3,349.8 407.1,348.9 411.0,348.1 414.8,347.3 418.7,346.6 422.5,345.9 426.4,345.3 430.2,344.7 434.1,344.1 437.9,343.5" stroke="#ff0000"/><polyline points="284.0,282.1 287.8,286.0 291.7,289.7 295.5,293.4 299.4,296.6 303.2,297.3 307.1,295.8 310.9,292.2 314.8,288.6 318.6,289.1 322.5,292.2 326.3,297.4 330.2,302.0 334.0,301.0 337.9,297.0 341.7,292.3 345.6,292.3 349.4,296.4 353.3,310.2 357.1,323.3 360.9,335.0 364.8,343.5 368.6,349.7 372.5,354.1 376.3,357.0 380.2,358.3 384.0,358.4 387.9,358.8 391.7,359.3 395.6,359.6 399.4,359.9 403.3,360.1 407.1,360.3 411.0,360.5 414.8,360.6 418.7,360.8 422.5,361.0 426.4,361.1 430.2,361.2 434.1,361.4 437.9,361.5" stroke="#0000ff"/><polyline points="284.0,273.1 287.8,277.7 291.7,281.8 295.5,284.9 299.4,286.7 303.2,286.8 307.1,286.3 310.9,285.9 314.8,286.3 318.6,288.9 322.5,292.4 326.3,295.7 330.2,298.0 334.0,296.9 337.9,294.2 341.7,292.5 345.6,294.9 349.4,300.3 353.3,313.0 357.1,325.3 360.9,336.4 364.8,344.5 368.6,350.3 372.5,354.4 376.3,356.9 380.2,358.1 384.0,358.4 387.9,355.3 391.7,352.8 395.6,351.1 399.4,349.7 403.3,348.6 407.1,347.5 411.0,346.6 414.8,345.7 418.7,344.9 422.5,344.1 426.4,343.4 430.2,342.7 434.1,342.0 437.9,341.4" stroke="#0000ff"/><polyline points="284.0,284.4 287.8,289.1 291.7,292.7 295.5,295.0 299.4,295.7 303.2,293.7 307.1,290.2 310.9,285.8 314.8,281.9 318.6,282.2 322.5,285.0 326.3,288.6 330.2,290.6 334.0,286.6 337.9,280.3 341.7,276.1 345.6,279.4 349.4,287.4 353.3,305.5 357.1,321.0 360.9,333.5 364.8,342.3 368.6,349.2 372.5,354.4 376.3,357.6 380.2,358.6 384.0,358.5 387.9,355.9 391.7,353.9 395.6,352.6 399.4,351.5 403.3,350.6 407.1,349.8 411.0,349.0 414.8,348.3 418.7,347.7 422.5,347.1 426.4,346.5 430.2,345.9 434.1,345.4 437.9,344.9" stroke="#ff0000"/><polyline points="284.0,240.4 287.8,247.1 291.7,252.7 295.5,257.1 299.4,260.1 303.2,259.1 307.1,255.3 310.9,249.5 314.8,244.6 318.6,245.8 322.5,250.5 326.3,256.4 330.2,260.1 334.0,255.4 337.9,246.9 341.7,240.3 345.6,243.0 349.4,252.7 353.3,277.9 357.1,301.7 360.9,322.8 364.8,337.5 368.6,347.5 372.5,353.8 376.3,357.3 380.2,358.6 384.0,358.7 387.9,356.6 391.7,355.1 395.6,354.2 399.4,353.4 403.3,352.7 407.1,352.1 411.0,351.6 414.8,351.1 418.7,350.7 422.5,350.2 426.4,349.8 430.2,349.4 434.1,349.0 437.9,348.7" stroke="#ff0000"/><polyline points="284.0,289.2 287.8,293.2 291.7,297.0 295.5,300.7 299.4,303.8 303.2,304.5 307.1,303.2 310.9,299.9 314.8,296.5 318.6,297.2 322.5,300.8 326.3,306.0 330.2,310.4 334.0,309.4 337.9,306.0 341.7,303.1 345.6,305.5 349.4,311.4 353.3,323.7 357.1,333.6 360.9,342.1 364.8,348.1 368.6,352.5 372.5,355.4 376.3,357.2 380.2,358.1 384.0,358.3 387.9,356.7 391.7,355.5 395.6,354.6 399.4,353.9 403.3,353.3 407.1,352.8 411.0,352.3 414.8,351.9 418.7,351.5 422.5,351.1 426.4,350.7 430.2,350.4 434.1,350.0 437.9,349.7" stroke="#0000ff"/><polyline points="284.0,288.1 287.8,293.7 291.7,298.3 295.5,301.9 299.4,303.7 303.2,301.7 307.1,297.3 310.9,291.1 314.8,285.6 318.6,286.9 322.5,292.3 326.3,299.2 330.2,303.8 334.0,299.5 337.9,291.7 341.7,284.9 345.6,286.5 349.4,294.0 353.3,311.4 357.1,325.1 360.9,337.0 364.8,345.3 368.6,351.2 372.5,355.1 376.3,357.5 380.2,358.4 384.0,358.5 387.9,357.3 391.7,356.6 395.6,356.1 399.4,355.7 403.3,355.4 407.1,355.1 411.0,354.8 414.8,354.5 418.7,354.3 422.5,354.1 426.4,353.9 430.2,353.7 434.1,353.5 437.9,353.3" stroke="#ff0000"/><polyline points="284.0,288.3 287.8,293.9 291.7,298.6 295.5,302.8 299.4,305.6 303.2,303.7 307.1,298.2 310.9,289.9 314.8,282.3 318.6,282.9 322.5,288.1 326.3,294.5 330.2,297.1 334.0,289.1 337.9,277.9 341.7,269.2 345.6,271.1 349.4,280.3 353.3,301.6 357.1,318.3 360.9,332.9 364.8,343.1 368.6,350.2 372.5,354.9 376.3,357.7 380.2,358.7 384.0,358.6 387.9,356.7 391.7,355.3 395.6,354.4 399.4,353.7 403.3,353.1 407.1,352.6 411.0,352.0 414.8,351.6 418.7,351.2 422.5,350.7 426.4,350.4 430.2,350.0 434.1,349.6 437.9,349.3" stroke="#ff0000"/><polyline points="284.0,279.0 287.8,283.8 291.7,288.0 295.5,291.7 299.4,294.5 303.2,294.9 307.1,293.6 310.9,291.1 314.8,288.9 318.6,290.6 322.5,294.4 326.3,298.7 330.2,301.2 334.0,298.5 337.9,294.1 341.7,291.5 345.6,295.1 349.4,302.6 353.3,316.8 357.1,328.6 360.9,338.7 364.8,345.8 368.6,351.1 372.5,354.8 376.3,357.1 380.2,358.2 384.0,358.4 387.9,355.1 391.7,352.4 395.6,350.6 399.4,349.1 403.3,347.9 407.1,346.7 411.0,345.7 414.8,344.8 418.7,343.9 422.5,343.1 426.4,342.3 430.2,341.6 434.1,340.8 437.9,340.2" stroke="#0000ff"/><polyline points="284.0,282.0 287.8,284.9 291.7,288.2 295.5,292.3 299.4,297.1 303.2,300.6 307.1,302.3 310.9,302.1 314.8,301.5 318.6,302.3 322.5,304.2 326.3,306.5 330.2,308.3 334.0,307.8 337.9,306.3 341.7,305.5 345.6,307.5 349.4,311.5 353.3,320.8 357.1,329.9 360.9,338.8 364.8,345.4 368.6,350.4 372.5,354.0 376.3,356.5 380.2,358.0 384.0,358.3 387.9,356.7 391.7,355.5 395.6,354.6 399.4,353.9 403.3,353.4 407.1,352.8 411.0,352.4 414.8,351.9 418.7,351.5 422.5,351.1 426.4,350.8 430.2,350.4 434.1,350.1 437.9,349.8" stroke="#0000ff"/><polyline points="284.0,300.0 287.8,302.2 291.7,304.6 295.5,307.3 299.4,309.9 303.2,310.9 307.1,309.9 310.9,307.3 314.8,304.8 318.6,304.9 322.5,306.8 326.3,309.3 330.2,310.8 334.0,308.5 337.9,304.6 341.7,301.7 345.6,302.9 349.4,307.2 353.3,318.8 357.1,330.1 360.9,340.7 364.8,348.1 368.6,353.0 372.5,356.0 376.3,357.7 380.2,358.4 384.0,358.4 387.9,355.3 391.7,352.7 395.6,351.0 399.4,349.7 403.3,348.5 407.1,347.5 411.0,346.5 414.8,345.6 418.7,344.8 422.5,344.0 426.4,343.3 430.2,342.6 434.1,341.9 437.9,341.3" stroke="#0000ff"/><polyline points="284.0,276.7 287.8,279.6 291.7,282.6 295.5,285.8 299.4,288.5 303.2,288.8 307.1,286.8 310.9,283.6 314.8,281.3 318.6,282.6 322.5,285.6 326.3,287.7 330.2,287.0 334.0,281.0 337.9,274.2 341.7,271.3 345.6,276.0 349.4,285.3 353.3,303.9 357.1,320.3 360.9,334.1 364.8,343.7 368.6,350.5 372.5,354.9 376.3,357.4 380.2,358.5 384.0,358.5 387.9,356.0 391.7,354.1 395.6,352.8 399.4,351.8 403.3,350.9 407.1,350.1 411.0,349.4 414.8,348.7 418.7,348.1 422.5,347.5 426.4,347.0 430.2,346.4 434.1,345.9 437.9,345.4" stroke="#0000ff"/><polyline points="284.0,300.5 287.8,305.8 291.7,309.6 295.5,312.0 299.4,312.7 303.2,309.8 307.1,305.0 310.9,299.6 314.8,295.9 318.6,298.3 322.5,303.2 326.3,308.1 330.2,310.6 334.0,305.0 337.9,296.9 341.7,290.4 345.6,291.8 349.4,298.7 353.3,315.1 357.1,328.1 360.9,339.2 364.8,346.8 368.6,352.2 372.5,355.9 376.3,358.0 380.2,358.6 384.0,358.5 387.9,355.2 391.7,352.5 395.6,350.7 399.4,349.3 403.3,348.1 407.1,347.0 411.0,346.0 414.8,345.1 418.7,344.3 422.5,343.5 426.4,342.7 430.2,342.0 434.1,341.3 437.9,340.6" stroke="#0000ff"/><polyline points="284.0,259.1 287.8,263.4 291.7,268.3 295.5,273.9 299.4,279.2 303.2,281.1 307.1,279.7 310.9,274.7 314.8,268.8 318.6,268.5 322.5,272.6 326.3,279.6 330.2,285.4 334.0,283.8 337.9,278.6 341.7,273.9 345.6,276.8 349.4,284.9 353.3,303.1 357.1,319.3 360.9,334.0 364.8,344.3 368.6,351.1 372.5,354.8 376.3,356.9 380.2,358.2 384.0,358.4 387.9,357.6 391.7,357.1 395.6,356.7 399.4,356.5 403.3,356.2 407.1,356.0 411.0,355.8 414.8,355.6 418.7,355.5 422.5,355.3 426.4,355.2 430.2,355.0 434.1,354.9 437.9,354.8" stroke="#ff0000"/><polyline points="284.0,297.6 287.8,300.8 291.7,303.6 295.5,306.2 299.4,308.4 303.2,309.0 307.1,308.5 310.9,307.6 314.8,307.5 318.6,309.6 322.5,312.3 326.3,314.1 330.2,314.4 334.0,311.4 337.9,308.0 341.7,306.4 345.6,308.7 349.4,313.5 353.3,324.3 357.1,333.9 360.9,341.7 364.8,347.3 368.6,351.7 372.5,355.2 376.3,357.5 380.2,358.2 384.0,358.4 387.9,355.4 391.7,353.0 395.6,351.4 399.4,350.1 403.3,349.0 407.1,348.1 411.0,347.2 414.8,346.3 418.7,345.5 422.5,344.8 426.4,344.1 430.2,343.5 434.1,342.8 437.9,342.2" stroke="#0000ff"/><polyline points="284.0,299.3 287.8,303.7 291.7,307.2 295.5,309.1 299.4,308.5 303.2,303.6 307.1,296.7 310.9,288.2 314.8,280.4 318.6,280.1 322.5,284.3 326.3,291.1 330.2,296.2 334.0,291.6 337.9,282.2 341.7,272.6 345.6,271.7 349.4,277.7 353.3,297.4 357.1,314.8 360.9,331.0 364.8,342.3 368.6,350.1 372.5,355.1 376.3,357.9 380.2,358.8 384.0,358.6 387.9,356.3 391.7,354.7 395.6,353.6 399.4,352.7 403.3,352.0 407.1,351.3 411.0,350.7 414.8,350.1 418.7,349.6 422.5,349.1 426.4,348.6 430.2,348.2 434.1,347.8 437.9,347.3" stroke="#0000ff"/><polyline points="284.0,273.8 287.8,279.4 291.7,284.0 295.5,287.9 299.4,290.8 303.2,289.6 307.1,285.3 310.9,278.4 314.8,272.0 318.6,272.2 322.5,276.4 326.3,282.4 330.2,286.6 334.0,282.0 337.9,273.7 341.7,266.3 345.6,267.5 349.4,275.2 353.3,295.8 357.1,313.8 360.9,329.8 364.8,340.9 368.6,348.9 372.5,354.3 376.3,357.5 380.2,358.6 384.0,358.6 387.9,355.8 391.7,353.7 395.6,352.4 399.4,351.2 403.3,350.3 407.1,349.4 411.0,348.7 414.8,347.9 418.7,347.3 422.5,346.6 426.4,346.0 430.2,345.5 434.1,344.9 437.9,344.4" stroke="#0000ff"/><polyline points="284.0,266.7 287.8,272.9 291.7,277.8 295.5,281.4 299.4,283.4 303.2,282.4 307.1,279.6 310.9,276.1 314.8,273.6 318.6,276.0 322.5,280.6 326.3,285.5 330.2,288.3 334.0,284.4 337.9,278.2 341.7,273.7 345.6,276.4 349.4,284.1 353.3,302.1 357.1,317.9 360.9,331.8 364.8,341.6 368.6,348.8 372.5,353.8 376.3,356.9 380.2,358.3 384.0,358.5 387.9,356.7 391.7,355.4 395.6,354.5 399.4,353.8 403.3,353.2 407.1,352.7 411.0,352.2 414.8,351.7 418.7,351.3 422.5,350.9 426.4,350.5 430.2,350.1 434.1,349.8 437.9,349.5" stroke="#0000ff"/><polyline points="284.0,280.7 287.8,286.1 291.7,290.9 295.5,295.2 299.4,298.6 303.2,299.1 307.1,297.5 310.9,294.9 314.8,293.4 318.6,296.9 322.5,302.4 326.3,307.4 330.2,309.8 334.0,305.8 337.9,300.2 341.7,296.4 345.6,299.0 349.4,305.8 353.3,319.4 357.1,329.8 360.9,338.8 364.8,345.3 368.6,350.4 372.5,354.3 376.3,356.9 380.2,358.1 384.0,358.3 387.9,357.1 391.7,356.1 395.6,355.4 399.4,354.9 403.3,354.5 407.1,354.1 411.0,353.7 414.8,353.4 418.7,353.0 422.5,352.7 426.4,352.5 430.2,352.2 434.1,351.9 437.9,351.7" stroke="#0000ff"/><polyline points="284.0,278.0 287.8,281.0 291.7,284.0 295.5,287.4 299.4,290.6 303.2,291.0 307.1,288.5 310.9,283.9 314.8,279.7 318.6,279.5 322.5,281.7 326.3,284.3 330.2,284.9 334.0,279.6 337.9,272.6 341.7,268.6 345.6,272.5 349.4,281.3 353.3,300.5 357.1,317.4 360.9,331.8 364.8,341.8 368.6,349.2 372.5,354.4 376.3,357.5 380.2,358.6 384.0,358.6 387.9,358.7 391.7,359.1 395.6,359.4 399.4,359.6 403.3,359.8 407.1,360.0 411.0,360.1 414.8,360.3 418.7,360.4 422.5,360.6 426.4,360.7 430.2,360.8 434.1,360.9 437.9,361.0" stroke="#ff0000"/><polyline points="284.0,279.0 287.8,283.4 291.7,287.5 295.5,291.6 299.4,295.2 303.2,295.9 307.1,293.7 310.9,289.2 314.8,285.0 318.6,285.2 322.5,288.2 326.3,292.4 330.2,295.1 334.0,291.7 337.9,285.7 341.7,280.9 345.6,282.6 349.4,289.0 353.3,305.5 357.1,320.1 360.9,332.8 364.8,341.9 368.6,348.8 372.5,354.1 376.3,357.4 380.2,358.5 384.0,358.5 387.9,359.0 391.7,359.7 395.6,360.1 399.4,360.5 403.3,360.8 407.1,361.1 411.0,361.4 414.8,361.6 418.7,361.8 422.5,362.0 426.4,362.2 430.2,362.4 434.1,362.6 437.9,362.8" stroke="#ff0000"/><polyline points="284.0,320.7 287.8,322.4 291.7,323.8 295.5,324.7 299.4,324.8 303.2,323.5 307.1,321.7 310.9,320.0 314.8,319.1 318.6,320.3 322.5,322.4 326.3,324.5 330.2,325.8 334.0,323.9 337.9,320.8 341.7,318.1 345.6,318.3 349.4,320.9 353.3,329.3 357.1,337.4 360.9,344.8 364.8,350.0 368.6,353.7 372.5,356.1 376.3,357.5 380.2,358.4 384.0,358.4 387.9,355.2 391.7,352.6 395.6,350.9 399.4,349.5 403.3,348.3 407.1,347.2 411.0,346.3 414.8,345.4 418.7,344.5 422.5,343.7 426.4,343.0 430.2,342.3 434.1,341.6 437.9,340.9" stroke="#0000ff"/><polyline points="284.0,252.4 287.8,259.5 291.7,265.6 295.5,270.6 299.4,273.4 303.2,271.2 307.1,265.8 310.9,258.5 314.8,252.8 318.6,255.8 322.5,262.9 326.3,270.4 330.2,274.0 334.0,266.2 337.9,255.0 341.7,246.6 345.6,249.7 349.4,260.9 353.3,286.2 357.1,307.6 360.9,326.7 364.8,340.0 368.6,348.8 372.5,354.3 376.3,357.5 380.2,358.5 384.0,358.6 387.9,357.3 391.7,356.6 395.6,356.1 399.4,355.7 403.3,355.3 407.1,355.0 411.0,354.7 414.8,354.5 418.7,354.2 422.5,354.0 426.4,353.8 430.2,353.6 434.1,353.4 437.9,353.2" stroke="#ff0000"/><polyline points="284.0,310.2 287.8,313.7 291.7,316.2 295.5,318.2 299.4,319.5 303.2,318.5 307.1,315.5 310.9,311.1 314.8,307.1 318.6,306.8 322.5,308.7 326.3,310.6 330.2,310.5 334.0,305.3 337.9,298.8 341.7,295.0 345.6,298.0 349.4,305.0 353.3,319.8 357.1,331.4 360.9,340.3 364.8,346.4 368.6,351.5 372.5,355.4 376.3,357.7 380.2,358.7 384.0,358.5 387.9,356.2 391.7,354.5 395.6,353.3 399.4,352.4 403.3,351.6 407.1,350.8 411.0,350.2 414.8,349.6 418.7,349.0 422.5,348.5 426.4,348.0 430.2,347.5 434.1,347.1 437.9,346.6" stroke="#0000ff"/><polyline points="284.0,280.8 287.8,285.0 291.7,288.9 295.5,292.2 299.4,294.8 303.2,295.6 307.1,295.2 310.9,294.5 314.8,294.5 318.6,297.1 322.5,300.6 326.3,303.8 330.2,305.6 334.0,303.7 337.9,300.6 341.7,298.7 345.6,300.9 349.4,306.1 353.3,318.0 357.1,329.1 360.9,339.1 364.8,346.3 368.6,351.4 372.5,354.8 376.3,357.0 380.2,358.1 384.0,358.3 387.9,354.7 391.7,351.7 395.6,349.6 399.4,348.0 403.3,346.6 407.1,345.4 411.0,344.2 414.8,343.2 418.7,342.2 422.5,341.3 426.4,340.4 430.2,339.5 434.1,338.7 437.9,338.0" stroke="#0000ff"/><polyline points="284.0,284.0 287.8,289.7 291.7,294.7 295.5,299.7 299.4,303.8 303.2,303.2 307.1,298.5 310.9,290.1 314.8,281.8 318.6,281.4 322.5,286.0 326.3,292.6 330.2,296.4 334.0,289.9 337.9,279.9 341.7,271.9 345.6,274.4 349.4,283.9 353.3,304.5 357.1,319.9 360.9,332.6 364.8,341.6 368.6,348.6 372.5,353.8 376.3,357.1 380.2,358.6 384.0,358.5 387.9,356.5 391.7,355.1 395.6,354.1 399.4,353.3 403.3,352.6 407.1,352.0 411.0,351.5 414.8,351.0 418.7,350.5 422.5,350.1 426.4,349.7 430.2,349.3 434.1,348.9 437.9,348.5" stroke="#ff0000"/><polyline points="284.0,269.2 287.8,274.4 291.7,278.6 295.5,281.7 299.4,283.7 303.2,282.9 307.1,280.3 310.9,277.2 314.8,275.6 318.6,278.2 322.5,282.3 326.3,286.5 330.2,288.9 334.0,285.5 337.9,279.6 341.7,274.2 345.6,274.5 349.4,279.6 353.3,297.1 357.1,314.5 360.9,330.1 364.8,341.1 368.6,348.9 372.5,354.0 376.3,357.2 380.2,358.5 384.0,358.5 387.9,355.2 391.7,352.6 395.6,350.9 399.4,349.5 403.3,348.3 407.1,347.2 411.0,346.3 414.8,345.4 418.7,344.5 422.5,343.7 426.4,343.0 430.2,342.3 434.1,341.6 437.9,340.9" stroke="#0000ff"/><polyline points="284.0,254.3 287.8,261.6 291.7,267.8 295.5,273.7 299.4,277.6 303.2,275.1 307.1,267.7 310.9,256.1 314.8,245.3 318.6,246.1 322.5,253.9 326.3,264.6 330.2,271.3 334.0,263.1 337.9,249.3 341.7,237.5 345.6,240.1 349.4,252.7 353.3,281.9 357.1,304.0 360.9,322.6 364.8,335.7 368.6,345.6 372.5,352.7 376.3,357.1 380.2,358.8 384.0,358.7 387.9,356.9 391.7,355.7 395.6,354.9 399.4,354.3 403.3,353.8 407.1,353.3 411.0,352.9 414.8,352.5 418.7,352.1 422.5,351.7 426.4,351.4 430.2,351.1 434.1,350.8 437.9,350.5" stroke="#ff0000"/><polyline points="284.0,264.9 287.8,271.4 291.7,276.7 295.5,280.8 299.4,283.4 303.2,281.9 307.1,277.7 310.9,271.9 314.8,267.5 318.6,269.8 322.5,275.2 326.3,280.9 330.2,283.4 334.0,276.9 337.9,267.7 341.7,260.8 345.6,263.5 349.4,272.8 353.3,294.9 357.1,314.0 360.9,330.3 364.8,341.7 368.6,349.6 372.5,354.5 376.3,357.3 380.2,358.6 384.0,358.6 387.9,356.9 391.7,355.9 395.6,355.1 399.4,354.5 403.3,354.0 407.1,353.6 411.0,353.2 414.8,352.8 418.7,352.4 422.5,352.1 426.4,351.8 430.2,351.5 434.1,351.2 437.9,350.9" stroke="#ff0000"/><polyline points="284.0,271.0 287.8,275.1 291.7,279.0 295.5,283.1 299.4,286.1 303.2,284.9 307.1,280.2 310.9,273.0 314.8,266.8 318.6,267.6 322.5,272.3 326.3,278.0 330.2,280.9 334.0,274.2 337.9,264.1 341.7,256.2 345.6,258.3 349.4,267.4 353.3,290.2 357.1,310.1 360.9,327.8 364.8,340.2 368.6,348.7 372.5,354.2 376.3,357.3 380.2,358.7 384.0,358.6 387.9,355.7 391.7,353.5 395.6,352.1 399.4,350.9 403.3,349.9 407.1,349.0 411.0,348.2 414.8,347.5 418.7,346.8 422.5,346.1 426.4,345.5 430.2,344.9 434.1,344.3 437.9,343.7" stroke="#ff0000"/><polyline points="284.0,254.8 287.8,261.0 291.7,266.9 295.5,272.8 299.4,277.5 303.2,278.1 307.1,275.4 310.9,268.6 314.8,260.4 318.6,259.4 322.5,264.3 326.3,273.5 330.2,281.6 334.0,280.5 337.9,274.4 341.7,267.8 345.6,269.6 349.4,277.6 353.3,296.8 357.1,312.9 360.9,327.8 364.8,338.7 368.6,346.8 372.5,352.7 376.3,356.5 380.2,358.2 384.0,358.4 387.9,357.4 391.7,356.6 395.6,356.1 399.4,355.7 403.3,355.4 407.1,355.1 411.0,354.8 414.8,354.5 418.7,354.3 422.5,354.1 426.4,353.9 430.2,353.7 434.1,353.5 437.9,353.3" stroke="#ff0000"/><polyline points="284.0,280.0 287.8,282.4 291.7,285.1 295.5,288.8 299.4,293.1 303.2,295.0 307.1,293.6 310.9,289.4 314.8,285.1 318.6,284.3 322.5,286.1 326.3,289.5 330.2,292.2 334.0,289.8 337.9,284.7 341.7,280.5 345.6,282.4 349.4,288.5 353.3,305.0 357.1,320.0 360.9,332.4 364.8,341.2 368.6,348.3 372.5,353.7 376.3,357.3 380.2,358.6 384.0,358.5 387.9,355.6 391.7,353.3 395.6,351.8 399.4,350.6 403.3,349.5 407.1,348.6 411.0,347.7 414.8,347.0 418.7,346.2 422.5,345.5 426.4,344.9 430.2,344.2 434.1,343.7 437.9,343.1" stroke="#0000ff"/><polyline points="284.0,293.1 287.8,296.3 291.7,299.5 295.5,303.2 299.4,307.1 303.2,309.0 307.1,308.5 310.9,305.1 314.8,300.8 318.6,299.7 322.5,301.6 326.3,305.9 330.2,309.8 334.0,309.3 337.9,306.2 341.7,303.0 345.6,304.3 349.4,308.8 353.3,320.7 357.1,331.5 360.9,340.9 364.8,347.5 368.6,352.3 372.5,355.5 376.3,357.5 380.2,358.2 384.0,358.4 387.9,355.8 391.7,353.8 395.6,352.4 399.4,351.3 403.3,350.4 407.1,349.5 411.0,348.7 414.8,348.0 418.7,347.4 422.5,346.7 426.4,346.1 430.2,345.6 434.1,345.0 437.9,344.5" stroke="#0000ff"/><polyline points="284.0,265.9 287.8,271.5 291.7,276.0 295.5,279.9 299.4,282.8 303.2,282.2 307.1,278.5 310.9,271.8 314.8,265.0 318.6,263.7 322.5,266.5 326.3,272.0 330.2,276.4 334.0,273.1 337.9,265.8 341.7,258.4 345.6,258.4 349.4,264.5 353.3,285.4 357.1,306.2 360.9,325.4 364.8,338.9 368.6,348.0 372.5,353.8 376.3,357.2 380.2,358.7 384.0,358.6 387.9,357.1 391.7,356.1 395.6,355.5 399.4,355.0 403.3,354.5 407.1,354.1 411.0,353.7 414.8,353.4 418.7,353.1 422.5,352.8 426.4,352.5 430.2,352.3 434.1,352.0 437.9,351.8" stroke="#ff0000"/><polyline points="284.0,295.5 287.8,298.6 291.7,301.4 295.5,303.5 299.4,304.8 303.2,304.4 307.1,303.2 310.9,301.6 314.8,300.3 318.6,301.5 322.5,304.1 326.3,307.1 330.2,309.1 334.0,307.9 337.9,305.3 341.7,303.8 345.6,306.5 349.4,311.9 353.3,323.6 357.1,334.4 360.9,343.4 364.8,349.6 368.6,353.8 372.5,356.3 376.3,357.6 380.2,358.3 384.0,358.4 387.9,354.6 391.7,351.5 395.6,349.5 399.4,347.8 403.3,346.4 407.1,345.1 411.0,343.9 414.8,342.9 418.7,341.9 422.5,340.9 426.4,340.0 430.2,339.2 434.1,338.4 437.9,337.6" stroke="#ff0000"/><polyline points="284.0,297.0 287.8,299.7 291.7,302.0 295.5,303.7 299.4,304.3 303.2,302.1 307.1,297.9 310.9,292.6 314.8,288.4 318.6,289.2 322.5,292.4 326.3,296.3 330.2,298.2 334.0,293.5 337.9,286.1 341.7,280.4 345.6,282.1 349.4,289.0 353.3,306.9 357.1,322.4 360.9,335.1 364.8,343.8 368.6,350.4 372.5,355.1 376.3,357.8 380.2,358.7 384.0,358.6 387.9,356.1 391.7,354.2 395.6,353.0 399.4,352.0 403.3,351.2 407.1,350.4 411.0,349.7 414.8,349.1 418.7,348.5 422.5,348.0 426.4,347.4 430.2,346.9 434.1,346.4 437.9,346.0" stroke="#0000ff"/><polyline points="284.0,286.2 287.8,291.4 291.7,295.9 295.5,300.1 299.4,303.5 303.2,303.1 307.1,299.8 310.9,293.7 314.8,287.8 318.6,288.3 322.5,292.6 326.3,298.2 330.2,301.1 334.0,295.7 337.9,287.8 341.7,282.1 345.6,285.4 349.4,294.3 353.3,311.9 357.1,325.2 360.9,336.9 364.8,345.0 368.6,350.9 372.5,355.0 376.3,357.4 380.2,358.4 384.0,358.4 387.9,357.1 391.7,356.1 395.6,355.5 399.4,355.0 403.3,354.5 407.1,354.1 411.0,353.8 414.8,353.4 418.7,353.1 422.5,352.8 426.4,352.5 430.2,352.3 434.1,352.0 437.9,351.8" stroke="#0000ff"/><polyline points="284.0,292.4 287.8,297.4 291.7,301.2 295.5,304.2 299.4,305.7 303.2,303.3 307.1,297.8 310.9,290.0 314.8,282.5 318.6,281.7 322.5,285.1 326.3,290.5 330.2,294.0 334.0,289.1 337.9,280.5 341.7,273.2 345.6,274.8 349.4,282.6 353.3,302.4 357.1,318.7 360.9,332.4 364.8,341.9 368.6,349.1 372.5,354.4 376.3,357.6 380.2,358.7 384.0,358.6 387.9,357.6 391.7,357.0 395.6,356.6 399.4,356.4 403.3,356.1 407.1,355.9 411.0,355.7 414.8,355.5 418.7,355.3 422.5,355.1 426.4,355.0 430.2,354.8 434.1,354.7 437.9,354.5" stroke="#0000ff"/><polyline points="284.0,318.1 287.8,320.5 291.7,322.6 295.5,324.2 299.4,324.8 303.2,323.6 307.1,321.2 310.9,319.3 314.8,318.9 318.6,321.7 322.5,325.0 326.3,327.6 330.2,329.0 334.0,326.2 337.9,321.8 341.7,318.1 345.6,318.6 349.4,322.0 353.3,331.3 357.1,338.7 360.9,344.5 364.8,348.7 368.6,352.5 372.5,355.5 376.3,357.5 380.2,358.4 384.0,358.4 387.9,358.1 391.7,357.9 395.6,357.8 399.4,357.8 403.3,357.7 407.1,357.6 411.0,357.6 414.8,357.6 418.7,357.5 422.5,357.5 426.4,357.4 430.2,357.4 434.1,357.4 437.9,357.3" stroke="#0000ff"/><polyline points="284.0,265.6 287.8,271.0 291.7,275.8 295.5,280.0 299.4,283.4 303.2,284.6 307.1,284.2 310.9,282.6 314.8,281.6 318.6,283.9 322.5,288.1 326.3,293.3 330.2,297.4 334.0,296.8 337.9,293.8 341.7,290.7 345.6,291.7 349.4,296.4 353.3,309.7 357.1,322.7 360.9,334.6 364.8,343.3 368.6,349.7 372.5,354.2 376.3,357.0 380.2,358.1 384.0,358.4 387.9,356.9 391.7,355.8 395.6,355.1 399.4,354.5 403.3,353.9 407.1,353.5 411.0,353.1 414.8,352.7 418.7,352.3 422.5,352.0 426.4,351.7 430.2,351.3 434.1,351.1 437.9,350.8" stroke="#ff0000"/><polyline points="284.0,294.6 287.8,299.5 291.7,303.8 295.5,308.2 299.4,311.8 303.2,311.3 307.1,307.0 310.9,299.3 314.8,291.7 318.6,290.9 322.5,294.3 326.3,299.4 330.2,301.8 334.0,295.4 337.9,286.1 341.7,278.9 345.6,281.2 349.4,289.8 353.3,309.0 357.1,324.3 360.9,337.5 364.8,346.4 368.6,352.4 372.5,356.1 376.3,358.0 380.2,358.7 384.0,358.5 387.9,357.8 391.7,357.5 395.6,357.3 399.4,357.1 403.3,357.0 407.1,356.8 411.0,356.7 414.8,356.6 418.7,356.5 422.5,356.4 426.4,356.3 430.2,356.2 434.1,356.1 437.9,356.0" stroke="#0000ff"/><polyline points="284.0,278.9 287.8,284.5 291.7,288.8 295.5,291.8 299.4,293.3 303.2,292.8 307.1,291.4 310.9,289.4 314.8,287.7 318.6,289.2 322.5,292.5 326.3,296.8 330.2,300.3 334.0,299.5 337.9,296.3 341.7,293.7 345.6,295.8 349.4,301.4 353.3,314.5 357.1,327.8 360.9,340.4 364.8,349.2 368.6,354.3 372.5,356.8 376.3,357.9 380.2,358.2 384.0,358.4 387.9,354.7 391.7,351.7 395.6,349.7 399.4,348.0 403.3,346.6 407.1,345.4 411.0,344.3 414.8,343.2 418.7,342.2 422.5,341.3 426.4,340.4 430.2,339.6 434.1,338.8 437.9,338.0" stroke="#ff0000"/><polyline points="284.0,311.9 287.8,315.8 291.7,319.3 295.5,322.6 299.4,325.1 303.2,324.3 307.1,320.7 310.9,314.2 314.8,307.2 318.6,305.7 322.5,308.3 326.3,313.1 330.2,316.0 334.0,311.7 337.9,304.8 341.7,298.3 345.6,298.2 349.4,302.9 353.3,316.2 357.1,326.9 360.9,336.9 364.8,344.3 368.6,350.0 372.5,354.4 376.3,357.4 380.2,358.6 384.0,358.5 387.9,358.6 391.7,359.0 395.6,359.2 399.4,359.4 403.3,359.6 407.1,359.7 411.0,359.9 414.8,360.0 418.7,360.1 422.5,360.2 426.4,360.3 430.2,360.4 434.1,360.5 437.9,360.6" stroke="#ff0000"/></g>
<line x1="272.5" y1="358.2" x2="276.0" y2="358.2" stroke="#333" stroke-width="1.2"/>
<text x="271.4" y="362.2" font-size="8.9" text-anchor="end" fill="#2a2a2a" style="font-family:'DejaVu Sans','Liberation Sans',sans-serif"  stroke="#2a2a2a" stroke-width="0.28">0.00</text>
<line x1="272.5" y1="338.2" x2="276.0" y2="338.2" stroke="#333" stroke-width="1.2"/>
<text x="271.4" y="342.2" font-size="8.9" text-anchor="end" fill="#2a2a2a" style="font-family:'DejaVu Sans','Liberation Sans',sans-serif"  stroke="#2a2a2a" stroke-width="0.28">0.25</text>
<line x1="272.5" y1="318.2" x2="276.0" y2="318.2" stroke="#333" stroke-width="1.2"/>
<text x="271.4" y="322.2" font-size="8.9" text-anchor="end" fill="#2a2a2a" style="font-family:'DejaVu Sans','Liberation Sans',sans-serif"  stroke="#2a2a2a" stroke-width="0.28">0.50</text>
<line x1="272.5" y1="298.2" x2="276.0" y2="298.2" stroke="#333" stroke-width="1.2"/>
<text x="271.4" y="302.2" font-size="8.9" text-anchor="end" fill="#2a2a2a" style="font-family:'DejaVu Sans','Liberation Sans',sans-serif"  stroke="#2a2a2a" stroke-width="0.28">0.75</text>
<line x1="272.5" y1="278.2" x2="276.0" y2="278.2" stroke="#333" stroke-width="1.2"/>
<text x="271.4" y="282.2" font-size="8.9" text-anchor="end" fill="#2a2a2a" style="font-family:'DejaVu Sans','Liberation Sans',sans-serif"  stroke="#2a2a2a" stroke-width="0.28">1.00</text>
<line x1="272.5" y1="258.2" x2="276.0" y2="258.2" stroke="#333" stroke-width="1.2"/>
<text x="271.4" y="262.2" font-size="8.9" text-anchor="end" fill="#2a2a2a" style="font-family:'DejaVu Sans','Liberation Sans',sans-serif"  stroke="#2a2a2a" stroke-width="0.28">1.25</text>
<line x1="272.5" y1="238.2" x2="276.0" y2="238.2" stroke="#333" stroke-width="1.2"/>
<text x="271.4" y="242.2" font-size="8.9" text-anchor="end" fill="#2a2a2a" style="font-family:'DejaVu Sans','Liberation Sans',sans-serif"  stroke="#2a2a2a" stroke-width="0.28">1.50</text>
<line x1="284.0" y1="376.0" x2="284.0" y2="379.5" stroke="#333" stroke-width="1.2"/>
<text x="284.0" y="387.2" font-size="8.9" text-anchor="middle" fill="#2a2a2a" style="font-family:'DejaVu Sans','Liberation Sans',sans-serif"  stroke="#2a2a2a" stroke-width="0.28">500</text>
<line x1="322.5" y1="376.0" x2="322.5" y2="379.5" stroke="#333" stroke-width="1.2"/>
<text x="322.475" y="387.2" font-size="8.9" text-anchor="middle" fill="#2a2a2a" style="font-family:'DejaVu Sans','Liberation Sans',sans-serif"  stroke="#2a2a2a" stroke-width="0.28">550</text>
<line x1="360.9" y1="376.0" x2="360.9" y2="379.5" stroke="#333" stroke-width="1.2"/>
<text x="360.95" y="387.2" font-size="8.9" text-anchor="middle" fill="#2a2a2a" style="font-family:'DejaVu Sans','Liberation Sans',sans-serif"  stroke="#2a2a2a" stroke-width="0.28">600</text>
<line x1="399.4" y1="376.0" x2="399.4" y2="379.5" stroke="#333" stroke-width="1.2"/>
<text x="399.425" y="387.2" font-size="8.9" text-anchor="middle" fill="#2a2a2a" style="font-family:'DejaVu Sans','Liberation Sans',sans-serif"  stroke="#2a2a2a" stroke-width="0.28">650</text>
<line x1="437.9" y1="376.0" x2="437.9" y2="379.5" stroke="#333" stroke-width="1.2"/>
<text x="437.9" y="387.2" font-size="8.9" text-anchor="middle" fill="#2a2a2a" style="font-family:'DejaVu Sans','Liberation Sans',sans-serif"  stroke="#2a2a2a" stroke-width="0.28">700</text>
<rect x="276.0" y="225.0" width="170.5" height="151.0" fill="none" stroke="#444" stroke-width="1.25"/>
<text x="361.25" y="398.2" font-size="9.7" text-anchor="middle" fill="#222" style="font-family:'DejaVu Sans','Liberation Sans',sans-serif"  stroke="#222" stroke-width="0.28">Wavelength, nm</text>
<text x="248.7" y="302.3" font-size="10.1" text-anchor="middle" fill="#2a2a2a" style="font-family:'DejaVu Sans','Liberation Sans',sans-serif" transform="rotate(-90 248.7 302.3)" stroke="#2a2a2a" stroke-width="0.28">OD</text>
<text x="361.25" y="221.5" font-size="9.7" text-anchor="middle" fill="#222" style="font-family:'DejaVu Sans','Liberation Sans',sans-serif"  stroke="#222" stroke-width="0.28">Tissue site: finger nail</text>
<rect x="289.5" y="406.5" width="137.5" height="32.5" rx="2" fill="#fff" stroke="#ddd" stroke-width="0.8"/>
<line x1="293" y1="415" x2="314" y2="415" stroke="#ff0000" stroke-opacity="0.45" stroke-width="1"/>
<line x1="293" y1="429.6" x2="314" y2="429.6" stroke="#0000ff" stroke-opacity="0.45" stroke-width="1"/>
<text x="322" y="419.2" font-size="9.85" text-anchor="start" fill="#222" style="font-family:'DejaVu Sans','Liberation Sans',sans-serif"  stroke="#222" stroke-width="0.28">Blood Hb &#8201;&#8805;&#8201; 120 g/L</text>
<text x="322" y="433.8" font-size="9.85" text-anchor="start" fill="#222" style="font-family:'DejaVu Sans','Liberation Sans',sans-serif"  stroke="#222" stroke-width="0.28">Blood Hb &lt; 120 g/L</text>
<defs>
<linearGradient id="pbg" x1="0" y1="0" x2="1" y2="1"><stop offset="0" stop-color="#f9fcfd"/><stop offset="0.6" stop-color="#f1f7f8"/><stop offset="1" stop-color="#e6f1f3"/></linearGradient>
<linearGradient id="fing" x1="0" y1="0" x2="0" y2="1"><stop offset="0" stop-color="#c8a892"/><stop offset="0.25" stop-color="#dbbfaa"/><stop offset="0.65" stop-color="#d5b7a1"/><stop offset="1" stop-color="#b0907c"/></linearGradient>
<linearGradient id="nailh" x1="0" y1="0" x2="1" y2="0"><stop offset="0" stop-color="#dcb8ac"/><stop offset="0.35" stop-color="#e8cdc4"/><stop offset="0.8" stop-color="#f1e0da"/><stop offset="1" stop-color="#ecd8d0"/></linearGradient>
<radialGradient id="nailg" cx="0.45" cy="0.5" r="0.6"><stop offset="0" stop-color="#f3e2da"/><stop offset="0.7" stop-color="#ebd0c6"/><stop offset="1" stop-color="#d8b4a4"/></radialGradient>
<clipPath id="pclip"><rect x="474" y="34" width="208.5" height="166.5"/></clipPath>
<filter id="bl1" x="-20%" y="-20%" width="140%" height="140%"><feGaussianBlur stdDeviation="0.8"/></filter>
<filter id="bl2" x="-20%" y="-20%" width="140%" height="140%"><feGaussianBlur stdDeviation="1.6"/></filter>
</defs>
<g clip-path="url(#pclip)">
<rect x="474" y="34" width="209" height="167" fill="url(#pbg)"/>
<g filter="url(#bl2)" opacity="0.25"><path d="M470,191 L526,183 L562,175 L578,166 L470,166 Z" fill="#9aa8aa"/></g>
<path d="M468,38.3 C500,37.5 528,38 546,42.5 C558,46 565,52 565,59 C565,65 559,69 550,69.5 L468,69.5 Z" fill="url(#fing)" stroke="#a88262" stroke-width="0.8"/>
<path d="M468,68 L560,68 C575,69 590,72 597,79 C602,85 602,94 598,99 C593,103.5 585,104.5 575,104.5 L468,105 Z" fill="url(#fing)" stroke="#a88262" stroke-width="0.8"/>
<path d="M468,104 L575,104 C590,104 601,108 605,114 C609,121 608,129 603,133 C597,137.5 588,138 575,139 C550,141 520,143 468,145.5 Z" fill="url(#fing)" stroke="#a88262" stroke-width="0.8"/>
<path d="M468,145 C500,143 530,141.5 552,141.5 C568,141.5 576,146 578.5,153 C580,160 576,166 568,169 C550,175 525,180 468,189 Z" fill="url(#fing)" stroke="#a88262" stroke-width="0.8"/>
<linearGradient id="kdark" x1="0" y1="0" x2="1" y2="0"><stop offset="0" stop-color="#6a4a30" stop-opacity="0.16"/><stop offset="1" stop-color="#6a4a30" stop-opacity="0"/></linearGradient>
<path d="M474,69 L512,69 L512,187 L474,189 Z" fill="url(#kdark)"/>
<g stroke="#96745a" stroke-width="1" fill="none" opacity="0.65" filter="url(#bl1)">
<path d="M478,72 q3,14 -1,29"/>
<path d="M483,72 q3,14 -1,29"/>
<path d="M488,72 q3,14 -1,29"/>
<path d="M493,72 q3,14 -1,29"/>
<path d="M498,72 q3,14 -1,29"/>
<path d="M503,72 q3,14 -1,29"/>
<path d="M477,108 q3,15 -1,32"/>
<path d="M482,108 q3,15 -1,32"/>
<path d="M487,108 q3,15 -1,32"/>
<path d="M492,108 q3,15 -1,32"/>
<path d="M497,108 q3,15 -1,32"/>
<path d="M479,150 q3,15 -1,33"/>
<path d="M485,150 q3,15 -1,33"/>
<path d="M491,150 q3,15 -1,33"/>
<path d="M516,40 q3,12 0,24"/><path d="M522,40 q3,12 0,25"/><path d="M528,41 q3,10 0,23"/><path d="M534,43 q2,10 0,21"/>
<path d="M540,72 q3,14 0,28"/><path d="M546,72 q3,14 0,28"/><path d="M530,108 q3,14 0,30"/><path d="M536,108 q3,14 0,30"/><path d="M515,146 q3,14 0,32"/><path d="M521,145 q3,14 0,31"/>
</g>
<g filter="url(#bl1)" fill="none" stroke="#8c6c58" stroke-width="1.3" opacity="0.75">
<path d="M474,68.8 C510,68.5 540,69 556,69.2"/>
<path d="M474,104.4 C520,104.3 560,104 578,104.5"/>
<path d="M474,145 C505,143.5 530,142.3 552,141.8"/>
</g>
<path d="M541.0,51 L554.25,51 A8.25,8.25 0 0 1 554.25,67.5 L541.0,67.5 Q538.5,67.5 538.5,64.5 L538.5,54 Q538.5,51 541.0,51 Z" fill="url(#nailh)" stroke="#c9a091" stroke-width="0.6"/>
<path d="M575.5,79 L587.75,79 A10.25,10.25 0 0 1 587.75,99.5 L575.5,99.5 Q573,99.5 573,96.5 L573,82 Q573,79 575.5,79 Z" fill="url(#nailh)" stroke="#c9a091" stroke-width="0.6"/>
<path d="M580.5,108 L593.5,108 A11.5,11.5 0 0 1 593.5,131 L580.5,131 Q578,131 578,128 L578,111 Q578,108 580.5,108 Z" fill="url(#nailh)" stroke="#c9a091" stroke-width="0.6"/>
<path d="M553.5,145.5 L564.75,145.5 A9.75,9.75 0 0 1 564.75,165 L553.5,165 Q551,165 551,162 L551,148.5 Q551,145.5 553.5,145.5 Z" fill="url(#nailh)" stroke="#c9a091" stroke-width="0.6"/>
<circle cx="649.5" cy="94.2" r="4.8" fill="#e0302c" filter="url(#bl1)"/>
<path d="M611,120 L627,118.5 L629,126 L628,133.5 L612,134 Z" fill="#2fa67c" filter="url(#bl1)"/>
<circle cx="677" cy="61.6" r="2.2" fill="#3e464c"/><circle cx="677.2" cy="172.4" r="2.2" fill="#3e464c"/>
<rect x="514" y="80" width="19.799999999999955" height="19" fill="none" stroke="#2626f0" stroke-width="2.2" stroke-linecap="round" stroke-dasharray="0.01 4.7"/>
<rect x="509.5" y="113.5" width="23.5" height="21.0" fill="none" stroke="#2626f0" stroke-width="2.2" stroke-linecap="round" stroke-dasharray="0.01 4.7"/>
<rect x="490" y="155" width="20.5" height="21" fill="none" stroke="#2626f0" stroke-width="2.2" stroke-linecap="round" stroke-dasharray="0.01 4.7"/>
<rect x="571.8" y="77" width="25.700000000000045" height="23" fill="none" stroke="#f01818" stroke-width="2.2" stroke-linecap="round" stroke-dasharray="0.01 4.7"/>
<rect x="575.8" y="106.2" width="29.800000000000068" height="25.299999999999997" fill="none" stroke="#f01818" stroke-width="2.2" stroke-linecap="round" stroke-dasharray="0.01 4.7"/>
<rect x="548.5" y="143.2" width="26.299999999999955" height="22.30000000000001" fill="none" stroke="#f01818" stroke-width="2.2" stroke-linecap="round" stroke-dasharray="0.01 4.7"/>
</g>
<rect x="473.8" y="33.8" width="209" height="166.8" fill="none" stroke="#4a4a4a" stroke-width="1"/>
<text x="482" y="62" font-size="35" text-anchor="start" fill="#111" style="font-family:Carlito,'Liberation Sans',sans-serif" >D</text>
<defs>
<radialGradient id="ng1" cx="0.55" cy="0.55" r="0.62"><stop offset="0" stop-color="#efe0d8"/><stop offset="0.55" stop-color="#e8cec8"/><stop offset="0.85" stop-color="#dfbcb5"/><stop offset="1" stop-color="#cca597"/></radialGradient>
<radialGradient id="nw1" cx="0.5" cy="0.5" r="0.5"><stop offset="0" stop-color="#f4e8df" stop-opacity="0.9"/><stop offset="1" stop-color="#f4e8df" stop-opacity="0"/></radialGradient>
<linearGradient id="sk1" x1="0" y1="0" x2="1" y2="1"><stop offset="0" stop-color="#c9a586"/><stop offset="0.5" stop-color="#cdab8c"/><stop offset="1" stop-color="#c4a080"/></linearGradient>
<linearGradient id="sk2" x1="0" y1="0" x2="1" y2="1"><stop offset="0" stop-color="#ceab8b"/><stop offset="0.5" stop-color="#d6b794"/><stop offset="1" stop-color="#cdab8a"/></linearGradient>
<linearGradient id="sk3" x1="0" y1="0" x2="1" y2="1"><stop offset="0" stop-color="#d0ae8e"/><stop offset="0.6" stop-color="#d6b696"/><stop offset="1" stop-color="#c9a585"/></linearGradient>
<filter id="tb" x="-20%" y="-20%" width="140%" height="140%"><feGaussianBlur stdDeviation="2.5"/></filter>
</defs>
<clipPath id="nc0"><rect x="475" y="235.5" width="61" height="59"/></clipPath>
<g clip-path="url(#nc0)">
<rect x="475" y="235.5" width="61" height="59" fill="#cda596"/>
<rect x="478" y="237.5" width="58" height="54" rx="20" fill="url(#ng1)" filter="url(#tb)"/>
<ellipse cx="484" cy="271.5" rx="6.5" ry="20" fill="url(#nw1)"/>
<ellipse cx="507" cy="279.5" rx="16" ry="11" fill="url(#nw1)" opacity="0.7"/>
</g>
<rect x="475" y="235.5" width="61" height="59" fill="none" stroke="#3c3c3c" stroke-width="1.1"/>
<clipPath id="nc1"><rect x="548" y="235.5" width="61" height="59"/></clipPath>
<g clip-path="url(#nc1)">
<rect x="548" y="235.5" width="61" height="59" fill="#cda596"/>
<rect x="550" y="237.5" width="65" height="55" rx="20" fill="url(#ng1)" filter="url(#tb)"/>
<ellipse cx="557" cy="267.5" rx="6" ry="18" fill="url(#nw1)"/>
<path d="M603,235.5 L609,235.5 L609,243.5 Z" fill="#e8f0ec"/><path d="M604,294.5 L609,294.5 L609,285.5 Z" fill="#e8f0ec"/>
</g>
<rect x="548" y="235.5" width="61" height="59" fill="none" stroke="#3c3c3c" stroke-width="1.1"/>
<clipPath id="nc2"><rect x="620.7" y="235.5" width="61.5" height="59"/></clipPath>
<g clip-path="url(#nc2)">
<rect x="620.7" y="235.5" width="61.5" height="59" fill="#cda596"/>
<rect x="624.7" y="238.5" width="55.5" height="52" rx="22" fill="url(#ng1)" filter="url(#tb)"/>
</g>
<rect x="620.7" y="235.5" width="61.5" height="59" fill="none" stroke="#3c3c3c" stroke-width="1.1"/>
<rect x="472.3" y="316.3" width="62.5" height="59.5" fill="url(#sk1)"/>
<clipPath id="skc0"><rect x="472.3" y="316.3" width="62.5" height="59.5"/></clipPath>
<g clip-path="url(#skc0)" stroke="#a88466" stroke-width="1.2" fill="none" opacity="0.18" filter="url(#bl1)"><path d="M475.3,316.3 q0.1,29.8 -1.0,59.5"/><path d="M484.7,316.3 q-1.8,29.8 3.5,59.5"/><path d="M488.6,316.3 q-0.1,29.8 3.7,59.5"/><path d="M496.9,316.3 q2.7,29.8 0.3,59.5"/><path d="M501.6,316.3 q1.1,29.8 1.5,59.5"/><path d="M507.0,316.3 q-2.4,29.8 3.6,59.5"/><path d="M516.2,316.3 q1.9,29.8 -2.5,59.5"/><path d="M523.7,316.3 q-1.2,29.8 -2.9,59.5"/><path d="M527.7,316.3 q-0.9,29.8 -3.5,59.5"/></g>
<ellipse cx="509.8" cy="349.0" rx="18.8" ry="17.8" fill="#e0c4a4" opacity="0.25" filter="url(#tb)"/>
<rect x="472.3" y="316.3" width="62.5" height="59.5" fill="none" stroke="#3c3c3c" stroke-width="1.1"/>
<rect x="547" y="316.3" width="62.5" height="59.5" fill="url(#sk2)"/>
<clipPath id="skc1"><rect x="547" y="316.3" width="62.5" height="59.5"/></clipPath>
<g clip-path="url(#skc1)" stroke="#a88466" stroke-width="1.2" fill="none" opacity="0.18" filter="url(#bl1)"><path d="M552.4,316.3 q2.2,29.8 -2.4,59.5"/><path d="M557.7,316.3 q2.2,29.8 -1.0,59.5"/><path d="M564.0,316.3 q-1.5,29.8 -0.3,59.5"/><path d="M569.7,316.3 q1.9,29.8 -2.7,59.5"/><path d="M575.1,316.3 q2.4,29.8 -2.6,59.5"/><path d="M583.7,316.3 q1.3,29.8 -1.4,59.5"/><path d="M591.7,316.3 q-1.0,29.8 -2.4,59.5"/><path d="M594.8,316.3 q2.4,29.8 -2.3,59.5"/><path d="M604.6,316.3 q-0.3,29.8 3.5,59.5"/></g>
<ellipse cx="584.5" cy="349.0" rx="18.8" ry="17.8" fill="#e0c4a4" opacity="0.25" filter="url(#tb)"/>
<rect x="547" y="316.3" width="62.5" height="59.5" fill="none" stroke="#3c3c3c" stroke-width="1.1"/>
<rect x="621.4" y="316.3" width="62.5" height="59.5" fill="url(#sk3)"/>
<clipPath id="skc2"><rect x="621.4" y="316.3" width="62.5" height="59.5"/></clipPath>
<g clip-path="url(#skc2)" stroke="#a88466" stroke-width="1.2" fill="none" opacity="0.18" filter="url(#bl1)"><path d="M623.7,316.3 q2.1,29.8 3.8,59.5"/><path d="M632.7,316.3 q-2.2,29.8 4.0,59.5"/><path d="M639.6,316.3 q-1.7,29.8 3.8,59.5"/><path d="M643.2,316.3 q-2.2,29.8 -3.9,59.5"/><path d="M651.8,316.3 q-0.6,29.8 -3.3,59.5"/><path d="M657.9,316.3 q2.3,29.8 -3.3,59.5"/><path d="M665.0,316.3 q-2.0,29.8 0.1,59.5"/><path d="M670.3,316.3 q-1.3,29.8 -3.9,59.5"/><path d="M677.7,316.3 q-0.3,29.8 1.5,59.5"/></g>
<ellipse cx="658.9" cy="349.0" rx="18.8" ry="17.8" fill="#e0c4a4" opacity="0.25" filter="url(#tb)"/>
<rect x="621.4" y="316.3" width="62.5" height="59.5" fill="none" stroke="#3c3c3c" stroke-width="1.1"/>
</svg>
</body></html>
